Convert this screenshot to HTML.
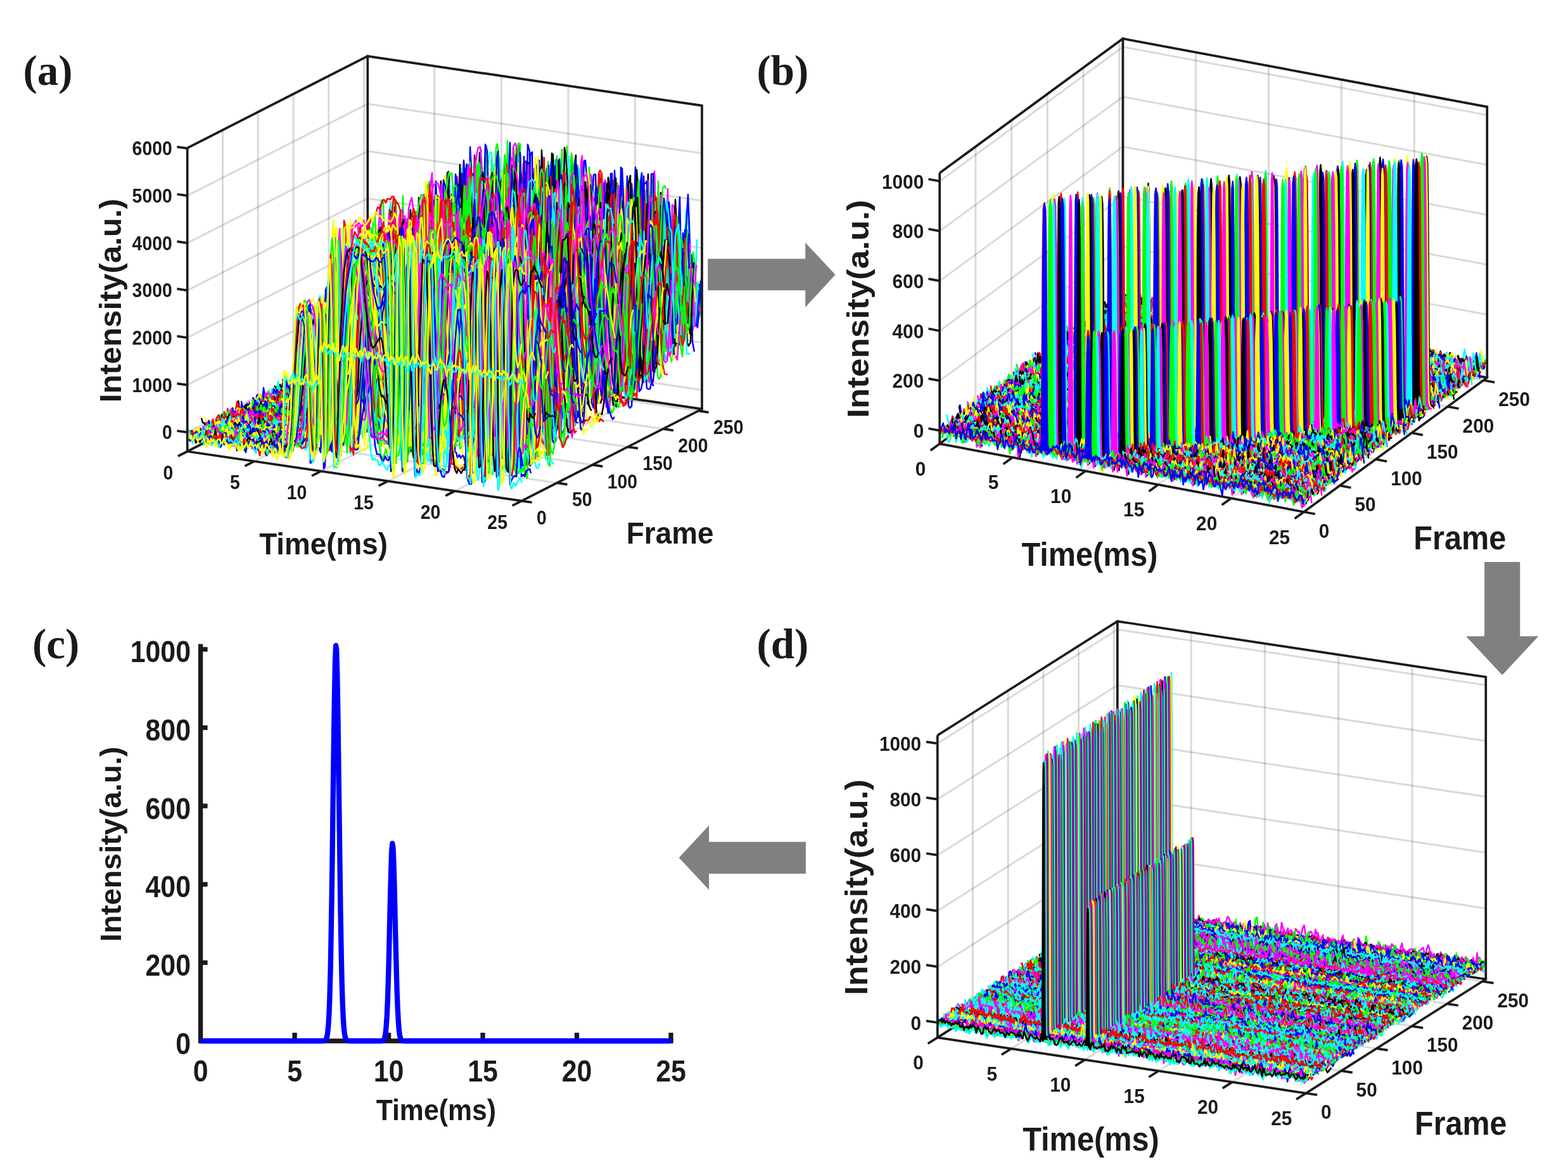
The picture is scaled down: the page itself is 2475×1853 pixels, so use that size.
<!DOCTYPE html>
<html lang="en"><head><meta charset="utf-8"><title>Figure</title>
<style>html,body{margin:0;padding:0;background:#fff}body{width:2475px;height:1853px;overflow:hidden}svg{display:block}
.y{color:#ff0;stroke:#ff0}.m{color:#f0f;stroke:#f0f}.c{color:#0ff;stroke:#0ff}.r{color:#f00;stroke:#f00}.g{color:#0f0;stroke:#0f0}.b{color:#00f;stroke:#00f}.k{color:#000;stroke:#000}
text{white-space:pre}</style></head><body>
<svg width="2475" height="1853" viewBox="0 0 2475 1853">
<rect width="2475" height="1853" fill="#fff"/>
<defs><path id="bn0" d="M0.0 -10.6l1.9 18.9 1.8-14.6 1.9 5.2 1.9 7.1 1.8 1.4 1.9 1.9 1.9-4.1 1.8-6.8 1.9.3 1.9.4 1.8 13.4 1.9 2.9 1.9-17.4 1.8-.7 1.9-5.7 1.9 4.1 1.8 14.3 1.9-9.5 1.9.8 1.8 3.6 1.9 6.7 1.9-2.8 1.8.1 1.9-5.3 1.9 3.2 1.8-6.8 1.9 11.6 1.9-3.4 1.8-1.5 1.9 7.9 1.9 4.1 1.8-11.6 1.9.1 1.9 4.9 1.8-1.9 1.9 5.6 1.9-3.3 1.8 3.8 1.9-2.9 1.9-5.2 1.8 6.6 1.9-4.4 1.9 9.2 1.8-1.1 1.9 5.3 1.9-5.2 1.8-2.5 1.9 1.7 1.9 1.1 1.8-8.6 1.9-2.4 1.9 15.1 1.8-9.4 1.9 13.3 1.9-1.1 1.8-4.2 1.9-2.1 1.9 6.5 1.8.2 1.9-4.7 1.9 3.6 1.8 1.1 1.9-7 1.9-3 1.8 5.5 1.9 1.3 1.9.5 1.8 2.8 1.9 1.3 1.9 3.4 1.8-8.4 1.9 2.1 1.9 1.7 1.8-1.5 1.9-2 1.9-5.1 1.8 8.6 1.9 3.5 1.9-2.9 1.8 5.4 1.9-10.1 1.9-.7 1.8 2.2 1.9 5.2 1.9-3.3 1.8-2.6 1.9 3 1.9 5.5 1.8 9.4 1.9-12.5 1.9 3.9 1.8 5 1.9-8.7 1.9 1 1.8 11 1.9-4.6 1.9-.6 1.8-6.5 1.9 14.9 1.9-4.1 1.8-3.2 1.9-8.8 1.9 12.3 1.8 14.3 1.9-5.8 1.9-11.1 1.8-5 1.9-5.7 1.9 6.6 1.8 9 1.9-7.5 1.9 3 1.8 2.7 1.9-.6 1.9-7 1.8 10.8 1.9 4.1 1.9-4.9 1.8-1 1.9 4.6 1.9 1.8 1.8-6.7 1.9-6.8 1.9 2.5 1.8 1.4 1.9-2.8 1.9 17.8 1.8 2.2 1.9-4.8 1.9 1.9 1.8-.1 1.9-5.9 1.9 6.5 1.8-2.5 1.9 8.2 1.9-3.4 1.8-14.2 1.9 7.7 1.9-1.9 1.8-3 1.9 6.5 1.9-4 1.8.9 1.9-1.8 1.9 7.2 1.8 6.7 1.9-.9 1.9-2.8 1.8-6.5 1.9 3 1.9 2.5 1.8-.6 1.9-7.2 1.8 8 1.9-9 1.9 12.8 1.8.6 1.9-8.7 1.9.2 1.8 8.6 1.9-1.9 1.9 2.6 1.8-7.5 1.9-.1 1.9 7.8 1.8-4.1 1.9 3 1.9-.2 1.8-.8 1.9 3.7 1.9-4.4 1.8-1.2 1.9.5 1.9-3.4 1.8 7.1 1.9 9.1 1.9-3.5 1.8-5 1.9.4 1.9-2.5 1.8-1.7 1.9 5.2 1.9 1.6 1.8 5.3 1.9-9.8 1.9 4.8 1.8 6.8 1.9 1.7 1.9-3.6 1.8-11.7 1.9 2 1.9 15.3 1.8-5 1.9-4 1.9-2.3 1.8 1.5 1.9 6.2 1.9-4.1 1.8 4.3 1.9 11.2 1.9-5.9 1.8-2 1.9-8.9 1.9-2.5 1.8 12 1.9-3.5 1.9-.9 1.8 9 1.9 6 1.9-9.8 1.8-3.7 1.9 4.1 1.9 13.3 1.8-11.8 1.9-.3 1.9 2.9 1.8-2.4 1.9 4.1 1.9-8.1 1.8 1.1 1.9 4.3 1.9-3.5 1.8.9 1.9 9.1 1.9-5.2 1.8.1 1.9 8 1.9-3.9 1.8-7.3 1.9 4.7 1.9-9.6 1.8-4.1 1.9 11.2 1.9-1.6 1.8-9 1.9 11.4 1.9 6.8 1.8-1.5 1.9 5 1.9 1.6 1.8-8.5 1.9 1.7 1.9-2.5 1.8-2 1.9 7.1 1.9-1.1 1.8 0 1.9 2.7 1.9 1.8 1.8-5.9 1.9 1.3 1.9-1.6 1.8-4.1 1.9-.7 1.9 12.3 1.8 1.9 1.9-3.4 1.9-2.6 1.8-4.8 1.9 9.9 1.9.1 1.8-4.2 1.9-6.2 1.9-1.9 1.8 13.6 1.9-.8 1.9 2.6 1.8-8.1 1.9.3 1.9 5.4 1.8 2.9 1.9-4.4 1.9-4.8 1.8 9.3 1.9.3 1.9-2.8 1.8.3 1.9-1.3 1.9 7.4 1.8 0 1.9 8.2 1.9-9.6 1.8-8.4 1.9 16.5 1.9-3.3 1.8-10.3 1.9 4.1 1.9 11.7 1.8-14.4 1.9 10.6 1.9-11.7 1.8 7.4 1.9 3.8 1.9-3.6 1.8-.5 1.9-3 1.9 0 1.8 4.1 1.9-7 1.9 1.7 1.8 3.7 1.9 1.8 1.9 1.8 1.8.6 1.9-3.9 1.9.4 1.8 3.1 1.9-4.6"/>
<path id="bn1" d="M0.0 -2.5l1.9-1.5 1.8 8.8 1.9-1.3 1.9-9.4 1.8 10.1 1.9-6.2 1.9 7.9 1.8-3.7 1.9 5.3 1.9 0 1.8-1.3 1.9.9 1.9-6.5 1.8-.6 1.9.4 1.9 3.3 1.8-5.4 1.9 1.5 1.9 4.2 1.8 7.4 1.9-6 1.9-1.4 1.8 2.9 1.9-1.9 1.9-.6 1.8 5.2 1.9-2.4 1.9.4 1.8.7 1.9 3.4 1.9 1.6 1.8-2.1 1.9-6.3 1.9-5.2 1.8 11.6 1.9 6.5 1.9-2.1 1.8 1.7 1.9-.9 1.9-3.9 1.8 5.4 1.9-5.1 1.9-2.2 1.8-3.1 1.9-1.8 1.9 3.7 1.8-4.5 1.9 11.5 1.9-.1 1.8 0 1.9-.8 1.9-2.6 1.8 5.8 1.9-7.3 1.9 0 1.8 5 1.9.9 1.9 6.7 1.8 8.8 1.9-8.8 1.9-4.2 1.8.3 1.9 6.5 1.9-1.1 1.8-10.4 1.9 2.5 1.9 2 1.8 4.7 1.9-3.3 1.9-3.3 1.8 2.1 1.9 6.2 1.9-1.5 1.8 4.8 1.9-.9 1.9-4.3 1.8 4.4 1.9.2 1.9-7.5 1.8 5.7 1.9-2 1.9 4.1 1.8 5.3 1.9-3.9 1.9.7 1.8 8.2 1.9-1.4 1.9-4.1 1.8-9.1 1.9 7.5 1.9.2 1.8-3.2 1.9 1.1 1.9 3.5 1.8-8.1 1.9-.3 1.9 17.8 1.8-10.7 1.9-1.6 1.9-1.2 1.8 3.9 1.9-2 1.9-5.4 1.8.1 1.9.2 1.9 3.6 1.8 1.8 1.9.4 1.9 9.6 1.8-12.6 1.9 5.7 1.9 2.2 1.8 1.2 1.9-1 1.9 11.6 1.8-7.3 1.9 4.4 1.9.8 1.8 3.9 1.9.7 1.9-10.1 1.8 2.6 1.9-.2 1.9.2 1.8 4.9 1.9-.6 1.9 2.4 1.8-3.3 1.9 7.8 1.9-5.7 1.8-7.5 1.9-2.5 1.9.3 1.8 3.4 1.9 7.8 1.9-6.6 1.8 0 1.9 1.9 1.9 7.3 1.8-5.2 1.9-6.1 1.9 2.3 1.8 5.4 1.9-2 1.9 1.9 1.8.2 1.9-2.9 1.9 1.9 1.8 2.1 1.9-.7 1.9 5.4 1.8 2.5 1.9-6.1 1.8 3.5 1.9-3.6 1.9 9.8 1.8-10.6 1.9 2.8 1.9-6.1 1.8 17 1.9 1.4 1.9-14.4 1.8 2.4 1.9 1.1 1.9 1 1.8.4 1.9-1.4 1.9 6.9 1.8-1.7 1.9-7.2 1.9 3.7 1.8 5.2 1.9-1.9 1.9-4.8 1.8 4.9 1.9 1.7 1.9-2.7 1.8-2 1.9-2.9 1.9 6.9 1.8 0 1.9-3.4 1.9 12.9 1.8-5.6 1.9-3.4 1.9 2.5 1.8 4.4 1.9-5.3 1.9-4.2 1.8 5.6 1.9 3.6 1.9-.4 1.8-7.9 1.9-.3 1.9 6.1 1.8 6.9 1.9 2.3 1.9-3.7 1.8-.7 1.9-2.3 1.9 6 1.8-2.6 1.9-3.8 1.9 9.6 1.8-15.1 1.9 3.6 1.9 2.5 1.8 8.7 1.9 1.2 1.9-9.2 1.8-1.4 1.9 15.5 1.9-12.1 1.8-1.8 1.9 1.3 1.9 8.3 1.8-3.9 1.9 2.7 1.9-3.9 1.8-6.8 1.9 4.3 1.9 0 1.8 6 1.9 5 1.9-3.5 1.8-5.5 1.9-2.7 1.9 6.7 1.8.7 1.9 2.9 1.9 7.1 1.8-6.3 1.9-2.9 1.9 3.5 1.8.1 1.9 7.4 1.9-6.2 1.8-7.7 1.9 5.2 1.9-.9 1.8.3 1.9 6 1.9-2.7 1.8 3.9 1.9-15.3 1.9 8.3 1.8 9.3 1.9 3.8 1.9-12.8 1.8.9 1.9 2.3 1.9 8.6 1.8-1.3 1.9 2.4 1.9-9.4 1.8 5.1 1.9-8.9 1.9 4 1.8 5.7 1.9-6.2 1.9 14 1.8-1.5 1.9-3 1.9-6.8 1.8-1.4 1.9 3.6 1.9 10.8 1.8-2.8 1.9 1.5 1.9-9.6 1.8 5.3 1.9-2.4 1.9-6.5 1.8 7.6 1.9-1 1.9 4.4 1.8-.4 1.9-.1 1.9.5 1.8.1 1.9 2.4 1.9-9.3 1.8 9.1 1.9-.8 1.9 1.8 1.8 9.8 1.9-12 1.9 0 1.8 8.5 1.9-.8 1.9 3.7 1.8-7.3 1.9-7.5 1.9.4 1.8 12.1 1.9 5.2 1.9-9.4 1.8-7.4 1.9 6.4 1.9-2.3 1.8 10.3 1.9-2.7 1.9-3.6 1.8 3.6 1.9.5 1.9-4 1.8 5.2 1.9 3.6"/>
<path id="bn2" d="M0.0 -2.2l1.9 8.4 1.8-6.9 1.9 4.5 1.9-5.8 1.8 2.6 1.9 3.2 1.9 4 1.8-5.2 1.9.3 1.9-11.8 1.8 9.8 1.9 12 1.9-19.8 1.8 21.5 1.9-16.9 1.9 10.7 1.8-10.2 1.9 6.9 1.9-1.8 1.8 2.5 1.9 2.1 1.9-3.6 1.8 6.9 1.9-5 1.9 8.7 1.8.6 1.9-1.7 1.9-2.7 1.8-8.8 1.9 11.5 1.9 3.9 1.8 2.1 1.9-3.9 1.9-7.1 1.8 7.3 1.9-.5 1.9 1.6 1.8-3.6 1.9 12.9 1.9-13.2 1.8-6 1.9 11.3 1.9-1.8 1.8 4.5 1.9-10.7 1.9-.3 1.8-13.8 1.9 16.8 1.9 9.8 1.8-1.2 1.9 4.8 1.9-7.9 1.8-2.7 1.9-3.8 1.9 2.7 1.8 6.5 1.9-9.5 1.9 2.3 1.8-.2 1.9 13 1.9 1.4 1.8-1.5 1.9-1.6 1.9 11.6 1.8-18.7 1.9 4 1.9-4.3 1.8-.9 1.9-4.2 1.9 5.1 1.8 3.1 1.9 8 1.9-3.5 1.8-11.7 1.9 20.6 1.9-.9 1.8-7.7 1.9-10 1.9 15.8 1.8.5 1.9-4.6 1.9-19.9 1.8 21.4 1.9 2.1 1.9-6.6 1.8 8.2 1.9-4.4 1.9-1.6 1.8 5.3 1.9-3 1.9-9.7 1.8 8.5 1.9 6.5 1.9 3.3 1.8-5.5 1.9-6.5 1.9 4.8 1.8.8 1.9-15.2 1.9 18.7 1.8 8 1.9-7.9 1.9 1.3 1.8-4 1.9-5.3 1.9 5 1.8 5.4 1.9-3.4 1.9-.6 1.8 4.2 1.9 4.4 1.9-6.9 1.8 3.9 1.9 7.9 1.9-9.9 1.8 5.2 1.9 2.4 1.9-7.4 1.8 7.8 1.9-1.3 1.9 4.6 1.8 5.2 1.9-10.5 1.9-10.8 1.8 14 1.9-8.9 1.9-2.3 1.8-2.4 1.9 16.4 1.9 1.8 1.8-15.2 1.9 7.6 1.9 2.8 1.8-4.4 1.9-.2 1.9 8.1 1.8 0 1.9-5.7 1.9 1.3 1.8 7.5 1.9-11.1 1.9-.2 1.8 8.7 1.9 3.7 1.9-8.8 1.8 19.6 1.9-10.6 1.9.8 1.8 2 1.9-9.7 1.9 1.6 1.8-16.6 1.9 17.1 1.8 1.9 1.9 10.8 1.9-12.4 1.8 6.8 1.9-2.3 1.9-8 1.8-.7 1.9 5.1 1.9-3.7 1.8 10.2 1.9 6.4 1.9 4.9 1.8-12.2 1.9-12.1 1.9 12.9 1.8 1.9 1.9 1.9 1.9-4.3 1.8 14.1 1.9-13.3 1.9-5.5 1.8 11.4 1.9 5.4 1.9 0 1.8-9.1 1.9-7.8 1.9 14.7 1.8 7.9 1.9-9.4 1.9-3.4 1.8-2.8 1.9 8.8 1.9-6.7 1.8-4.3 1.9 17.5 1.9-3.8 1.8-7.8 1.9-2.1 1.9 8.7 1.8 11.5 1.9-4.9 1.9 2.7 1.8-4.5 1.9-11.1 1.9 8.6 1.8-1.6 1.9 7.6 1.9-11.4 1.8 7 1.9 5.6 1.9-17.9 1.8 5.6 1.9.6 1.9 17.1 1.8-17.5 1.9-7.1 1.9 12 1.8 4.4 1.9 2.4 1.9-9.9 1.8 14.8 1.9-7.6 1.9-13.6 1.8 9.7 1.9-8.5 1.9 10 1.8 5.6 1.9-7 1.9 4.8 1.8.8 1.9 3.4 1.9 6.4 1.8-4.2 1.9-7.7 1.9-3.8 1.8 7.3 1.9-.3 1.9 7.8 1.8-2.5 1.9-1.1 1.9.2 1.8-.9 1.9-1.9 1.9-5.8 1.8 1.9 1.9 2.7 1.9 12 1.8.5 1.9-5.8 1.9-1.4 1.8-3.9 1.9 15.5 1.9-8.2 1.8-2.4 1.9 3.4 1.9 4.1 1.8-5.6 1.9 1.2 1.9-3.1 1.8 15.4 1.9-2.8 1.9-17.2 1.8 4.9 1.9 8.9 1.9-1 1.8 5.9 1.9-15.6 1.9-4.2 1.8 3.9 1.9-.8 1.9 4.6 1.8-4 1.9 3.4 1.9-3.6 1.8 8.3 1.9 3.1 1.9 3.5 1.8.5 1.9 7.4 1.9-16.7 1.8-4.8 1.9 4.6 1.9-.3 1.8 4.9 1.9-.1 1.9 11.8 1.8-5 1.9 9.5 1.9-4.1 1.8-4 1.9-.1 1.9 5.2 1.8-13.6 1.9-1.5 1.9 10.6 1.8 7.3 1.9-3.3 1.9-10 1.8 16.4 1.9-12.5 1.9 2 1.8 3.6 1.9-8.4 1.9 4.5 1.8 4.4 1.9-9.3 1.9 16 1.8-15.7 1.9 11 1.9 4.2 1.8-15.3 1.9-14.7 1.9 11 1.8 17.1 1.9 12.3"/>
<path id="bn3" d="M0.0 -0.7l1.9 3.6 1.8-1.4 1.9 2.8 1.9-7.3 1.8 3.4 1.9 2.3 1.9 11.5 1.8-10.4 1.9 6.4 1.9-9.4 1.8 1.6 1.9 12.4 1.9-6.2 1.8 2.7 1.9-8.1 1.9-1.5 1.8-2.8 1.9 9.6 1.9-4.1 1.8 8.9 1.9-6.4 1.9 1 1.8-1.4 1.9 1.1 1.9-5 1.8 6.4 1.9 1.4 1.9-8.6 1.8 6.2 1.9 5 1.9 3 1.8-4.2 1.9-.6 1.9-3.4 1.8 4 1.9-3.3 1.9 4.4 1.8-8.6 1.9 6.9 1.9-1.4 1.8.9 1.9 10.2 1.9-10.3 1.8 5.1 1.9-5 1.9 14.6 1.8 3.6 1.9 1 1.9-.6 1.8-7.6 1.9-3.6 1.9 5.1 1.8-1.8 1.9 1.3 1.9-7 1.8-1.5 1.9 2.7 1.9-1 1.8-6 1.9 4.7 1.9 13.9 1.8-3.9 1.9-1 1.9-5.7 1.8.7 1.9-1.3 1.9 13.1 1.8-12.6 1.9 4.9 1.9-3.7 1.8 1.5 1.9 8.5 1.9 1.9 1.8-7.5 1.9-4.6 1.9 10.9 1.8 4.5 1.9 5.8 1.9-4.6 1.8-2.2 1.9-2.4 1.9-5.2 1.8 5.2 1.9 5.3 1.9-2.8 1.8-2.4 1.9-1.3 1.9.2 1.8 2.1 1.9-3.3 1.9 4 1.8 5.7 1.9-3.4 1.9-12.1 1.8 12.4 1.9-14 1.9 12.1 1.8-2.3 1.9 11.5 1.9-4.8 1.8-10.2 1.9 12.6 1.9 1.5 1.8-6 1.9-1.3 1.9 10.4 1.8 1.7 1.9-8.5 1.9-1.8 1.8-2.1 1.9 4.7 1.9-2.8 1.8-3.9 1.9 12.9 1.9-8.6 1.8-1.3 1.9-2.2 1.9 8.8 1.8.7 1.9-.8 1.9 3.3 1.8-7.1 1.9 2.6 1.9 8.1 1.8-4.8 1.9 5.9 1.9 4.9 1.8-1.9 1.9-6.2 1.9-1.6 1.8 1.5 1.9-2.9 1.9-8.1 1.8 15.1 1.9-4 1.9-.9 1.8 8.6 1.9-1.4 1.9-4.5 1.8.3 1.9 5.3 1.9-7.2 1.8 1.1 1.9-1.1 1.9-5.4 1.8 14.6 1.9-8 1.9 0 1.8 8.4 1.9-2.2 1.9 1.2 1.8 4.9 1.9-9.4 1.8 6.3 1.9 9.4 1.9-13.5 1.8 3.6 1.9-2.6 1.9.1 1.8 3.4 1.9 1.4 1.9 12.2 1.8-8.3 1.9 1.4 1.9-7.6 1.8 5.2 1.9 1.4 1.9-3.9 1.8 6.1 1.9-.4 1.9-1.4 1.8-4.8 1.9 9.2 1.9-9.2 1.8 2.3 1.9 3.5 1.9-3.7 1.8-4.5 1.9-1.3 1.9 12.1 1.8-9.6 1.9 4.2 1.9-4.8 1.8 11.5 1.9-1.3 1.9-1.2 1.8 6.6 1.9-2.5 1.9-8.1 1.8-2.7 1.9 2.6 1.9 3 1.8 4.8 1.9-12.3 1.9 15.5 1.8 4.2 1.9-2.2 1.9-5.4 1.8 2.5 1.9-5.4 1.9 11.4 1.8-9.5 1.9-8 1.9 3.9 1.8 7.9 1.9 3.6 1.9-8.4 1.8 13.2 1.9-.8 1.9 4 1.8-6.8 1.9-12.5 1.9 10 1.8-4.8 1.9 10 1.9.4 1.8-.2 1.9-8.5 1.9 8.7 1.8 1.8 1.9-3.6 1.9-8.9 1.8 6.3 1.9-7 1.9 5.6 1.8 5.7 1.9-6.4 1.9 7.9 1.8 4.5 1.9-4.8 1.9 7.9 1.8.7 1.9-2.2 1.9-4.7 1.8-6.3 1.9-1.6 1.9 7.5 1.8-.1 1.9 2.7 1.9 7.1 1.8-8.1 1.9 4.1 1.9-6.2 1.8 5.4 1.9 4.6 1.9-6.3 1.8 3.3 1.9 5.7 1.9-11.3 1.8 1 1.9 1.4 1.9 1.6 1.8 4.1 1.9 13.4 1.9-8.7 1.8-3.4 1.9-4.5 1.9 8.6 1.8-7 1.9.3 1.9-6.8 1.8 10.3 1.9-.7 1.9-1.9 1.8-1.9 1.9-3.9 1.9 3.8 1.8 11.7 1.9-13.7 1.9 15.9 1.8-8.9 1.9-6.9 1.9 10.2 1.8-.4 1.9-.3 1.9 6 1.8-6.3 1.9 5.6 1.9-4.9 1.8-2.9 1.9-2.7 1.9-1.7 1.8 5 1.9 1.3 1.9 4.1 1.8.4 1.9-5 1.9-.3 1.8 2.1 1.9 3.4 1.9-4.7 1.8 10.7 1.9 0 1.9-4.5 1.8-5.6 1.9 12 1.9 2.6 1.8.9 1.9-10 1.9-2.7 1.8-3.7 1.9-4.7 1.9 18.3 1.8-.5 1.9 1 1.9 3.7 1.8-5 1.9 2"/>
<path id="bn4" d="M0.0 2.2l1.9 5.9 1.8-8.6 1.9-2.1 1.9 5.5 1.8 10.4 1.9 3.3 1.9-4.2 1.8-9.7 1.9-3.4 1.9 3 1.8 1.1 1.9 13.6 1.9-11 1.8 2 1.9-.4 1.9 3.3 1.8 6.5 1.9-12.4 1.9-1.2 1.8 8.2 1.9 4.6 1.9-3.7 1.8-8.4 1.9.1 1.9 3.3 1.8-3.4 1.9 2.2 1.9 7.6 1.8-6.1 1.9 1.9 1.9 5.1 1.8-8.6 1.9 1.4 1.9 10.8 1.8-8.5 1.9.4 1.9 3.9 1.8 1.6 1.9 3.3 1.9 3.3 1.8-7.9 1.9-2.9 1.9 4.2 1.8-1.6 1.9 2.8 1.9 1.1 1.8-4.1 1.9-.6 1.9-4.4 1.8 8.7 1.9-1.4 1.9 2 1.8-1 1.9-5.4 1.9 3.4 1.8 7.4 1.9.2 1.9.6 1.8-1.1 1.9 2 1.9 0 1.8-1.6 1.9-2.5 1.9 5.6 1.8-2.8 1.9-.6 1.9-3.7 1.8 2.3 1.9-.2 1.9 1.2 1.8-3.7 1.9 5.7 1.9 8.8 1.8-7.2 1.9 4.7 1.9 8.3 1.8-11.6 1.9-.5 1.9-.1 1.8-1.3 1.9 3.2 1.9-5.1 1.8 3.9 1.9 3.4 1.9-.8 1.8 10.2 1.9-9.7 1.9 7 1.8-6.5 1.9.7 1.9 0 1.8 4.5 1.9-10.9 1.9 15.7 1.8-4.5 1.9 1.8 1.9 4.7 1.8-13.8 1.9 2.8 1.9-9.3 1.8 5.8 1.9 3.8 1.9.3 1.8 9.5 1.9 2.8 1.9-13.3 1.8 0 1.9 8.8 1.9-1.9 1.8-1 1.9-5 1.9 3.4 1.8 6.5 1.9-5.8 1.9 5.1 1.8-3.5 1.9 4.7 1.9 14.5 1.8-20.1 1.9 7.1 1.9-6.1 1.8-.2 1.9 6.5 1.9 5 1.8-14.2 1.9 4.9 1.9-2.8 1.8 3.7 1.9-1.5 1.9 3.1 1.8 8.8 1.9-.3 1.9-6.1 1.8 6.8 1.9-2 1.9-1.9 1.8-5.9 1.9-3.7 1.9 18 1.8-7.4 1.9-9.6 1.9 14.3 1.8 2.9 1.9-11.2 1.9 2.5 1.8 5.2 1.9-2.5 1.9-3.2 1.8 2.8 1.9-.3 1.9.8 1.8-.4 1.9 1 1.8-.5 1.9 2.9 1.9-5.2 1.8 5.7 1.9 3.1 1.9 5.2 1.8-1.9 1.9-5 1.9.9 1.8-3.1 1.9 8.1 1.9-.1 1.8 6.4 1.9-6.5 1.9-7.8 1.8 1.2 1.9 5.3 1.9-2.9 1.8.3 1.9 6.4 1.9 2.4 1.8.1 1.9-6.6 1.9-2 1.8 1.1 1.9 3.9 1.9-9.5 1.8 8 1.9-.5 1.9 1 1.8-3.5 1.9 12.8 1.9-7.2 1.8 1.1 1.9.8 1.9 4.9 1.8 0 1.9-9.7 1.9-.3 1.8 12.2 1.9-5.1 1.9 1.9 1.8-6.5 1.9 1.5 1.9-.4 1.8 4 1.9.8 1.9 3.7 1.8 5.4 1.9-3.2 1.9-9.7 1.8-2.4 1.9 11.2 1.9 3 1.8-.2 1.9.4 1.9 2.4 1.8-1.6 1.9-6.8 1.9-1.7 1.8-4.5 1.9 8.4 1.9 12.5 1.8-5 1.9.9 1.9-2.6 1.8 1.4 1.9-7.6 1.9 7.2 1.8-1.6 1.9-9.6 1.9 7.1 1.8 10.8 1.9-10.3 1.9-.7 1.8.5 1.9-.4 1.9 8.3 1.8 2.6 1.9-5.3 1.9 8.1 1.8-1.6 1.9-10.6 1.9 9.9 1.8-4.7 1.9-5.1 1.9 5 1.8 3.6 1.9-7.8 1.9 11.4 1.8-11.3 1.9 9.2 1.9-1.1 1.8 4.8 1.9 1.7 1.9-9.9 1.8 2.3 1.9-.7 1.9 8.8 1.8-2.1 1.9 3.6 1.9-4.6 1.8-3.5 1.9-.5 1.9.2 1.8 6.1 1.9-4.2 1.9 3.8 1.8-7.3 1.9 5.7 1.9-4.5 1.8 6.3 1.9-2.8 1.9 1.3 1.8 9.2 1.9-8.1 1.9 5.6 1.8 6.6 1.9-8.1 1.9-6.9 1.8 1 1.9 8.7 1.9 6.6 1.8 6.2 1.9-8.5 1.9-2.8 1.8-1.6 1.9-7 1.9 5.7 1.8 6.6 1.9 1.6 1.9-.4 1.8-1.3 1.9-4.9 1.9 2.3 1.8-.1 1.9-.8 1.9-.4 1.8-2 1.9-2.8 1.9 10.5 1.8-.5 1.9-1.4 1.9.3 1.8-4.4 1.9-.4 1.9 7.2 1.8-9.4 1.9 3.2 1.9.9 1.8 6.5 1.9-4.9 1.9 4.1 1.8 4.9 1.9-4.2"/>
<path id="bn5" d="M0.0 4.6l1.9-4.9 1.8-2.1 1.9 5.1 1.9-4 1.8-1.7 1.9.2 1.9 3.1 1.8 3.2 1.9-5.3 1.9 5.2 1.8-.9 1.9-2.5 1.9-2.2 1.8 4.6 1.9 1.6 1.9-.5 1.8 1.1 1.9-2.4 1.9-.2 1.8-1.9 1.9 5.8 1.9-.9 1.8 4.6 1.9.5 1.9-6 1.8 4.5 1.9 7.2 1.9-2.8 1.8-.9 1.9 4.7 1.9-5.3 1.8-3.5 1.9 4.3 1.9-3.5 1.8 9.3 1.9-6.5 1.9.5 1.8-6.6 1.9 6 1.9 2.3 1.8.4 1.9 1.4 1.9.8 1.8-3.2 1.9.8 1.9.6 1.8.4 1.9 3.6 1.9-7.5 1.8 7.9 1.9-3.7 1.9 2.4 1.8-2.8 1.9 3.6 1.9-3 1.8 1.2 1.9-1.4 1.9-2.9 1.8 5.6 1.9 2 1.9 8.9 1.8-5.6 1.9-4.6 1.9 3.4 1.8.3 1.9.8 1.9 6.4 1.8-7.4 1.9 3.3 1.9 3.7 1.8-6.9 1.9.4 1.9.3 1.8 1.6 1.9 3.3 1.9-4.1 1.8 4.9 1.9-1.9 1.9 3.5 1.8 1.8 1.9-5.9 1.9 4 1.8-6.2 1.9 8 1.9-5.1 1.8 2.9 1.9-2.1 1.9-.3 1.8 8.8 1.9-5.7 1.9 1.4 1.8 3.2 1.9-5.7 1.9 1 1.8.7 1.9-2.9 1.9.8 1.8 3.7 1.9 4.1 1.9-6.5 1.8 5.5 1.9 5.3 1.9-10.5 1.8-3.2 1.9 12.5 1.9-3.2 1.8 4.6 1.9-4.9 1.9 2.2 1.8 4.4 1.9-6.7 1.9 4.5 1.8-2.4 1.9 2.9 1.9-6.7 1.8.5 1.9 5.9 1.9 7.3 1.8-6.6 1.9 2.6 1.9-5.6 1.8-2.7 1.9 5.2 1.9-1.3 1.8 7 1.9-4.1 1.9-4.8 1.8 9.5 1.9-4.1 1.9.2 1.8-1.3 1.9 2.6 1.9 1.4 1.8-3.7 1.9 3.2 1.9-.2 1.8 6.1 1.9-3.9 1.9-2.1 1.8 2.8 1.9.8 1.9 6.7 1.8-1.2 1.9-3 1.9-.1 1.8-7.9 1.9 2.9 1.9 8.1 1.8-9.5 1.9 9.6 1.9 2.6 1.8-.8 1.9-2.6 1.8-9.1 1.9 7.6 1.9.1 1.8 6.3 1.9-1.3 1.9-10.6 1.8 2.1 1.9 2.6 1.9-1.3 1.8 3 1.9 1.2 1.9 5.8 1.8 3.1 1.9-2.1 1.9-1.4 1.8 1.6 1.9-4.3 1.9-4.7 1.8 5.6 1.9 7.1 1.9.6 1.8-7.6 1.9-.8 1.9 2.5 1.8-.6 1.9-1.6 1.9 3.6 1.8.4 1.9 2.3 1.9 6.4 1.8-5.3 1.9-.9 1.9-1 1.8 3.2 1.9-2.1 1.9-.4 1.8 3.1 1.9 3 1.9-.2 1.8-3.4 1.9-2.3 1.9-3.3 1.8 6 1.9 0 1.9-2.6 1.8 7.3 1.9-3.3 1.9 2.6 1.8 1 1.9-3.6 1.9 2.8 1.8-.7 1.9 4.7 1.9-1.9 1.8 2.2 1.9-.9 1.9-10.9 1.8 7.3 1.9 3.6 1.9 1.1 1.8 1.8 1.9-8.1 1.9 6.7 1.8-8.1 1.9 6.6 1.9-2.4 1.8 2.9 1.9 4 1.9-.6 1.8-5.2 1.9 4.2 1.9 7.7 1.8-11.3 1.9 6 1.9 1.3 1.8-6.2 1.9 9.7 1.9-1 1.8-4.6 1.9-.7 1.9.6 1.8 5.7 1.9-4.9 1.9 3.5 1.8-.6 1.9 3.6 1.9-7.9 1.8 5.3 1.9 1.2 1.9 1.7 1.8-2.5 1.9 5.6 1.9-2.5 1.8-.3 1.9-6 1.9 5.6 1.8 1.5 1.9-.9 1.9-3.1 1.8-3.9 1.9 5 1.9 1.5 1.8-3.7 1.9 4.9 1.9.4 1.8 3.6 1.9-.3 1.9 2.1 1.8-9.5 1.9 2.7 1.9 1.9 1.8 6.4 1.9-2.1 1.9 2.2 1.8 1.1 1.9 2.7 1.9-1.6 1.8-11.8 1.9 8.9 1.9-1.4 1.8-1.7 1.9 1.8 1.9-.3 1.8 6.3 1.9-7.1 1.9-3.8 1.8 7.1 1.9 4.8 1.9 1.5 1.8 2.2 1.9-6 1.9-2.2 1.8-2.9 1.9 10.2 1.9-4.6 1.8-1 1.9 3.9 1.9 3.3 1.8-3.2 1.9-7.5 1.9 11 1.8 1.1 1.9-.5 1.9-1.1 1.8-4.3 1.9 4.8 1.9 8.1 1.8-1.6 1.9-.5 1.9-5.1 1.8-.6 1.9 5 1.9-5.1 1.8 7.7 1.9-3.1"/>
<path id="bn6" d="M0.0 15.2l1.9-17 1.8-7.4 1.9 11.4 1.9-1.6 1.8 12.2 1.9-10.9 1.9 9 1.8-1.7 1.9-8.7 1.9 4.8 1.8 7.7 1.9-6.6 1.9.1 1.8 5.1 1.9 10.8 1.9-11.5 1.8-11.8 1.9 10.2 1.9 2.8 1.8-.3 1.9-6.9 1.9 13.9 1.8-13.9 1.9-14.5 1.9 10.3 1.8 6.8 1.9-1.8 1.9-.8 1.8 6.8 1.9.3 1.9.6 1.8-5.4 1.9-11.9 1.9 11.6 1.8-11.3 1.9 19.6 1.9-6.7 1.8 8.7 1.9-3.4 1.9.4 1.8 15.1 1.9-9.2 1.9-8 1.8-.2 1.9 14.7 1.9 3.6 1.8-16.1 1.9 9.3 1.9-20.8 1.8 8.1 1.9 3.6 1.9 4.3 1.8 6.2 1.9-6.8 1.9 2.2 1.8-12.5 1.9 7.6 1.9 2.4 1.8-6.4 1.9-.6 1.9 24.5 1.8-25.5 1.9 20.2 1.9 3.3 1.8-6.4 1.9 2.9 1.9-19.5 1.8 9.3 1.9 13.2 1.9-3.3 1.8 2.2 1.9.2 1.9-8.4 1.8-3 1.9 5.6 1.9 11 1.8-2.8 1.9-13.4 1.9.4 1.8 7.8 1.9-6.5 1.9 19.1 1.8-3.7 1.9-7.8 1.9-3.3 1.8-6.2 1.9 6.6 1.9.6 1.8 1.1 1.9 10.3 1.9-4.2 1.8-14.3 1.9 2.8 1.9 10 1.8-.2 1.9-14 1.9-1.9 1.8-1.7 1.9 4.4 1.9 12.9 1.8 3.6 1.9 11.7 1.9-19.9 1.8-5 1.9-7.5 1.9 22.2 1.8-13.6 1.9 4.7 1.9 6 1.8.1 1.9 11.3 1.9-5.4 1.8 5.5 1.9-1.9 1.9-6.2 1.8 4.4 1.9-7.7 1.9 9.2 1.8 1.9 1.9.3 1.9-5.8 1.8-1.7 1.9-5.7 1.9 9.3 1.8 5.8 1.9-6.6 1.9-13.6 1.8 4.6 1.9 24.1 1.9-10 1.8.4 1.9-.3 1.9-8.2 1.8 4.5 1.9 3.1 1.9 12.6 1.8-8.6 1.9 2.5 1.9-6.3 1.8-8.2 1.9 14.2 1.9-.9 1.8-7.6 1.9 16.5 1.9-2.5 1.8 4.4 1.9-4.7 1.9-5.5 1.8 1.3 1.9-13.2 1.9 1.9 1.8 6.4 1.9-5.9 1.8-7.9 1.9 17 1.9 3.3 1.8-4.2 1.9-6.4 1.9 23.4 1.8-9.1 1.9-25.4 1.9 15.9 1.8-9.5 1.9-7.8 1.9 12.8 1.8-8.6 1.9 15.3 1.9 19.2 1.8-6.2 1.9-17.8 1.9-13.3 1.8 14.6 1.9 22.3 1.9-8.3 1.8 13.2 1.9-12.4 1.9-16.1 1.8 17.6 1.9 5.2 1.9-3 1.8-1.5 1.9-7.4 1.9.4 1.8-2.4 1.9 13.6 1.9-13.8 1.8.3 1.9 13.8 1.9.6 1.8.6 1.9 9.3 1.9-27 1.8 3.5 1.9 7.5 1.9-7.3 1.8 8.8 1.9 2.9 1.9-11.4 1.8 16.2 1.9 3.9 1.9 6.6 1.8-6 1.9-15.6 1.9 9.5 1.8-13.1 1.9 12.8 1.9-1.5 1.8 9.4 1.9-11.6 1.9-13.8 1.8 16.5 1.9 15.6 1.9-9.2 1.8-9.2 1.9 11.2 1.9-18.9 1.8 20.9 1.9-8.2 1.9-10.4 1.8 7.8 1.9-5.3 1.9 4.8 1.8 9.3 1.9 2.6 1.9-18.2 1.8 25 1.9-8.7 1.9 4.8 1.8-.4 1.9-10.8 1.9 11.7 1.8 9.5 1.9-20.7 1.9-5.8 1.8 10.3 1.9 10.5 1.9 3.1 1.8-10.2 1.9-3.2 1.9-.3 1.8-1.1 1.9 5.5 1.9-3.3 1.8 4.3 1.9-1.6 1.9 4.4 1.8-2.6 1.9 9.3 1.9-3 1.8 6.5 1.9-11.7 1.9 6.3 1.8 3.5 1.9.2 1.9 2 1.8 1.7 1.9-11.9 1.9-2.2 1.8-2.7 1.9 11.8 1.9-3.6 1.8 16.6 1.9-18.3 1.9 10.1 1.8-14.3 1.9.3 1.9-9.9 1.8 10.4 1.9 12.9 1.9-20.2 1.8 1.6 1.9 3.3 1.9-4.5 1.8 13.7 1.9 22.6 1.9-12.2 1.8-1 1.9-8.7 1.9 6.2 1.8-5.4 1.9 9.9 1.9-12.8 1.8.4 1.9 12.2 1.9-13.9 1.8-5.2 1.9 7.5 1.9 11.9 1.8-4.8 1.9.4 1.9 5.3 1.8-1.5 1.9.3 1.9 10.7 1.8-8.1 1.9 5.9 1.9-6 1.8-.3 1.9-7.8 1.9 9.1 1.8-2.1 1.9 12.1 1.9-17.7 1.8-13.1 1.9 16.8 1.9-.2 1.8-2.4 1.9 7"/>
<path id="bn7" d="M0.0 4.1l1.9-2.7 1.8-.7 1.9 4.1 1.9 7 1.8-15.4 1.9 2.4 1.9 8.2 1.8 4.7 1.9-6.1 1.9 4.6 1.8-8.9 1.9 1.1 1.9-1.4 1.8-4.9 1.9 5.3 1.9-1.1 1.8-4.4 1.9 4.1 1.9 21.3 1.8-19.3 1.9.8 1.9-.3 1.8-7.3 1.9 11.2 1.9-1.4 1.8 17.6 1.9-20.8 1.9 5.1 1.8 4.5 1.9.8 1.9-5.7 1.8 16.2 1.9-21.8 1.9 6.2 1.8 5 1.9-9.9 1.9 1.3 1.8 3.9 1.9 11.2 1.9-11.5 1.8 2.8 1.9 9.6 1.9-2.3 1.8-4.1 1.9 6.8 1.9-9.2 1.8 7.6 1.9-7.4 1.9 2 1.8.1 1.9 10.5 1.9-4.8 1.8-5.3 1.9 1.4 1.9 5.9 1.8-3.5 1.9 4 1.9-.5 1.8-9.1 1.9-5.2 1.9-1.2 1.8 8.6 1.9 10.6 1.9.3 1.8-10 1.9 4.9 1.9-8 1.8 11.2 1.9-5.1 1.9 13.8 1.8-2.8 1.9-7.3 1.9-.3 1.8 2.3 1.9 9.9 1.9-6.1 1.8 1.1 1.9 3.6 1.9-5.3 1.8 6.3 1.9.9 1.9-20 1.8 8.3 1.9-2.7 1.9 11.2 1.8 3.1 1.9 6.4 1.9 1.9 1.8 0 1.9-12.1 1.9 7.3 1.8 2.4 1.9-1.6 1.9-9.5 1.8 5.9 1.9-4.7 1.9 10.2 1.8-8.3 1.9 1.9 1.9-3 1.8 11.6 1.9-3.6 1.9-2.3 1.8 4.9 1.9-7.4 1.9 1.7 1.8-2 1.9 7.4 1.9-3.3 1.8 10.3 1.9-11.5 1.9 11 1.8-.8 1.9-6.2 1.9-4.2 1.8 2.5 1.9 16.2 1.9-1.1 1.8-4 1.9-5.4 1.9 7.9 1.8-1 1.9-9.1 1.9.2 1.8-2 1.9.6 1.9 13.5 1.8.6 1.9-8 1.9-3.5 1.8 6.4 1.9-8.7 1.9 9.3 1.8 2.1 1.9-3.7 1.9-2.4 1.8 6 1.9-1.8 1.9 5.7 1.8.2 1.9-16 1.9 15.2 1.8-13.7 1.9 10.5 1.9-8.9 1.8 9.2 1.9 7.5 1.9-5.4 1.8-1.9 1.9-1.6 1.9 8.7 1.8 5.9 1.9-7.7 1.8-.1 1.9 3 1.9-4 1.8-11.1 1.9-1.4 1.9 6.9 1.8-5.3 1.9-5.9 1.9 2.6 1.8 23.7 1.9-.9 1.9-8.9 1.8-6.2 1.9 14.8 1.9-20.2 1.8 14.5 1.9 7.7 1.9 8.8 1.8-19 1.9-5.7 1.9.8 1.8 5.3 1.9.7 1.9 1.8 1.8-11.3 1.9 5 1.9-.1 1.8 19.1 1.9 5.1 1.9-19.6 1.8-.8 1.9 2 1.9 4.8 1.8-1.3 1.9 5 1.9-6.1 1.8 14.9 1.9-8.1 1.9 2.4 1.8 3.3 1.9-3.8 1.9-.9 1.8-.3 1.9-12.5 1.9 17.8 1.8 3.6 1.9-7.1 1.9-1.2 1.8-2.4 1.9-4.2 1.9 3.5 1.8 10.1 1.9-20.3 1.9 9.8 1.8 5.3 1.9.4 1.9 6.9 1.8 1.3 1.9-5.3 1.9-2.8 1.8-2 1.9 11.1 1.9-9.3 1.8 10 1.9-11.8 1.9-14.3 1.8 25.2 1.9-5.5 1.9-6.7 1.8 10.3 1.9-10.8 1.9 18.2 1.8-.7 1.9-9.9 1.9-8.8 1.8 13.4 1.9 10.8 1.9-12.2 1.8-11.4 1.9 6.5 1.9 11.6 1.8 7.5 1.9-28.8 1.9 11.3 1.8 18.8 1.9 4.7 1.9-21.7 1.8-5.7 1.9 10.5 1.9 5.6 1.8-7.9 1.9-2.6 1.9 4.6 1.8 12.6 1.9-8.4 1.9-18.3 1.8 22.3 1.9 4.5 1.9.1 1.8.5 1.9-17 1.9 2 1.8 14.8 1.9 4.6 1.9-7.3 1.8 3.1 1.9-6.4 1.9-.6 1.8 13.6 1.9-21.9 1.9 14 1.8-11.3 1.9 5.7 1.9 6.1 1.8 14.8 1.9-7.2 1.9-15.4 1.8-.9 1.9 13.6 1.9 16.4 1.8-17.7 1.9 6.5 1.9-4.7 1.8 4.8 1.9-15.5 1.9 9.7 1.8-1.5 1.9 1.3 1.9 4.4 1.8-9.1 1.9.6 1.9 1.3 1.8 5.7 1.9-4.8 1.9 10.5 1.8-6.9 1.9 1.6 1.9 21.8 1.8-6.5 1.9-9.8 1.9-20.2 1.8 1.9 1.9 15.7 1.9-9.1 1.8 12.7 1.9-11.5 1.9 7.8 1.8 7.1 1.9 6.5 1.9-8.8 1.8-10.8 1.9 5.8 1.9-22.9 1.8 23.5 1.9-5.8"/>
<path id="bn8" d="M0.0 -1.1l1.9 2.9 1.8 4.4 1.9-9.1 1.9-2.8 1.8 7.7 1.9 5.9 1.9 5.5 1.8-7.3 1.9 10.1 1.9-3.7 1.8-21.3 1.9 16.5 1.9 2.4 1.8-10.4 1.9.9 1.9 6.5 1.8-3.5 1.9 3.2 1.9.1 1.8 6.7 1.9-8.2 1.9.2 1.8 1.9 1.9-1.7 1.9 1.9 1.8 4.4 1.9-2.1 1.9 4.2 1.8 14.4 1.9-7.3 1.9-5.6 1.8-3.5 1.9-2.6 1.9-7.3 1.8-2.6 1.9-.5 1.9 13.2 1.8-5.7 1.9 21.4 1.9-1.3 1.8-21.6 1.9 8.2 1.9 3.4 1.8-3.5 1.9-1.4 1.9 5.8 1.8 0 1.9 9.9 1.9-9.9 1.8-6.7 1.9-.8 1.9 5.5 1.8 6.9 1.9.2 1.9 3.2 1.8 5.6 1.9-12 1.9 5.1 1.8-18.1 1.9 8.8 1.9-4.1 1.8 19.2 1.9-4.3 1.9-9.4 1.8-1.1 1.9 3.5 1.9 0 1.8 9.4 1.9 3.3 1.9-2.1 1.8 6.4 1.9-15.3 1.9 11 1.8 3.5 1.9-5.5 1.9-14.4 1.8 6.9 1.9 1 1.9 2.8 1.8-9.4 1.9 4.6 1.9 16.7 1.8 2.3 1.9-9.9 1.9-2.8 1.8 5.9 1.9-4.3 1.9-8.2 1.8 11.4 1.9-9.8 1.9-3.1 1.8 31.5 1.9-8.6 1.9-13.7 1.8 4 1.9.9 1.9-6.1 1.8-.4 1.9 11.2 1.9 16.1 1.8-18.4 1.9-8.5 1.9 3.4 1.8 2.1 1.9-2.1 1.9 1.5 1.8 9 1.9-4.1 1.9-3.7 1.8 8.3 1.9-2.6 1.9-8.1 1.8-7.5 1.9 7.6 1.9-6.9 1.8 13 1.9 4.8 1.9-10.1 1.8 8.5 1.9 4.6 1.9 5.9 1.8-6.2 1.9.3 1.9 8 1.8 2.2 1.9-11.5 1.9-5.7 1.8 8.7 1.9 4.3 1.9-2.7 1.8 27.5 1.9-18.1 1.9-18.3 1.8-1.5 1.9 11.5 1.9.4 1.8 10.3 1.9-.3 1.9-9.5 1.8 6.2 1.9-16.9 1.9-.4 1.8 5.5 1.9 2.5 1.9 7 1.8-2.7 1.9 13 1.9-14.3 1.8-4.5 1.9-.5 1.9 7 1.8-10.3 1.9 7.9 1.8 2.2 1.9 5.2 1.9 1.2 1.8 8.1 1.9-5 1.9-3 1.8-.8 1.9 6.2 1.9 4.4 1.8-2.9 1.9-4.2 1.9-10.1 1.8 11.9 1.9-5.5 1.9 2.8 1.8 1.7 1.9 4.6 1.9-20.2 1.8 8.5 1.9 5.8 1.9-4.7 1.8 11.1 1.9 2.3 1.9-7.6 1.8 8.1 1.9-4.9 1.9-12.1 1.8 16 1.9-3.4 1.9-7.1 1.8 14.6 1.9-8 1.9-.9 1.8 11.6 1.9-7.3 1.9-7.3 1.8-3 1.9 8.2 1.9-8.6 1.8 5.7 1.9 3.6 1.9 6.7 1.8-.9 1.9-6.9 1.9 2 1.8-7.2 1.9 4.9 1.9 3.9 1.8-15.1 1.9 15.4 1.9-1 1.8-8.2 1.9 6.7 1.9-1.5 1.8-.3 1.9 17.5 1.9-18.1 1.8 8.7 1.9.6 1.9-11.2 1.8 9.7 1.9 2.6 1.9-4 1.8 8 1.9-7 1.9 2.3 1.8 4.3 1.9 4.2 1.9-8.2 1.8 16.2 1.9-5.3 1.9-1 1.8-8.6 1.9-14.5 1.9 9.8 1.8-1.4 1.9 16.3 1.9-12.4 1.8 12.2 1.9 1.5 1.9-3.1 1.8 7.2 1.9-11.6 1.9-5.5 1.8 1.6 1.9 16.1 1.9 7.2 1.8-9.1 1.9-17.3 1.9 22.3 1.8.6 1.9-19.1 1.9.9 1.8.7 1.9 5.5 1.9.4 1.8.9 1.9 3.6 1.9 14.5 1.8-9.6 1.9-12.9 1.9 12.5 1.8-7.8 1.9 3.7 1.9 5.3 1.8-10.4 1.9 6 1.9 10.9 1.8 2.5 1.9-17.1 1.9 1.3 1.8 10.7 1.9-8.1 1.9 2.7 1.8-10.7 1.9 13.9 1.9 8.2 1.8 1.6 1.9-2.4 1.9-2.3 1.8.5 1.9-.8 1.9 3.5 1.8-12 1.9-5.3 1.9 15.5 1.8-13.5 1.9-1.3 1.9-.5 1.8 12.9 1.9 6.8 1.9-15.1 1.8 20.8 1.9-6.6 1.9-1.7 1.8 1.1 1.9 2.2 1.9-3.5 1.8-.5 1.9-2.8 1.9 7.9 1.8-3.7 1.9-5.4 1.9 2.2 1.8 8.8 1.9-.5 1.9-8.3 1.8 3.7 1.9 1.7 1.9-.4 1.8-6.2 1.9 1.1 1.9-19.7 1.8 8.4 1.9 9.4"/>
<path id="bn9" d="M0.0 4.6l1.9-3.8 1.8-5.5 1.9-4.9 1.9 9 1.8 5.8 1.9-3.9 1.9 2.9 1.8 1.6 1.9-5.3 1.9-6.5 1.8 11.6 1.9-12.1 1.9 8.3 1.8 13.1 1.9-10.4 1.9-1.2 1.8-1.3 1.9 13.8 1.9-10.7 1.8-5.3 1.9 13.3 1.9 3.1 1.8-12.7 1.9-11.4 1.9 2 1.8 21.3 1.9-15 1.9 14 1.8-1.6 1.9-.4 1.9-9.9 1.8-1.6 1.9 8.9 1.9-.9 1.8 8.4 1.9-4.4 1.9-10.1 1.8 6.7 1.9 7.1 1.9-10.6 1.8 8.4 1.9-.7 1.9-1.5 1.8.8 1.9 5.5 1.9-1.4 1.8 1.3 1.9-.1 1.9 13.6 1.8-8.2 1.9-3 1.9-10.7 1.8-1.4 1.9 18.9 1.9 2.4 1.8-12.5 1.9.8 1.9 6.3 1.8 3.4 1.9-2.2 1.9 0 1.8 5.2 1.9-9.9 1.9-9.1 1.8 9.3 1.9.4 1.9 14.8 1.8-2.4 1.9 3 1.9-13.7 1.8-6 1.9 13.5 1.9.1 1.8 2.5 1.9-2.6 1.9 6 1.8-12.7 1.9 7.3 1.9 5.1 1.8.4 1.9-4.4 1.9-11.2 1.8 4.1 1.9 2.8 1.9 5.7 1.8 3.2 1.9-7 1.9-5.5 1.8-2.4 1.9 7.4 1.9 10.3 1.8-1.5 1.9-4.6 1.9-2.9 1.8 1.1 1.9-5.4 1.9 1.8 1.8.3 1.9-3.1 1.9 5.4 1.8-4.4 1.9 9 1.9 3.8 1.8-13.3 1.9 7.9 1.9-11.5 1.8 24.2 1.9-8 1.9-4.9 1.8-11.8 1.9 5.8 1.9 12.1 1.8-1.9 1.9 6 1.9 1.4 1.8-7.9 1.9.2 1.9-9.5 1.8 27.9 1.9-9 1.9-10 1.8-5 1.9 7 1.9 3.1 1.8-2.8 1.9-16.1 1.9 10.5 1.8 15.8 1.9 1.9 1.9-7.8 1.8 6.3 1.9-8.3 1.9 1.9 1.8 3.3 1.9-1.6 1.9 10.5 1.8-1.1 1.9-3.8 1.9-2.2 1.8-.8 1.9.2 1.9-13 1.8 21.9 1.9-12.8 1.9.5 1.8 10 1.9-3.3 1.9 3.7 1.8-.6 1.9-4.1 1.9-2 1.8 2.1 1.9-4.4 1.8 14.6 1.9-13.2 1.9 3.2 1.8 10 1.9-12.1 1.9 3.3 1.8 5.2 1.9.2 1.9 2.7 1.8 7.6 1.9-8.2 1.9-4.4 1.8 6 1.9-.7 1.9 15.5 1.8-19.8 1.9 6.4 1.9 6.1 1.8-10.9 1.9-5.8 1.9 4.7 1.8-1.8 1.9 5.1 1.9 4.9 1.8-11.8 1.9 23.1 1.9-1 1.8-8.5 1.9-8.4 1.9 1.9 1.8 4.7 1.9 1.1 1.9-5.3 1.8 5.6 1.9-1.2 1.9-1.1 1.8 9.6 1.9.6 1.9-3 1.8-4.9 1.9-6.2 1.9 11.4 1.8 10.8 1.9-17.6 1.9 12 1.8-11.6 1.9 8.3 1.9 2.9 1.8-3.6 1.9 4.8 1.9-10.2 1.8-1.2 1.9 21.7 1.9-10.5 1.8 5.6 1.9-8 1.9-4.9 1.8 8.3 1.9-3.1 1.9-.2 1.8-2.7 1.9 2.5 1.9 6.9 1.8-8.2 1.9-.4 1.9 15.4 1.8-5.8 1.9 1.8 1.9-4 1.8 14.9 1.9-8.7 1.9-19.4 1.8 18.2 1.9-3.6 1.9-14.3 1.8 6.9 1.9-1.3 1.9 7.2 1.8 10.3 1.9-.1 1.9-10.2 1.8 6.9 1.9-1.7 1.9 2.9 1.8 8.2 1.9 8.7 1.9-21.9 1.8 9.2 1.9 2.4 1.9-8 1.8-.3 1.9 2.2 1.9-4.7 1.8-1.7 1.9 5.9 1.9 5.3 1.8-10.8 1.9 3.9 1.9 5.1 1.8-.5 1.9-9.8 1.9-8.6 1.8 14.3 1.9 5.4 1.9-6 1.8-.9 1.9-2.7 1.9 6.4 1.8 7.6 1.9-11.7 1.9 10.1 1.8 2.4 1.9 1.3 1.9-6 1.8 9.7 1.9-1.1 1.9-17.9 1.8 1.6 1.9 2 1.9 0 1.8-6.5 1.9 16.5 1.9-.3 1.8-6.6 1.9 7.2 1.9-2.3 1.8 5.1 1.9-3.8 1.9-2.1 1.8-2.4 1.9.3 1.9 2.1 1.8 18.9 1.9-11.4 1.9-1.5 1.8.7 1.9 5.7 1.9-8.8 1.8 1.3 1.9 5 1.9-2 1.8-3.4 1.9 9.6 1.9-9.6 1.8 1.7 1.9-1.7 1.9 7.5 1.8 1.8 1.9 4.2 1.9-1 1.8-6.5 1.9.6 1.9-.8 1.8 11.3 1.9-5.7"/>
<path id="bn10" d="M0.0 2.1l1.9-4.7 1.8 6.4 1.9-9.1 1.9 5.1 1.8-1 1.9 1.2 1.9-15.1 1.8 16.7 1.9-11.5 1.9 20.2 1.8-5.7 1.9-7.4 1.9 8.4 1.8-8.2 1.9-6.1 1.9 11.7 1.8 2.7 1.9 3.4 1.9 9.7 1.8-5.4 1.9-8 1.9-3.9 1.8 6.1 1.9 5.2 1.9-1.3 1.8.8 1.9-9.6 1.9 2.6 1.8 21.2 1.9-11.2 1.9-9.7 1.8 22.2 1.9-15.2 1.9-.6 1.8-7.8 1.9 10.5 1.9 1.9 1.8.4 1.9-3.7 1.9-7.9 1.8 4.3 1.9-4 1.9 8.9 1.8 1 1.9-2.6 1.9-3.1 1.8.2 1.9-7.2 1.9 16.7 1.8 1.1 1.9-5.5 1.9-8.5 1.8 6.3 1.9 11 1.9-10.9 1.8 8.5 1.9 1 1.9-11.8 1.8-1.2 1.9 19.2 1.9-18.1 1.8 4.9 1.9 1.8 1.9 28.4 1.8-11.4 1.9-8.7 1.9 3.8 1.8.8 1.9-4.6 1.9-3.1 1.8-1 1.9 13.1 1.9-6.3 1.8 1.6 1.9-22.4 1.9 12.2 1.8 12 1.9-1.7 1.9 11.1 1.8-9.6 1.9-11.2 1.9-2.2 1.8-7.4 1.9 18.2 1.9 10.5 1.8-7 1.9-4 1.9 2.4 1.8-9 1.9 10 1.9-.9 1.8-7.1 1.9 4.6 1.9-6.9 1.8-5.9 1.9 10.1 1.9 14.3 1.8-15.9 1.9 13.8 1.9-.1 1.8 8.1 1.9-1.9 1.9 2 1.8-7.5 1.9 9.4 1.9-.9 1.8-5.5 1.9-14.1 1.9 10.8 1.8 11.8 1.9-1.5 1.9-26.1 1.8 22.1 1.9 8.8 1.9-12.1 1.8-3 1.9-3.1 1.9 16.5 1.8-6.3 1.9 0 1.9-13.8 1.8-.9 1.9 24.8 1.9-16.1 1.8 5.8 1.9.9 1.9 2.1 1.8 11.2 1.9-8.7 1.9 4.4 1.8-8.5 1.9 3.5 1.9-3.8 1.8 8.6 1.9 5.3 1.9-15.4 1.8 14.8 1.9-15.4 1.9-3.5 1.8 8.2 1.9-.1 1.9 7.8 1.8-5.2 1.9 14 1.9-13.1 1.8 1.7 1.9-.4 1.9 12.4 1.8-16.4 1.9-11.6 1.9 12.5 1.8 4.3 1.9-14.9 1.8 8.9 1.9 8.4 1.9 14.9 1.8-22.4 1.9 7 1.9-5.2 1.8-4.3 1.9 4.3 1.9 2.2 1.8 6.5 1.9-3.6 1.9-.5 1.8-.3 1.9 12.9 1.9 1.4 1.8-1.9 1.9-15.7 1.9 3.5 1.8 18.2 1.9-17.9 1.9-6.9 1.8 8.9 1.9-12.8 1.9 7 1.8.6 1.9-4.9 1.9 7.4 1.8 11.2 1.9 4.3 1.9 1.7 1.8-5.5 1.9-.7 1.9 4.1 1.8-18.3 1.9 4.3 1.9 2.5 1.8 5.3 1.9-1.9 1.9 2.5 1.8 5.5 1.9-3.2 1.9 12.6 1.8-6.7 1.9-4.9 1.9-.3 1.8 4.9 1.9-.7 1.9-7 1.8 8.8 1.9 3.9 1.9-17.5 1.8 11.7 1.9 2.7 1.9-.2 1.8-6.9 1.9 4.6 1.9 9.4 1.8 2.9 1.9 3.1 1.9-12.5 1.8 2.3 1.9-6.5 1.9-.5 1.8 9.3 1.9-8.1 1.9 5 1.8-9.1 1.9 2.5 1.9 2.5 1.8-6.6 1.9 10.3 1.9 8.4 1.8-5.9 1.9 3.4 1.9-22.5 1.8 18.3 1.9 6.8 1.9 2.9 1.8-18.8 1.9 20.8 1.9-1.6 1.8-2.7 1.9 1.4 1.9-1.7 1.8-7.8 1.9 15.9 1.9-2.3 1.8-9.6 1.9-2.8 1.9-3.9 1.8 12.1 1.9 15.3 1.9-13.8 1.8-13.4 1.9 8.8 1.9-1.3 1.8 7.4 1.9 3.9 1.9-7.6 1.8 15.3 1.9-12 1.9-1.9 1.8-4.4 1.9 9 1.9-8.2 1.8.3 1.9.7 1.9 13.4 1.8 4.3 1.9 3.8 1.9-10.9 1.8 4.8 1.9-9.3 1.9 5.2 1.8 8.1 1.9-3.9 1.9-7.5 1.8 4 1.9.4 1.9-2.5 1.8 3.6 1.9 3.9 1.9-5 1.8 13.5 1.9-5.6 1.9.6 1.8-4.9 1.9-4.2 1.9 2.5 1.8-1.8 1.9 3.6 1.9 1.7 1.8-7.1 1.9 11.9 1.9 0 1.8-7.5 1.9-2.9 1.9 2.2 1.8 8.2 1.9-4.5 1.9-5 1.8 11.6 1.9-18 1.9 3.9 1.8 17.2 1.9-20.5 1.9 15.2 1.8-8.8 1.9 13.7 1.9-.8 1.8 10.9 1.9-4.5 1.9.7 1.8-8.2 1.9-11.5"/>
<path id="bn11" d="M0.0 10.6l1.9-17 1.8 8.4 1.9-.7 1.9-3.8 1.8-1.5 1.9 7.9 1.9-7.8 1.8 5.6 1.9.6 1.9 13.8 1.8-15 1.9 6.1 1.9 5 1.8-11.7 1.9 3.8 1.9 5.8 1.8-1 1.9.8 1.9 1.4 1.8-8.9 1.9 6.2 1.9-.2 1.8 4.5 1.9 1.7 1.9-1.8 1.8 1.4 1.9-3.4 1.9-7.6 1.8-6.4 1.9 14.3 1.9-5 1.8 6.4 1.9-4.7 1.9 3.5 1.8 3 1.9-1.4 1.9 7.5 1.8 1.3 1.9 6.4 1.9-19.4 1.8-4.7 1.9 8.4 1.9-4.5 1.8 5.1 1.9 7.7 1.9-2.2 1.8 5.9 1.9-5.6 1.9-4.1 1.8.6 1.9 7.8 1.9-4.1 1.8 5.6 1.9.5 1.9 4.8 1.8-9.9 1.9-.9 1.9-1 1.8-5.6 1.9-1.9 1.9 10.4 1.8-4.9 1.9 5.6 1.9 2.9 1.8-2.6 1.9.2 1.9.8 1.8 1.9 1.9-2.8 1.9 11 1.8-11.1 1.9 4.7 1.9 1.5 1.8.9 1.9 3.6 1.9-9 1.8 5.2 1.9 1.2 1.9-5.6 1.8-2.3 1.9 5.9 1.9.8 1.8-2 1.9 1 1.9-.7 1.8 5.6 1.9-1.5 1.9 3.7 1.8-8.3 1.9.2 1.9 1.7 1.8 1.7 1.9 4.4 1.9 5.4 1.8-1.6 1.9-6.7 1.9 5.6 1.8-9.5 1.9 3.5 1.9 6.7 1.8-3.5 1.9-9.7 1.9 7.1 1.8-6.4 1.9 8.8 1.9 6.2 1.8-4.4 1.9 6.5 1.9 4.2 1.8 2.1 1.9-14.8 1.9 4 1.8 11.4 1.9-12.2 1.9 8.6 1.8 0 1.9-10.8 1.9 9 1.8-6.9 1.9 6.2 1.9-1.7 1.8-4.5 1.9 3.6 1.9 1.7 1.8-.7 1.9 8.3 1.9-5.2 1.8-1 1.9-7.2 1.9 7.7 1.8-2.9 1.9 1.5 1.9 10.3 1.8-1.8 1.9-4 1.9-2.5 1.8 5.1 1.9.8 1.9-4.7 1.8-1.2 1.9 5.6 1.9 1.1 1.8-4.8 1.9 6 1.9-3.5 1.8-1.4 1.9 11.8 1.9-13.6 1.8-2.9 1.9 3.5 1.9-.4 1.8 4.8 1.9-2.9 1.8 7.7 1.9 5.7 1.9-6 1.8-2.5 1.9 1.8 1.9 3.1 1.8 1.5 1.9.2 1.9-2.1 1.8 7.3 1.9-6 1.9 0 1.8-4.5 1.9 8.3 1.9-2.9 1.8.4 1.9 1.2 1.9-3.3 1.8-.9 1.9-2.3 1.9-3.3 1.8 1.1 1.9 11.5 1.9 11.9 1.8-8.7 1.9-4 1.9-4.4 1.8.4 1.9.2 1.9 6.6 1.8 4.1 1.9-5.2 1.9-11.1 1.8 10.3 1.9 8.2 1.9-7.8 1.8 1 1.9.8 1.9-4.1 1.8 4.4 1.9 11.3 1.9-3.2 1.8-4.7 1.9-5.9 1.9 6.2 1.8-3.1 1.9-3.8 1.9-2.1 1.8 10.7 1.9-.9 1.9-1.1 1.8 2.2 1.9-8 1.9 7.6 1.8-4.3 1.9 6.4 1.9-4 1.8-4.7 1.9-.4 1.9 8.9 1.8 2.3 1.9-3.6 1.9-3.7 1.8 6 1.9-3.3 1.9 10.9 1.8-5.9 1.9-3.3 1.9 8.7 1.8-2.7 1.9-6.1 1.9 11.3 1.8-1.3 1.9 3.9 1.9-15.7 1.8 13.7 1.9 5.4 1.9-11.3 1.8-2 1.9 8.5 1.9-6.8 1.8-3.6 1.9 8.7 1.9-4.7 1.8-7.5 1.9 9.8 1.9 11.5 1.8-4.8 1.9-15.7 1.9 21.1 1.8-7.1 1.9 1.6 1.9-6.7 1.8 4.3 1.9.1 1.9 3.9 1.8.4 1.9-7.3 1.9-4.5 1.8 1.5 1.9 10.6 1.9 2.6 1.8-2.4 1.9-1.6 1.9 6.5 1.8-.4 1.9-.2 1.9.2 1.8 1.7 1.9-5.8 1.9 7 1.8 2.2 1.9-10.7 1.9 5 1.8 3.9 1.9-1.3 1.9-3.7 1.8-1.7 1.9-5.3 1.9 5.7 1.8 12.6 1.9-5.3 1.9 4.8 1.8-5.4 1.9-1.3 1.9 6.7 1.8-11.5 1.9 1.1 1.9-2.5 1.8 12 1.9-7.8 1.9 1 1.8-2.2 1.9.8 1.9 5.8 1.8 4.6 1.9-5.4 1.9-.7 1.8 8.3 1.9 3.2 1.9-19.8 1.8 10.4 1.9 9.3 1.9 1 1.8-1.5 1.9-5.7 1.9 5.4 1.8-5.8 1.9 4 1.9 6.6 1.8-12.8 1.9-.9 1.9 3.6 1.8-3.7 1.9 6.7"/>
<path id="bn12" d="M0.0 10.9l1.9.4 1.8-12.5 1.9 6.1 1.9-4.1 1.8-4.8 1.9 7.4 1.9 5.8 1.8-3.4 1.9-4.6 1.9-4.8 1.8 1.9 1.9 11.3 1.9-9.9 1.8 10.9 1.9-1.3 1.9.1 1.8 2.5 1.9 7.9 1.9.3 1.8-9.6 1.9.8 1.9-8.7 1.8 5.8 1.9 4.5 1.9-3.9 1.8 7.8 1.9-11 1.9 2.1 1.8-7.2 1.9 14.2 1.9 7.4 1.8 1 1.9-12.1 1.9 2 1.8-3.8 1.9 8.3 1.9 4.5 1.8-2.6 1.9-2.6 1.9-4.4 1.8-10.5 1.9 5.3 1.9.1 1.8 9.5 1.9 4.8 1.9 2.6 1.8-3.6 1.9 2.8 1.9-11.9 1.8 2.2 1.9 12.8 1.9-2 1.8-13.8 1.9 5.2 1.9-1 1.8 2.3 1.9 4 1.9 15.4 1.8-10.2 1.9 5.6 1.9-11.4 1.8-.3 1.9 1.3 1.9-6.6 1.8 3.4 1.9 9.5 1.9-6.8 1.8 3.7 1.9-11.5 1.9 12.6 1.8-1 1.9 3 1.9-1.1 1.8-2.5 1.9-1.8 1.9 10.3 1.8-.5 1.9-7.3 1.9 1.3 1.8 1.9 1.9 7.4 1.9-9.5 1.8 10.1 1.9-11.3 1.9 12.4 1.8-13.7 1.9 6.5 1.9 5.3 1.8-8.7 1.9 7.2 1.9-3.4 1.8-.2 1.9 3.5 1.9 3.5 1.8-2.5 1.9 5.6 1.9-4.6 1.8-6 1.9 7.8 1.9-2.4 1.8.3 1.9 6.4 1.9-5.4 1.8-19.1 1.9 19.8 1.9 6.1 1.8-13.5 1.9-4.1 1.9 4.5 1.8 6.2 1.9 2.4 1.9.7 1.8-2.9 1.9 7.4 1.9-1.1 1.8 6.7 1.9-7.5 1.9 10.4 1.8-10.8 1.9 4.3 1.9-.6 1.8-15.5 1.9 14.8 1.9 4.8 1.8-6.9 1.9.6 1.9-3.9 1.8 1.4 1.9.6 1.9-4.5 1.8 9.8 1.9 1.3 1.9-5.1 1.8 2.1 1.9 6.7 1.9 10.8 1.8-14 1.9-1 1.9 6.2 1.8-4.4 1.9-6.9 1.9 10.4 1.8-4 1.9 3.8 1.9.3 1.8 2.9 1.9-.9 1.9-4.3 1.8.4 1.9-1.3 1.9.9 1.8-2.4 1.9-2.6 1.8 5.3 1.9-.7 1.9-.2 1.8.8 1.9 4.4 1.9 1.2 1.8 1.5 1.9-7.4 1.9 2.5 1.8 1.6 1.9 5.7 1.9-3.7 1.8-4 1.9 12 1.9-5.5 1.8-9.1 1.9 13.2 1.9.7 1.8-7.9 1.9-8.6 1.9 11.6 1.8-2.2 1.9 12.8 1.9 2.2 1.8-6.8 1.9-4.2 1.9 5.7 1.8-8.9 1.9 4.3 1.9 13.1 1.8-10.8 1.9-2.7 1.9.1 1.8 12.5 1.9 0 1.9-7.4 1.8 2.9 1.9-11.2 1.9 12.7 1.8 4.6 1.9-12.9 1.9-9.4 1.8 1.6 1.9 18 1.9-5.4 1.8 10.9 1.9-14.6 1.9 9.3 1.8-.3 1.9 5 1.9-13.9 1.8 15.4 1.9-7.1 1.9-2.8 1.8-.3 1.9 7 1.9 3.1 1.8-3.6 1.9-1.1 1.9-1 1.8 1.9 1.9 3.1 1.9 2.5 1.8-4 1.9-4.1 1.9 9.1 1.8-2.5 1.9-6.4 1.9 5.9 1.8-1.2 1.9 2.7 1.9.7 1.8-1.3 1.9 6.8 1.9-1.3 1.8 4.6 1.9-4.2 1.9-9.4 1.8 4.2 1.9-8.1 1.9 4.6 1.8 12.3 1.9-8.9 1.9.9 1.8-1 1.9.1 1.9 5.5 1.8 2.7 1.9-1.1 1.9.1 1.8-8 1.9 1.9 1.9 3.5 1.8 6.2 1.9-11.4 1.9.5 1.8-2.8 1.9 10 1.9-12.9 1.8 5.9 1.9 2.2 1.9-.1 1.8 4 1.9 10.2 1.9 2.9 1.8-14.6 1.9-2.9 1.9 11.4 1.8 1.2 1.9-9.6 1.9 5.2 1.8 4.4 1.9 3.4 1.9 7.7 1.8-7.2 1.9-4.2 1.9 1 1.8-3.6 1.9 9.5 1.9-12.4 1.8-1.9 1.9 14.6 1.9 8.1 1.8-7.5 1.9-1.9 1.9-10.2 1.8 8.6 1.9 1.3 1.9 7 1.8.2 1.9-11.3 1.9 14.3 1.8-4.2 1.9-.8 1.9-11.3 1.8-11.7 1.9 10.7 1.9 19.7 1.8-9.6 1.9-8.3 1.9 10.3 1.8-6.6 1.9.2 1.9 5 1.8 14.2 1.9-3.6 1.9-15.6 1.8-3.4 1.9 13.6 1.9-5.4 1.8 11 1.9-3.6 1.9-11.7 1.8 1.6 1.9 6.5"/>
<path id="bn13" d="M0.0 -14.8l1.9 11.1 1.8 3.3 1.9 1.4 1.9-2.8 1.8 1.9 1.9 1.5 1.9-2.4 1.8 4.1 1.9-.2 1.9-3.9 1.8 1.6 1.9 8.2 1.9-4.9 1.8 5.4 1.9-1 1.9 4.3 1.8-3 1.9-6.6 1.9 1.4 1.8 4.2 1.9-4.5 1.9-2.4 1.8 7.8 1.9 9.7 1.9-4.1 1.8-4.2 1.9.3 1.9 1.9 1.8-6.7 1.9 3 1.9-4.8 1.8-1.5 1.9 8.4 1.9-2 1.8-2.7 1.9 1.3 1.9 3 1.8.7 1.9 2.1 1.9-10.2 1.8 4.7 1.9-2.7 1.9 5 1.8 5.1 1.9 2.8 1.9-2.6 1.8 9.4 1.9-4.8 1.9-2.2 1.8 4.8 1.9-9.3 1.9 9.3 1.8-6 1.9 2.5 1.9-1.1 1.8-.6 1.9 2.4 1.9 7.1 1.8-5.9 1.9 5.8 1.9-6.4 1.8-.8 1.9 8.5 1.9-2.6 1.8-.8 1.9-6.5 1.9 11 1.8-2.8 1.9-2.4 1.9-7.7 1.8 0 1.9 2.2 1.9 9.3 1.8-3.9 1.9 0 1.9 0 1.8 1.5 1.9-.5 1.9 1.9 1.8-1.6 1.9-6.9 1.9 5.4 1.8-1.6 1.9 1.1 1.9 8.5 1.8-4.3 1.9-.1 1.9.5 1.8 8.9 1.9-1.8 1.9-2 1.8 2.8 1.9 2.8 1.9-6.8 1.8 3.4 1.9 4.4 1.9-3.1 1.8-3.2 1.9 4.4 1.9.9 1.8 2.1 1.9-3.9 1.9-3.7 1.8-4.8 1.9 4.5 1.9 8.5 1.8-1.9 1.9-.9 1.9-15.5 1.8 1.9 1.9 13.2 1.9 3 1.8 9.9 1.9-7.1 1.9-9.7 1.8 7.9 1.9-2.2 1.9.9 1.8-7.6 1.9-1.9 1.9 4.4 1.8 8.2 1.9 3.8 1.9-1.2 1.8-14.9 1.9 7.2 1.9.5 1.8 14.2 1.9-4 1.9-7.1 1.8-2 1.9-2.7 1.9 2.5 1.8-10.2 1.9 7.4 1.9-1.8 1.8 10.8 1.9-2.2 1.9 4.4 1.8-4.3 1.9 15.7 1.9-3 1.8-6.2 1.9 0 1.9-2.8 1.8 3.4 1.9 1.1 1.9 1 1.8-10.5 1.9 12.4 1.9-2.9 1.8-5.5 1.9 8.3 1.8 4.2 1.9-11.3 1.9 3.1 1.8 7.9 1.9-13.1 1.9 7.3 1.8 1.4 1.9-6.8 1.9 11.6 1.8-1.6 1.9.3 1.9-6.3 1.8 10.1 1.9-6.5 1.9-.9 1.8.1 1.9 8.7 1.9 6 1.8-10.3 1.9-6.9 1.9 0 1.8 5.5 1.9-2.6 1.9-4.8 1.8 7.6 1.9.1 1.9 7 1.8-15 1.9 13.2 1.9-2.6 1.8 2.3 1.9-5.6 1.9 10.1 1.8 7 1.9-11.2 1.9 6.9 1.8-8.2 1.9 1.8 1.9.3 1.8 7.4 1.9-4.4 1.9 0 1.8-3.7 1.9 2.7 1.9 1.1 1.8-3.4 1.9-4.3 1.9 14.1 1.8-.6 1.9-5.6 1.9 3.8 1.8 5.1 1.9-.2 1.9-3.1 1.8-.9 1.9 1.7 1.9-5.5 1.8-1.4 1.9 3 1.9 8.3 1.8-6.2 1.9 7.2 1.9-13.2 1.8 10.5 1.9 4.6 1.9-3.2 1.8.4 1.9 6.4 1.9-4.9 1.8-7 1.9 8.8 1.9-2.1 1.8 2.7 1.9-7.2 1.9 3.4 1.8 5.8 1.9 2.4 1.9-5.6 1.8-.5 1.9-7.9 1.9 9.9 1.8-2.8 1.9 3.5 1.9 5.3 1.8-1.8 1.9-7.8 1.9 7 1.8-3.7 1.9-3.7 1.9 2.2 1.8 2.1 1.9-4.6 1.9-1.4 1.8 14.7 1.9-3.7 1.9 1.5 1.8.4 1.9 2.8 1.9-1.5 1.8-12.5 1.9 11.3 1.9-4.5 1.8-.6 1.9 13 1.9-10 1.8-4.6 1.9-3.1 1.9 5.7 1.8-3.7 1.9 5.8 1.9-2 1.8 9.5 1.9 1.5 1.9-6.8 1.8 9.6 1.9 2.9 1.9-10.8 1.8 1.6 1.9 5.6 1.9-1 1.8 1 1.9.9 1.9 0 1.8-.2 1.9 5.6 1.9.4 1.8-7.8 1.9-.2 1.9 5.7 1.8-3.5 1.9-3.3 1.9 0 1.8 4.9 1.9-2.1 1.9-3.3 1.8 1.6 1.9 2.5 1.9 4.2 1.8-2.8 1.9.7 1.9-4.7 1.8 4.8 1.9.5 1.9 4.3 1.8-5.3 1.9-1.2 1.9 5.1 1.8-2.7 1.9 1.4 1.9 4.4 1.8 3.5 1.9-5.5 1.9 3.5 1.8-11.2 1.9.8"/>
<path id="bp00" fill="currentColor" d="M-8.3 -1.6l3.1-1.8 1.4-6.9.7-43.9.4-64.8.4-84 .5-101.2.8-71.6 1-9.9 1 10.3.8 71.9.5 101.4.4 84.1.4 64.9.7 44.2 1.4 7.4 3.1 3.1z"/>
<path id="bp01" fill="currentColor" d="M-10.8 -2.0l4-1.7 1.9-6.9.8-44.2.5-65.3.6-84.7.6-102 1-72.1 1.4-10 1.4 10.5 1 72.5.6 102.2.6 84.9.5 65.5.8 44.5 1.9 7.6 4 3.2z"/>
<path id="bp02" fill="currentColor" d="M-7.5 -1.4l2.8-1.9 1.3-7.1.6-44.6.3-65.9.4-85.4.5-102.8.7-72.8.9-10.1.9 10.5.7 73 .5 103 .4 85.5.3 66 .6 44.9 1.3 7.5 2.8 3z"/>
<path id="bp03" fill="currentColor" d="M-10.9 -2.0l4.1-1.8 1.8-7 .9-44.9.5-66.4.5-86 .7-103.6 1-73.3 1.4-10.2 1.4 10.7 1 73.7.7 103.8.5 86.3.5 66.5.9 45.3 1.8 7.7 4.1 3.2z"/>
<path id="bp04" fill="currentColor" d="M-7.8 -1.5l2.9-1.9 1.4-7.2.6-45.3.3-66.9.4-86.8.5-104.5.7-73.9 1-10.3 1 10.6.7 74.2.5 104.7.4 86.9.3 67.1.6 45.6 1.4 7.6 2.9 3.1z"/>
<path id="bp05" fill="currentColor" d="M-8.7 -1.6l3.2-1.9 1.5-7.2.7-45.7.4-67.5.4-87.4.6-105.3.8-74.5 1.1-10.4 1.1 10.8.8 74.8.6 105.5.4 87.6.4 67.6.7 46 1.5 7.7 3.2 3.1z"/>
<path id="bp10" fill="currentColor" d="M-10.2 -1.9l3.8-.5 1.8-3.3.8-21.8.5-32.4.4-41.9.7-50.5.9-35.7 1.3-4.9 1.3 5.4.9 36 .7 50.8.4 42.1.5 32.5.8 22.2 1.8 3.9 3.8 1.9z"/>
<path id="bp11" fill="currentColor" d="M-8.3 -1.5l3.1-.7 1.5-3.3.6-22.1.4-32.6.4-42.3.5-51 .8-36 1-4.9 1 5.3.8 36.3.5 51.1.4 42.5.4 32.7.6 22.4 1.5 3.8 3.1 1.8z"/>
<path id="bp12" fill="currentColor" d="M-6.8 -1.3l2.5-.7 1.2-3.5.5-22.2.4-32.9.3-42.7.4-51.4.6-36.3.9-5 .9 5.3.6 36.6.4 51.5.3 42.8.4 33 .5 22.5 1.2 3.9 2.5 1.7z"/>
<path id="bp13" fill="currentColor" d="M-10.8 -2.0l4.1-.5 1.8-3.3.9-22.4.5-33.2.5-42.9.6-51.8 1.1-36.5 1.3-5 1.3 5.5 1.1 36.9.6 52 .5 43.2.5 33.3.9 22.7 1.8 4 4.1 2z"/>
<path id="bp14" fill="currentColor" d="M-10.6 -2.0l4-.5 1.8-3.4.8-22.5.5-33.4.5-43.4.7-52.1 1-36.9 1.3-5 1.3 5.5 1 37.2.7 52.5.5 43.5.5 33.5.8 22.9 1.8 4.1 4 2z"/>
<path id="bp15" fill="currentColor" d="M-7.9 -1.5l2.9-.7 1.4-3.5.6-22.8.4-33.6.4-43.7.5-52.7.7-37.1 1-5.1 1 5.4.7 37.5.5 52.8.4 43.8.4 33.8.6 23.1 1.4 4 2.9 1.8z"/>
<path id="dn0" d="M0.0 -1.0l2-.8 2 5 1.9-4 2 .6 2-1 2 1.5 1.9-2.1 2 6.2 2-6.6 2 0 2 6.4 1.9-2.2 2 0 2 7.4 2-5.4 1.9 2.2 2 .1 2 1.2 2 0 2-1.4 1.9-.2 2 5.5 2-2.4 2 2.6 1.9 1 2-2.7 2-4.3 2 .1 2 4.4 1.9 1.6 2 .7 2-2.6 2-3 1.9 2.6 2-1.1 2 .9 2-3.1 2 10.4 1.9 3.5 2-5.7 2-3.9 2 3 1.9-1.6 2 4.7 2 1.9 2-1.4 2-5 1.9-.5 2 4.9 2-1.5 2 2.3 2-1.2 1.9 3.4 2-2.2 2 1.6 2-1.3 1.9 1.6 2 1.4 2-2.6 2 1 2-.5 1.9 1.4 2-2.6 2 4 2-3.6 1.9-2.7 2 4.9 2-4.8 2-2.2 2 5.1 1.9 7.3 2 2.5 2-4 2-7.1 1.9 2.6 2 .7 2 3.3 2 2.7 2-2.9 1.9 4.1 2-1.4 2-2.6 2 1.2 1.9-.9 2 3 2-2.2 2 .1 2 6.9 1.9 0 2-1.2 2-4.3 2 .3 1.9.7 2 .6 2-1 2-1.1 2 4.8 1.9 4.8 2-6.1 2 1.3 2 .2 1.9.8 2 3.5 2 2.3 2-7.3 2-2 1.9.7 2 2.7 2 .7 2 2.4 1.9-.7 2 1.4 2 1.1 2-1.9 2-5.1 1.9 10.5 2-4.7 2-1.9 2 6.2 1.9-3.1 2-.2 2 2.3 2 .8 2 3.2 1.9-8.8 2-4.2 2 2.2 2 6.8 1.9 0 2-.5 2 4 2-.5 2-2.6 1.9 2.7 2 5.3 2-.2 2-4.9 1.9.9 2 .7 2-5 2 3 2 3.9 1.9-1.2 2-7.2 2 8.9 2-6.3 2-.9 1.9 5.6 2 2.1 2-5.1 2 2.7 1.9 3.6 2-6.5 2 3.6 2 1.2 2 1.1 1.9 1.6 2-.8 2 1.5 2-2.1 1.9-2.1 2-.2 2-.1 2-.7 2 2.3 1.9 5.2 2-3.5 2 7.3 2-.6 1.9-3.6 2 5.7 2-8.1 2 5.7 2 3.8 1.9-1.7 2-.3 2-2 2 .1 1.9-3.3 2 3.1 2 .2 2 3.7 2-3.5 1.9 3.2 2 5 2-9.1 2 5.2 1.9 2.3 2-.4 2-4.7 2 6 2-1.5 1.9-3.7 2-4.7 2 6.2 2 1 1.9 2.9 2-8 2 4.8 2 1.7 2-.4 1.9 3.5 2-1.8 2 3.6 2-7.4 1.9 3.3 2 1.6 2-3.9 2 6.8 2-6.1 1.9-2.1 2 7.4 2-2.5 2 1.6 1.9-2.1 2 2.1 2 4 2-3.8 2 1.8 1.9-.3 2-2.6 2-1 2 1.9 1.9 7.3 2-4.8 2 1.8 2-3.3 2 3.2 1.9-3.8 2 1.9 2 2.7 2-.3 1.9 6.6 2-5.5 2-.1 2 4.5 2-3.5 1.9-.6 2 .3 2 1.7 2-2.1 1.9-.5 2 2.5 2 1.4 2 1.6 2 1.1 1.9-3.4 2 3 2 3.9 2-4.2 2-3.8 1.9 4 2-2.2 2 .6 2 5.3 1.9-2.7 2 .6 2-1.8 2 10.6 2-8.4 1.9-2.3 2 5.7 2-4.7 2 2.6 1.9.2 2-2.2 2-1.7 2 3.6 2-.4 1.9.7 2 4.2 2-6.3 2 1.1 1.9 3 2-2.1 2 1.2 2 4.2 2-3.8 1.9 2.1 2-.8 2-1.2 2 .1 1.9-2.7 2 4.9 2 2.8 2 2.3 2 .5 1.9-3.9 2 0 2 4.6 2 .5 1.9-.4 2-6.2 2 6.6"/>
<path id="dn1" d="M0.0 8.3l2-5.5 2-7.9 1.9 9.6 2-7 2 10.5 2-4.7 1.9 3.1 2-3 2 .1 2-3.9 2 1.5 1.9 1.3 2 3.4 2-3.1 2 4.4 1.9 1 2 .1 2-4.7 2-8 2 8.2 1.9-5.6 2 10.5 2 1.6 2-4.8 1.9-1.2 2-.4 2-3.3 2 6.9 2-3.3 1.9 2.5 2 14 2-4.2 2-3.5 1.9-2.9 2-2.1 2 3.2 2-5.5 2 8.2 1.9-1.3 2-4.6 2 7.8 2-7.5 1.9-.9 2 5.3 2 .8 2 .5 2-.1 1.9-4.9 2 2.1 2 8.9 2 3 2-8.5 1.9 11.5 2-.7 2-4.8 2-3.1 1.9-6.1 2 3.8 2-12.4 2 10.6 2 1.1 1.9-1.1 2 4.8 2-2.9 2 .7 1.9 2.2 2 4.3 2 .3 2-5 2 2.5 1.9-.7 2-.1 2 .8 2 1.5 1.9-1.8 2-1.3 2-2.2 2 3.3 2 5.7 1.9 1.9 2-5.1 2 7.9 2-1.6 1.9-7.2 2 4.3 2 3.1 2-7.2 2 14.5 1.9-6.4 2-.8 2 .8 2-5.4 1.9-3.7 2 1.3 2 2.8 2 2 2 3 1.9-.1 2 6.8 2-2.6 2-5.5 1.9 2.1 2-2.9 2 9.2 2-1.3 2 1.1 1.9-7.8 2 3.6 2 1.8 2 4.2 1.9-1.7 2 1.6 2-1 2-11.5 2 11.3 1.9 0 2 2 2-8.2 2 7.5 1.9 2.2 2-4.9 2-6.3 2 4.8 2 5.2 1.9 9.4 2 6.8 2-13.4 2-3.8 1.9-4.6 2 2.1 2 4.1 2-5.4 2-3.2 1.9 9.8 2-3.8 2-2.5 2 8.2 1.9-3.2 2 1.4 2-4.1 2-.7 2 13.8 1.9-4.2 2-8.3 2 2.2 2 7.6 2-.4 1.9 2.2 2-4.9 2 5.6 2-8.5 1.9-.7 2-2.8 2 1.9 2 1.2 2 .7 1.9 1.9 2 11.1 2-7.5 2 3.3 1.9 8.4 2-14.6 2 2.7 2 8.7 2-6 1.9-2.3 2 1.2 2-4.8 2 9.7 1.9-5.3 2 6 2-3.8 2-1.9 2 4.8 1.9-11.1 2 15.3 2 3.4 2-4.3 1.9 1.1 2-7.8 2 5.4 2-5.9 2 5.7 1.9-3.1 2-.9 2 3.1 2-1.5 1.9 1.2 2-6.6 2-2.7 2 11.4 2-.4 1.9-3.3 2 2 2-4.9 2-4 1.9 18.9 2-.8 2-9.1 2 1.7 2 6.3 1.9-.4 2-1.7 2-6.5 2 9.6 1.9-1.8 2-6.2 2 .7 2 5.7 2 2.2 1.9 6.7 2 1.6 2-3.2 2-7.8 1.9-1.4 2-1.7 2 1.4 2 1.4 2 2.9 1.9 4.9 2-7.1 2 4.9 2 8 1.9-7.7 2-.5 2-9.2 2 9.2 2 .5 1.9 6 2-5.8 2 .1 2 5.3 1.9-3 2 5.5 2-5.8 2 2.7 2-2 1.9 4.7 2 1.1 2-2.4 2-4.5 1.9 2.2 2 11.5 2-9.8 2 .4 2-2 1.9-2.7 2 1.1 2 7.2 2 .4 2-3.7 1.9-2.7 2 7.2 2 1.6 2 1.6 1.9-5.1 2 3.5 2-11.3 2 3.4 2 .4 1.9 2.3 2 6 2 9.7 2-14.4 1.9.9 2 10.7 2-17.2 2 4.1 2-1.1 1.9 7.1 2 8.7 2-2.3 2-7.3 1.9 10.8 2-3.3 2-8.4 2-1.1 2 4.5 1.9 12.5 2-6.6 2-8.7 2 .5 1.9 6 2-1.6 2-1.4 2 4.2 2 2.8 1.9.5 2 .8 2-2.7 2-.7 1.9-2.4 2-.3 2 3.3"/>
<path id="dn2" d="M0.0 -1.2l2 2.8 2-3.6 1.9 2.6 2-3.2 2 2 2-.8 1.9 2.4 2 .4 2 1.8 2 .7 2 .4 1.9-1.8 2 3 2-2.6 2 1.6 1.9-.7 2 2.7 2-.8 2 2.9 2-.8 1.9-.9 2 1.5 2-.7 2-.6 1.9.1 2 4 2-1.7 2-.6 2 1.3 1.9.8 2-4.6 2 .9 2 .5 1.9-.1 2 3.9 2 0 2 2.6 2-2.4 1.9 3.1 2-.9 2-2.7 2 0 1.9 3 2 .8 2-3.5 2 .8 2 2.3 1.9-.4 2 .1 2 2.3 2 0 2 2.7 1.9-3.1 2-.4 2-1.3 2-.1 1.9 2.9 2-2.6 2 3.4 2-1.6 2 2.1 1.9 1.1 2 1.4 2-1.4 2-4.2 1.9 2.9 2 .7 2 1.5 2-.8 2-.3 1.9.5 2-1.1 2 2.3 2 .1 1.9-1.8 2 1.4 2 3 2-2.6 2 .6 1.9 3 2 .9 2-.4 2-2 1.9.7 2-.6 2-2.6 2 .9 2 3.4 1.9 2.4 2-2.9 2 3 2 1.3 1.9-.8 2-.7 2 1.1 2-.4 2 5.2 1.9-2.4 2-1.4 2-1.1 2 .7 1.9 1.4 2-4.1 2 1.7 2 1.6 2 .9 1.9.2 2 2.5 2 1.2 2-1.8 1.9 2.9 2-2.7 2 1.1 2-1.2 2 .8 1.9 2.2 2 .5 2-.2 2-2.8 1.9-.6 2 3 2 .4 2 1.8 2-3.1 1.9 1.3 2 2.3 2 1.9 2-2.6 1.9-2.8 2 2.8 2 2.7 2 .7 2-.2 1.9 3.1 2-4.4 2 1.4 2 3.1 1.9 2.8 2-4.9 2-.9 2-1.7 2 .5 1.9 2.9 2 3.2 2-2.5 2 .9 2-.5 1.9 2.8 2-1.2 2-.3 2 2.1 1.9 1.5 2 1.3 2-3.4 2-2.7 2 2 1.9 5.2 2-3 2 2 2-2.2 1.9-3.1 2 2 2 5.9 2-4.6 2-.1 1.9-2 2 2 2 .5 2 4.5 1.9-4.1 2 3.5 2 2.7 2-3.7 2-1.1 1.9-1.1 2 .5 2 1.8 2 .7 1.9-.6 2 .9 2 .4 2 4.5 2-1.9 1.9-.1 2-1.1 2 2.2 2-2.2 1.9-.1 2 3.6 2-.9 2-1 2 2.8 1.9 3.3 2-2.8 2-1.5 2 .5 1.9-1.5 2 1.2 2-1.6 2 3.5 2-2.6 1.9 2.7 2-.2 2 4 2-.6 1.9-3.5 2 1.4 2 .8 2 2.5 2-2.7 1.9 2.6 2-3.2 2 .7 2 2.7 1.9 1.2 2-.1 2-1.3 2 .1 2 3.6 1.9-2.3 2 1.9 2-4.1 2 5.4 1.9-2.9 2 2.7 2-1.5 2-1.7 2 1.1 1.9 3.5 2 1.6 2-4.7 2 2.9 1.9-1.4 2-1.1 2 5 2-4.7 2 2.3 1.9 1.4 2 1.6 2-1.4 2-.7 1.9-.8 2 .1 2 .3 2 2.3 2 .8 1.9-.1 2 .1 2-1.6 2 .4 2 2.3 1.9 2.1 2 2.3 2-2.2 2-.8 1.9 3.5 2-1.5 2-1.4 2 .1 2 3.1 1.9-.3 2 1.3 2-3.3 2 .3 1.9-3.5 2 4.8 2-1.9 2 1.9 2 .9 1.9-1.4 2 5 2 .3 2-4.7 1.9 0 2-.9 2 2.1 2 2.7 2-1.6 1.9 2 2 .2 2 .3 2 1.6 1.9-4.6 2 1.4 2 2 2 .1 2 1.8 1.9.4 2-.6 2-.3 2 4.5 1.9-4.6 2 4.6 2-.2"/>
<path id="dn3" d="M0.0 -0.3l2 4.5 2-4.8 1.9-.6 2-.1 2 .5 2 2.9 1.9-.4 2 2.7 2-.2 2-1.9 2 3.6 1.9-.9 2 .2 2-2.7 2 .3 1.9 2.7 2-1.9 2-3 2 1.6 2 3 1.9.7 2 2.8 2-.1 2-1.7 1.9-.4 2 4.3 2 .9 2 .1 2 .1 1.9-.8 2-1.1 2 2.3 2-.2 1.9 2.9 2-2.9 2-1.7 2 1.8 2 3 1.9-7.9 2 5.3 2-.7 2 5.4 1.9-1.4 2-2.5 2 .3 2-.1 2 .4 1.9 2.1 2 1.1 2-1.2 2 1 2 .4 1.9-2 2 .2 2 1.9 2-2.7 1.9 2 2 1.3 2-2 2 1 2 4.7 1.9-3.2 2 3.7 2-1.4 2-1.8 1.9-.8 2 3.6 2-.1 2-2.5 2-3.1 1.9-.3 2 2.8 2-.9 2 4.8 1.9.8 2-2.2 2-.3 2 5.5 2-4.4 1.9 3.3 2-.2 2 2.2 2-.9 1.9-3.3 2 4.7 2 .2 2-1.5 2-1.4 1.9-2.5 2 3.2 2-.9 2 5.6 1.9-.5 2 3.8 2-6.5 2 2.1 2-1.3 1.9 3.3 2 1.3 2 .2 2-.4 1.9-.8 2 3.2 2-2.9 2-1.8 2 5.3 1.9 1.1 2-.8 2-.4 2-5.7 1.9 1 2 5.3 2-7.4 2 2.3 2 6 1.9 2.4 2-4.1 2 3.7 2-2.6 1.9-2.3 2 3.7 2 1.1 2 .4 2-4.4 1.9.6 2 1 2-.4 2 2 1.9 2.2 2-1.5 2-1.6 2 2.3 2 1.1 1.9 1.9 2-4.5 2 .4 2 1.9 1.9.6 2-.1 2 .8 2-1.5 2 1.5 1.9-.5 2 1.5 2 2.1 2-3.2 2-.7 1.9-.5 2 4.4 2 1.9 2 3.1 1.9-3.2 2 1.2 2-3.8 2 4.5 2-3.1 1.9 4 2-1 2-3.4 2 3.4 1.9-.7 2-.8 2 4.6 2-6.5 2 6.3 1.9-.1 2-1.3 2-.5 2-1.1 1.9-.5 2 5.8 2-.9 2 3.9 2-3.8 1.9 1.1 2-1.5 2 4.3 2 .2 1.9-3.7 2-1.1 2 2.5 2 1.2 2 .6 1.9.4 2 .4 2-6.8 2 2.7 1.9 6.5 2-1 2 .9 2-2 2-4.7 1.9 1.1 2 3.3 2 .3 2 1.4 1.9 2.5 2-.1 2-3.7 2 5.3 2-4.6 1.9-3.6 2 4.7 2-.8 2 1.8 1.9 1.9 2 4.5 2-1.7 2-5.5 2 2.3 1.9 2 2-3.7 2 2.9 2 5.5 1.9-1.8 2-5.1 2-.1 2 3.8 2-1.4 1.9 1.7 2-4.9 2 2.7 2 .2 1.9 1.6 2-.7 2 .9 2 1.8 2 1.8 1.9.4 2-.3 2-1.8 2 0 1.9-1.3 2 3.4 2 .4 2 5.2 2-1.5 1.9-.6 2-1.2 2-.3 2 1.6 1.9-1.3 2 1.7 2-.2 2 1.4 2-1.2 1.9 1.6 2 0 2 1.4 2 1.8 2-5.3 1.9 3.4 2-2.6 2 2.4 2 .5 1.9-.2 2 2.4 2 2.7 2-4.8 2 .2 1.9 4.8 2-.7 2-.4 2-3.6 1.9.6 2 1.8 2-1.9 2 1.2 2 3.2 1.9 2.4 2-4.6 2 5 2-4.7 1.9 5.4 2-.6 2-4.5 2 0 2-.2 1.9 6.1 2-.8 2-.9 2 .9 1.9.9 2-1.6 2 .5 2 2.6 2 0 1.9-.6 2-.4 2 .7 2 3.2 1.9-2.6 2-1.5 2-2.3"/>
<path id="dn4" d="M0.0 -3.4l2 4.7 2-4.1 1.9 3.1 2 .7 2 1 2-.5 1.9-.1 2 5 2-4.7 2 3.8 2-.9 1.9-3.8 2 3 2 2.5 2-6.5 1.9-.6 2 .5 2 1.4 2 2.2 2 1.6 1.9 5.5 2 0 2-.4 2-5.6 1.9-5.2 2 4.2 2 4.6 2-3.8 2 3.5 1.9 1.9 2-.1 2-3.4 2-1 1.9 3.1 2 5.1 2-4.4 2 3.8 2 2 1.9-.7 2 1.6 2-.4 2-7.4 1.9 6.7 2-.4 2 4 2-.7 2-1.6 1.9-1.5 2 0 2 .8 2 2.4 2-5.9 1.9 1 2 4.7 2 .3 2 .7 1.9-.8 2 1.8 2-3.4 2-1.4 2 3.4 1.9-.4 2 2.8 2-4.6 2 4 1.9-1.2 2 0 2 4.4 2 3.9 2-2.2 1.9.4 2-.7 2-1.7 2-.1 1.9 1.7 2-6.3 2 7.5 2-4 2-.7 1.9 5.2 2-7.1 2 .2 2 3.8 1.9.6 2 1.4 2-1.1 2 3.3 2-3.9 1.9-.5 2 4.6 2 4.8 2-6.9 1.9 1.2 2 4.3 2-6 2 2.3 2 6.5 1.9-5.9 2 4.9 2 4.1 2-2.6 1.9-2.2 2 5 2-11.3 2 3.3 2 2.2 1.9 1.5 2-.9 2 3.4 2-.5 1.9-4.5 2 3.6 2-.2 2 1.3 2-5.9 1.9.8 2 3.2 2-.2 2 1.3 1.9.8 2-7.1 2 13.6 2-2.2 2-1.9 1.9-2.7 2 7.2 2-.4 2-3.6 1.9 6.6 2-5.5 2-6.6 2 8.6 2 6.1 1.9-7.2 2 1.2 2-6.3 2 6.1 1.9 3 2-5.1 2-1.5 2 .8 2-3.2 1.9 4.6 2 3.3 2 2.5 2-.5 2 1 1.9.8 2 2 2 4.7 2-7.3 1.9-1.8 2 6.8 2-6 2 9.6 2-3.9 1.9-3.5 2 1.4 2-2.7 2-2 1.9-.1 2 3.7 2-3.5 2 5.3 2 2.4 1.9.7 2 .6 2-.6 2 2.9 1.9 2 2-9.3 2 .8 2-.2 2 1.9 1.9 5.2 2-5.9 2 .2 2 6.7 1.9-4.2 2 7.6 2-7.1 2 3.6 2-4 1.9 4.6 2-4.2 2 1 2 .1 1.9 1.1 2-.2 2-.3 2-.2 2 9.7 1.9-3.2 2-.7 2-.3 2-.3 1.9-6.5 2 3.1 2 7.5 2-1.1 2-4.9 1.9 5.6 2-2.2 2 1.8 2-2 1.9 1.3 2 .3 2 .8 2 2.3 2-5.7 1.9 1.3 2 1.8 2-3.9 2 3.1 1.9 2.3 2-.3 2 2 2 2 2-7.5 1.9 6.4 2-4 2 1.1 2 6 1.9-1.3 2 1.2 2-1.4 2-3.1 2 5 1.9 1.6 2 1.2 2-7.6 2 2.3 1.9.7 2 .7 2 4.5 2-7.4 2 6.7 1.9 5.8 2-7.9 2 3.1 2-4.3 1.9-.3 2 2.4 2-1.1 2-.3 2 4.1 1.9 2.1 2 2.2 2-2 2 .6 2 1.6 1.9-.5 2-10.1 2 3.6 2 8 1.9-7.5 2 8.7 2-2.2 2 1.9 2 1 1.9-1.4 2-3.2 2-2.5 2 9 1.9-1.7 2 .5 2-3.7 2-1.6 2 6.5 1.9.6 2-.2 2-4.5 2 2.9 1.9 2.3 2 .2 2 .4 2-2.3 2-5.5 1.9 9.9 2-.2 2-3.9 2 7.6 1.9-5.9 2-1.7 2 1.4 2 4.9 2-8.4 1.9 2.8 2 3 2-3.7 2 7.5 1.9 0 2 3.2 2-4.1"/>
<path id="dn5" d="M0.0 1.7l2 0 2-3.3 1.9 4.6 2 .2 2 3.7 2-5.9 1.9 1.9 2-6.3 2 6.9 2-1.8 2-.2 1.9 6.7 2-5.8 2-.6 2-1.4 1.9.1 2 4.9 2-5.6 2 2.9 2 0 1.9 10.6 2 2.7 2-.5 2-6.2 1.9-1.6 2-2.1 2 1.7 2 7.4 2-2.6 1.9-8.1 2-.2 2 10.7 2-1.9 1.9 3.4 2-5.6 2-3.8 2 .4 2 7.7 1.9 0 2-1.6 2-7.2 2 3.9 1.9 2.4 2 .4 2-.1 2 4.2 2 2.4 1.9-1.6 2-1.2 2 1.4 2-4.5 2 1.6 1.9-1.8 2 5.2 2 8.3 2-5.4 1.9-6.9 2 1.6 2 11.3 2-4.6 2-.9 1.9-1.2 2 1.4 2-1.6 2 1.7 1.9.4 2-5.2 2 1.5 2 2.5 2 5.4 1.9-.6 2-1.2 2-3.8 2 7.1 1.9-4.8 2-5.8 2 3.6 2 7.4 2-7.2 1.9 1.7 2-1.1 2-1.4 2 1.1 1.9 3.5 2 3.9 2-10.7 2 8.8 2-3.3 1.9 5.4 2-6.2 2-4.2 2 3.6 1.9 7.3 2 .3 2-6.9 2-1.5 2 3.5 1.9 2.6 2-4.3 2 2.9 2 2 1.9-1.6 2 1.7 2-2.2 2-1.7 2 3.8 1.9 11.9 2-5.9 2-.1 2 3.3 1.9-1.5 2-7.1 2 8.9 2-1.1 2 .7 1.9 3.6 2 1 2-7.3 2 5.3 1.9-9.8 2 5 2 .2 2-1 2 8 1.9-7.5 2 1.2 2 2 2-1.8 1.9 1.1 2 1.2 2 5.2 2-2.7 2-3.6 1.9 5 2-4.3 2 3 2-1.9 1.9 1.3 2 4.8 2-1.8 2 .9 2 1.6 1.9.6 2 5.2 2-5.3 2-2 2 3.6 1.9 3.1 2-7.5 2-.7 2-2.3 1.9-.2 2 7.9 2-1.5 2 0 2-3.4 1.9 6.2 2 1.9 2-7.9 2 7.1 1.9-2 2-1.1 2 6.4 2-1 2 .1 1.9-.8 2 2 2-6.6 2 3.1 1.9-3.2 2-.6 2 10 2-6.9 2 3.1 1.9-3.1 2-1.9 2-1.1 2 1.1 1.9 4.7 2 3.1 2-1.9 2-.8 2 .9 1.9 1.4 2-2.4 2 3.2 2-1.3 1.9.1 2-3.2 2 5.8 2 1.9 2 1.3 1.9-5.5 2 .2 2 3.1 2-6.5 1.9 8.2 2-3.7 2 .3 2 3.6 2 3.6 1.9-.2 2-6 2 7.3 2-1.9 1.9 1.4 2-2.4 2 2.4 2 0 2 3.3 1.9-4.5 2 2.7 2-2.1 2 6.2 1.9.1 2-3.4 2 .9 2-1.3 2 1.3 1.9-4.3 2-.2 2-1.7 2 1.4 1.9-1.2 2-.1 2 3.3 2 3.9 2-.4 1.9-.9 2 3.5 2-.2 2-5.3 1.9 0 2 6.2 2 2.4 2-1.1 2 4 1.9-8.5 2 0 2 6.8 2-1.6 1.9 1 2-6.6 2 7.9 2 .5 2-8.7 1.9-2.1 2 .5 2 5 2 4.4 2 2.5 1.9-5.3 2 4.6 2-.8 2-.2 1.9-3.9 2 5.5 2-4.4 2 4.5 2 1.5 1.9 2.5 2-4.1 2 .5 2-.3 1.9 1.6 2-.8 2-5.9 2 3.2 2-.6 1.9 3.7 2 1.2 2-4.2 2-6.5 1.9 11.1 2-.6 2 2.9 2-2.6 2 .6 1.9 3.4 2 4.7 2 1.5 2-10.6 1.9 2.3 2 1.6 2-1.8 2 2.2 2-7.2 1.9 5.6 2-1.1 2 2.5 2 7.2 1.9-5.6 2-.6 2 3.3"/>
<path id="dn6" d="M0.0 -5.1l2-.6 2 12.1 1.9-1.2 2 6.4 2-11.4 2-5.8 1.9 9.4 2-14.5 2 16.2 2-2.6 2 12.4 1.9 3.1 2-13.9 2-1.8 2-10.6 1.9 8.1 2-3.6 2 11.1 2-4.8 2-6.4 1.9 6.9 2-5.5 2 .1 2 5.6 1.9 9.3 2-.3 2 5.9 2-13.8 2-6.8 1.9 6.7 2 1.4 2 14.4 2-14.5 1.9 10.4 2-.8 2-16 2 5.4 2 9.9 1.9 2.7 2-6.2 2-6.5 2 4.4 1.9 2.3 2-1.8 2-1.5 2 13.3 2 5.4 1.9-17.8 2 7.7 2 11.7 2-7.3 2-4 1.9.8 2-8.6 2 11.8 2-2.6 1.9 7 2-18.5 2 14.4 2 7.9 2-12.9 1.9-.3 2 9.8 2-8.4 2-3.6 1.9 7.2 2-3.8 2-3.4 2 1.2 2 7.5 1.9-.4 2 2 2 .7 2-1.9 1.9 2.2 2-.9 2-.3 2 .8 2-4.1 1.9 9.3 2 1 2-1.7 2 1.4 1.9-7.3 2-.2 2 2.5 2 1.9 2-4.1 1.9-2.7 2-.5 2 6.8 2 .3 1.9 10.2 2-5.7 2-15.9 2 13.7 2-5.3 1.9-.2 2 10.1 2 7.7 2-4.4 1.9-13.6 2-1.3 2 3 2 7.1 2-4.6 1.9 9.4 2-8.9 2 0 2-.7 1.9-14 2-1.7 2 22.2 2-.7 2 .2 1.9-1.4 2-12.3 2 18 2-.7 1.9-9.8 2 9.6 2-10 2 6.1 2 3.7 1.9-3.7 2 4.4 2-5.8 2-6 1.9 24.1 2-14.2 2 12.8 2 4.2 2-15.6 1.9-1 2 .9 2 7.8 2 .3 1.9-1.7 2 7.9 2-10.4 2 1.5 2-3.4 1.9 17 2 5.5 2-11.2 2-4.7 2-4.7 1.9 5.3 2 3.6 2 1.7 2-10.7 1.9 2.3 2-8.1 2 8.6 2 .2 2 2.5 1.9 2.3 2-3.3 2 8.4 2-1.5 1.9-6 2 5.8 2 10.3 2-7.1 2 1.5 1.9-8.1 2 8 2 .7 2-6.1 1.9 2 2-4.9 2 1.3 2 3 2-4.1 1.9.9 2 6 2-7.5 2 3.9 1.9-1.1 2 2.6 2-1.7 2 5.5 2-4.3 1.9.2 2 2.7 2-.4 2 2.1 1.9-4.2 2-7 2 12.6 2 .5 2 6.7 1.9-4.6 2-3.2 2-2.5 2 9.4 1.9-.5 2-4.8 2-17.9 2 12.3 2 4.6 1.9 5.3 2-.4 2 11.9 2-6.8 1.9-1.8 2-2.1 2 .2 2-14.5 2 3.1 1.9 8.3 2 12.6 2-18.6 2 8.6 1.9 5.5 2-3.6 2-.7 2-8.9 2 5.7 1.9 0 2-1.1 2-5.2 2 3.8 1.9 6.4 2 3.1 2 6.6 2-.7 2 11.8 1.9-20.8 2 4.9 2 1.9 2-7.6 1.9 4.7 2-1.7 2 4.8 2-.4 2-2.2 1.9-9.6 2 17.1 2 .6 2-8 1.9-3 2 5.5 2-.1 2 .2 2-4.3 1.9 12 2-4.4 2-10.5 2 .1 2 10.5 1.9-3.5 2 7.6 2-6.8 2-1.5 1.9 2.7 2-1.1 2 3.2 2-6.7 2-.4 1.9 1.9 2-2.1 2-.6 2 6.3 1.9-1.1 2 3.6 2 11.1 2-14.5 2 4 1.9 1.9 2-12.2 2 10 2 4.6 1.9 9.2 2-10.1 2-1.7 2 5.2 2-8.8 1.9 6.8 2 7.6 2-2.2 2-3 1.9-.5 2-1 2 6.7 2 .9 2 5.5 1.9-8.4 2-12 2 .7 2 15.6 1.9-1.1 2-11.8 2 7.4"/>
<path id="dn7" d="M0.0 5.4l2-9.4 2 .1 1.9 7.4 2-4.3 2 4.6 2-1.5 1.9-3.9 2 5.9 2 1.9 2 .8 2-2.6 1.9-3.2 2-.4 2-2.2 2-.9 1.9 3.8 2 7.9 2 .3 2-4.7 2 0 1.9 1.8 2 1.8 2-2.4 2 5.3 1.9-2 2-2.6 2-3 2-.4 2 6.4 1.9 3.6 2-3.1 2-1.7 2 5.7 1.9 1.9 2-2.3 2-2 2-1.5 2 1.4 1.9.3 2-2.8 2 3.3 2 1.4 1.9 4 2-4.5 2-3.3 2 .9 2 5.2 1.9-4.6 2 3.1 2-5 2 3.3 2-1.4 1.9 2.6 2 1.3 2 3.1 2 .9 1.9-5.4 2 5.3 2-6 2 8.7 2-2.4 1.9.4 2-6.2 2 5.3 2 1.9 1.9 1.5 2-4.1 2 1.9 2 .5 2 4.8 1.9-2.3 2-.7 2 1.4 2-6.8 1.9-3.7 2 7.5 2 3.5 2-3.1 2-.9 1.9 5.5 2-3.1 2 2.7 2 .7 1.9-.5 2-3.2 2 1.8 2 .1 2 .8 1.9 6.5 2-7.9 2 2.3 2 2.8 1.9 2 2 1.9 2-4.4 2-3.5 2 3.2 1.9 2 2-1.7 2 10.7 2-7.2 1.9-.6 2-2.6 2-1.9 2 4.2 2 4.2 1.9-4.8 2 .9 2-1 2-.7 1.9 2.6 2 3 2-2.2 2 .1 2-3.5 1.9 3.1 2-2 2 .4 2 2.7 1.9 8.6 2-1.4 2-6.3 2-1.7 2 5.2 1.9 4.4 2-11.4 2 5 2 7.7 1.9-5.8 2-4.7 2 10.9 2-3.8 2 .3 1.9-.7 2-2.1 2 4.8 2 2 1.9.8 2-6.5 2-1.9 2 7.2 2-5.1 1.9 4.2 2-.5 2 1.3 2 .2 2-5.2 1.9 2.8 2 4.4 2-6.5 2-2.5 1.9 5.7 2-3.1 2-1.5 2 7.8 2 5.4 1.9-.1 2 .5 2-2.5 2-7.7 1.9 5.6 2 2.5 2-6.1 2 4.1 2-.5 1.9-5.3 2 10.1 2 2.1 2-2.6 1.9-1.9 2 .2 2-.9 2 5.3 2-.8 1.9 2.3 2-2.5 2-2.6 2-.4 1.9 1.3 2-2.1 2 7.5 2-2 2-2.1 1.9 5.9 2-11.7 2 7.6 2-2.1 1.9 3.1 2 .3 2 .2 2-5.1 2 4.4 1.9-.7 2-.4 2 1 2-.3 1.9 4.9 2 4.6 2-3.4 2 .7 2 4.9 1.9-9.3 2 7.2 2-8.4 2 7.4 1.9.8 2-5 2-.5 2-1.4 2 3.2 1.9 2.3 2 7.9 2-7.2 2-.2 1.9.4 2-1.6 2-3.1 2 6.6 2 .2 1.9.2 2 5 2-7.3 2 2.3 1.9 6 2-5 2-.5 2-.1 2 5.1 1.9 1.1 2-3.8 2-3 2 5.2 1.9-1.5 2 .6 2-1.3 2-1.9 2 .4 1.9-1.4 2-2.1 2 7.4 2-3.5 1.9 3.8 2 1 2 1.3 2-2.8 2 6.1 1.9 1 2-1.5 2 1.2 2 2.7 2-5.2 1.9.2 2 2.5 2-3.7 2-4 1.9 7.6 2-4.3 2 4.5 2-4.3 2-.5 1.9 6.4 2-7.6 2 7 2 4.5 1.9-1.8 2-3.5 2 2.5 2 2.3 2-5.7 1.9-.1 2 3.8 2-6.4 2 9.5 1.9.2 2 .8 2-1.5 2-1.5 2-2.3 1.9 3.8 2-1.9 2 2.3 2-5.8 1.9 8.3 2-.6 2-3.4 2-1.8 2 1.9 1.9 1.2 2-4.1 2 4.4 2 1.3 1.9 2.9 2-4.4 2 1.9"/>
<path id="dn8" d="M0.0 4.1l2 1.7 2-4.5 1.9-1.1 2-1.4 2 3.5 2 5.2 1.9-4.4 2-.2 2 .7 2-1.5 2 3.5 1.9-1.1 2 0 2-.9 2-2.3 1.9 5 2-1.4 2 .2 2 .3 2-2.4 1.9-.6 2 4.7 2-1 2 .8 1.9 2.3 2-2.4 2 .2 2-1 2 1.6 1.9 2.1 2 .6 2-.4 2-1.6 1.9 2.3 2-.4 2-.7 2-3.2 2 3 1.9 0 2 2.4 2 1.5 2-2.2 1.9 3 2 1 2-3.3 2 2.1 2-.1 1.9 2.5 2-.4 2 .5 2 .8 2-2.2 1.9 1.8 2 1.5 2-.1 2-.4 1.9-3.6 2 4.1 2 .3 2-2 2 4.4 1.9-1.4 2-1.1 2-.7 2 1.6 1.9 1 2-.2 2 1.7 2 1.1 2-4.2 1.9 2.5 2 2.7 2-3 2 3.4 1.9.9 2-.4 2-4.3 2 1.9 2-1.4 1.9 2.1 2 1.2 2 1.5 2-.7 1.9-1.9 2 .5 2 2.7 2 .8 2-2 1.9 1.9 2 .5 2 2.6 2-.4 1.9-2.8 2-.4 2 1 2-.7 2 4.3 1.9-.8 2 .4 2-.4 2-4.8 1.9 2.4 2 5.9 2-2.1 2-2.9 2-1.8 1.9 2.4 2 1.2 2 3 2 1.4 1.9-1.4 2-.6 2-2.7 2-.9 2 1.8 1.9 3.9 2 1 2 .6 2-1.5 1.9 1.8 2 2.5 2-.5 2-1.2 2-2.5 1.9-.3 2 2.5 2 3 2 1.1 1.9-5 2 1.8 2-.4 2 1.3 2 1.1 1.9-1.6 2 1.5 2-.7 2 4.9 1.9-3.2 2-5.7 2 4.8 2 1.9 2 2.4 1.9-2.3 2 2.6 2 .4 2-.2 2 1.9 1.9-2.9 2 3.8 2-3.7 2 3.4 1.9.1 2-2 2 1.8 2-4.8 2 2.6 1.9 0 2 1 2-1.1 2 3 1.9-.9 2-.4 2-1.7 2 1.2 2 5 1.9.9 2-4.5 2-1.4 2 .6 1.9-.6 2 1.5 2 .2 2 .9 2 2.7 1.9 2.8 2-2.1 2 .3 2 1.7 1.9.3 2-.2 2-.5 2 .3 2-1 1.9 1.9 2-4.5 2 .8 2 3.9 1.9-.1 2 1.8 2-1.3 2-5 2 4.8 1.9 3 2-1.1 2-1 2-1.2 1.9 4.2 2 1.2 2-1.9 2 1.9 2-7.3 1.9 10 2-1 2-.6 2 1.2 1.9-2.5 2 1.2 2 .5 2-2.5 2 1.3 1.9 1.5 2 2.1 2-3.2 2 3.8 1.9-3.2 2 2.9 2-4.8 2 3 2 1.6 1.9.9 2 .2 2-1.6 2 2.8 1.9 1.1 2 1.5 2-2.9 2 2.6 2 1 1.9-4.6 2 6.3 2 2.1 2-3.3 1.9-1.4 2-1.9 2 1.2 2 1.4 2-1.3 1.9 4.7 2 1 2-2.4 2-5.1 1.9 4.8 2 1.1 2 .9 2 1.6 2 2.1 1.9-4.1 2-.3 2 2.1 2-.4 2-1 1.9 2.4 2 1.2 2 2 2-1.3 1.9-3.8 2 3.6 2 .3 2-1.9 2 .4 1.9 0 2 0 2-.1 2 1.7 1.9.4 2-3 2 3.1 2-.2 2 2.8 1.9-2.3 2-1 2 2 2 .5 1.9 2.1 2 .7 2-1.3 2-2.8 2 3.9 1.9-3.4 2 1.1 2 2.3 2 2.5 1.9-4.3 2 1.5 2 .7 2-1.5 2 2.9 1.9 3.6 2-4.1 2 4.7 2 .7 1.9-1.5 2-2.4 2 2.1"/>
<path id="dn9" d="M0.0 8.3l2-15 2-1 1.9 9.7 2 5.6 2-1 2 2 1.9-14.9 2 8.7 2 6.3 2-7.7 2 6.6 1.9 9.1 2-10.7 2 1.8 2-9.9 1.9-6.1 2 8.3 2 6.3 2-6.4 2 3.2 1.9 13.8 2-5.8 2 2.3 2-4.2 1.9 9.5 2-21.1 2 8.7 2 1.7 2 4.1 1.9-9 2 6.1 2 6.5 2 7.2 1.9-18.3 2 11.3 2-12 2-7.1 2 14 1.9 7.2 2-14.9 2 11 2-3.1 1.9 19.6 2-4.6 2-13.5 2-7.8 2 11.1 1.9-8.6 2-3 2 6.9 2-4 2 13.2 1.9-4.9 2-11.8 2 19.8 2-8.5 1.9-1.4 2 8 2 7 2 1 2-1.7 1.9-3 2-3.1 2-3.6 2-6.4 1.9 5.4 2 4.7 2 10.5 2-7.4 2 6.7 1.9-7.7 2-.9 2-5 2 8.8 1.9 1.5 2 .3 2-2.7 2 3.1 2-12.4 1.9 10 2-10.5 2 14.7 2-5.2 1.9 9.4 2-12.1 2-.3 2-2.7 2-6.6 1.9 1.6 2 6.6 2 .7 2 5 1.9-5.1 2 14.9 2-11 2 12 2-3.1 1.9-11.9 2 7 2 1.8 2 1.5 1.9-4.8 2 10.5 2-6.9 2-10.9 2 10.1 1.9-.4 2-1.3 2 .4 2 3.3 1.9 8.9 2-4.1 2 3.5 2-11.1 2 2 1.9 8.7 2-15.3 2 16.2 2-.3 1.9-18.6 2 18.6 2 7.7 2-8.3 2-.9 1.9 8.5 2-20.6 2-3.5 2 9.7 1.9 14.1 2-1.4 2-24.2 2 7.5 2 4.9 1.9 10.9 2-9.1 2-5.4 2 9.4 1.9 6.4 2-7.6 2 11.4 2-2 2-16.6 1.9 1.2 2 4.1 2-.9 2 12.6 2-10.7 1.9-8.8 2-3.2 2 13.5 2 2.6 1.9 5.4 2-8.4 2-3.6 2 1.6 2 8.9 1.9 3.8 2-17.1 2 6.4 2-1.3 1.9 9 2 9.6 2-10.3 2-4.7 2 14.9 1.9 2.1 2-6.7 2-6.9 2 4.7 1.9 2.6 2 8.1 2 .1 2-7.7 2-1.3 1.9 2.6 2 1.4 2-2.2 2 8.6 1.9-15.4 2-4.4 2 13.2 2 5.1 2-1.1 1.9-5.4 2 8.1 2-5.9 2-1.8 1.9-1.6 2-3.8 2 6.4 2 7.2 2-16.9 1.9 2.6 2 8.5 2-.6 2 13 1.9-1.6 2-5.2 2-2.7 2-.7 2-1.9 1.9 5.4 2 16.1 2-12.5 2-6.9 1.9 7.9 2-2.8 2-9.4 2 5.3 2 .4 1.9 16.2 2-14.2 2 7.5 2-12.9 1.9 15.3 2 .9 2-.3 2-9.1 2-8.3 1.9 2.6 2 3.4 2 1.3 2 4.2 1.9 3.8 2-.2 2-9.1 2-7.1 2 10.3 1.9-.8 2 7.2 2-.1 2-2 1.9-2.3 2-3.3 2 .4 2 .2 2 11.5 1.9 4.3 2-1.6 2-9.3 2-3.1 1.9-.5 2-2.4 2-1.6 2 8.1 2 4.3 1.9-10.6 2-6 2 6.2 2 16 2-.3 1.9 2.2 2-4.2 2 8.5 2-14.2 1.9-.4 2 6.4 2-8.8 2 5 2 1.3 1.9-.3 2 4.5 2 7.1 2-8.8 1.9 1 2 12.7 2-5.2 2-3 2-6.5 1.9 1.6 2-3.4 2 1.3 2 5.4 1.9 9.5 2-13.6 2 7.9 2-5.4 2-3.4 1.9 9.7 2 4.1 2-6.4 2 1.3 1.9-3.5 2-4.3 2 12.7 2 1 2-20.8 1.9 13.1 2-6.2 2 5.2 2 12.1 1.9-2.1 2-8.4 2 7.8"/>
<path id="dn10" d="M0.0 -2.9l2 6 2 .1 1.9 1.3 2-3.5 2-10.5 2 5.7 1.9 3 2-.5 2 7.5 2 3.5 2-13 1.9 7.5 2 .2 2-5.4 2 8.2 1.9-3.4 2-.2 2 4.5 2-2.7 2 10 1.9-2.9 2-13.9 2 11.4 2-1.7 1.9-1.7 2-5.7 2 7.1 2-1.7 2-1.8 1.9 3.4 2 3.4 2-13.1 2 7.6 1.9 2.4 2-3.8 2 12.9 2-5 2-7.9 1.9 1.2 2 13.5 2-8.6 2-4.9 1.9 12.7 2-2.5 2 3.2 2-3.6 2-8.2 1.9 5.7 2 2.6 2-.9 2 3.7 2-2.1 1.9 5.9 2 1.7 2-11.5 2-4.4 1.9-5.9 2 14.4 2-.1 2 3.1 2-7.2 1.9 7.4 2 10.4 2-8.6 2 5.2 1.9-8.6 2-2.8 2 6.2 2-2.3 2-1.3 1.9 6.8 2-2.7 2-7.3 2 3.1 1.9 12.9 2 1.4 2-4.3 2-.2 2-12.3 1.9 10 2-.2 2 1.6 2 4.2 1.9 1.1 2-2.5 2 3.9 2 .7 2 1.6 1.9-4.1 2-5.4 2-1.8 2 2.6 1.9.5 2-.5 2-2.5 2-5.9 2 15 1.9-2.2 2 1.6 2 2.9 2-11.1 1.9 3.8 2-.3 2-3.5 2 2 2 11.2 1.9-6.8 2-3.1 2-3.2 2 5.6 1.9 3.3 2-3.4 2-4.7 2 4.1 2 6.7 1.9 3.5 2-10.8 2 3.4 2 3.4 1.9 2.2 2 1.7 2-10.1 2-4.3 2 7.1 1.9 7.8 2-.2 2 .1 2 2 1.9-1.7 2 8.4 2-9.2 2 7.9 2-3.5 1.9-8.9 2-1.1 2 1.9 2 4.6 1.9-5.2 2 1.4 2 3 2 10.3 2-8.9 1.9 13.3 2-11.4 2-7.7 2 13.5 2-7.1 1.9.4 2 1.6 2-2 2 9.4 1.9-1.5 2-4.4 2-.6 2 9.1 2-8.3 1.9-4.9 2 2.6 2 6.5 2 .3 1.9.3 2 2.7 2 3.8 2-8.6 2-.8 1.9 3.8 2-6.3 2 9 2 .6 1.9-2.9 2-10.4 2 11.9 2-4.1 2-2.9 1.9 5.5 2 4.7 2-.5 2-4.3 1.9 14.2 2-16.4 2 2.4 2-2.2 2 7.8 1.9-7.3 2 8.5 2 4 2-5.2 1.9-10.1 2 1.9 2 4.8 2 8.9 2-8.1 1.9 2 2 9.6 2 2.2 2-8.6 1.9-.8 2-.2 2 1.4 2-.5 2 6.9 1.9-4.7 2-3.2 2-3.4 2 2.4 1.9 2.3 2 2.1 2-1.7 2 5.3 2-1.6 1.9.8 2 .9 2-4.6 2 5.7 1.9-5.9 2 5.1 2 5.1 2-5.8 2-6.4 1.9-1.3 2 11.5 2 .7 2 1 1.9-3.7 2-10.1 2 14.1 2 1.2 2-11.9 1.9 16.1 2-16 2 10.7 2 3.2 1.9-8.5 2 .5 2 5.9 2 12.3 2-9.2 1.9-1.3 2 2.3 2-1.1 2 6.1 1.9-2 2-1 2 .2 2-3.3 2-1.2 1.9 5.9 2-4.7 2 2.4 2 5.7 2-6.2 1.9-6.4 2 6.7 2-1.7 2 4.6 1.9 3.5 2-4.2 2 9.8 2-8.7 2-1.9 1.9-1.4 2-2.8 2 3.3 2-10.7 1.9 15.4 2-6.5 2 7.4 2 .1 2-5.8 1.9-2.9 2 5.9 2-3 2 12.3 1.9-8.1 2 7.5 2-2.3 2-2.5 2 1 1.9-5.1 2-1.6 2-2.4 2 1.3 1.9 4.5 2 10.8 2-7.4 2 .8 2 6.9 1.9-16.7 2 5.9 2 10.5 2 3.5 1.9-2.4 2-2.6 2-2.8"/>
<path id="dn11" d="M0.0 0.3l2 .1 2-4.2 1.9 4.1 2 3 2-2.1 2-.3 1.9 1.6 2-.2 2-.1 2 0 2-5.9 1.9 7.1 2 .6 2 3.8 2-3 1.9-4 2-1.6 2 3.7 2 3.4 2-.1 1.9-1.4 2-1.4 2 2.8 2 2.1 1.9-.1 2 5.4 2-.5 2-5.7 2-2.4 1.9.1 2 1.5 2 4.3 2 1.4 1.9-.3 2 .2 2 .1 2-.7 2 1.5 1.9-1.7 2 2.2 2-2.1 2 4.5 1.9-6.6 2 2.8 2-1.2 2 1.2 2-.5 1.9 1.4 2 1.5 2-1.2 2-2.3 2 3.1 1.9.8 2 3.8 2-3.1 2-2.4 1.9 2.3 2-1.6 2 .2 2 2.5 2 1.9 1.9 1 2 1 2-.8 2-1.6 1.9 1.9 2-4.6 2 3.5 2 .4 2 1.6 1.9 2.6 2-2.7 2 .2 2-.1 1.9-2.1 2 5.2 2-1.8 2-3.7 2 .9 1.9 1.7 2-.4 2 4 2 2.4 1.9-4.5 2 1.9 2 .3 2 2.2 2-1.6 1.9 5.3 2 .3 2-1.9 2 3.4 1.9-3.5 2 1.2 2 .2 2-1.4 2-1.4 1.9 2.7 2 .2 2-3.4 2 5.8 1.9.2 2-6 2 4.7 2 .3 2 2.2 1.9-2 2 .7 2-2 2 4.3 1.9-5.6 2 2.6 2 .9 2-3 2 2.4 1.9-4.5 2 7.4 2 .5 2-1.3 1.9-2.4 2 4.7 2-1.5 2-1.4 2-.8 1.9 2.2 2 1.4 2-.5 2 2.1 1.9-4.9 2 6 2-1.1 2-.6 2 3.1 1.9 5.1 2-4.1 2-2.2 2 2.2 1.9-2.4 2 1.9 2 2.5 2-1.9 2-3.3 1.9 1.7 2 4.1 2-2.7 2 .7 2-.4 1.9 2.3 2 .6 2 .1 2-.8 1.9.8 2 .4 2 2.2 2-3.5 2 .2 1.9-1.1 2 3.9 2-3.1 2 4.4 1.9-1.6 2 4.5 2-1.5 2 .6 2 1 1.9-1.2 2-1.1 2 2 2-1 1.9-.2 2 2.4 2 .7 2-3.1 2 0 1.9 1.8 2 .1 2 .9 2 2.3 1.9 3.2 2-4.1 2-3.7 2 .9 2-1.3 1.9 3.5 2 1.8 2 4.2 2-.6 1.9-5.3 2 .7 2 1.4 2 2.5 2-.3 1.9-.9 2 3.4 2-3.1 2-2.7 1.9 1.8 2 2.7 2-4.3 2-.7 2 13.4 1.9-3 2-3.4 2-4.6 2 1.9 1.9.5 2 2 2 4.7 2-5.7 2 .1 1.9 2.6 2-1.7 2 .8 2 5.6 1.9-2.5 2-.9 2 3.2 2-.4 2 0 1.9-1.4 2 .3 2 .1 2 .8 1.9 1.1 2 2.5 2-4.4 2 4 2-3.2 1.9.4 2 8.1 2-5 2-1.2 1.9-1.3 2 2.9 2-.7 2 1 2-2.5 1.9-1.1 2 1 2 1.5 2 1.2 1.9 3.1 2-3.8 2 .5 2 1.8 2-.8 1.9 2.9 2-3.9 2 1.2 2-1.1 2 6.8 1.9-1.3 2 .1 2-2.9 2 3 1.9-1.5 2-3.1 2 5.5 2-.1 2-5 1.9 4.8 2 .8 2 2.7 2 .5 1.9-6.6 2 1.8 2 4.7 2 .3 2 .7 1.9 0 2 2.2 2 .5 2-4.9 1.9-1.2 2 5.4 2-4.2 2-1.1 2 3.9 1.9.3 2 2.7 2-2.2 2 .5 1.9.4 2-3 2 1.9 2 2.9 2-.4 1.9-2.6 2 5.4 2-.4 2 .8 1.9-2.1 2-3 2 2.8"/>
<path id="dn12" d="M0.0 -0.7l2-2.9 2 2.6 1.9 2.3 2 1 2 3.7 2-8.4 1.9 4.8 2 1.6 2-3.4 2-1.2 2 1 1.9 1.3 2 3.9 2-6.9 2 2.9 1.9 3.5 2-.8 2-.8 2-3.7 2-1.5 1.9 7.6 2 10.1 2-7.1 2 2.3 1.9-2.5 2-6.5 2 .8 2 11 2 .8 1.9-3.2 2 1.1 2 1.2 2 .4 1.9 4.8 2-13.2 2 5.2 2 .4 2 .9 1.9-5 2-4.3 2 6.2 2 3.1 1.9-.4 2 9.8 2-.5 2 .6 2-13.7 1.9 1.7 2-.9 2 .4 2 1.2 2 10.2 1.9-4.4 2-2.7 2 1.9 2-2.8 1.9-2.4 2 5.4 2 4 2-5.8 2 6.6 1.9 1.6 2-7.1 2 3.6 2 1.1 1.9-2.6 2-.2 2-11.8 2 11.8 2 1 1.9 9.9 2-5.8 2 .3 2-4.7 1.9 10.7 2-12.3 2 9.6 2-6.2 2 4.9 1.9 1.3 2-4.2 2 6.5 2-1.2 1.9 3.2 2 1.5 2-5.3 2-4.2 2 6 1.9 2.4 2-2.3 2 8.8 2-3.9 1.9-9.6 2 2.6 2 6.4 2-5 2-2.7 1.9 5.3 2-1.3 2-8.3 2 5.9 1.9 6.5 2 3.4 2-6.8 2-6.3 2 5.1 1.9-3.8 2 12.2 2-4.6 2-1.1 1.9-1.6 2-2.1 2 8.1 2 3.3 2-4.2 1.9.1 2 7.8 2-1.1 2-9.3 1.9 1.2 2 4.4 2-.3 2-3.2 2-.9 1.9 7.7 2-1.5 2-11.7 2 8.2 1.9 3 2 9.6 2-5.9 2 6.7 2-7.4 1.9.7 2-.8 2 1.9 2-3.7 1.9-1.3 2-4 2 11.8 2-3.1 2-5.6 1.9.9 2-2 2 15.2 2-7.9 2 2.5 1.9-.5 2-.3 2-7.8 2 3.7 1.9 6.7 2-3.5 2 1.9 2-6.3 2 6 1.9-3 2 .7 2 2.6 2 3.7 1.9 6.1 2-8.2 2 .8 2-3.3 2-.9 1.9 3.6 2-.5 2 .3 2 4.4 1.9 4.1 2-4.8 2 .2 2 .2 2 7.2 1.9-7.3 2-.1 2 2 2-3.5 1.9 5.1 2-3.4 2-8.3 2 4.9 2-1.8 1.9 10 2-1.5 2-8.3 2 10.6 1.9 2.1 2-10.6 2-.8 2 14 2-6.6 1.9 9.7 2-8.1 2-5.5 2 2.8 1.9-1.1 2 5.3 2-6.8 2 3.8 2 2.8 1.9 4.1 2-.4 2 .1 2-3 1.9 4.7 2-5.1 2-2.9 2 14 2-6.6 1.9-2.6 2 4.4 2-.6 2-2.2 1.9-3.1 2 3.7 2-2.8 2 1.7 2 4.6 1.9 2.3 2 3.3 2-6.9 2-2.6 1.9 2 2 6.7 2-7.7 2 2.6 2-.1 1.9 1.5 2-1.7 2-2.7 2 8 1.9-.3 2-3.3 2 3.7 2-1.9 2-.4 1.9 1.2 2-.2 2 3 2-5.7 1.9-4.2 2 6.7 2 3.1 2 3.9 2-6.5 1.9 10.9 2-2.6 2-7 2 4.3 2-6.8 1.9 4.4 2 7.4 2-1.4 2-7.4 1.9-5.7 2 5.2 2 5.8 2-2.4 2 10.8 1.9-9.4 2 3.7 2 2.3 2-2.1 1.9-2.4 2-.2 2 4.7 2-8.2 2 6 1.9 1.1 2 .7 2 5 2-1.5 1.9-2.6 2-7.4 2 6.1 2 14.2 2-14.7 1.9-6.2 2 6.6 2 6.8 2-7.7 1.9 6.6 2-2.7 2 .4 2-2.6 2-1.7 1.9-3.8 2 3.7 2 7.8 2-.5 1.9 2.3 2-4.9 2-.2"/>
<path id="dn13" d="M0.0 6.6l2-10.3 2-.2 1.9 1.6 2 2.5 2-4.3 2 5.2 1.9-2.7 2 .6 2 3.9 2-2.8 2 5.3 1.9-3.8 2 1.4 2-2.5 2-.3 1.9 2.2 2-2.5 2 6.8 2 .7 2-5.7 1.9 10.3 2-5 2 .7 2-1.4 1.9 4 2-6.4 2 4.5 2-5.9 2 3.9 1.9 1.3 2 8.7 2-9.7 2 3.2 1.9 3.2 2 5.2 2 .3 2-9.8 2-1.9 1.9 4 2-3.3 2 7.2 2 .2 1.9 3.3 2-4.3 2-3.3 2 .2 2 3.7 1.9-2.6 2-.1 2 5.2 2-.6 2-1 1.9 2.7 2 5.2 2-5.9 2-.9 1.9 3.2 2-2.9 2-1.9 2 1.9 2 .3 1.9 2.1 2 4 2-6.2 2 5.8 1.9-4.7 2 3.9 2 3.5 2-10.6 2 4.9 1.9 5.3 2 4 2-4.1 2-6 1.9.1 2 4 2 1.6 2 1.1 2-2.7 1.9 2.2 2 2 2 2.9 2-10.9 1.9 10 2-3.9 2-2.8 2 .8 2-.9 1.9.6 2 4.2 2-2.7 2 1.8 1.9 2 2 6.9 2 .5 2-2 2-6 1.9-3.7 2 .8 2 3.9 2 2.6 1.9-.5 2 .1 2 1 2 3.1 2-.7 1.9-2.7 2-1.7 2-1.7 2 4.5 1.9 3 2 .5 2-3.9 2 3.1 2 2.1 1.9-3.6 2-4.1 2-.9 2 5.4 1.9.3 2 4.4 2 3.6 2-11.1 2 2.4 1.9 6.1 2-1.3 2 2.8 2-1.2 1.9-2.2 2 2.2 2-2.1 2-.2 2-4.1 1.9 11 2-1 2 1.9 2-2.6 1.9-3.7 2-4 2 5.3 2-2.6 2 3.6 1.9 5.5 2-5.8 2 .7 2 6.1 2-6.9 1.9-5.1 2 5.3 2-3.8 2 10.4 1.9-.3 2-1.3 2 .6 2-2.6 2 1.7 1.9-1 2 2.5 2 0 2-1.1 1.9 7.1 2-7.8 2 6.8 2-3.7 2-3 1.9 2.4 2 7.1 2-6 2-6.6 1.9 6.9 2-1.3 2 .3 2 4.9 2 3.5 1.9-6.2 2 .9 2 4.3 2-7.3 1.9 5.6 2-.7 2 3 2-4.9 2 3 1.9 1.8 2-1.4 2 2.2 2-5.6 1.9 1.1 2-2 2-1.7 2 12.4 2-1.1 1.9 2.7 2-5 2-4.5 2 .7 1.9.2 2 .4 2 7.3 2-5 2 6.6 1.9.9 2-10.5 2 5.6 2 4.6 1.9 1 2-1.4 2 1.9 2 3.4 2-3.4 1.9-1.4 2 .7 2-5.6 2 8.4 1.9-6.7 2 4.5 2 2 2 .2 2-3.4 1.9-4.8 2 3.8 2 2 2-1.7 1.9.4 2 3.8 2-1.7 2 2.6 2-.2 1.9 3.1 2-3.6 2 .1 2 3.4 1.9-1.4 2 3 2-.3 2-6.9 2 5.1 1.9-4.5 2 5.4 2 .3 2 5.4 1.9-6.2 2-6.2 2 8.2 2-2.9 2 .2 1.9 4.7 2-5.4 2 5.4 2 1.9 2-1.8 1.9-3.5 2-4.2 2 5.8 2 5.2 1.9.4 2-7.1 2 2.5 2 10.2 2-12.6 1.9 4.6 2 6 2-1.7 2 .6 1.9-1.7 2 1.1 2 3.5 2-3.4 2-6 1.9 8.1 2-3.5 2 .7 2-3.1 1.9 5.3 2-.1 2-2 2 1.2 2-3.2 1.9 1.4 2-1.1 2 7.7 2-4 1.9-.8 2-1.3 2 5.6 2 2.8 2-1.5 1.9-7 2 5.3 2 2.5 2-2.7 1.9 3.3 2-1.5 2-7.2"/>
<path id="dp00" fill="currentColor" d="M-4.8 -0.7l1.8-2.5.8-7.9.4-49.2.2-72.5.3-94.1.3-113.3.4-80.2.6-11.3.6 11.5.4 80.3.3 113.4.3 94.1.2 72.6.4 49.4.8 8.1 1.8 3z"/>
<path id="dp01" fill="currentColor" d="M-5.1 -0.8l1.9-2.4.9-8 .4-49.6.2-73.1.3-94.9.3-114.2.5-80.8.6-11.4.6 11.5.5 81 .3 114.4.3 94.9.2 73.2.4 49.7.9 8.2 1.9 3.1z"/>
<path id="dp02" fill="currentColor" d="M-5.1 -0.8l1.9-2.4.9-8.1.4-50 .2-73.7.3-95.6.3-115.2.5-81.5.6-11.4.6 11.6.5 81.7.3 115.2.3 95.7.2 73.8.4 50.1.9 8.3 1.9 3.1z"/>
<path id="dp03" fill="currentColor" d="M-4.5 -0.7l1.7-2.5.8-8.1.3-50.5.2-74.3.2-96.4.3-116 .4-82.2.6-11.6.6 11.8.4 82.3.3 116.1.2 96.5.2 74.4.3 50.5.8 8.3 1.7 3.1z"/>
<path id="dp04" fill="currentColor" d="M-4.3 -0.6l1.6-2.6.8-8.2.3-50.8.2-74.9.2-97.2.3-117 .4-82.8.5-11.7.5 11.8.4 83 .3 117.1.2 97.2.2 75 .3 50.9.8 8.4 1.6 3z"/>
<path id="dp05" fill="currentColor" d="M-3.6 -0.5l1.4-2.7.6-8.2.3-51.3.1-75.5.2-97.9.2-118 .4-83.4.4-11.8.4 11.9.4 83.6.2 118 .2 98 .1 75.5.3 51.4.6 8.4 1.4 3z"/>
<path id="dp10" fill="currentColor" d="M-4.7 -0.7l1.8-1.1.8-3.9.4-24.6.2-36.2.2-47.1.3-56.6.4-40 .6-5.6.6 5.7.4 40.2.3 56.7.2 47.1.2 36.4.4 24.7.8 4.1 1.8 1.6z"/>
<path id="dp11" fill="currentColor" d="M-3.6 -0.5l1.4-1.2.6-4 .3-24.8.1-36.5.2-47.4.2-57.1.4-40.4.4-5.7.4 5.8.4 40.5.2 57.2.2 47.4.1 36.6.3 24.9.6 4.2 1.4 1.5z"/>
<path id="dp12" fill="currentColor" d="M-3.2 -0.5l1.2-1.2.5-4 .3-25 .1-36.8.2-47.8.2-57.6.3-40.8.4-5.7.4 5.9.3 40.8.2 57.6.2 47.9.1 36.9.3 25.1.5 4.1 1.2 1.6z"/>
<path id="dp13" fill="currentColor" d="M-3.5 -0.5l1.3-1.2.6-4 .3-25.2.1-37.2.2-48.2.2-58 .4-41.1.4-5.7.4 5.9.4 41.1.2 58.1.2 48.3.1 37.2.3 25.2.6 4.2 1.3 1.6z"/>
<path id="dp14" fill="currentColor" d="M-4.0 -0.6l1.5-1.2.7-4 .3-25.4.2-37.5.2-48.5.2-58.5.4-41.4.5-5.8.5 6 .4 41.5.2 58.5.2 48.6.2 37.5.3 25.5.7 4.3 1.5 1.6z"/>
<path id="dp15" fill="currentColor" d="M-4.9 -0.7l1.9-1.2.8-4 .4-25.6.2-37.7.2-49 .3-58.9.5-41.7.6-5.9.6 6.1.5 41.8.3 59 .2 49 .2 37.8.4 25.7.8 4.3 1.9 1.7z"/></defs>
<g id="panel-a">
<g stroke="#000" stroke-opacity=".15" stroke-width="3" fill="none">
<line x1="351.5" y1="684.1" x2="351.5" y2="205.2"/>
<line x1="351.5" y1="684.1" x2="879.2" y2="762.2"/>
<line x1="407.3" y1="655.6" x2="407.3" y2="176.7"/>
<line x1="407.3" y1="655.6" x2="935" y2="733.7"/>
<line x1="463.1" y1="627.2" x2="463.1" y2="148.3"/>
<line x1="463.1" y1="627.2" x2="990.8" y2="705.3"/>
<line x1="518.9" y1="598.8" x2="518.9" y2="119.9"/>
<line x1="518.9" y1="598.8" x2="1046.6" y2="676.9"/>
<line x1="574.7" y1="570.3" x2="574.7" y2="91.4"/>
<line x1="574.7" y1="570.3" x2="1102.4" y2="648.4"/>
<line x1="685.8" y1="583.1" x2="685.8" y2="104.2"/>
<line x1="401.2" y1="728.1" x2="685.8" y2="583.1"/>
<line x1="791.4" y1="598.7" x2="791.4" y2="119.8"/>
<line x1="506.8" y1="743.7" x2="791.4" y2="598.7"/>
<line x1="896.9" y1="614.4" x2="896.9" y2="135.5"/>
<line x1="612.3" y1="759.4" x2="896.9" y2="614.4"/>
<line x1="1002.5" y1="630" x2="1002.5" y2="151.1"/>
<line x1="717.9" y1="775" x2="1002.5" y2="630"/>
<line x1="295.7" y1="682.4" x2="580.3" y2="537.4"/>
<line x1="580.3" y1="537.4" x2="1108" y2="615.5"/>
<line x1="295.7" y1="607.7" x2="580.3" y2="462.7"/>
<line x1="580.3" y1="462.7" x2="1108" y2="540.8"/>
<line x1="295.7" y1="533" x2="580.3" y2="388"/>
<line x1="580.3" y1="388" x2="1108" y2="466.1"/>
<line x1="295.7" y1="458.3" x2="580.3" y2="313.3"/>
<line x1="580.3" y1="313.3" x2="1108" y2="391.4"/>
<line x1="295.7" y1="383.6" x2="580.3" y2="238.6"/>
<line x1="580.3" y1="238.6" x2="1108" y2="316.7"/>
<line x1="295.7" y1="308.9" x2="580.3" y2="163.9"/>
<line x1="580.3" y1="163.9" x2="1108" y2="242"/>
<line x1="295.7" y1="234.2" x2="580.3" y2="89.2"/>
<line x1="580.3" y1="89.2" x2="1108" y2="167.3"/>
</g>
<g stroke="#1a1a1a" stroke-width="3.7" fill="none" stroke-linejoin="miter" stroke-linecap="square">
<polyline points="580.3,88.6 580.3,567.5"/>
<polyline points="295.7,712.5 580.3,567.5 1108,645.6"/>
</g>
<g fill="none" stroke-width="2.5" stroke-linejoin="round">
<path class="g" d="M580 540l3 6 2 6 2-9 3 8 2 1 2 1 3-10 2 4 2 13 3-14 2-10 2 0 2 14 3-1 2-3 2-2 3 5 2 7 2-8 3-1 2 11 2-3 3-4 2 1 2-2 3-2 2 2 2 4 3 8 2-10 2-5 3-4 2 11 2 2 3-8 2-1 2 7 3-1 2 8 2-6 2 7 3-2 2 0 2 2 3 10 2-5 2-8 3 2 2 2 2-4 3-1 2-1 2 9 3-3 2 2 2 4 3 4 2-7 2 3 3-15 2 10 2 3 3 1 2-12 3-243 3 109 2 33 3-84 2 18 3 81 2-19 3-50 3 29 2 31 3-62 2-61 3 85 2 18 3-135 2 32 3 116 2-90 3-32 2 125 3-54 2-59 3 117 3-65 2-98 3 133 2-28 3-181 2 92 3 131 2-71 3-140 2 35 3 131 2 70 3-19 2-59 3-29 3 13 2 57 3 43 2-22 3-91 2-47 3 64 2 91 3-12 2-77 3 0 2 77 3 41 2-35 3-58 3 1 2 62 3 15 2-108 3-83 2 73 3 90 2-81 3-86 2 125 3 56 2-125 3 70 2 71 3-117 3 62 2 38 3-144 2 97 3 24 2-165 3 96 2 95 3-134 2-24 3 130 2 36 3-73 2-38 3 53 3 53 2-20 3-98 2-31 3 87 2 51 3-73 2-82 3 50 2 101 3 18 2-45 3-22 2 24 3 40 3 15 2-13 3-63 2-61 3 1 2 72 3 50 2-36 3-102 2 9 3 120 2 18 3-93 2 30 3 85 3-88 2-30 3 106 2-101 3-50 2 149 3-92 2-66 3 145 2-4 3-85 2 66 3 67 2-51 3-22 2 46 3 16 3-107 2-15 3 110 2-58 3-114 2 79 3 95 2-88 3-60 2 81 3 76 2-22 3-64 2-29 3 21 3 54 2 31 3-7 2-60"/>
<path class="b" d="M579 542l3 12 2-7 2-2 2-11 3 21 2-15 2 6 3-4 2 6 2-1 3-5 2 5 2-4 3 6 2 3 2 0 3 1 2-1 2-8 3 13 2 5 2-8 3-11 2 2 2 0 3 0 2 12 2-3 3 15 2-8 2-9 2 12 3 5 2-4 2-8 3-7 2-8 2 5 3 18 2 8 2-13 3-7 2 14 2-3 3-1 2-3 2 2 3-4 2-3 2 5 3-2 2-8 2 16 3 4 2-9 2-8 3 8 2-3 2 7 2-5 3 8 2-6 2 1 3 1 3-179 3-26 2 103 3 11 2-127 3 14 2 113 3-39 2-87 3 53 2 69 3-83 3-57 2 96 3 44 2-147 3-13 2 154 3-51 2-101 3 127 2 30 3-139 2 80 3 67 2-130 3 9 3 132 2-43 3-106 2 22 3 120 2-3 3-56 2-59 3 8 2 46 3 64 2 9 3-7 2-58 3-26 3-10 2 66 3 32 2-24 3-112 2-5 3 92 2 40 3-45 2-99 3 2 2 130 3 11 2-86 3-78 3 36 2 129 3-11 2-167 3 11 2 166 3-32 2-106 3 98 2 47 3-117 2 81 3 45 2-90 3 58 3 45 2-114 3 40 2 69 3-65 2-48 3 66 2 41 3-27 2-72 3 1 2 76 3 27 2-29 3-95 3-13 2 81 3 44 2-25 3-124 2-2 3 97 2 65 3-13 2-102 3-13 2 14 3 89 2 24 3 6 3-82 2-51 3-5 2 88 3 49 2-30 3-100 2 23 3 113 2-30 3-67 2 64 3 32 2-89 3 43 3 46 2-92 3 21 2 76 3-80 2-26 3 105 2-1 3-107 2 19 3 90 2-14 3-96 2 22 3 89 3-34 2-102 3 38 2 92 3-49 2-90 3 31 2 111 3-1 2-92 3-15 2 21 3 71 2 14 3 9 3-32 2-42"/>
<path class="m" d="M578 547l2 0 3 4 2 1 2-7 3-3 2 2 2 7 3-4 2 15 2-16 3 2 2 0 2-5 3 8 2-6 2 7 3-4 2 5 2-3 3-6 2 11 2 2 2-2 3-3 2-14 2 17 3 11 2-6 2 4 3-4 2-4 2 5 3 0 2 7 2-10 3 3 2-8 2-2 3 11 2 0 2-3 3-4 2 13 2-6 3-12 2 10 2 0 3 1 2 7 2-10 2 2 3 2 2-3 2-1 3 16 2-11 2 4 3-2 2 4 2 2 3-9 2 3 2 3 3 1 3-154 3-45 2 66 3 43 2-87 3-33 2 102 3 11 2-112 3 9 2 116 3-24 2-110 3 44 3 105 2-65 3-82 2 99 3 40 2-137 3 42 2 102 3-126 2-23 3 148 2-73 3-97 2 102 3 67 3-78 2-55 3 32 2 86 3 23 2-30 3-57 2-23 3 7 2 48 3 47 2 9 3-38 2-50 3-11 2 43 3 47 3-11 2-63 3-26 2 41 3 54 2-23 3-91 2-29 3 78 2 65 3-36 2-105 3 4 2 117 3 28 3-112 2-14 3 125 2-34 3-96 2 105 3 7 2-115 3 105 2 9 3-111 2 89 3 41 2-116 3 18 3 104 2-27 3-97 2-1 3 92 2 46 3-60 2-86 3 2 2 87 3 57 2-32 3-75 2-4 3 67 3 49 2-19 3-52 2-8 3 23 2 45 3 8 2-25 3-48 2-19 3 7 2 50 3 43 2-11 3-67 3-50 2 46 3 81 2-35 3-109 2 61 3 83 2-116 3-16 2 136 3-93 2-53 3 131 2-41 3-75 3 76 2 40 3-89 2-15 3 87 2 5 3-90 2-5 3 92 2 0 3-94 2 9 3 95 2-10 3-83 3 14 2 81 3 6 2-63 3-24 2 34 3 52 2 11 3-17 2-31 3-17 2 12 3 18"/>
<path class="b" d="M577 554l2-12 3 13 2-4 2-2 3 1 2 5 2-19 3 13 2-2 2 2 2 9 3-3 2-5 2-5 3 7 2-2 2 3 3-4 2 16 2-13 3 4 2 1 2 13 3-7 2-11 2-10 3 15 2 3 2-6 3 0 2 5 2-1 3 2 2-5 2-2 3-5 2 4 2 2 3 4 2-4 2 10 2-15 3 8 2-4 2 11 3-7 2 2 2 4 3 4 2 2 2-15 3 1 2 7 2 1 3 6 2 7 2 1 3-6 2-3 2 5 3-9 2 0 2 2 3 11 3-204 2-27 3 81 3 23 2-75 3-8 2 80 3 0 2-94 3 12 2 88 3-30 2-91 3 40 2 82 3-57 2-57 3 86 3 31 2-94 3 37 2 63 3-79 2-3 3 81 2-65 3-46 2 95 3 2 2-93 3 5 2 83 3 28 3-45 2-51 3-5 2 39 3 48 2 9 3-16 2-62 3-49 2 15 3 70 2 46 3-34 2-79 3-1 3 66 2 41 3-22 2-76 3-5 2 72 3 28 2-36 3-87 2 1 3 94 2 37 3-84 2-52 3 90 3 46 2-88 3 3 2 82 3-60 2-30 3 89 2-69 3-28 2 100 3-68 2-43 3 105 2-5 3-78 3 24 2 75 3-1 2-60 3-15 2 35 3 43 2-7 3-69 2-24 3 45 2 50 3-4 2-68 3-15 2 54 3 54 3-9 2-56 3-32 2 3 3 49 2 41 3-3 2-55 3-63 2-13 3 53 2 73 3 3 2-76 3-15 3 61 2 38 3-90 2-7 3 91 2-63 3-53 2 108 3-40 2-69 3 91 2 15 3-89 2 39 3 69 3-40 2-41 3 45 2 37 3-51 2-38 3 60 2 27 3-66 2-17 3 75 2 12 3-59 2-3 3 56 3 17 2-30 3-29 2-8 3 33 2 32 3 5 2-26 3-40"/>
<path class="g" d="M576 546l2-1 2-4 3 11 2-8 2 10 3-2 2 2 2-13 3-2 2 5 2 3 3 6 2-11 2 0 3 3 2 7 2 2 3-1 2-7 2 11 3-3 2-9 2 3 3-4 2 7 2 1 3-4 2 3 2 3 2 5 3 6 2-15 2 8 3 4 2-8 2 9 3 4 2-3 2-4 3-2 2-1 2-2 3 6 2-2 2 3 3 4 2-5 2-1 3-8 2 6 2 9 3-6 2 4 2-9 3 17 2-2 2-1 3-4 2 1 2 8 2 4 3-11 2-8 2-1 4-116 2-49 3 27 2 49 3-26 2-52 3 39 3 45 2-46 3-44 2 48 3 30 2-65 3-51 2 78 3 31 2-106 3-7 2 114 3-46 2-70 3 98 3 11 2-77 3 57 2 42 3-80 2 5 3 74 2-24 3-73 2 7 3 65 2 22 3-28 2-53 3-15 3 12 2 47 3 39 2-1 3-48 2-64 3-12 2 51 3 70 2-8 3-80 2-29 3 50 2 77 3-3 3-58 2-16 3 35 2 52 3-3 2-56 3-29 2 34 3 50 2-34 3-78 2 44 3 59 2-66 3-28 3 103 2-57 3-51 2 108 3-60 2-59 3 111 2-34 3-87 2 75 3 59 2-68 3-41 2 56 3 57 3-10 2-45 3-12 2 32 3 36 2-8 3-55 2-33 3 35 2 55 3-11 2-70 3-28 2 31 3 65 3 17 2-30 3-54 2-19 3 12 2 50 3 37 2 0 3-43 2-50 3 11 2 70 3 22 2-45 3-23 3 62 2 12 3-56 2 23 3 41 2-72 3-2 2 64 3-62 2-49 3 96 2-1 3-97 2 29 3 90 2-32 3-69 3 38 2 57 3-27 2-61 3 47 2 55 3-51 2-36 3 44 2 43 3-32 2-37 3 16 2 40 3 19 3-15 2-31 3-22 2-6 3 10"/>
<path class="c" d="M575 560l2-6 2-10 3 3 2 1 2 1 3 0 2 6 2-11 3 11 2-3 2-10 3 2 2 6 2 2 3 3 2 1 2-1 3-9 2 9 2-4 2 0 3 1 2 4 2-5 3 3 2 1 2 4 3 10 2-14 2-3 3 8 2-1 2-2 3 7 2-8 2-1 3-1 2 0 2 16 3-10 2 3 2-7 3-1 2 1 2 6 3-15 2 14 2 8 2-10 3 12 2-16 2 2 3 0 2 1 2 4 3 11 2-2 2-7 3 4 2-3 2 6 3 2 2-6 2-3 4-194 2-105 3 62 2 93 3-70 2-83 3 95 2 60 3-98 2-44 3 119 3 34 2-132 3-11 2 146 3-31 2-81 3 79 2 47 3-113 2 67 3 44 2-103 3 67 2 40 3-129 3 65 2 55 3-137 2-13 3 152 2 2 3-127 2-17 3 66 2 75 3 8 2-72 3-61 2-6 3 92 3 33 2-11 3-122 2-14 3 90 2 60 3-29 2-118 3 14 2 112 3 37 2-63 3-90 2-6 3 119 3 32 2-74 3-95 2 43 3 127 2-26 3-106 2 74 3 69 2-96 3 27 2 75 3-94 2 35 3 55 3-119 2 63 3 52 2-140 3 41 2 101 3-109 2-48 3 106 2 43 3-109 2-61 3 85 2 87 3-65 3-116 2 36 3 136 2-4 3-134 2 13 3 115 2 43 3-47 2-52 3 15 2 65 3 27 2-3 3-41 3-36 2-16 3 37 2 51 3 2 2-69 3-55 2 44 3 73 2-44 3-82 2 81 3 43 2-139 3 42 3 82 2-150 3 28 2 115 3-111 2-31 3 154 2-37 3-89 2 79 3 61 2-111 3-12 2 121 3-31 3-100 2 84 3 41 2-122 3 17 2 115 3-33 2-66 3 52 2 68 3-15 2-64 3 5 2 38 3 50 3-1 2-20 3-47"/>
<path class="c" d="M574 543l2 2 2 0 3 2 2-7 2 1 3 2 2 9 2 0 3 6 2-2 2-5 2 7 3-2 2-15 2 10 3 10 2 0 2-6 3-6 2 5 2-4 3 2 2 9 2-10 3 6 2-11 2 12 3 0 2 2 2 0 3-4 2 3 2-7 3 3 2-5 2 8 3-5 2-1 2 8 2-13 3 3 2 7 2 5 3 1 2 1 2-2 3 7 2-5 2 3 3-11 2 3 2-4 3-5 2 11 2-7 3 8 2 1 2 9 3-4 2-8 2 4 3 6 2-1 2 4 4-148 2-104 3-7 2 110 3 35 2-79 3-78 2 41 3 123 2-11 3-138 2-25 3 114 3 54 2-104 3-80 2 119 3 67 2-169 3-6 2 166 3-102 2-92 3 186 2-43 3-153 2 121 3 87 3-143 2-61 3 120 2 91 3-38 2-127 3-22 2 35 3 109 2 43 3 1 2-92 3-75 2-1 3 76 2 95 3-5 3-76 2-83 3 2 2 87 3 70 2-1 3-101 2-84 3-5 2 85 3 104 2-5 3-76 2-127 3 0 3 138 2 62 3-90 2-112 3 121 2 86 3-161 2-3 3 174 2-113 3-77 2 182 3-49 2-112 3 104 3 70 2-117 3-42 2 105 3 53 2-62 3-83 2 20 3 120 2 13 3-95 2-65 3 49 2 116 3-6 3-123 2-38 3 48 2 110 3 5 2-68 3-98 2-23 3 17 2 79 3 78 2 7 3 8 2-76 3-93 3-17 2 24 3 128 2 37 3-70 2-118 3 56 2 142 3-58 2-122 3 94 2 93 3-127 2-45 3 150 3 8 2-137 3 15 2 134 3-23 2-117 3 17 2 126 3-31 2-117 3 40 2 112 3-72 2-96 3 99 3 68 2-115 3-61 2 107 3 62 2-52 3-112 2-5 3 64 2 85 3 12 2 6 3-56 2-62"/>
<path class="m" d="M572 540l3-6 2 7 2 6 3 6 2 2 2-11 3 1 2-2 2 1 3-1 2 11 2 3 3 2 2-5 2 1 3-2 2 8 2-6 3-5 2 4 2 17 3-12 2-1 2-6 3 5 2-3 2 5 3-2 2-4 2 6 2-1 3 0 2-2 2 4 3-2 2 12 2-6 3-7 2 0 2 10 3 1 2-7 2 0 3 0 2 2 2 0 3-4 2 10 2 5 3-13 2 8 2-6 3 7 2 4 2-14 3 6 2 10 2-5 2-1 3 0 2-1 2 7 3-3 2-5 3-101 3-46 3-22 2 49 3 17 2-71 3-47 2 67 3 39 2-105 3-59 2 94 3 46 2-108 3-36 2 140 3 13 3-140 2 71 3 77 2-127 3 41 2 98 3-137 2 33 3 106 2-98 3-23 2 130 3 4 2-113 3-1 3 80 2 33 3-12 2-94 3-28 2 0 3 92 2 28 3-24 2-126 3-28 2 51 3 121 2 0 3-98 3-49 2 38 3 120 2-4 3-76 2-67 3 4 2 115 3 28 2-32 3-100 2 13 3 104 2 31 3-76 3-24 2 92 3 5 2-98 3 60 2 41 3-113 2 68 3 41 2-108 3 64 2 54 3-103 2 12 3 97 3-36 2-74 3 22 2 81 3-20 2-123 3-15 2 112 3 24 2-106 3-69 2 52 3 115 2-21 3-149 2 7 3 100 3 55 2-2 3-112 2-26 3 3 2 97 3 67 2 4 3-25 2-60 3 11 2 32 3 71 2 6 3-26 3-13 2 28 3 23 2-48 3-21 2 54 3-25 2-61 3 69 2 10 3-103 2 36 3 70 2-93 3-48 3 118 2 9 3-162 2 9 3 142 2-60 3-122 2 116 3 66 2-157 3 4 2 158 3-26 2-110 3 46 3 95 2-4 3-98 2-8 3 36 2 76 3 8 2-6 3-51 2-25"/>
<path class="y" d="M571 552l3-9 2-4 2 7 3 5 2 6 2-9 3 0 2 9 2-2 3 3 2-8 2 3 3-7 2-2 2 6 3-3 2 0 2-2 2 11 3-4 2-7 2 5 3 8 2-3 2-11 3 13 2 4 2-8 3 6 2 8 2 2 3-8 2 2 2-11 3 10 2 7 2-3 3 3 2-13 2 9 3-10 2 3 2-7 3 11 2-3 2 16 2-6 3 0 2-10 2 6 3-3 2 7 2 5 3-6 2-8 2 6 3-7 2 9 2 3 3 0 2 0 2 2 3-1 2 3 3-101 3-85 2-19 3 85 2 31 3-85 3-39 2 81 3 50 2-63 3-32 2 48 3 49 2-43 3-42 2 55 3 25 2-66 3-1 2 74 3-65 3-36 2 97 3-61 2-56 3 107 2-28 3-81 2 57 3 64 2-60 3-69 2 30 3 78 2 22 3-42 3-64 2-19 3 41 2 65 3 25 2-29 3-60 2-20 3 45 2 61 3-4 2-73 3-50 2 28 3 79 3 18 2-63 3-82 2-3 3 80 2 73 3-21 2-90 3-29 2 80 3 63 2-63 3-58 2 90 3 27 3-99 2 57 3 53 2-91 3 46 2 47 3-79 2 23 3 62 2-62 3-39 2 69 3 24 2-78 3-35 3 58 2 56 3-46 2-76 3 18 2 84 3 16 2-70 3-31 2 47 3 59 2-18 3-64 2-25 3 40 3 55 2 8 3-21 2-51 3-32 2 2 3 40 2 52 3 11 2-23 3-75 2-26 3 61 2 75 3-60 3-82 2 70 3 69 2-96 3-8 2 107 3-39 2-59 3 82 2 21 3-71 2 14 3 60 2-23 3-53 3 38 2 47 3-53 2-31 3 59 2 14 3-74 2 11 3 69 2-42 3-60 2 48 3 54 2-54 3-64 2 22 3 67 3 29 2-26 3-44 2-23 3 14 2 21"/>
<path class="m" d="M570 546l3 4 2-2 2-2 3 5 2-9 2 14 3-1 2 2 2-10 2-1 3 10 2-2 2 2 3 6 2-2 2-6 3-2 2 7 2-2 3-5 2-4 2 6 3 7 2 6 2-8 3 1 2 2 2 1 3 0 2-4 2-3 3 8 2-13 2 0 3 10 2-1 2-7 2 13 3 1 2 0 2 3 3-9 2 4 2-1 3 0 2 2 2-9 3 8 2 6 2 4 3-3 2-5 2-1 3 0 2 4 2-3 3-1 2 9 2-6 3-2 2 4 2-6 3 5 2 5 3-95 3-11 2-41 3 2 2 41 3-9 2-64 3-7 2 63 3-2 3-76 2-5 3 77 2 7 3-74 2 4 3 78 2-27 3-68 2 61 3 18 2-98 3 53 2 54 3-113 3 44 2 75 3-85 2-9 3 92 2 1 3-66 2-4 3 52 2 39 3-15 2-54 3-27 2 4 3 53 3 36 2 0 3-46 2-30 3 23 2 51 3 15 2-22 3-43 2-2 3 40 2 19 3-20 2-58 3-14 3 35 2 52 3-1 2-53 3-25 2 33 3 55 2-27 3-59 2 28 3 56 2-86 3-14 2 87 3-79 3-17 2 96 3-73 2-18 3 99 2-43 3-43 2 54 3 31 2-59 3-38 2 52 3 44 2-30 3-67 3 14 2 75 3 23 2-51 3-22 2 36 3 49 2-9 3-44 2-11 3 23 2 36 3-1 2-28 3-38 3-7 2 15 3 37 2 21 3 6 2-22 3-22 2-12 3 35 2 24 3-34 2-56 3 40 2 40 3-69 3-19 2 90 3-39 2-58 3 80 2 13 3-76 2 24 3 57 2-48 3-52 2 61 3 33 2-81 3-22 3 94 2-3 3-74 2 36 3 57 2-34 3-28 2 53 3 25 2-49 3-20 2 31 3 37 2-8 3-36 3-21 2 9 3 27 2 27"/>
<path class="b" d="M569 552l2 1 3-4 2-4 2 10 3-5 2-7 2 4 3 9 2 5 2-7 3-8 2 2 2-3 3 10 2 0 2 4 3-6 2 3 2 5 3-2 2-5 2-2 3 0 2-8 2 8 3 11 2-9 2 9 2 3 3-9 2 6 2-2 3 2 2 0 2 8 3-13 2-4 2 8 3-6 2 1 2-1 3-2 2 15 2-8 3 4 2-4 2 5 3-11 2 0 2 10 3-1 2 1 2 1 3-4 2 10 2 5 2-13 3 2 2 6 2 2 3 5 2-6 2 8 3-9 3-114 3 45 2-139 3-90 2 138 3 92 2-145 3-97 2 142 3 99 2-115 3-87 3 111 2 97 3-112 2-92 3 147 2 49 3-189 2 49 3 165 2-179 3-26 2 195 3-130 2-94 3 200 3-23 2-189 3 52 2 174 3-27 2-178 3-76 2 82 3 149 2 57 3-54 2-120 3-65 2 28 3 114 3 94 2-15 3-109 2-76 3 41 2 128 3 35 2-111 3-124 2 19 3 143 2 78 3-69 2-145 3-39 2 114 3 129 3-43 2-186 3-18 2 208 3 12 2-231 3 92 2 171 3-188 2 15 3 177 2-146 3 0 2 160 3-116 3-58 2 150 3-9 2-161 3 16 2 154 3 6 2-154 3-71 2 114 3 120 2-37 3-149 2-37 3 131 3 100 2-75 3-158 2-10 3 146 2 98 3-44 2-134 3-65 2 38 3 108 2 89 3 18 2-57 3-95 3-65 2 19 3 113 2 77 3-79 2-165 3 43 2 190 3-70 2-160 3 140 2 92 3-185 2 42 3 158 3-128 2-73 3 168 2 2 3-164 2 47 3 143 2-58 3-124 2 86 3 110 2-90 3-81 2 105 3 58 3-136 2-42 3 146 2 13 3-171 2-40 3 152 2 84 3-62 2-127 3-51 2 51 3 100 2 82 3 15"/>
<path class="k" d="M568 555l2 1 3-2 2-11 2 2 3 5 2 2 2-1 3 7 2-6 2 4 3-3 2 1 2-1 3 4 2-6 2 2 2 7 3-5 2 3 2-3 3-2 2 7 2-1 3-1 2 1 2-11 3 8 2 10 2-5 3 2 2-15 2 14 3 6 2-9 2 5 3 1 2 0 2 2 3 0 2 9 2-9 3-6 2-7 2 9 3-2 2 8 2-10 2-6 3 10 2 6 2-1 3-8 2 14 2-11 3 10 2 2 2-6 3-3 2-1 2-3 3 14 2-4 2-4 3 2 3-89 3 14 2-116 3-43 2 110 3 55 2-101 3-67 2 90 3 69 2-68 3-100 2 62 3 108 2-67 3-104 3 88 2 84 3-144 2-23 3 155 2-52 3-87 2 122 3 21 2-166 3 33 2 140 3-41 2-138 3-3 3 141 2 49 3-11 2-125 3-51 2 3 3 56 2 114 3 18 2-2 3-122 2-73 3 3 2 115 3 77 3-5 2-150 3-17 2 40 3 129 2 4 3-71 2-86 3-1 2 103 3 61 2-12 3-156 2-10 3 123 3 65 2-123 3-64 2 161 3 15 2-163 3 87 2 83 3-176 2 54 3 113 2-161 3-25 2 183 3-20 3-169 2 12 3 185 2 4 3-131 2-61 3 39 2 161 3 0 2-90 3-104 2 6 3 153 2 28 3-48 3-127 2 9 3 87 2 76 3 4 2-59 3-84 2 3 3 7 2 75 3 58 2 1 3-24 2-98 3-26 2 12 3 128 3 6 2-100 3-37 2 103 3 48 2-159 3 5 2 140 3-82 2-79 3 144 2 17 3-182 2 30 3 153 3-46 2-131 3 56 2 139 3-50 2-124 3 39 2 137 3-43 2-125 3 45 2 129 3-46 2-120 3 28 3 133 2 4 3-91 2-36 3-2 2 75 3 52 2 4 3-6 2-62 3-64"/>
<path class="k" d="M567 554l2-4 3-5 2 6 2-4 3 5 2 10 2-1 2 3 3-7 2 9 2-2 3-3 2-10 2 1 3 6 2-2 2 2 3-16 2 22 2 6 3 1 2-3 2-6 3-8 2 6 2 2 3-1 2-1 2 6 3-7 2 2 2 0 3-2 2 0 2-1 2 9 3-5 2 10 2 5 3-8 2-6 2 0 3 1 2-3 2 14 3-3 2-3 2 3 3-5 2-2 2 2 3 1 2-11 2 10 3 3 2-6 2-4 3 14 2 4 2-13 3 0 2 2 2 6 3-3 3-167 2 40 3-107 2-76 3 99 3 77 2-110 3-60 2 113 3 58 2-99 3-64 2 83 3 75 2-97 3-94 2 96 3 92 2-125 3-67 3 183 2 29 3-162 2 42 3 123 2-50 3-89 2 55 3 80 2-35 3-141 2-9 3 66 2 107 3 6 3 5 2-68 3-49 2 2 3-4 2 56 3 73 2 2 3-10 2-134 3-54 2 1 3 160 2 22 3-69 3-115 2 12 3 132 2 53 3-24 2-130 3-4 2 71 3 75 2-19 3-184 2 2 3 198 2 5 3-194 3 46 2 170 3-101 2-49 3 157 2-45 3-124 2 126 3 34 2-201 3-21 2 198 3 7 2-151 3-45 3 44 2 159 3 3 2-28 3-112 2-5 3 27 2 119 3 12 2-35 3-144 2-12 3 55 2 136 3 3 3-29 2-84 3 14 2 15 3 62 2 45 3 2 2-32 3-87 2-45 3-8 2 89 3 40 2-25 3-130 3 13 2 158 3-20 2-127 3 77 2 73 3-152 2-16 3 152 2-78 3-108 2 130 3 60 2-145 3-44 3 126 2 60 3-75 2-83 3 51 2 124 3-1 2-156 3 0 2 126 3 27 2-86 3-74 2 40 3 143 2 5 3-33 3-57 2 20 3 5 2 50 3 38 2 2 3 1"/>
<path class="g" d="M566 552l2-5 2-2 3 0 2 6 2 6 3-1 2-2 2 8 3-1 2 4 2-10 3-1 2 7 2-9 3 3 2 3 2-4 3 1 2 8 2 0 3 4 2-10 2 2 3-4 2 8 2 4 2-11 3 0 2 12 2-11 3 8 2-10 2 4 3 7 2-1 2 0 3 15 2-16 2 2 3-5 2 19 2-15 3 0 2 8 2-16 3 4 2 11 2 1 3-7 2-7 2 5 3 7 2-11 2 11 2-7 3 2 2 5 2 4 3 0 2-2 2-8 3 7 2 6 2-11 4-105 2 8 3-72 2 18 3 69 2-26 3-61 2 28 3 54 3-82 2-81 3 101 2 48 3-129 2-10 3 144 2-33 3-74 2 90 3 27 2-86 3 49 2 44 3-112 3 21 2 90 3-102 2-50 3 104 2 47 3-70 2-34 3 36 2 62 3 21 2-11 3-44 2-44 3-13 3 42 2 58 3-8 2-96 3-66 2 35 3 113 2 23 3-72 2-39 3 47 2 70 3-9 2-84 3-52 3 57 2 78 3-38 2-126 3 0 2 136 3 24 2-106 3 27 2 94 3-42 2-36 3 80 2-50 3-63 3 102 2-79 3-64 2 144 3-66 2-81 3 109 2 47 3-70 2-13 3 57 2 39 3-29 2-66 3-14 3 62 2 34 3-53 2-96 3 18 2 106 3 32 2-53 3-42 2 29 3 60 2 20 3-25 2-61 3-29 3 1 2 61 3 35 2-14 3-85 2-44 3 43 2 99 3 15 2-68 3-7 2 76 3-10 2-80 3 49 3 37 2-139 3 60 2 66 3-129 2 36 3 105 2-68 3-34 2 93 3 14 2-73 3-1 2 71 3-23 3-105 2 29 3 100 2-69 3-75 2 81 3 68 2-57 3-18 2 48 3 37 2-9 3-37 2-15 3 6 3 33 2 15 3-7 2-46 3-46"/>
<path class="m" d="M565 552l2-6 2 4 3 1 2 5 2-4 3-3 2 13 2-9 3-6 2 2 2 3 3 4 2 6 2 0 3-2 2 3 2-5 2 2 3 0 2-8 2 5 3-2 2 13 2-10 3 6 2-11 2 14 3 0 2-9 2-8 3 18 2-3 2 2 3-12 2-4 2 9 3-1 2 8 2 4 3-8 2 4 2-5 3 5 2-7 2 6 2 1 3-5 2 4 2-5 3 9 2 4 2-9 3 1 2 6 2 5 3-2 2-3 2 1 3 5 2 0 2-8 3-3 2-3 2 12 4-89 2-69 3-139 2 59 3 153 2-56 3-179 2 40 3 197 2-22 3-196 3 11 2 193 3 18 2-162 3-14 2 161 3 17 2-197 3 34 2 169 3-99 2-108 3 150 2 55 3-175 3-27 2 173 3 33 2-109 3-111 2-12 3 116 2 116 3-3 2-25 3-127 2-120 3-6 2 5 3 138 3 137 2 3 3-63 2-152 3-19 2 68 3 159 2 3 3-113 2-126 3 10 2 151 3 83 2-23 3-140 2-24 3 58 3 130 2 0 3-158 2-39 3 151 2 44 3-210 2 10 3 195 2-128 3-106 2 232 3-50 2-166 3 133 3 87 2-154 3-66 2 135 3 90 2-69 3-186 2-10 3 116 2 151 3 1 2-109 3-130 2 6 3 115 3 120 2 12 3-121 2-100 3 3 2 115 3 101 2 3 3-72 2-107 3-20 2 9 3 80 2 92 3 18 3 6 2-90 3-84 2-7 3 119 2 60 3-95 2-135 3 104 2 125 3-174 2-75 3 242 2-45 3-182 3 118 2 111 3-168 2-74 3 183 2 57 3-170 2-85 3 137 2 125 3-79 2-145 3 52 2 172 3-4 3-148 2-7 3 122 2 42 3-71 2-101 3-3 2 108 3 70 2-12 3-48 2-77 3-26 2 0 3 13 3 59"/>
<path class="g" d="M564 554l2-2 2-6 3 12 2 1 2-12 2 3 3-1 2 4 2 8 3-11 2 7 2-3 3 0 2 0 2 10 3-7 2 8 2-7 3 3 2-9 2 10 3 0 2 0 2 10 3-7 2-3 2 4 3-2 2-3 2 0 3-1 2-2 2-1 3 8 2-2 2 2 2 3 3 1 2 4 2-6 3-5 2 7 2 2 3 3 2 3 2-1 3-7 2 9 2-15 3 1 2 5 2 5 3-7 2 6 2-11 3 9 2-1 2 7 3-9 2 2 2 1 3-6 2 13 2 8 4-114 2-79 3-28 2 68 3 39 2-63 3-48 2 47 3 68 2-44 3-78 2 25 3 94 2-19 3-105 3 17 2 110 3-44 2-97 3 72 2 60 3-121 2-5 3 125 2-52 3-95 2 76 3 75 2-69 3-105 3 19 2 106 3 51 2-15 3-85 2-77 3-1 2 20 3 82 2 75 3 4 2-38 3-88 2-30 3 27 3 99 2 33 3-37 2-97 3-7 2 53 3 89 2 0 3-61 2-68 3 1 2 78 3 47 2-12 3-100 3-20 2 106 3 32 2-112 3-21 2 137 3-49 2-91 3 112 2 12 3-119 2 72 3 65 2-109 3-29 3 113 2 13 3-100 2-44 3 53 2 96 3 0 2-93 3-58 2 7 3 100 2 40 3-28 2-104 3-23 3 62 2 95 3 11 2-75 3-81 2-1 3 46 2 76 3 33 2 6 3-37 2-55 3-29 2-1 3 55 2 68 3 3 3-56 2-55 3 25 2 89 3-27 2-81 3 49 2 62 3-86 2-26 3 115 2-27 3-95 2 51 3 76 3-70 2-66 3 59 2 68 3-48 2-85 3 38 2 92 3-21 2-113 3 26 2 116 3-16 2-121 3-6 3 108 2 44 3-67 2-86 3 1 2 49 3 72 2 13 3 8 2-25 3-46 2-38"/>
<path class="c" d="M562 555l3 6 2 0 2-7 3-13 2 11 2 12 3-8 2 4 2 5 3-22 2-2 2 14 3 3 2 2 2-6 3-1 2-1 2 13 3-2 2-7 2 3 3 10 2-6 2-7 2 17 3-17 2 6 2-7 3 1 2 5 2 3 3 1 2 4 2-4 3-2 2 11 2-3 3 9 2-2 2-5 3-7 2 1 2 1 3 3 2 5 2-10 3-1 2 11 2-3 3-4 2 8 2 0 3-7 2 1 2-4 2 6 3-3 2 0 2-8 3 14 2-1 2 5 3-8 2-1 3-73 3-78 2-25 3 65 3 37 2-53 3-72 2 48 3 85 2-28 3-117 2 8 3 139 2-8 3-151 2 26 3 142 2-62 3-66 3 110 2 17 3-97 2 58 3 40 2-97 3 16 2 91 3-51 2-77 3 29 2 85 3-2 2-98 3-31 3 7 2 86 3 50 2-8 3-44 2-68 3-4 2 28 3 85 2 7 3-41 2-97 3 4 2 74 3 51 3-4 2-73 3-26 2-2 3 90 2 25 3-20 2-127 3-31 2 60 3 114 2-18 3-187 2 21 3 186 3-49 2-110 3 129 2 37 3-125 2 81 3 45 2-107 3 44 2 63 3-63 2-24 3 74 2 18 3-54 3-15 2 27 3 36 2 2 3-68 2-20 3 42 2 50 3-18 2-120 3-16 2 90 3 65 2-18 3-127 3-17 2 37 3 104 2 22 3 2 2-48 3-68 2-8 3-2 2 60 3 64 2 1 3-52 2-70 3 3 3 115 2 1 3-101 2 1 3 115 2-44 3-83 2 80 3 29 2-126 3 11 2 132 3-44 2-83 3 53 3 74 2-48 3-41 2 49 3 46 2-53 3-28 2 54 3 21 2-86 3-17 2 101 3 0 2-108 3-2 3 82 2 32 3-15 2-85 3-1 2-6 3 56 2 61 3 1 2-2"/>
<path class="b" d="M561 555l3-3 2 6 2-10 3 11 2 4 2-12 3 7 2 3 2 2 3-7 2 5 2 0 3 8 2-1 2-5 2 5 3-4 2-9 2 4 3-4 2 11 2-7 3 5 2-6 2 10 3-5 2-5 2 4 3 0 2 4 2 12 3-6 2-2 2-9 3 3 2 8 2-10 3 2 2 12 2-14 3 2 2-12 2 8 2 17 3-13 2 3 2 5 3-3 2-2 2 5 3 5 2-8 2 0 3 10 2-12 2 6 3-10 2 1 2 10 3-4 2 10 2-5 3 11 2-2 3-133 3-63 2-57 3 49 2 66 3-57 3-83 2 53 3 80 2-59 3-97 2 35 3 103 2-54 3-122 2 73 3 105 2-118 3-69 2 177 3-26 2-137 3 119 3 67 2-156 3 23 2 134 3-35 2-116 3 16 2 119 3 23 2-47 3-90 2-14 3 15 2 76 3 63 3-4 2-44 3-87 2-30 3 16 2 100 3 35 2-37 3-115 2-9 3 79 2 84 3-1 2-109 3-49 3 44 2 111 3 13 2-71 3-89 2 7 3 134 2 21 3-155 2-35 3 173 2-25 3-153 2 121 3 69 3-182 2 92 3 102 2-180 3 35 2 148 3-90 2-93 3 96 2 97 3-56 2-111 3 11 2 113 3 39 3-25 2-99 3-16 2 73 3 71 2-11 3-106 2-39 3 44 2 98 3 5 2-63 3-86 2-3 3 31 3 84 2 41 3-3 2-59 3-84 2-25 3 32 2 104 3 37 2-57 3-93 2 32 3 120 2-42 3-102 3 87 2 65 3-140 2 18 3 111 2-84 3-70 2 124 3 29 2-151 3-1 2 149 3-4 2-143 3 2 3 146 2 6 3-140 2 1 3 140 2 0 3-130 2 2 3 124 2 20 3-92 2-37 3 35 2 84 3 25 3-25 2-60 3-49 2-1 3 9 2 53"/>
<path class="g" d="M560 552l3-1 2 8 2-4 2-4 3 13 2-5 2-2 3 10 2-21 2 3 3-3 2 19 2-4 3-8 2 8 2-13 3 16 2-2 2 1 3 8 2-6 2-3 3 6 2-2 2-8 3-1 2 3 2-1 3-3 2 8 2 5 3-4 2 0 2 5 2-4 3-1 2-4 2 11 3-10 2 6 2 9 3-13 2 1 2 3 3 8 2-10 2 9 3 3 2-5 2-7 3 5 2 0 2 7 3-9 2 5 2-4 3-13 2 13 2 10 3 4 2-2 2 0 2-7 3-7 3-60 3-111 2-35 3 139 2 4 3-151 2 28 3 125 2-85 3-98 3 121 2 71 3-188 2-27 3 210 2-58 3-177 2 170 3 75 2-272 3 142 2 124 3-285 2 129 3 146 3-257 2 18 3 255 2-66 3-191 2 26 3 216 2 7 3-109 2-143 3-8 2 100 3 160 2-1 3-74 3-178 2 6 3 124 2 128 3-8 2-196 3-16 2 144 3 79 2-78 3-136 2 19 3 190 2 2 3-138 3-43 2 76 3 113 2-54 3-141 2 57 3 130 2-123 3-100 2 243 3-109 2-183 3 294 2-165 3-139 2 297 3-192 3-110 2 307 3-114 2-179 3 186 2 103 3-169 2-104 3 109 2 180 3-37 2-216 3-2 2 156 3 77 3-53 2-137 3 10 2 173 3 13 2-110 3-93 2 19 3 170 2 25 3-69 2-165 3-2 2 50 3 160 3 29 2-63 3-163 2 5 3 141 2 72 3-130 2-85 3 172 2 41 3-221 2 117 3 108 2-225 3 111 3 116 2-213 3 65 2 148 3-174 2-60 3 243 2-41 3-229 2 81 3 180 2-124 3-134 2 174 3 80 3-194 2-25 3 226 2-14 3-183 2 11 3 185 2 5 3-166 2-42 3 55 2 147 3 18 2-35 3-120 3-42 2 2"/>
<path class="g" d="M559 553l2 4 3-10 2 4 2 3 3-2 2 5 2-1 3-1 2 12 2-12 3-3 2 2 2-2 3 13 2-5 2 1 3 1 2 6 2 0 3-5 2 5 2-3 2 5 3-8 2-10 2 8 3 4 2 8 2-2 3-8 2 2 2 3 3 10 2-2 2-9 3 7 2-9 2 3 3 7 2-14 2 21 3-7 2 5 2-5 3-6 2-5 2 5 3 4 2-1 2 8 3-4 2-6 2 2 2-1 3 6 2-5 2 4 3 5 2 5 2 5 3-7 2-3 2-4 3 5 3-66 3-36 2-90 3 41 2 88 3-59 2-105 3 70 2 91 3-72 2-84 3 71 2 80 3-56 3-61 2 63 3 53 2-80 3-26 2 118 3-16 2-97 3 69 2 58 3-109 2 1 3 113 2-18 3-100 3-10 2 108 3 8 2-42 3-118 2-17 3-9 2 105 3 72 2 0 3-27 2-102 3-33 2 12 3 96 3 49 2-3 3-94 2-29 3 38 2 108 3-1 2-96 3-49 2 22 3 122 2 5 3-65 2-71 3 6 3 118 2 1 3-137 2-24 3 154 2-6 3-161 2 96 3 79 2-164 3 75 2 104 3-126 2 19 3 120 3-55 2-59 3 52 2 53 3-33 2-96 3-3 2 95 3 37 2-20 3-113 2-6 3 34 2 96 3-11 3-72 2-68 3-4 2 120 3 35 2-23 3-122 2-19 3 16 2 108 3 55 2 7 3-37 2-65 3-5 2 5 3 73 3 20 2-21 3-97 2-6 3 120 2-11 3-136 2 56 3 86 2-121 3-16 2 144 3-67 2-85 3 129 3 28 2-155 3-6 2 160 3 3 2-142 3 4 2 141 3 5 2-97 3 2 2 77 3 17 2-68 3-25 3 53 2 14 3-31 2-73 3 0 2 80 3 26 2-2 3-44 2-64 3 1 2 9 3 40"/>
<path class="r" d="M558 559l2-6 3 6 2 1 2-3 3 0 2 8 2-8 3 2 2-10 2 9 3 0 2 7 2-7 2 5 3-3 2-4 2 12 3 6 2-8 2-4 3-2 2-4 2 9 3 1 2 4 2-7 3-4 2 6 2-4 3 7 2 1 2-9 3-1 2 7 2 7 3-5 2 7 2-8 3 4 2 4 2-4 2-14 3 8 2 2 2 10 3-8 2 11 2-3 3-5 2-11 2 14 3-4 2 4 2 10 3-12 2-12 2 8 3 10 2-2 2-3 3 8 2-5 2 4 3-3 3-76 2-30 3-54 3 5 2 62 3 13 2-80 3-52 2 36 3 86 2-31 3-124 2-26 3 120 2 50 3-93 2-67 3 103 3 75 2-110 3-33 2 126 3-8 2-103 3 56 2 74 3-49 2-52 3 45 2 64 3-8 2-54 3-40 3 2 2 34 3 42 2 14 3-3 2-46 3-65 2-49 3 2 2 52 3 76 2 34 3-32 2-78 3-35 3 19 2 77 3 54 2-13 3-67 2-62 3-3 2 60 3 72 2 12 3-51 2-79 3-1 2 91 3 46 3-85 2-65 3 98 2 48 3-135 2 17 3 121 2-82 3-65 2 124 3 20 2-98 3 8 2 90 3 19 3-61 2-37 3 17 2 60 3 21 2-34 3-72 2-15 3 24 2 73 3 17 2-60 3-83 2-19 3 62 3 78 2 14 3-37 2-75 3-51 2 5 3 21 2 60 3 57 2 29 3-1 2-26 3-42 2-13 3 19 3 56 2 25 3-36 2-43 3 22 2 55 3-47 2-60 3 59 2 40 3-89 2-31 3 94 2 20 3-105 3-34 2 96 3 43 2-82 3-76 2 63 3 97 2-36 3-103 2 27 3 110 2 4 3-85 2-15 3 74 3 43 2-24 3-62 2-21 3 16 2 45 3 39 2 14 3-9 2-26 3-34"/>
<path class="g" d="M557 570l2-11 3-4 2 1 2 9 2-4 3-11 2 6 2 6 3-3 2 5 2-1 3-1 2-1 2 2 3-4 2 10 2 1 3-12 2 6 2 0 3 2 2 1 2 4 3-6 2 0 2 5 3-4 2-6 2 16 3-13 2 6 2 1 2-4 3-3 2 4 2-2 3 11 2 2 2-1 3-4 2 3 2 2 3-10 2 4 2 7 3-13 2-2 2 1 3 20 2-2 2-2 3-7 2-3 2 1 3 6 2-8 2-7 3 11 2-4 2 5 2 16 3-7 2-3 2-6 4-103 2-67 3 8 2 76 3 12 3-55 2-35 3 29 2 74 3-18 2-86 3-10 2 74 3 35 2-66 3-56 2 69 3 59 2-94 3-37 2 116 3-8 3-123 2 55 3 88 2-88 3-72 2 87 3 70 2-41 3-111 2-12 3 50 2 88 3 27 2 0 3-55 3-68 2-25 3 2 2 53 3 75 2 23 3-14 2-76 3-45 2 9 3 75 2 49 3 2 2-67 3-50 3-1 2 48 3 67 2 15 3-45 2-76 3-10 2 56 3 73 2-24 3-99 2 11 3 114 2-40 3-94 3 88 2 53 3-137 2 31 3 106 2-79 3-73 2 94 3 48 2-73 3-74 2 28 3 110 2 7 3-64 3-97 2-2 3 94 2 76 3-6 2-98 3-57 2 27 3 99 2 41 3-25 2-78 3-34 2 9 3 48 3 56 2 13 3 7 2-18 3-41 2-38 3-7 2 10 3 54 2 41 3 2 2-73 3-29 2 46 3 65 3-56 2-61 3 66 2 40 3-84 2-30 3 111 2 6 3-113 2 2 3 109 2 7 3-107 2-18 3 87 3 45 2-80 3-59 2 59 3 77 2-54 3-91 2 42 3 97 2-10 3-109 2-10 3 62 2 76 3-1 3-37 2-58 3-29 2 6 3 17 2 39 3 42"/>
<path class="g" d="M556 578l2-15 2 9 3-23 2 11 2 7 3-11 2-2 2 12 3-1 2-3 2-10 3 12 2-2 2-6 3 4 2 4 2-2 3-7 2 7 2-4 3 10 2-1 2 1 2-8 3 10 2 6 2-11 3-5 2-6 2 20 3 2 2-14 2 1 3 7 2-2 2-5 3 2 2 14 2-7 3-3 2-5 2-1 3 6 2 0 2 5 3 4 2-6 2 9 3 5 2-2 2-12 2 1 3 2 2-8 2 5 3 5 2-7 2 5 3 11 2-4 2-1 3-4 2 2 2-3 4-135 2-68 3 35 2 73 3-13 2-90 3 2 2 92 3 0 3-114 2-52 3 112 2 41 3-132 2-68 3 148 2 49 3-180 2 32 3 148 2-91 3-67 2 152 3-15 3-123 2 63 3 99 2-72 3-87 2 41 3 109 2 17 3-34 2-58 3-3 2 19 3 52 2 43 3 4 3-25 2-59 3-36 2 5 3 63 2 33 3-22 2-84 3-23 2 36 3 79 2 12 3-57 2-88 3-7 3 55 2 86 3-4 2-136 3-84 2 74 3 140 2-54 3-154 2 90 3 127 2-140 3-26 2 178 3-95 2-72 3 158 3-35 2-116 3 89 2 79 3-81 2-50 3 72 2 71 3-4 2-68 3-5 2 37 3 54 2 3 3-77 3-50 2 18 3 87 2 14 3-76 2-71 3-7 2 81 3 62 2 3 3-56 2-70 3-21 2-13 3 50 3 69 2 27 3-10 2-91 3-71 2 19 3 123 2 30 3-78 2-40 3 94 2 45 3-121 2 6 3 114 3-71 2-81 3 102 2 34 3-117 2-7 3 122 2 4 3-102 2 0 3 103 2 5 3-98 2-21 3 111 3 14 2-133 3-15 2 133 3 17 2-120 3-24 2 83 3 62 2-2 3-67 2-43 3 6 2 25 3 47 3 34 2-2 3-5"/>
<path class="r" d="M555 565l2 1 2 1 3 1 2 4 2-4 3-4 2-13 2 12 3-2 2 1 2 0 2 6 3-8 2 5 2-8 3 3 2 10 2-10 3 10 2 5 2-20 3 4 2-1 2 8 3 2 2 4 2-2 3 1 2 6 2-15 3 10 2-8 2 10 3-5 2 6 2-2 3-2 2 3 2-2 3 1 2 4 2-4 2-1 3-4 2 5 2 7 3-2 2-3 2 1 3-5 2-6 2 6 3 1 2 0 2 5 3-1 2-4 2 0 3 14 2-6 2-1 3-2 2-7 2-1 4-120 2-134 3-9 2 108 3 40 2-78 3-63 2 44 3 98 2-23 3-124 2-6 3 147 3 10 2-147 3 3 2 132 3-1 2-125 3 59 2 70 3-94 2-18 3 125 2-32 3-97 2 52 3 85 3-54 2-109 3-10 2 104 3 46 2-4 3-75 2-92 3-10 2-8 3 93 2 78 3-6 2-34 3-131 3-24 2 30 3 146 2 21 3-38 2-141 3 4 2 52 3 130 2 7 3-48 2-128 3 6 2 55 3 128 3-1 2-125 3-55 2 89 3 88 2-93 3-66 2 150 3 17 2-159 3 97 2 73 3-145 2 26 3 124 3-67 2-63 3 71 2 71 3-54 2-90 3-3 2 117 3 24 2-45 3-108 2-8 3 74 2 57 3 0 3-129 2-39 3 34 2 131 3-8 2-46 3-124 2-5 3 5 2 103 3 69 2 4 3 8 2-86 3-88 3 1 2 15 3 121 2 40 3-14 2-131 3 2 2 141 3 14 2-143 3 7 2 143 3-50 2-93 3 94 2 55 3-128 3-10 2 129 3 8 2-129 3-3 2 128 3 16 2-109 3-26 2 108 3 38 2-108 3-48 2 115 3 29 3-89 2-52 3 63 2 79 3-14 2-104 3-40 2-1 3 71 2 71 3 1 2 1 3-27 2-80"/>
<path class="b" d="M554 559l2-12 2 5 2-2 3 7 2 7 2-1 3-8 2 3 2 6 3 13 2-17 2-4 3 5 2 1 2 1 3 7 2-7 2 7 3-4 2-2 2 1 3 6 2 1 2-7 3 8 2 1 2-9 3 5 2-4 2 2 2 0 3 3 2 5 2 3 3-11 2-1 2 7 3-12 2 6 2 3 3-2 2 7 2 1 3 0 2-2 2-6 3 0 2 9 2-8 3-12 2 19 2-9 3 14 2-2 2-4 3 14 2-9 2-5 3-5 2 4 2 1 2 15 3-9 2-1 3-83 3-54 3-9 2 51 3 4 2-59 3-7 2 59 3 0 2-83 3 3 2 77 3-8 2-88 3 12 2 82 3-32 3-52 2 56 3 25 2-94 3 24 2 67 3-91 2-25 3 111 2-19 3-90 2 21 3 93 2-1 3-70 3-26 2 6 3 64 2 38 3 4 2-31 3-53 2-6 3 8 2 59 3 27 2-2 3-53 2-10 3 23 3 47 2 2 3-53 2-31 3 14 2 63 3-4 2-62 3-47 2 5 3 99 2-7 3-88 2-18 3 85 3 30 2-115 3 9 2 117 3-84 2-32 3 106 2-56 3-32 2 100 3-28 2-56 3 69 2 29 3-58 3-10 2 39 3 33 2-17 3-70 2-3 3 40 2 35 3-5 2-76 3-14 2 32 3 60 2 0 3-69 3-27 2 17 3 70 2 11 3-18 2-66 3-14 2-3 3 48 2 52 3-2 2-18 3-62 2 0 3 37 3 52 2-8 3-66 2 8 3 72 2-43 3-42 2 77 3-2 2-85 3 67 2 34 3-70 2 10 3 64 3-18 2-36 3 20 2 34 3-27 2-43 3 27 2 37 3-35 2-44 3 35 2 38 3-43 2-51 3 47 3 53 2-27 3-77 2-7 3 56 2 46 3 3 2-31 3-57 2-6 3 6 2 30"/>
<path class="g" d="M552 569l3-7 2 2 2-2 3-1 2-4 2 15 3-11 2-7 2-3 3 11 2-7 2 10 3-2 2-2 2 8 3-3 2 5 2-10 3 3 2-13 2 14 2 1 3-10 2 7 2 0 3 11 2-9 2 9 3-6 2 7 2-10 3 1 2 13 2-1 3-7 2 5 2-3 3 1 2 5 2-5 3-5 2-1 2 8 3-5 2 7 2-4 3 8 2-9 2 3 2 6 3-13 2-4 2 14 3-4 2-3 2 2 3 3 2 3 2 0 3 1 2-11 2 15 3-3 2-3 3-64 3-56 2-107 3 29 3 127 2 1 3-131 2-44 3 122 2 50 3-92 2-91 3 77 2 104 3-48 2-86 3 78 2 69 3-82 3-30 2 113 3-45 2-115 3 111 2 43 3-183 2 7 3 174 2-15 3-146 2-11 3 77 2 97 3-1 2-48 3-89 3-42 2-9 3 79 2 97 3 7 2-51 3-129 2-24 3 48 2 135 3 26 2-46 3-107 2-10 3 56 3 105 2 11 3-84 2-136 3-7 2 82 3 131 2 6 3-131 2-35 3 101 2 72 3-76 2-44 3 111 3-5 2-125 3 85 2 58 3-180 2 62 3 122 2-114 3-60 2 132 3 50 2-97 3-58 2 42 3 104 3 0 2-132 3-87 2 38 3 157 2 20 3-115 2-106 3 41 2 147 3 50 2-44 3-90 2-13 3 24 3 76 2 44 3-2 2-38 3-86 2-59 3-7 2 48 3 102 2 46 3-18 2-101 3-22 2 79 3 61 3-95 2-88 3 131 2 48 3-199 2 33 3 167 2-81 3-95 2 116 3 74 2-96 3-50 2 97 3 46 3-89 2-72 3 88 2 73 3-118 2-81 3 126 2 80 3-125 2-49 3 105 2 70 3-54 2-89 3-1 3 67 2 71 3-5 2-28 3-77 2-61 3 6 2 12"/>
<path class="b" d="M551 563l3-11 2 3 2 12 3-8 2 5 2 13 3-25 2 3 2 9 3 0 2-10 2 4 2-10 3 12 2 10 2-4 3-8 2 2 2 7 3 4 2-6 2-5 3-5 2 19 2-1 3-6 2 1 2 3 3-4 2 7 2 10 3-19 2 7 2 3 3-7 2 0 2 9 3-10 2 6 2-2 2 1 3-4 2-1 2 6 3 2 2-10 2 13 3 5 2-6 2 4 3-2 2-6 2-13 3 9 2 11 2 2 3 3 2-7 2-9 3 8 2 10 2-16 3 5 2 5 3-140 3 2 2-98 3-38 2 68 3 77 2-28 3-72 3 14 2 82 3 27 2-55 3-52 2 27 3 72 2-50 3-113 2 49 3 105 2-78 3-61 2 103 3 48 3-90 2-4 3 89 2 13 3-80 2-54 3 22 2 65 3 20 2-23 3-67 2-57 3-19 2 23 3 54 3 61 2 42 3 2 2-32 3-62 2-45 3-5 2 59 3 58 2-14 3-83 2-74 3 6 2 80 3 82 3 21 2-34 3-62 2-23 3 32 2 74 3 10 2-106 3-77 2 92 3 92 2-115 3-49 2 152 3 4 3-94 2 74 3 68 2-78 3-39 2 82 3 26 2-95 3-68 2 41 3 92 2 17 3-56 2-65 3 7 2 54 3 68 3 8 2-33 3-70 2-29 3 26 2 65 3 15 2-39 3-82 2-49 3 13 2 56 3 65 2 46 3 5 3-1 2-36 3-51 2-45 3-8 2 49 3 70 2-4 3-104 2-56 3 100 2 85 3-72 2-45 3 96 3 38 2-85 3-14 2 86 3-7 2-109 3-13 2 101 3 27 2-90 3-39 2 76 3 75 2-21 3-62 3 13 2 68 3 6 2-77 3-51 2 46 3 63 2-20 3-90 2-38 3 24 2 70 3 57 2 17 3 4 3-21 2-31 3-36 2-33"/>
<path class="g" d="M550 564l2-5 3 1 2-2 2 3 3 9 2 1 2-12 3-1 2 5 2-3 3-5 2 13 2-10 3-5 2 3 2 10 3-4 2 4 2 6 3 0 2-2 2 0 3-2 2 7 2 5 3-5 2-11 2 4 3-1 2 6 2 2 2-3 3-2 2-1 2-8 3 2 2 5 2 13 3-4 2-2 2 5 3-6 2 2 2 0 3-2 2 6 2-6 3 5 2-2 2-2 3-11 2 18 2-11 3 5 2 7 2-1 3 2 2-9 2 0 2 1 3-1 2 11 2 6 3-12 3-100 3-36 2-82 3 11 2 90 3 28 2-64 3-43 2 39 3 69 2-2 3-77 3-30 2 72 3 45 2-91 3-64 2 97 3 44 2-124 3 0 2 126 3-44 2-92 3 68 2 76 3-59 3-88 2 21 3 85 2 31 3-28 2-78 3-58 2-1 3 33 2 64 3 57 2 22 3-18 2-52 3-53 3-14 2 35 3 65 2 28 3-27 2-76 3-36 2 15 3 73 2 58 3 0 2-51 3-55 2-11 3 45 3 70 2 11 3-86 2-80 3 54 2 102 3-68 2-119 3 115 2 74 3-146 2 17 3 132 2-74 3-75 3 92 2 57 3-100 2-64 3 63 2 97 3-8 2-86 3-51 2 37 3 83 2 44 3-19 2-59 3-31 3 27 2 58 3 21 2-28 3-66 2-31 3 8 2 53 3 48 2 13 3-7 2-34 3-40 2-31 3-10 3 16 2 48 3 55 2 11 3-71 2-100 3 6 2 124 3 40 2-123 3-33 2 135 3 16 2-124 3 21 2 117 3-41 3-113 2 40 3 103 2-22 3-108 2 4 3 107 2 35 3-77 2-38 3 65 2 60 3-43 2-68 3 27 3 73 2-10 3-82 2-36 3 48 2 65 3 18 2-29 3-44 2-31 3-6 2 2 3 20 2 30 3 31"/>
<path class="c" d="M549 569l2-13 3 11 2 1 2-10 3 10 2-14 2-1 3 20 2-7 2-7 3 1 2-1 2 13 3-14 2 9 2 1 3 0 2-7 2 7 2 0 3 7 2 2 2-10 3 7 2 2 2-10 3 4 2-1 2-3 3 2 2-4 2 2 3 8 2-1 2 0 3 4 2-4 2 4 3-4 2 0 2 5 3-12 2-1 2-1 3 1 2 0 2 7 3-8 2 11 2 3 2-1 3 5 2-3 2-11 3 19 2 3 2-9 3-10 2 8 2-4 3 7 2 0 2-2 3 13 3-114 3-146 2 3 3 132 2 23 3-89 2-33 3 66 2 70 3-48 2-99 3 18 2 120 3-24 2-130 3 35 3 120 2-78 3-62 2 119 3 18 2-129 3 32 2 97 3-73 2-88 3 55 2 98 3-8 2-150 3-29 3 7 2 120 3 64 2 3 3-16 2-96 3-61 2 4 3 28 2 112 3 16 2-9 3-129 2-37 3 17 3 139 2 29 3-31 2-116 3-6 2 38 3 116 2 5 3-47 2-132 3-7 2 102 3 78 2-53 3-147 3 61 2 145 3-94 2-83 3 172 2-10 3-145 2 105 3 49 2-155 3 13 2 143 3-31 2-127 3 16 3 150 2 1 3-73 2-54 3 1 2 106 3 30 2-8 3-123 2-22 3 31 2 115 3 9 2-83 3-92 3-2 2 76 3 99 2-3 3-17 2-82 3-41 2-10 3-3 2 80 3 77 2-5 3-31 2-139 3-16 3 69 2 119 3-15 2-140 3 24 2 145 3-73 2-106 3 135 2 38 3-170 2 5 3 162 2-32 3-123 3 39 2 120 3-11 2-106 3 13 2 117 3-1 2-105 3-9 2 105 3 19 2-120 3-36 2 96 3 54 3-49 2-101 3 1 2 76 3 70 2 0 3-21 2-78 3-59 2-10 3-8 2 29 3 83"/>
<path class="c" d="M548 556l2 8 3 7 2-8 2 1 3-5 2 3 2-7 3 10 2-11 2 6 2-2 3 14 2-10 2 2 3-5 2 10 2-2 3 9 2-11 2-4 3 1 2 6 2-4 3 2 2 8 2-4 3 0 2-4 2 0 3 0 2-3 2 16 3-15 2-4 2 6 3 0 2-1 2 8 2 1 3-4 2-3 2 9 3 2 2 0 2-10 3 8 2 3 2-2 3 4 2 2 2-8 3-1 2 8 2-3 3-4 2 13 2 4 3-12 2 8 2-7 3-3 2 4 2 4 3-8 3-164 2-64 3 32 3 90 2 0 3-95 2 7 3 80 2 27 3-37 2-26 3 16 2 50 3-5 2-55 3 0 2 56 3-3 3-53 2 17 3 46 2-29 3-22 2 32 3 19 2-42 3-34 2 14 3 57 2-1 3-47 2-74 3-8 2-8 3 44 3 61 2 27 3-1 2-3 3-57 2-52 3 3 2 19 3 77 2 20 3-6 2-89 3-37 2 10 3 89 3 28 2 4 3-62 2-36 3 8 2 60 3 31 2 1 3-80 2-21 3 53 2 43 3-47 2-49 3 72 3 37 2-92 3 14 2 82 3-45 2-46 3 72 2 17 3-76 2-28 3 56 2 45 3-10 2-86 3-14 3 18 2 78 3 22 2-3 3-63 2-23 3 9 2 51 3 36 2-3 3-56 2-41 3 11 2 25 3 55 3 13 2 5 3-25 2-34 3-15 2-2 3-7 2 34 3 27 2 2 3-29 2-87 3-6 2 78 3 34 3-70 2-49 3 92 2 34 3-103 2-3 3 116 2-17 3-97 2 24 3 90 2-9 3-86 2 10 3 88 3 23 2-51 3-23 2 35 3 46 2-6 3-50 2-4 3 46 2 17 3-39 2-40 3-4 2 47 3 17 3 2 2-19 3-38 2-12 3-9 2 0 3 21 2 28 3 28"/>
<path class="m" d="M547 560l2-1 2 10 3-4 2-4 2-1 3 7 2-6 2 2 3-7 2 7 2-1 3-5 2 6 2 3 3 2 2-4 2 13 3-3 2-6 2-4 3-7 2 2 2 6 3 7 2 8 2-15 3 18 2-20 2 11 2-7 3 0 2-1 2 3 3 4 2 0 2 10 3-1 2-2 2-7 3-2 2 12 2-12 3 1 2 5 2 0 3-8 2 4 2 3 3 5 2-3 2-9 3 15 2-1 2-6 3-2 2-2 2 9 2-2 3 1 2 8 2-16 3 1 2 8 2-1 4-143 2-13 3 75 2 23 3-56 2-29 3 38 3 40 2-23 3-73 2 3 3 86 2 11 3-109 2-34 3 111 2 41 3-128 2-23 3 133 2 8 3-116 3 6 2 108 3 11 2-83 3-47 2 26 3 71 2 30 3-2 2-33 3-50 2-40 3-9 2-2 3 35 3 52 2 51 3 2 2-27 3-87 2-55 3 3 2 97 3 70 2-8 3-92 2-52 3 29 2 86 3 33 3-10 2-66 3-30 2 31 3 70 2 7 3-71 2-51 3 69 2 59 3-80 2-55 3 115 2 9 3-136 3 57 2 103 3-103 2-75 3 112 2 62 3-81 2-96 3 26 2 101 3 51 2-9 3-62 2-47 3-1 2 36 3 58 3 25 2-9 3-61 2-57 3-4 2 55 3 67 2 17 3-33 2-68 3-48 2 2 3 21 2 58 3 53 3 10 2-11 3-63 2-66 3-4 2 58 3 85 2-6 3-89 2-15 3 94 2 20 3-87 2 10 3 86 3-40 2-74 3 60 2 60 3-81 2-71 3 71 2 79 3-35 2-111 3-5 2 103 3 58 2-57 3-96 3 8 2 98 3 36 2-56 3-81 2 13 3 80 2 45 3-9 2-51 3-40 2-5 3 13 2 30 3 31 3 27 2 2 3 7 2-27 3-49"/>
<path class="g" d="M546 557l2 7 2-2 3 1 2 4 2 7 3-7 2 1 2-15 3 8 2 4 2-3 3 2 2-1 2-2 3 0 2-4 2 14 2-2 3 15 2-10 2 0 3-9 2 17 2-9 3 0 2 4 2-4 3-3 2-12 2 14 3 3 2-2 2 4 3-10 2 8 2 1 3-8 2 14 2-12 3 7 2-3 2-1 3 3 2-3 2 10 3 5 2-6 2 4 2 1 3-1 2-9 2-6 3 13 2-4 2-2 3-2 2 8 2 0 3-1 2-4 2 5 3 4 2-10 2 3 4-176 2 35 3 67 2-34 3-64 2 34 3 65 2-25 3-92 2 24 3 102 3-15 2-117 3 23 2 113 3-21 2-78 3 38 2 61 3-52 2-37 3 63 2 16 3-76 2-38 3 60 3 56 2-16 3-80 2-34 3 3 2 44 3 56 2 31 3-3 2-17 3-59 2-64 3-4 2 14 3 86 3 34 2-13 3-96 2-22 3 42 2 88 3 4 2-52 3-37 2 0 3 66 2 30 3-38 2-77 3-2 3 79 2 30 3-59 2-46 3 74 2 50 3-83 2-8 3 89 2-38 3-63 2 93 3 3 2-120 3 36 3 97 2-45 3-89 2 10 3 97 2 26 3-28 2-75 3-18 2 15 3 75 2 32 3-5 2-98 3-57 3-7 2 107 3 58 2 6 3-86 2-54 3 13 2 63 3 61 2-2 3-6 2-44 3-45 2-6 3 19 3 58 2 33 3-21 2-62 3-7 2 60 3 37 2-60 3-31 2 75 3-3 2-96 3 44 2 58 3-103 3-34 2 121 3 2 2-117 3 13 2 107 3 14 2-83 3-21 2 48 3 52 2-24 3-92 2 1 3 99 2 21 3-68 3-44 2 26 3 93 2 10 3-35 2-56 3-4 2 7 3 43 2 41 3 21 2-16 3-17 2-48 3-44 3-7"/>
<path class="b" d="M545 563l2-3 2 11 3-14 2 11 2-3 3-10 2 11 2-5 2 8 3-5 2 1 2-4 3 0 2 4 2 2 3-3 2-1 2 16 3-13 2 11 2-10 3 3 2 2 2-4 3 5 2 0 2-2 3 8 2-7 2-6 3 6 2 0 2-2 3 0 2 5 2-2 2-9 3 12 2 2 2 3 3-5 2-6 2-6 3 15 2 3 2 0 3-3 2-5 2 9 3-4 2 0 2 5 3-3 2-4 2 0 3 4 2 0 2 10 3 1 2-10 2 1 3-3 2-1 2 9 4-290 2 11 3 148 2 6 3-144 2-41 3 104 2 86 3-60 2-133 3 17 2 159 3 26 2-120 3-32 3 122 2 34 3-147 2-31 3 159 2-18 3-170 2 39 3 158 2-1 3-110 2-18 3 54 2 80 3 24 3-14 2-61 3-78 2-64 3-18 2 11 3 71 2 88 3 48 2-2 3-69 2-83 3-13 2 37 3 95 3 39 2-31 3-134 2-95 3 22 2 135 3 88 2-9 3-133 2-102 3 11 2 165 3 70 2-66 3-136 3 53 2 163 3-79 2-162 3 116 2 106 3-198 2-10 3 221 2-51 3-125 2 74 3 119 2-13 3-102 3-29 2 37 3 89 2 17 3-65 2-128 3-58 2 24 3 125 2 102 3-4 2-81 3-78 2 0 3 61 3 82 2 21 3-10 2-84 3-92 2-37 3-1 2 65 3 86 2 69 3 11 2-16 3-69 2-64 3-2 3 85 2 68 3-74 2-165 3 55 2 166 3-82 2-144 3 126 2 107 3-161 2-58 3 173 2 50 3-122 3-60 2 88 3 93 2-48 3-164 2-15 3 159 2 63 3-73 2-98 3 49 2 133 3 17 2-72 3-52 3 14 2 77 3 21 2-4 3-81 2-80 3-26 2-1 3 43 2 61 3 58 2 43 3 2 2-2"/>
<path class="y" d="M543 563l3-5 2 2 2-5 3 8 2 2 2 0 3-4 2 8 2-5 3-3 2 3 2 9 3-10 2-8 2 2 3 12 2 3 2-3 3 1 2-4 2-6 3 3 2 1 2 2 3 10 2 1 2-7 2-2 3 3 2-1 2 4 3 3 2-6 2 3 3 3 2 0 2-1 3-4 2 5 2 3 3 0 2-7 2 2 3-5 2 16 2-10 3 1 2-3 2 14 3-11 2 7 2-7 3-9 2 10 2 10 2-8 3 7 2-4 2 0 3 1 2 1 2-13 3 7 2 11 3-181 3 78 3-2 2-78 3-15 2 63 3 50 2-35 3-64 2 0 3 65 2 31 3-75 2-77 3 46 2 100 3-43 3-104 2 45 3 111 2-16 3-70 2 15 3 69 2 24 3-35 2-50 3-21 2 14 3 34 2 31 3 17 3-9 2-1 3-18 2-20 3-19 2-12 3-6 2 14 3 33 2 25 3 2 2-61 3-85 2-28 3 50 2 90 3 32 3-33 2-69 3-28 2 34 3 68 2 27 3-13 2-79 3-43 2 61 3 76 2-45 3-99 2 54 3 101 3-56 2-53 3 79 2 41 3-73 2-26 3 69 2 20 3-56 2-70 3 3 2 66 3 55 2 2 3-36 3-41 2-18 3 14 2 32 3 37 2 24 3-7 2-41 3-58 2-28 3 3 2 53 3 54 2 18 3-14 3-37 2-33 3-16 2 4 3 21 2 33 3 36 2 17 3-13 2-60 3-61 2 11 3 84 2 38 3-65 3-37 2 73 3 40 2-57 3-22 2 63 3 11 2-86 3-32 2 77 3 40 2-80 3-79 2 24 3 96 3 36 2-44 3-68 2 0 3 65 2 53 3-21 2-74 3-39 2 34 3 69 2 24 3-22 2-44 3-17 3 13 2 19 3 29 2 24 3 16 2 10 3 4 2-4 3-17 2-33"/>
<path class="m" d="M542 568l3 1 2-11 2 0 3 7 2 1 2-5 3 5 2 3 2-6 3 6 2 4 2-1 3 4 2-6 2 0 3-3 2 2 2-1 2 2 3 2 2 0 2-1 3 3 2-13 2 7 3 5 2-3 2-4 3 11 2-1 2 3 3-5 2 3 2-6 3 10 2-10 2-2 3 7 2 3 2-3 3-12 2 16 2 10 3-5 2-10 2 4 2 3 3 5 2-4 2-3 3 10 2-12 2-5 3 9 2 11 2-22 3 8 2 2 2 1 3 7 2 8 2-6 3-11 2 2 3-170 3 100 2-3 3-108 2-12 3 105 3 27 2-100 3-36 2 76 3 56 2-69 3-74 2 70 3 74 2-89 3-60 2 113 3 29 2-144 3 25 3 125 2-51 3-93 2 34 3 109 2-4 3-103 2-45 3 10 2 78 3 68 2 7 3-11 2-58 3-61 3-27 2 11 3 58 2 74 3 18 2-29 3-86 2-28 3 32 2 92 3 26 2-63 3-97 2-11 3 77 3 90 2-4 3-107 2-76 3 27 2 133 3 17 2-128 3-56 2 130 3 54 2-157 3 5 2 146 3-78 3-76 2 149 3-10 2-130 3 68 2 88 3-54 2-78 3 31 2 97 3 12 2-62 3-73 2-4 3 63 3 77 2 2 3-61 2-89 3-3 2 59 3 90 2 10 3-76 2-91 3-2 2 45 3 86 2 35 3-1 2-60 3-69 3-28 2 0 3 62 2 79 3 27 2-41 3-101 2-22 3 103 2 57 3-91 2-64 3 118 2 34 3-143 3 35 2 112 3-77 2-66 3 98 2 44 3-100 2-38 3 92 2 44 3-59 2-72 3 40 2 101 3-17 3-110 2-18 3 107 2 47 3-92 2-76 3 40 2 108 3 11 2-74 3-87 2-7 3 31 2 70 3 56 3 16 2-6 3-33 2-50 3-44 2 1"/>
<path class="k" d="M541 565l3-2 2-3 2-2 3 9 2-4 2 4 2-6 3 8 2 4 2-13 3 21 2-19 2 7 3 2 2-7 2 12 3-9 2-3 2 15 3 3 2-8 2-2 3 2 2 2 2-4 3-2 2 0 2 1 3-2 2 7 2-8 3 9 2 5 2-7 3 0 2 4 2-2 2 9 3-2 2-7 2-4 3 0 2 6 2 0 3-8 2 18 2 0 3-6 2 5 2-8 3 0 2 7 2-12 3 6 2 2 2-7 3 10 2 4 2-20 3 22 2-7 2 1 3 5 2 1 3-158 3 54 2-15 3-88 2-17 3 78 2 27 3-47 2-36 3 40 3 58 2-11 3-47 2 12 3 51 2-41 3-64 2 65 3 36 2-123 3 1 2 115 3-10 2-77 3 21 3 88 2 15 3-24 2-48 3-4 2-7 3 36 2 35 3 1 2-4 3-55 2-56 3-3 2 19 3 68 3 35 2 8 3-36 2-44 3-12 2 39 3 36 2-4 3-65 2-71 3-4 2 58 3 73 2-2 3-45 3-41 2 22 3 73 2-1 3-83 2-22 3 89 2-29 3-115 2 81 3 50 2-123 3 29 2 111 3-45 3-44 2 60 3 58 2-31 3-61 2-7 3 52 2 30 3-5 2-72 3-23 2 10 3 76 2 35 3-6 3-36 2 0 3 13 2 35 3 0 2-1 3-51 2-51 3-9 2 10 3 48 2 38 3-2 2 15 3-35 3-36 2 5 3 12 2 54 3 6 2-45 3-75 2 24 3 80 2-57 3-81 2 85 3 59 2-106 3 1 3 109 2 2 3-83 2 8 3 83 2-4 3-106 2-18 3 84 2 35 3-76 2-44 3 58 2 75 3-22 2-47 3 24 3 58 2 2 3-42 2-33 3 0 2 38 3 12 2 7 3-30 2-35 3-18 2 11 3 11 2 28 3 28 3 20 2-5"/>
<path class="m" d="M540 566l2-4 3-3 2 11 2-7 3 4 2-5 2-3 3 20 2-14 2 0 3 2 2 3 2-6 3 13 2-12 2-2 3 7 2-4 2 2 3 4 2 7 2-2 3-12 2-2 2 5 2 2 3-2 2-1 2 13 3 4 2-12 2-2 3 10 2-2 2-7 3-8 2 3 2 13 3-5 2 4 2-6 3-1 2 6 2 0 3 7 2-6 2 11 3-3 2-14 2 5 3 11 2 4 2-20 3 6 2 5 2-7 2 11 3 5 2-6 2 7 3-4 2-8 2 8 3-5 3-108 3 35 2-34 3-48 2 37 3 52 2-45 3-65 2 30 3 72 2-26 3-93 2 23 3 94 3-32 2-101 3 51 2 82 3-82 2-60 3 103 2 49 3-114 2-31 3 83 2 52 3-15 2-75 3-27 3 9 2 51 3 51 2 23 3-4 2-29 3-52 2-45 3 3 2 23 3 70 2 41 3-21 2-74 3-31 3 33 2 77 3 14 2-55 3-56 2 6 3 69 2 31 3-26 2-71 3-6 2 62 3 46 2-53 3-64 3 42 2 71 3-83 2-57 3 122 2-22 3-119 2 91 3 61 2-149 3 3 2 144 3-21 2-123 3-5 3 101 2 55 3-19 2-77 3-34 2 12 3 69 2 55 3 4 2-53 3-56 2-6 3 50 2 64 3 0 3-34 2-62 3-10 2 22 3 60 2 33 3 1 2-43 3-57 2-19 3 4 2 58 3 58 2 3 3-62 3-45 2 35 3 69 2-27 3-72 2 47 3 53 2-85 3-19 2 108 3-44 2-80 3 65 2 54 3-81 3-56 2 72 3 67 2-54 3-94 2 13 3 108 2 19 3-89 2-56 3 62 2 91 3-21 2-86 3-18 3 67 2 58 3 1 2-52 3-47 2 4 3 11 2 41 3 37 2 11 3 9 2-22 3-38 2-36 3-6"/>
<path class="k" d="M539 562l2-4 3 15 2 4 2-17 3 2 2 6 2 0 3-6 2 9 2-8 3 14 2-4 2 1 3 4 2-4 2 2 2-6 3-1 2 0 2-1 3 11 2-6 2-5 3 8 2-3 2 1 3-3 2 5 2 6 3 1 2-1 2-9 3 3 2 2 2-8 3 6 2 14 2-8 3-1 2 6 2-4 3-3 2-10 2 7 2 7 3 5 2-16 2 7 3-1 2 9 2-12 3 0 2-1 2 9 3-5 2 7 2-1 3 7 2-12 2 18 3-7 2 0 2-15 3 2 3-207 3 95 2 6 3-85 2 0 3 86 2 10 3-82 2-17 3 74 2 30 3-71 2-47 3 67 2 40 3-63 3-45 2 76 3 24 2-92 3-21 2 104 3-6 2-119 3-11 2 105 3 35 2-59 3-92 2-14 3 37 3 74 2 58 3 15 2-9 3-43 2-52 3-37 2 4 3 35 2 68 3 39 2-22 3-73 2-35 3 34 2 78 3 21 3-51 2-70 3 0 2 71 3 49 2-32 3-101 2-34 3 79 2 82 3-56 2-113 3 45 2 123 3-68 3-90 2 111 3 35 2-138 3 49 2 86 3-89 2-61 3 119 2 37 3-94 2-52 3 58 2 90 3 10 3-43 2-67 3-20 2 31 3 69 2 46 3-15 2-70 3-63 2 4 3 68 2 67 3 8 2-50 3-56 3-15 2 30 3 53 2 39 3-1 2-30 3-62 2-47 3-5 2 60 3 77 2 3 3-96 2-64 3 83 3 86 2-88 3-78 2 123 3 24 2-140 3 48 2 106 3-90 2-51 3 99 2 48 3-86 2-32 3 71 3 52 2-23 3-70 2 2 3 72 2 26 3-53 2-71 3 20 2 87 3 15 2-80 3-65 2 25 3 75 3 39 2-7 3-54 2-55 3-24 2-7 3 28 2 44 3 46 2 32 3-10"/>
<path class="c" d="M538 557l2 9 3-3 2 2 2 7 2 1 3 5 2 0 2-10 3 7 2-11 2 12 3-8 2 11 2-4 3-3 2 3 2 1 3-10 2 6 2-8 3 13 2-9 2 2 3-3 2 15 2 0 3-12 2 4 2 7 3-5 2-7 2 3 3 4 2 2 2-8 2 15 3-7 2-2 2-6 3 6 2 1 2-4 3 4 2-3 2 0 3 7 2 6 2-6 3 8 2 3 2-14 3 14 2-5 2-10 3 10 2 3 2-9 3 7 2-2 2 2 3 7 2-15 2 8 2-4 4-212 2 140 3-3 2-208 3-13 3 202 2 25 3-152 2-74 3 95 2 135 3-20 2-157 3-4 2 180 3-4 2-173 3-24 2 196 3 9 3-228 2-7 3 224 2 14 3-155 2-63 3 38 2 163 3 13 2 4 3-104 2-134 3-35 2-10 3-2 3 75 2 130 3 80 2 1 3 2 2-132 3-116 2 12 3 66 2 172 3 5 2-57 3-191 2-8 3 73 3 176 2 3 3-79 2-167 3 14 2 122 3 113 2 2 3-188 2-13 3 154 2 53 3-206 2-36 3 238 3-34 2-217 3 105 2 146 3-148 2-77 3 147 2 76 3-66 2-148 3-17 2 109 3 109 2 3 3-50 3-179 2-47 3-3 2 105 3 176 2 2 3 0 2-182 3-83 2 3 3 102 2 168 3 0 2 3 3-134 2-131 3 21 3 19 2 74 3 124 2 40 3 4 2-41 3-99 2-5 3 43 2 107 3-10 2-192 3-18 2 215 3-33 3-205 2 91 3 146 2-138 3-84 2 152 3 56 2-127 3-103 2 65 3 173 2 1 3-229 2-49 3 84 3 186 2 6 3-178 2-54 3 58 2 180 3 0 2-116 3-108 2-14 3 99 2 140 3-6 2-6 3-75 3-104 2-50 3 20 2 23 3 7 2 80 3 88"/>
<path class="b" d="M537 578l2-8 2 2 3 7 2-7 2-2 3-2 2-8 2 9 3 6 2 3 2-6 3 3 2-4 2-4 3 7 2-9 2 9 3-3 2-1 2-1 3-7 2 11 2-5 2 9 3-6 2-3 2 4 3 6 2 3 2-14 3 4 2 9 2-3 3 0 2 0 2-1 3 6 2-10 2 5 3 2 2 7 2-3 3 1 2-2 2 2 3-3 2 1 2 3 3-5 2-1 2-11 3 18 2-6 2 2 2 0 3 14 2 3 2-10 3-12 2 5 2 6 3 0 2-3 2 10 4-212 2 101 3 40 2-105 3-98 2 57 3 149 2-13 3-168 3-35 2 124 3 92 2-71 3-165 2 30 3 203 2-37 3-234 2 38 3 236 2-51 3-244 2 34 3 236 3 20 2-129 3-90 2 8 3 108 2 101 3 13 2 5 3-48 2-81 3-78 2-36 3 4 2 24 3 87 3 91 2 26 3 0 2-82 3-106 2-17 3 54 2 130 3 14 2-62 3-169 2-44 3 51 2 172 3 75 3-38 2-158 3-46 2 74 3 173 2-24 3-222 2-28 3 246 2-14 3-253 2 91 3 191 2-135 3-100 3 161 2 77 3-124 2-73 3 52 2 138 3 9 2-94 3-146 2-24 3 18 2 138 3 103 2 9 3-56 3-131 2-54 3 0 2 109 3 123 2 3 3-40 2-144 3-100 2-1 3 36 2 114 3 109 2 34 3 2 3-38 2-86 3-62 2 12 3 41 2 122 3 28 2-86 3-131 2 55 3 160 2-48 3-151 2 86 3 118 3-90 2-70 3 90 2 63 3-94 2-97 3 37 2 147 3-7 2-199 3-84 2 95 3 192 2 3 3-180 3-96 2 62 3 202 2 15 3-142 2-140 3-1 2 149 3 132 2-2 3-31 2-103 3-87 2-19 3 27 2 24 3 44 3 58 2 56 3 38"/>
<path class="c" d="M536 566l2-6 2-2 3 4 2 0 2 0 3 0 2 6 2 15 3-3 2-14 2 17 3-13 2 7 2 2 2-8 3-6 2 3 2 3 3 9 2-3 2-9 3 8 2-4 2 9 3-1 2-10 2 6 3 11 2-4 2 6 3-13 2 5 2 7 3-14 2 7 2 10 3-6 2-11 2-3 3 20 2-7 2-9 2 1 3 5 2 2 2-5 3-4 2 14 2-5 3 0 2 2 2-2 3-6 2 10 2-1 3-1 2-5 2 8 3 12 2-12 2-7 3 10 2-5 2-5 4-179 2 12 3 72 2 22 3-54 2-40 3 28 2 61 3 2 2-65 3-22 2 27 3 55 3-29 2-96 3 18 2 93 3-26 2-107 3 40 2 98 3-58 2-86 3 59 2 92 3-20 2-78 3-15 3 32 2 60 3 32 2 0 3-12 2-30 3-29 2-7 3-6 2 1 3 32 2 39 3 13 2-16 3-69 3-74 2-20 3 55 2 83 3 13 2-25 3-88 2-46 3 11 2 80 3 72 2 2 3-41 2-74 3 4 3 80 2 58 3-42 2-69 3 43 2 76 3-56 2-53 3 78 2 25 3-106 2 3 3 99 2-23 3-109 3-8 2 91 3 27 2-15 3-81 2-23 3 20 2 73 3 43 2 8 3-49 2-56 3-11 2 35 3 64 3 21 2-8 3-58 2-52 3-11 2 22 3 46 2 43 3 13 2 0 3-27 2-50 3-53 2-21 3-1 3 57 2 79 3 17 2-56 3-72 2 34 3 101 2-4 3-81 2 21 3 83 2-23 3-60 2 25 3 54 3-20 2-72 3 7 2 70 3 10 2-71 3-55 2 29 3 85 2-2 3-102 2-43 3 64 2 87 3-29 3-105 2-15 3 68 2 83 3 6 2-38 3-49 2-21 3 15 2 18 3 30 2 28 3 23 2 15 3-2 3-9"/>
<path class="c" d="M535 573l2-3 2-2 3-7 2 11 2-7 2 3 3-5 2 10 2-2 3-8 2 6 2-5 3 3 2-1 2 1 3-1 2-12 2 26 3 7 2-10 2-7 3 1 2 6 2-1 3 1 2-9 2 4 3-8 2 4 2 6 3 2 2-1 2 4 2 2 3 1 2-7 2 12 3-5 2-3 2 0 3 7 2 2 2-13 3-1 2 4 2 12 3 8 2-9 2-14 3 5 2 0 2 1 3 17 2 3 2-17 3-10 2 15 2 6 3-6 2 11 2-3 2-16 3 2 2 4 4-215 2-12 3 90 2 50 3-43 2-100 3 14 2 115 3 25 2-54 3-62 2 30 3 89 2 5 3-91 3-20 2 83 3 32 2-107 3-17 2 112 3 1 2-109 3 17 2 100 3 4 2-95 3-28 2 25 3 82 3 13 2-9 3-79 2-82 3-29 2-4 3 19 2 74 3 79 2 25 3 0 2-54 3-97 2-36 3 9 3 103 2 86 3 2 2-83 3-95 2 2 3 48 2 98 3 32 2 6 3-64 2-40 3 0 2 72 3 50 2-50 3-96 3 28 2 99 3-40 2-97 3 76 2 60 3-109 2-27 3 131 2-11 3-144 2-8 3 132 2 18 3-81 3-116 2-5 3 86 2 119 3 8 2-60 3-110 2-10 3 16 2 109 3 52 2-7 3-81 2-75 3 7 3 41 2 81 3 46 2 4 3-18 2-37 3-28 2-5 3 10 2 10 3 35 2 38 3 6 2-16 3-77 3-39 2 52 3 77 2-33 3-102 2 29 3 104 2-50 3-98 2 63 3 79 2-73 3-99 2 50 3 126 3-30 2-164 3-8 2 132 3 72 2-56 3-111 2 18 3 137 2 27 3-90 2-55 3 34 2 105 3-1 3-61 2-66 3 2 2 27 3 61 2 40 3 1 2 9 3-8 2-26 3-33 2-37"/>
<path class="m" d="M533 566l3-2 2 10 2 3 3-8 2-4 2 8 3-2 2 7 2 3 3 1 2-19 2 13 3-6 2 8 2-1 3-1 2-8 2 1 3 5 2 7 2-8 3 2 2-5 2 1 2 16 3-9 2 3 2-1 3 0 2 3 2-12 3 11 2 5 2-18 3 12 2 6 2 5 3-12 2 5 2-8 3 3 2 7 2-7 3 8 2 3 2-6 3 1 2-8 2 0 3 2 2 9 2 0 2-14 3 11 2 9 2 4 3-3 2-8 2-2 3 2 2-10 2 5 3 11 2 13 3-265 3 59 2 127 3-13 3-124 2-27 3 91 2 71 3-31 2-115 3-13 2 109 3 47 2-67 3-101 2 55 3 115 2-45 3-138 3 51 2 131 3-52 2-151 3 29 2 167 3 19 2-122 3-99 2-3 3 80 2 96 3 52 2 3 3-3 3-43 2-51 3-48 2-27 3-6 2 33 3 70 2 70 3 5 2-49 3-111 2-56 3 11 2 112 3 87 3-6 2-99 3-133 2-25 3 62 2 152 3 52 2-63 3-179 2-27 3 147 2 117 3-90 2-133 3 106 3 112 2-112 3-68 2 157 3 32 2-169 3-3 2 158 3 23 2-130 3-60 2 38 3 117 2 36 3-10 3-90 2-79 3 2 2 30 3 94 2 58 3 0 2-73 3-101 2-28 3 26 2 94 3 79 2 3 3-24 3-75 2-76 3-29 2-11 3 14 2 69 3 85 2 47 3 1 2-84 3-143 2-41 3 98 2 174 3-23 2-192 3-8 3 201 2 5 3-184 2 32 3 172 2-36 3-142 2 33 3 134 2 13 3-99 2-44 3 52 2 88 3 8 3-97 2-62 3 30 2 117 3 14 2-120 3-98 2 32 3 139 2 38 3-42 2-119 3-59 2 6 3 53 3 74 2 60 3 33 2 4 3-2 2-23 3-48 2-58"/>
<path class="r" d="M532 569l3-2 2 1 2-8 3 12 2-11 2 11 3-2 2 8 2-2 3 9 2-18 2 12 2-10 3-1 2-4 2 16 3-5 2 3 2-1 3-2 2-1 2-8 3 4 2 9 2 2 3 0 2-1 2 3 3-15 2 3 2 8 3 9 2-9 2-1 3 1 2-1 2 5 3 1 2-2 2 8 3-6 2 1 2-1 2-2 3 5 2 7 2 2 3-8 2-6 2-1 3-5 2 17 2-15 3 8 2 5 2-10 3-2 2 11 2-1 3 0 2-2 2 10 3-8 2 2 3-226 3 80 2 98 3-51 2-95 3 23 2 110 3-4 3-131 2-13 3 120 2 30 3-88 2-40 3 78 2 58 3-71 2-36 3 81 2 32 3-115 2-10 3 122 3-23 2-139 3 4 2 150 3 10 2-99 3-88 2 8 3 64 2 83 3 29 2-7 3-22 2-73 3-75 3-14 2 9 3 82 2 94 3 0 2-41 3-113 2-7 3 64 2 113 3 9 2-64 3-102 2-8 3 77 3 94 2-9 3-105 2-90 3 17 2 162 3 24 2-140 3-44 2 137 3 35 2-162 3 18 2 152 3-111 3-96 2 191 3 4 2-213 3 47 2 186 3-19 2-161 3-6 2 93 3 97 2 7 3-85 2-79 3-6 3 44 2 96 3 9 2-33 3-97 2-9 3 33 2 90 3 21 2-2 3-61 2-35 3-10 2 14 3 61 3 48 2-3 3-11 2-95 3-90 2-3 3 66 2 132 3-1 2-117 3-75 2 98 3 88 2-124 3-87 3 186 2 23 3-223 2 61 3 166 2-82 3-115 2 103 3 99 2-41 3-93 2 20 3 119 2 5 3-95 3-34 2 52 3 70 2-24 3-104 2 8 3 96 2 19 3-30 2-59 3 0 2 33 3 55 2 12 3-4 2-41 3-67 3-61 2-12 3-1 2 42"/>
<path class="k" d="M531 578l3-1 2-10 2 4 2 0 3-3 2 6 2-3 3 5 2 1 2-8 3 4 2-6 2 5 3 1 2 3 2-5 3 6 2 1 2-6 3 3 2-2 2 1 3 0 2 4 2 0 3 7 2-1 2-3 3-11 2 11 2 1 2 3 3-3 2-1 2-5 3 3 2 2 2 6 3-2 2-11 2 12 3 10 2-11 2-2 3 5 2-13 2 8 3 6 2-9 2 5 3 5 2-7 2 4 3-4 2 14 2-12 3-1 2-2 2 7 3 5 2-4 2 0 2-5 3 2 3-240 3-6 2 177 3 32 2-169 3-95 2 85 3 166 2-17 3-247 2-2 3 195 3 66 2-84 3-123 2 57 3 160 2-39 3-189 2 34 3 198 2-88 3-191 2 111 3 169 2-63 3-153 3 17 2 162 3 49 2 1 3-113 2-98 3-24 2-25 3 25 2 102 3 103 2 4 3-5 2-42 3-140 3-59 2 11 3 79 2 158 3 10 2-42 3-195 2-49 3 12 2 215 3 69 2 7 3-203 2-86 3 32 3 173 2 88 3-31 2-193 3 1 2 182 3 32 2-251 3-44 2 290 3-61 2-255 3 169 2 153 3-210 3-69 2 211 3 71 2-107 3-159 2-10 3 180 2 100 3 0 2-147 3-186 2 11 3 48 2 196 3 66 3-3 2-107 3-93 2 12 3 38 2 126 3 26 2 10 3-101 2-138 3-31 2 11 3 22 2 126 3 115 3 10 2 6 3-77 2-120 3-9 2 67 3 134 2-8 3-262 2-20 3 277 2-6 3-278 2 58 3 227 3-88 2-159 3 95 2 164 3-73 2-215 3-13 2 277 3 19 2-160 3-145 2 35 3 274 2 0 3-171 3-69 2 72 3 174 2-9 3-112 2-74 3-6 2 104 3 86 2-2 3-2 2-88 3-79 2-22 3 14 3 10 2 17"/>
<path class="k" d="M530 573l2 3 3-2 2 1 2 11 3-7 2-12 2-1 3 4 2 1 2 0 3 3 2-16 2 15 3-2 2 3 2-4 3 12 2-1 2 2 3-6 2 2 2 1 2 1 3-3 2-1 2 5 3-7 2 4 2 1 3 2 2 4 2 6 3-12 2 1 2-9 3-2 2 15 2-6 3 14 2-1 2-1 3-8 2 3 2 5 3-2 2-19 2 4 3 10 2 5 2 3 2-2 3-3 2-4 2-7 3 11 2 7 2-9 3 3 2-2 2 3 3-3 2 2 2-4 3 9 3-264 3 40 2 113 3 0 2-115 3-13 2 74 3 76 2-10 3-97 2 9 3 51 2 49 3-19 3-114 2-19 3 107 2 25 3-84 2-61 3 74 2 81 3-59 2-84 3 23 2 113 3 7 2-92 3-87 3-13 2 33 3 87 2 50 3 9 2 3 3-2 2-39 3-40 2-34 3 10 2-1 3-2 2 54 3 55 3 0 2-8 3-98 2-57 3-7 2 72 3 97 2-4 3-24 2-101 3-24 2-8 3 104 2 61 3-9 2-158 3-66 3 71 2 135 3-32 2-160 3 54 2 151 3-46 2-89 3 80 2 69 3-61 2-65 3 38 2 94 3-5 3-88 2-53 3-3 2 59 3 84 2 21 3 2 2-26 3-60 2-27 3-12 2 22 3 68 2 28 3-3 3-49 2-96 3-29 2 2 3 24 2 78 3 67 2 11 3-1 2-1 3-64 2-84 3-40 2-14 3 47 3 133 2 12 3-82 2-127 3 30 2 190 3-6 2-155 3 22 2 143 3-15 2-131 3 20 2 130 3-1 3-116 2-23 3 64 2 77 3 11 2-61 3-16 2 3 3 71 2 19 3-25 2-93 3-15 2 27 3 82 3-4 2-63 3-109 2-12 3 2 2 54 3 70 2 45 3 2 2 3 3 0 2 0 3-42"/>
<path class="r" d="M529 563l2 4 3-9 2 18 2-2 3-1 2 2 2 6 3-10 2 7 2-6 3-6 2-5 2 4 2 5 3 3 2 5 2 1 3-6 2 1 2-9 3 13 2-2 2 2 3 4 2-1 2 0 3-5 2-3 2 10 3 4 2-9 2-2 3 10 2-5 2-4 3 0 2 4 2 1 3 5 2 0 2 3 2-9 3 4 2-1 2 3 3-4 2 2 2 3 3-7 2 3 2 5 3 4 2-4 2-7 3 2 2 0 2 15 3-6 2 5 2 0 3-11 2-1 2-1 3 8 3-260 2 26 3 110 3 9 2-99 3-36 2 88 3 57 2-61 3-83 2 39 3 105 2-9 3-109 2-17 3 105 2 36 3-124 3-38 2 131 3 3 2-160 3 38 2 126 3-65 2-117 3 73 2 116 3-30 2-130 3-23 2 48 3 99 3 43 2-6 3-58 2-79 3-64 2-3 3 14 2 78 3 85 2 21 3-30 2-106 3-62 2 8 3 113 3 81 2-19 3-116 2-73 3 21 2 116 3 76 2-10 3-104 2-59 3 34 2 123 3 36 2-102 3-61 3 87 2 77 3-118 2-50 3 155 2-35 3-130 2 102 3 68 2-147 3-31 2 153 3 19 2-140 3-50 3 58 2 124 3 13 2-95 3-118 2-9 3 65 2 121 3 23 2-42 3-119 2-33 3 40 2 116 3 46 3-21 2-99 3-74 2 2 3 40 2 85 3 69 2 12 3-16 2-67 3-74 2-24 3 32 2 102 3 61 2-43 3-120 3 7 2 139 3 3 2-141 3 34 2 129 3-73 2-82 3 93 2 54 3-107 2-44 3 99 2 46 3-89 3-87 2 50 3 124 2-23 3-147 2-30 3 128 2 64 3-88 2-112 3 46 2 141 3 6 2-101 3-85 3 6 2 91 3 86 2 7 3 6 2-48 3-54 2-42 3-2"/>
<path class="c" d="M528 576l2-10 2 12 3-13 2 17 2-6 3-10 2 16 2-3 3-13 2 8 2 1 3-6 2 10 2 11 3-20 2 7 2-1 3-9 2 13 2-7 3 5 2-2 2 11 3-1 2-6 2-12 3 1 2 18 2-1 3-7 2 3 2 2 2-7 3 8 2 9 2-12 3-9 2 13 2-8 3 1 2-2 2 3 3 3 2 3 2 9 3-4 2-1 2 3 3-2 2 0 2 3 3-9 2-4 2 7 3-7 2 9 2 4 3 0 2 2 2-3 2 6 3-12 2 6 2 2 4-181 2 11 3 75 2 25 3-29 2-78 3-2 3 73 2 41 3-25 2-89 3-9 2 65 3 65 2-17 3-107 2-13 3 98 2 52 3-94 2-62 3 79 3 68 2-82 3-73 2 73 3 74 2-25 3-94 2 1 3 34 2 67 3 24 2-7 3-24 2-42 3-38 3-13 2-5 3 0 2 26 3 50 2 49 3 16 2-12 3-62 2-70 3-11 2 10 3 72 2 60 3-6 3-34 2-70 3-32 2-6 3 54 2 73 3 16 2-25 3-93 2-29 3 60 2 97 3-27 2-133 3 24 3 138 2-42 3-123 2 67 3 97 2-79 3-75 2 55 3 102 2-17 3-103 2-20 3 20 2 80 3 31 3 8 2-46 3-58 2 0 3-6 2 58 3 57 2 7 3-22 2-64 3-38 2 1 3 20 2 56 3 45 3-6 2-3 3-17 2-43 3-45 2-35 3-5 2 10 3 42 2 68 3 38 2-8 3-88 2-40 3 35 3 113 2-21 3-125 2 8 3 137 2-10 3-136 2 3 3 131 2 12 3-104 2-50 3 53 2 102 3-5 3-97 2-45 3 29 2 100 3 14 2-76 3-44 2 9 3 91 2 16 3-38 2-69 3-9 2 32 3 56 3 38 2-4 3-4 2-20 3-28 2-28 3-24"/>
<path class="r" d="M527 568l2 6 2 0 3-13 2 20 2-10 3 11 2-10 2-2 3 10 2 3 2-15 3-1 2 1 2-2 3 11 2-1 2 4 3 10 2-8 2-5 2 3 3-2 2-4 2-4 3 12 2-5 2 0 3-2 2 2 2 8 3-1 2-3 2-10 3 12 2 4 2-3 3 0 2-1 2 7 3-4 2-6 2 17 3-15 2 12 2-1 3-6 2-3 2 2 3 3 2 0 2-5 2 12 3 2 2-9 2 2 3-5 2 5 2-3 3 3 2 1 2-10 3 7 2 4 2 0 4-267 2 10 3 148 2 64 3-91 2-75 3 51 2 110 3-24 3-169 2-11 3 154 2 57 3-88 2-117 3 22 2 173 3 7 2-147 3-55 2 124 3 82 2-126 3-143 2 77 3 194 3-26 2-225 3-53 2 61 3 167 2 74 3 6 2-25 3-72 2-71 3-64 2-26 3-19 2-4 3 71 3 111 2 101 3 7 2-49 3-150 2-77 3 14 2 146 3 107 2-5 3-147 2-118 3-15 2 166 3 117 3 3 2-198 3-102 2 45 3 224 2 30 3-142 2-94 3 123 2 116 3-136 2-126 3 190 2 80 3-273 3-46 2 285 3 41 2-240 3-56 2 105 3 176 2 12 3-55 2-120 3-56 2-9 3 23 2 109 3 107 3 3 2-10 3-120 2-115 3 5 2 28 3 120 2 83 3 6 2-33 3-115 2-113 3-24 2-17 3 102 3 133 2 62 3 3 2-70 3-169 2-55 3 43 2 203 3 53 2-132 3-125 2 113 3 153 2-158 3-120 3 191 2 78 3-204 2-23 3 182 2 48 3-111 2-65 3 38 2 129 3 18 2-91 3-145 2-16 3 122 3 138 2-11 3-162 2-103 3 22 2 168 3 88 2-4 3-114 2-117 3-17 2-11 3 74 2 90 3 78 3 15 2 1 3 0"/>
<path class="y" d="M526 577l2 3 2-14 3 5 2 11 2-3 3 1 2-12 2 0 3 4 2 3 2 8 2-1 3-9 2 1 2 2 3 2 2-6 2 3 3-3 2 13 2 4 3-4 2-10 2-5 3 18 2 0 2-5 3-6 2 7 2-2 3-8 2 13 2-3 3-3 2-5 2 11 3-1 2-12 2 8 2 6 3-1 2-3 2-5 3 4 2-12 2 13 3-4 2 13 2 2 3-9 2 1 2 7 3-18 2 14 2 6 3-17 2 5 2 4 3 0 2-2 2 17 3-3 2-3 2-8 4-215 2-14 3 88 2 35 3-94 2-74 3 72 2 89 3-32 2-104 3 0 2 100 3 52 3-73 2-84 3 29 2 108 3-9 2-129 3-20 2 132 3 26 2-122 3-38 2 115 3 63 2-56 3-94 3-14 2 61 3 72 2 30 3-12 2-48 3-60 2-53 3-34 2-1 3 13 2 47 3 64 2 60 3 22 3-16 2-68 3-67 2-10 3 65 2 81 3 13 2-70 3-82 2-6 3 65 2 83 3 18 2-63 3-84 3-14 2 80 3 69 2-69 3-136 2 30 3 150 2-60 3-147 2 96 3 127 2-126 3-70 2 145 3 57 2-109 3-76 3 64 2 108 3 19 2-61 3-91 2-38 3 14 2 71 3 78 2 47 3-3 2-49 3-65 2-37 3 3 3 58 2 69 3 20 2-28 3-75 2-67 3-12 2 22 3 63 2 67 3 46 2 2 3-22 2-60 3-62 3-17 2 57 3 87 2-4 3-124 2-51 3 113 2 64 3-128 2-44 3 146 2 10 3-142 2 9 3 135 3-8 2-141 3-43 2 112 3 92 2-39 3-114 2-30 3 78 2 105 3 18 2-72 3-66 2 18 3 78 3 42 2-25 3-84 2-57 3 5 2 56 3 62 2 37 3-1 2-7 3-28 2-32 3-33 2-29"/>
<path class="g" d="M524 571l3 9 2-9 2 4 3-3 2 10 2-4 3 4 2 3 2-2 3-4 2 2 2 6 3-3 2-8 2 3 3-9 2 4 2 5 3 1 2 0 2 5 3-11 2 8 2-6 3 10 2-4 2 1 3-8 2 1 2 5 2-2 3 5 2 6 2-8 3 13 2-8 2-7 3 0 2 2 2 1 3 0 2 1 2 6 3-5 2 5 2-11 3 15 2 2 2-5 3-3 2-11 2 9 3 6 2 9 2-8 3-6 2 5 2-3 2 2 3 0 2 2 2 2 3 3 2-6 3-240 3-53 3 86 2 160 3-2 2-178 3-5 2 105 3 72 2-29 3-192 2-10 3 139 2 92 3-39 2-189 3 3 3 191 2 46 3-127 2-72 3 83 2 119 3-61 2-193 3-18 2 195 3 72 2-11 3-181 2-95 3 14 3 20 2 67 3 84 2 68 3 36 2-2 3-8 2 10 3-80 2-134 3-102 2-6 3 25 2 188 3 110 3 5 2-118 3-163 2 8 3 49 2 181 3 38 2 3 3-207 2-120 3 1 2 195 3 126 2-13 3-251 3 8 2 197 3 66 2-150 3-57 2 170 3 46 2-226 3-39 2 239 3 19 2-209 3-86 2 70 3 221 3 22 2-25 3-139 2-83 3-1 2-4 3 95 2 123 3 17 2 7 3-77 2-173 3-73 2 14 3 76 3 165 2 81 3-6 2-17 3-109 2-112 3-35 2-16 3-19 2 95 3 142 2 63 3-3 2-52 3-199 3-20 2 75 3 207 2-2 3-202 2-17 3 190 2 27 3-233 2-20 3 241 2 14 3-225 2-34 3 163 2 102 3-25 3-159 2-10 3 53 2 137 3 5 2-87 3-182 2-25 3 125 2 173 3-2 2-149 3-142 2 20 3 74 3 150 2 43 3 1 2 0 3-67 2-86 3-81 2-45 3-4 2 5"/>
<path class="k" d="M523 572l3 7 2-7 2 5 3-6 2 9 2-4 3-5 2 6 2 6 3-4 2 0 2 0 3-3 2-6 2 13 3 0 2 3 2 0 2-5 3 3 2-4 2-4 3 3 2 3 2 0 3 10 2-9 2 2 3-9 2 0 2 4 3 5 2 3 2-5 3 3 2 8 2-18 3-1 2 12 2-3 3 4 2 0 2-4 3-5 2 6 2 12 3-11 2 3 2-7 2 7 3 7 2 1 2-9 3 12 2-11 2 10 3-6 2-5 2 3 3 12 2-1 2-4 3-5 2 4 3-132 3-82 2 64 3 85 2-72 3-107 3 86 2 103 3-94 2-102 3 94 2 106 3-65 2-106 3 64 2 109 3-50 2-107 3 57 2 96 3-89 3-91 2 127 3 49 2-140 3-24 2 139 3 34 2-106 3-69 2 45 3 91 2 33 3-7 2-72 3-80 3-41 2-4 3 50 2 83 3 70 2 10 3-52 2-94 3-34 2 32 3 111 2 28 3-72 2-129 3-3 3 133 2 73 3-53 2-141 3-20 2 119 3 101 2-36 3-133 2-10 3 143 2 39 3-158 2-21 3 177 3-62 2-133 3 145 2 43 3-168 2 74 3 109 2-94 3-67 2 94 3 76 2-69 3-124 2-18 3 97 3 105 2 6 3-93 2-114 3-25 2 67 3 121 2 41 3-37 2-114 3-52 2 42 3 113 2 58 3-33 3-104 2-79 3 3 2 74 3 92 2 48 3-11 2-68 3-71 2-2 3 64 2 77 3-21 2-133 3-5 3 152 2-30 3-151 2 97 3 95 2-147 3-2 2 144 3-55 2-103 3 80 2 94 3-97 2-112 3 70 3 135 2-30 3-146 2-28 3 130 2 86 3-78 2-114 3 33 2 126 3 32 2-104 3-88 2 14 3 108 3 73 2-11 3-73 2-73 3-33 2 10 3 45 2 60"/>
<path class="y" d="M522 580l3 0 2-2 2 6 3-17 2 8 2 6 3-15 2 5 2 4 2 7 3-3 2 5 2-1 3-4 2 1 2 1 3-3 2 7 2 1 3-4 2 5 2-10 3 3 2 7 2 0 3 0 2-2 2-11 3 10 2-4 2-3 3 3 2 1 2 5 3 6 2-2 2-6 2 1 3-1 2 1 2 1 3-3 2 2 2 16 3-6 2-5 2-2 3 3 2 3 2 5 3-6 2-1 2 7 3 3 2-6 2-8 3 6 2-1 2 0 3 4 2 2 2-2 3-3 2 7 3-126 3-95 2 0 3 95 2 69 3-37 2-126 3-2 3 105 2 68 3-37 2-93 3 3 2 68 3 51 2-22 3-82 2-12 3 84 2 23 3-76 2-50 3 81 2 52 3-79 3-47 2 63 3 55 2-27 3-92 2-16 3 44 2 75 3 22 2 3 3-52 2-66 3-58 2-29 3 6 3 2 2 52 3 68 2 65 3 14 2-12 3-86 2-97 3-15 2 30 3 112 2 64 3-1 2-64 3-87 3-9 2 26 3 88 2 62 3 6 2-64 3-80 2 5 3 93 2 44 3-74 2-69 3 71 2 74 3-89 3-45 2 103 3 26 2-114 3-33 2 114 3 34 2-81 3-118 2-10 3 107 2 102 3-4 2-42 3-106 3-58 2 12 3 67 2 100 3 37 2-6 3-86 2-92 3-12 2 21 3 85 2 75 3 17 2-6 3-29 3-45 2-37 3-21 2 4 3 9 2 40 3 55 2 34 3 1 2-80 3-87 2 15 3 120 2 30 3-107 3-38 2 99 3 30 2-86 3-40 2 92 3 49 2-88 3-89 2 47 3 123 2-3 3-100 2-61 3 35 3 122 2 21 3-71 2-81 3 14 2 107 3 42 2-58 3-106 2-10 3 48 2 89 3 34 2-5 3-31 3-43 2-33 3-16 2 0"/>
<path class="g" d="M521 562l2 11 3 3 2-2 2 0 3 5 2-3 2 9 3-1 2-4 2-7 3-1 2 14 2-7 3 1 2-7 2 10 3-6 2-4 2 2 3 2 2 4 2-9 3 6 2 0 2-7 3 12 2-1 2 4 2 0 3-5 2-2 2 8 3 1 2 2 2 3 3-11 2 12 2-11 3 16 2-8 2-6 3 7 2-1 2 2 3-3 2-4 2 6 3 1 2 6 2-3 3 4 2-10 2-3 3 9 2 4 2-15 2 1 3 13 2-9 2 11 3 4 2-9 2 4 3-15 3-32 3-87 2-24 3 45 2 69 3-26 2-122 3 2 2 133 3 11 2-94 3-59 3 48 2 106 3-1 2-137 3-6 2 112 3 28 2-97 3-38 2 95 3 33 2-105 3-24 2 99 3 29 3-81 2-54 3 30 2 98 3 8 2-7 3-75 2-65 3 3 2-11 3 26 2 63 3 66 2 13 3 8 3-20 2-86 3-60 2 2 3 40 2 106 3 9 2-12 3-113 2-32 3 7 2 114 3 39 2 10 3-112 3-69 2-1 3 129 2 54 3-29 2-146 3-4 2 172 3 14 2-188 3 14 2 165 3-57 2-106 3 99 2 55 3-103 3-28 2 93 3 30 2-31 3-76 2-1 3 44 2 76 3 5 2-21 3-91 2-42 3-4 2 50 3 103 3 10 2-8 3-114 2-58 3-3 2 59 3 106 2 13 3 2 2-52 3-84 2-32 3 10 2 5 3 67 3 77 2 20 3 7 2-79 3-60 2 1 3 113 2 24 3-92 2-54 3 106 2 43 3-128 2-19 3 144 3-5 2-141 3 4 2 138 3 2 2-121 3-34 2 65 3 82 2 4 3-129 2-19 3 62 2 96 3 1 3-130 2-20 3 55 2 104 3 1 2-95 3-82 2 0 3 34 2 88 3 46 2 5 3-3 2-25 3-49"/>
<path class="y" d="M520 576l2-5 3-4 2 8 2 4 3 5 2-12 2 4 3 7 2 1 2-3 3 6 2-3 2-14 3 6 2-2 2 13 3-6 2 10 2-14 2 3 3 0 2 9 2-2 3 4 2-5 2-1 3-6 2-4 2 11 3-1 2-3 2 5 3-3 2-4 2 9 3 6 2 5 2-10 3 1 2-12 2 12 3 11 2-8 2-16 3 17 2-7 2 4 2-2 3 5 2-6 2 5 3 0 2 1 2-3 3-4 2 9 2-8 3 0 2 9 2-7 3 6 2-7 2 14 3 3 3-59 3-56 2-65 3 4 2 116 3 10 2-95 3-39 2 67 3 74 2-34 3-122 2-7 3 130 2 29 3-77 3-100 2 20 3 148 2 4 3-153 2-19 3 132 2 37 3-125 2-61 3 97 2 88 3-32 2-159 3 5 3 66 2 128 3 7 2-5 3-31 2-60 3-43 2 3 3 4 2 3 3 11 2 50 3 52 2 5 3 0 3-43 2-69 3-2 2 17 3 78 2 13 3 2 2-86 3-28 2-13 3 93 2 46 3-1 2-116 3-61 3 3 2 162 3 5 2-102 3-76 2 90 3 92 2-110 3-85 2 153 3 38 2-197 3-8 2 209 3 5 3-181 2-39 3 78 2 137 3 19 2-42 3-115 2-25 3-5 2 42 3 97 2 46 3 3 2-20 3-86 3-40 2 9 3 36 2 73 3 21 2-3 3-22 2-49 3-26 2 6 3-7 2 36 3 55 2 11 3 5 3-21 2-92 3-30 2-3 3 127 2 25 3-75 2-81 3 52 2 99 3-87 2-97 3 118 2 67 3-147 2-45 3 131 3 65 2-83 3-91 2 3 3 150 2 22 3-43 2-141 3-4 2 89 3 104 2 8 3-122 2-62 3 5 3 135 2 34 3 1 2-77 3-52 2 8 3 1 2 40 3 45 2 35 3-5"/>
<path class="g" d="M519 585l2-7 3-2 2-6 2 10 3 3 2-7 2 1 2-6 3 5 2 8 2 12 3-17 2-8 2 8 3-4 2 1 2 16 3-9 2 1 2 3 3 4 2-13 2-6 3 8 2-2 2-2 3 8 2 7 2-5 3 3 2 3 2-9 3 2 2 9 2-13 3-2 2 8 2 7 2 3 3-8 2 2 2 6 3-12 2-1 2 11 3-8 2 2 2 13 3-14 2 9 2-2 3 3 2 0 2-10 3-1 2 8 2-1 3 0 2 5 2-3 3 7 2-5 2-9 3 6 3-124 2-104 3-20 2 112 3 34 3-108 2-75 3 106 2 83 3-80 2-113 3 49 2 141 3 7 2-121 3-50 2 87 3 96 2-21 3-102 3-7 2 100 3 31 2-78 3-68 2 50 3 90 2-14 3-111 2-57 3 14 2 85 3 72 2 6 3-3 3-47 2-55 3-52 2-39 3-14 2 7 3 29 2 66 3 76 2 46 3-2 2-67 3-76 2-14 3 67 3 84 2 7 3-74 2-89 3-2 2 89 3 80 2-33 3-128 2-65 3 53 2 145 3 8 2-162 3-62 3 146 2 84 3-145 2-72 3 172 2 42 3-165 2-5 3 156 2 19 3-120 2-41 3 54 2 97 3 27 3-33 2-75 3-68 2-20 3-1 2 54 3 74 2 63 3 7 2-38 3-90 2-81 3-10 2 52 3 97 3 72 2 8 3-48 2-66 3-44 2 4 3 31 2 60 3 55 2 16 3-22 2-71 3-63 2 7 3 97 3 56 2-93 3-118 2 75 3 122 2-122 3-118 2 153 3 71 2-182 3-49 2 180 3 62 2-130 3-72 3 52 2 126 3 29 2-54 3-88 2-21 3 64 2 90 3 25 2-44 3-88 2-30 3 41 2 86 3 39 3-19 2-76 3-74 2-28 3-3 2 33 3 50 2 50 3 38"/>
<path class="r" d="M518 567l2 9 2 4 3 2 2-6 2-1 3-5 2 9 2 2 3-8 2 2 2 5 3 7 2 1 2-9 3 0 2 2 2 4 3 1 2-9 2-3 3 19 2-2 2-7 3-8 2 7 2 6 2 0 3 3 2-2 2-2 3-6 2 9 2 8 3-5 2-7 2-1 3 8 2 1 2-6 3-6 2 17 2-6 3-2 2-10 2 2 3 1 2 13 2-1 3 5 2-7 2-3 3 10 2-6 2-6 3-1 2 4 2 1 2 2 3 0 2-3 2-2 3 3 2 7 2-1 4-78 2-69 3-13 2 14 3 70 2 4 3-89 3-15 2 37 3 68 2-5 3-79 2-16 3 21 2 75 3-12 2-36 3-55 2 12 3 85 2 6 3-54 3-49 2 26 3 79 2-7 3-67 2-35 3-3 2 69 3 32 2 1 3-12 2-47 3-55 2-46 3-6 2-15 3 4 3 1 2 2 3 35 2 61 3 65 2 14 3 6 2-27 3-84 2-28 3 11 2 54 3 80 2 8 3-11 3-63 2-13 3 4 2 46 3 47 2 2 3-31 2-61 3-3 2 51 3 36 2-33 3-86 2 20 3 91 3-18 2-101 3 6 2 113 3-2 2-122 3-22 2 36 3 100 2-1 3-12 2-84 3-62 2-7 3 5 3 0 2 63 3 67 2 30 3 6 2 0 3-60 2-73 3-23 2 11 3 11 2 71 3 64 2 1 3 6 3 5 2-33 3-32 2-10 3 11 2 1 3 17 2 43 3 21 2-1 3-35 2-39 3-6 2 72 3 13 3-78 2-31 3 69 2 28 3-76 2-45 3 50 2 70 3-24 2-128 3-13 2 55 3 96 2 4 3-35 3-100 2-8 3 14 2 99 3 40 2 2 3-61 2-64 3 6 2 18 3 74 2 32 3 0 2-1 3-34 3-39 2-30 3-8 2 3 3 3"/>
<path class="c" d="M517 581l2 1 2-11 3 9 2-4 2-1 3-4 2 12 2-12 3 0 2 5 2 2 3-4 2 4 2 6 3 3 2-2 2-3 2 7 3-18 2 9 2-11 3 13 2 16 2-7 3-17 2 6 2-7 3 22 2-1 2-2 3-3 2-2 2-3 3-9 2 20 2-8 3 4 2 3 2-9 3 4 2 0 2 0 3 2 2-10 2 1 2 2 3 0 2 7 2-6 3 5 2 5 2 5 3-8 2 5 2-3 3-3 2 20 2-16 3-2 2-5 2 7 3 9 2-4 2-6 4-51 2-75 3-60 2 24 3 110 2-12 3-118 2-17 3 112 2 45 3-83 3-86 2 29 3 125 2 21 3-130 2-95 3 62 2 150 3 9 2-129 3-42 2 96 3 93 2-48 3-98 3-2 2 89 3 55 2-37 3-101 2-64 3-9 2 41 3 63 2 55 3 35 2 3 3 9 2-7 3-28 3-45 2-58 3-58 2-17 3 18 2 92 3 92 2 10 3-90 2-103 3-5 2 87 3 99 2 11 3-68 3-97 2-19 3 69 2 111 3 7 2-137 3-118 2 68 3 176 2-5 3-166 2 0 3 167 2 5 3-139 3 15 2 134 3-14 2-138 3-27 2 112 3 73 2-17 3-89 2-64 3 4 2 28 3 55 2 52 3 32 2-3 3-18 3-73 2-95 3-67 2-10 3 77 2 115 3 77 2-1 3-70 2-85 3-51 2 8 3 38 2 66 3 65 3 26 2 6 3-50 2-83 3-45 2 25 3 103 2 54 3-43 2-85 3 34 2 96 3-26 2-110 3 36 3 104 2-71 3-136 2 61 3 138 2-24 3-148 2-40 3 90 2 116 3 16 2-60 3-93 2-23 3 36 3 100 2 40 3-32 2-122 3-69 2 11 3 106 2 98 3 24 2-28 3-60 2-55 3-39 2-6 3-10 3 10"/>
<path class="m" d="M516 579l2 3 2-7 3 13 2-18 2 4 2 4 3 3 2 3 2-6 3 13 2-12 2-7 3-4 2 15 2 3 3-2 2 4 2 2 3-6 2 4 2-15 3 10 2 10 2 2 3-11 2 0 2 1 3 1 2-3 2 0 3 3 2-2 2 10 3-7 2 1 2 1 2 4 3-7 2 4 2 2 3-8 2 15 2 1 3-11 2 12 2-3 3-6 2-5 2-4 3 9 2 1 2 5 3-5 2 7 2 1 3-1 2-4 2 6 3 0 2 0 2-14 3 7 2-2 2 13 4-91 2-69 3-6 2 84 3 38 2-91 3-88 2 59 3 119 2-23 3-118 2-17 3 87 2 81 3-34 3-94 2-24 3 82 2 72 3-46 2-104 3 8 2 110 3 23 2-90 3-46 2 48 3 87 2 0 3-77 3-75 2-17 3 26 2 54 3 52 2 30 3 1 2 3 3-15 2-31 3-37 2-34 3-23 2 4 3 19 3 49 2 55 3 21 2-25 3-73 2-52 3 11 2 79 3 64 2-10 3-81 2-70 3-6 2 81 3 87 3-4 2-117 3-95 2 55 3 158 2-20 3-188 2 5 3 198 2-13 3-162 2 47 3 147 2-23 3-108 3-5 2 87 3 52 2-17 3-76 2-67 3-8 2 15 3 56 2 58 3 32 2-2 3-23 2-58 3-62 3-29 2 3 3 58 2 75 3 39 2-3 3-61 2-71 3-44 2 7 3 31 2 55 3 54 2 34 3 3 3-20 2-57 3-58 2-16 3 70 2 86 3-34 2-138 3-9 2 152 3 13 2-151 3 9 2 149 3-16 3-137 2 3 3 129 2 41 3-99 2-85 3 16 2 101 3 64 2-15 3-69 2-40 3 9 2 61 3 52 2-1 3-61 3-74 2-22 3 40 2 76 3 48 2-1 3-42 2-58 3-49 2-30 3-5 2 7"/>
<path class="k" d="M514 589l3-11 2 3 2-5 3 0 2-2 2 0 3 4 2-2 2 4 3 6 2 7 2 1 3-2 2-5 2 4 3-9 2 4 2-5 3 10 2-15 2 4 3 0 2 1 2 10 2-6 3 3 2 1 2-1 3-4 2-1 2 8 3 3 2-7 2 1 3 1 2 2 2 5 3 4 2-3 2-5 3-7 2-8 2 13 3 4 2 1 2-5 3 7 2 4 2-7 3 1 2-9 2 6 3-1 2 5 2 0 2-5 3 12 2-3 2 4 3 0 2-7 2 2 3 0 2-8 3-56 3-111 2-74 3 39 3 134 2 23 3-120 2-70 3 62 2 126 3-7 2-134 3-62 2 69 3 136 2-12 3-160 2-57 3 122 3 103 2-89 3-134 2 69 3 157 2-68 3-182 2 42 3 185 2 24 3-138 2-120 3 9 2 98 3 107 3 51 2 3 3-16 2-52 3-62 2-60 3-48 2-2 3 1 2 68 3 98 2 72 3 6 2-87 3-131 3-58 2 33 3 131 2 110 3-3 2-97 3-132 2-50 3 55 2 143 3 90 2-33 3-166 2-76 3 94 3 182 2-53 3-214 2 48 3 221 2-86 3-195 2 120 3 152 2-136 3-145 2 108 3 181 2-28 3-169 3-86 2 36 3 130 2 109 3 13 2-42 3-105 2-92 3-11 2 38 3 110 2 96 3 10 2-60 3-112 3-84 2 5 3 44 2 92 3 82 2 19 3 10 2-44 3-81 2-90 3-61 2-4 3 42 2 128 3 110 3-4 2-151 3-97 2 82 3 179 2-56 3-186 2 58 3 188 2-72 3-169 2 61 3 173 2-35 3-173 3-33 2 144 3 106 2-50 3-156 2-49 3 88 2 151 3 8 2-146 3-121 2 41 3 168 2 67 3-62 3-143 2-61 3 33 2 100 3 93 2 38 3-4 2-3 3-43 2-51"/>
<path class="r" d="M513 574l3 3 2 8 2-6 3 9 2-15 2 2 3 15 2-10 2-4 3 3 2 6 2 5 3-10 2-3 2 2 2 1 3 3 2-6 2 12 3-6 2 1 2-7 3 6 2 7 2-1 3-3 2-4 2 16 3-4 2-3 2-15 3 7 2 12 2 2 3 4 2-11 2 6 3-2 2-5 2-3 3 3 2 2 2-3 2 0 3 12 2-2 2-5 3 10 2 1 2 7 3-6 2-6 2 7 3-6 2 4 2-1 3 1 2-3 2 4 3-8 2 2 2 13 3-4 2-2 3-140 3-44 2-7 3 67 2 42 3-25 3-84 2-15 3 61 2 71 3 8 2-42 3-32 2 4 3 45 2 29 3-43 2-81 3-2 2 90 3 20 3-94 2-25 3 93 2 40 3-59 2-24 3 34 2 51 3-6 2-67 3-66 2-24 3 27 2 52 3 49 2 29 3 2 3-6 2-23 3-29 2-29 3-24 2-7 3 1 2 34 3 50 2 35 3-15 2-67 3-80 2-31 3 21 3 70 2 71 3 39 2-1 3-33 2-47 3-33 2-3 3 55 2 51 3-28 2-114 3-27 2 118 3 53 3-96 2-24 3 101 2 25 3-75 2-21 3 69 2 33 3-76 2-94 3 0 2 83 3 72 2 0 3-49 3-58 2-15 3 22 2 51 3 50 2 20 3-8 2-53 3-68 2-39 3 4 2 53 3 63 2 38 3 7 3-17 2-25 3-24 2-19 3-15 2 0 3-15 2 7 3 34 2 51 3 31 2-35 3-97 2-52 3 66 3 110 2-6 3-80 2 1 3 80 2 22 3-76 2-45 3 52 2 68 3-46 2-107 3-21 2 90 3 84 3-14 2-69 3-27 2 46 3 64 2 10 3-59 2-67 3 4 2 69 3 43 2-33 3-78 2-51 3 3 3 39 2 46 3 37 2 23 3 13 2 5"/>
<path class="m" d="M512 576l3 0 2 5 2-7 3 6 2 0 2 10 2-4 3 0 2-1 2-15 3 12 2 10 2-9 3-9 2 9 2-2 3-4 2 9 2 1 3-3 2 8 2 0 3-1 2 1 2-13 3 9 2-5 2 14 3-10 2 7 2-7 3-2 2 2 2 8 2-2 3 0 2-9 2 2 3 13 2-9 2-4 3 8 2-8 2 10 3-5 2 6 2-2 3-7 2 10 2 0 3-3 2-1 2 11 3-2 2-8 2-3 3-2 2 5 2-6 3 14 2-9 2 3 2-9 3 5 3-151 3-76 2-4 3 111 2 91 3-19 2-118 3-51 2 47 3 108 3 30 2-38 3-91 2-21 3 51 2 89 3 1 2-113 3-66 2 72 3 112 2-47 3-131 2 18 3 141 3 13 2-135 3-65 2 67 3 122 2 18 3-49 2-99 3-69 2-12 3 19 2 36 3 51 2 48 3 43 3 31 2-1 3-5 2-4 3-55 2-72 3-53 2-2 3 44 2 90 3 75 2 2 3-37 2-84 3-73 3-18 2 20 3 78 2 91 3 35 2-33 3-123 2-81 3 41 2 156 3 29 2-137 3-52 2 120 3 74 3-125 2-72 3 116 2 77 3-110 2-145 3 26 2 163 3 67 2-38 3-139 2-102 3 15 2 52 3 112 2 91 3 11 3-17 2-82 3-79 2-16 3 12 2 73 3 74 2 33 3 5 2-18 3-34 2-31 3-24 2-18 3-8 3-2 2-5 3 23 2 44 3 57 2 14 3-6 2-111 3-117 2 9 3 150 2 81 3-87 2-122 3 49 3 156 2-26 3-164 2-27 3 146 2 71 3-68 2-141 3-12 2 121 3 109 2-5 3-114 2-78 3 21 3 126 2 58 3-56 2-142 3-34 2 70 3 127 2 38 3-33 2-76 3-54 2-2 3 11 2 14 3 24 3 22 2 19"/>
<path class="g" d="M511 576l2 8 3 11 2-14 2-8 3 12 2-12 2 12 3-5 2 5 2 2 3-9 2-1 2 12 3 5 2-9 2-4 3-5 2 13 2-4 3-4 2-2 2 10 3-9 2 10 2 5 2-16 3 8 2 0 2 5 3 3 2-9 2 1 3-5 2 8 2-3 3 0 2 1 2 3 3 1 2 8 2-13 3-7 2 7 2 4 3-7 2 11 2 5 3-3 2-1 2-1 3 4 2-4 2 0 2-6 3 3 2 7 2-2 3-2 2 14 2-8 3-2 2-7 2 1 3 11 3-258 3-23 2 109 3 126 2-33 3-182 2-16 3 136 2 96 3-67 2-176 3-8 2 165 3 77 3-85 2-163 3 24 2 207 3 20 2-164 3-21 2 159 3 42 2-142 3-31 2 139 3 28 2-134 3-71 3 66 2 130 3 0 2-52 3-93 2-35 3 3 2 17 3 50 2 55 3 49 2 4 3-3 2-41 3-114 3-109 2-14 3 49 2 158 3 79 2 0 3-132 2-128 3 4 2 73 3 140 2 51 3-20 2-154 3-126 3 1 2 163 3 138 2-37 3-193 2-4 3 188 2 58 3-173 2-17 3 183 2-38 3-182 2 78 3 148 3-101 2-160 3 53 2 194 3 16 2-118 3-124 2 6 3 72 2 121 3 35 2-5 3-126 2-140 3-7 3 41 2 160 3 78 2 6 3-117 2-109 3-7 2 22 3 88 2 83 3 39 2 8 3-6 2-64 3-87 3-82 2-3 3 12 2 118 3 106 2 1 3-124 2-72 3 66 2 126 3-51 2-167 3 62 2 162 3-106 3-174 2 105 3 178 2-82 3-196 2 29 3 208 2 50 3-118 2-125 3 14 2 175 3 45 2-110 3-165 2 25 3 199 3 48 2-85 3-136 2 20 3 94 2 103 3 14 2 0 3-51 2-57 3-51 2-15 3-11"/>
<path class="y" d="M510 592l2-9 3-6 2 10 2-7 3-3 2 10 2-5 3-4 2 7 2-4 3 11 2-10 2-3 2 6 3 10 2-5 2 2 3-2 2-2 2-3 3 5 2 4 2-6 3 5 2-6 2 0 3 13 2-4 2-16 3 14 2-5 2-5 3 2 2 11 2-6 3 1 2 6 2 6 3-9 2 2 2-10 3 6 2 14 2-5 2-1 3-10 2 0 2 7 3-5 2 3 2 11 3-16 2 6 2 7 3-11 2 14 2-4 3 0 2 0 2-1 3-6 2 4 2 2 3 6 3-264 2-15 3 70 3 83 2-9 3-90 2-41 3 47 2 90 3 12 2-85 3-86 2 14 3 100 2 43 3-86 2-113 3 38 3 138 2 8 3-119 2-6 3 126 2 22 3-105 2-24 3 96 2 42 3-80 2-89 3 2 2 73 3 70 3 16 2-7 3-35 2-37 3-30 2-20 3-6 2 5 3 28 2 43 3 42 2 7 3-43 2-86 3-77 3-10 2 59 3 95 2 67 3 3 2-51 3-74 2-42 3-11 2 55 3 83 2 39 3-54 2-124 3-48 3 93 2 130 3-49 2-138 3 49 2 144 3-66 2-130 3 81 2 109 3-110 2-122 3 81 2 138 3-8 3-107 2-56 3 40 2 93 3 72 2 16 3-38 2-65 3-51 2-7 3 49 2 68 3 29 2-24 3-74 3-65 2-15 3 33 2 58 3 55 2 34 3 5 2-13 3-36 2-55 3-63 2-55 3-18 2 21 3 85 3 98 2 28 3-77 2-94 3 27 2 125 3 23 2-126 3-49 2 121 3 46 2-142 3-72 2 112 3 93 3-60 2-117 3 11 2 119 3 72 2-46 3-100 2-22 3 89 2 80 3-39 2-115 3-32 2 92 3 94 3-4 2-68 3-48 2 11 3 37 2 46 3 33 2 15 3 1 2-13 3-26"/>
<path class="b" d="M509 584l2 0 3-3 2-1 2 4 2 5 3-3 2 1 2 5 3-10 2 10 2-3 3-3 2 2 2 2 3 3 2-6 2 0 3 5 2-6 2 3 3-2 2-12 2 11 3 9 2-2 2-7 3-12 2 13 2 7 3-4 2-1 2-1 2 15 3-7 2-6 2 13 3-6 2-2 2-10 3 7 2 1 2 3 3 7 2 1 2-7 3-11 2 3 2 9 3 1 2 9 2-4 3-8 2-4 2 6 3 3 2-5 2 3 3-7 2 19 2-7 3-5 2 10 2-7 2-5 4-145 2-79 3-7 2 112 3 87 3-12 2-91 3-27 2 10 3 89 2 29 3-20 2-121 3-41 2 37 3 145 2 1 3-120 2-55 3 70 3 110 2-19 3-91 2 13 3 82 2 11 3-76 2-82 3-25 2 105 3 81 2-4 3-26 2-77 3-59 3-26 2 20 3 13 2 4 3-2 2 34 3 52 2 64 3 11 2 3 3-31 2-120 3-101 2 22 3 28 2 105 3 87 3 24 2-1 3-35 2-61 3-50 2-22 3 9 2 97 3 53 2-5 3-139 2-45 3 71 2 120 3-17 3-108 2 10 3 120 2-20 3-175 2-21 3 182 2 19 3-147 2-140 3-1 2 161 3 131 2-5 3-16 3-90 2-71 3-3 2-13 3 66 2 101 3 37 2-1 3-56 2-121 3-59 2 31 3 28 2 85 3 66 3 38 2-2 3 13 2-4 3-7 2-29 3-49 2-64 3-39 2-6 3 17 2 106 3 66 2-5 3-82 3-31 2 37 3 82 2-18 3-167 2-24 3 181 2 31 3-175 2-122 3 66 2 214 3 15 2-89 3-112 3 17 2 90 3 88 2 8 3-110 2-94 3-17 2 149 3 73 2-12 3-134 2-54 3 32 2 72 3 72 3 38 2 1 3 0 2-9 3-3 2-23 3-33"/>
<path class="b" d="M508 585l2-2 2 5 3-4 2-2 2 11 3-1 2-5 2-6 3-14 2 8 2 5 3 12 2-2 2-11 3 9 2-7 2 9 3 0 2-6 2 7 3 3 2-6 2 0 2 9 3-1 2-7 2 10 3-10 2 4 2 6 3-8 2-4 2 6 3 5 2-7 2 1 3 3 2 0 2 7 3-7 2-7 2 8 3 0 2-3 2-1 3-4 2 2 2 12 3-15 2 13 2 2 2-8 3 2 2 3 2 13 3-13 2-5 2 10 3-9 2 6 2 2 3 6 2-2 2-7 4-188 2-24 3 47 2 84 3 5 2-83 3-25 2 45 3 63 3-6 2-105 3-13 2 52 3 72 2-14 3-107 2 7 3 84 2 26 3-55 2-49 3 62 2 52 3-67 3-71 2 47 3 84 2-30 3-150 2-2 3 45 2 117 3 5 2-1 3-38 2-79 3-70 2-15 3-12 3-17 2 56 3 90 2 85 3 2 2-8 3-101 2-91 3 18 2 47 3 115 2 34 3 0 2-69 3-68 3-1 2 36 3 90 2 25 3-14 2-101 3-32 2 34 3 115 2 6 3-114 2-30 3 113 2 26 3-158 3-13 2 165 3-44 2-169 3 43 2 163 3-11 2-169 3-20 2 76 3 128 2-7 3-12 2-111 3-69 3-8 2 37 3 114 2 48 3 1 2-72 3-117 2-8 3 16 2 96 3 93 2 7 3-1 2-57 3-74 2-55 3-2 3 5 2 28 3 76 2 75 3 11 2-3 3-72 2-60 3 3 2 100 3 42 2-60 3-94 2 56 3 85 3-71 2-101 3 85 2 86 3-74 2-89 3 46 2 131 3-8 2-113 3-34 2 38 3 118 2-1 3-106 3-83 2 17 3 148 2 13 3-62 2-99 3 2 2 97 3 72 2 9 3-47 2-82 3-56 2-16 3-6 3 5 2 45 3 54"/>
<path class="b" d="M507 583l2-2 2 1 3 1 2-8 2 2 3 8 2-9 2 10 3-6 2-4 2 6 3-3 2 4 2 9 2-14 3 10 2-8 2-9 3 20 2 6 2-3 3-8 2 7 2 6 3-6 2-4 2 2 3 3 2 5 2-3 3-2 2 0 2-1 3-4 2 1 2 7 3 1 2 2 2 5 3-12 2 4 2 0 2 3 3-8 2 6 2 8 3-7 2-2 2 6 3-3 2 13 2-19 3-8 2 6 2 1 3 13 2-3 2-9 3 14 2 0 2-9 3 5 2-8 2-3 4-191 2 14 3 90 2 38 3-17 2-104 3-36 2 33 3 110 2 20 3-50 2-121 3-11 3 74 2 105 3 0 2-163 3-47 2 113 3 100 2-105 3-135 2 87 3 151 2-87 3-169 2 26 3 210 3 19 2-119 3-159 2-10 3 41 2 117 3 103 2 32 3 4 2-1 3-34 2-65 3-64 2-24 3 6 3 8 2 78 3 83 2 29 3-8 2-59 3-94 2-43 3-13 2 31 3 89 2 83 3-5 2-6 3-118 3-138 2-21 3 41 2 194 3 45 2-111 3-198 2 53 3 266 2-44 3-261 2 62 3 237 2-59 3-218 3 60 2 219 3 2 2-155 3-77 2 26 3 139 2 72 3 2 2-81 3-108 2-17 3 4 2 106 3 105 3 1 2-34 3-121 2-74 3-1 2 36 3 103 2 86 3 6 2-3 3-12 2-62 3-69 2-69 3-59 3-7 2 0 3 11 2 107 3 132 2 25 3-35 2-189 3-48 2 118 3 165 2-45 3-204 2 17 3 216 3 25 2-171 3-52 2 106 3 110 2-17 3-142 2-28 3 65 2 120 3 2 2-122 3-72 2 27 3 153 3 16 2-131 3-122 2 18 3 171 2 54 3-9 2-150 3-126 2 0 3-4 2 46 3 75 2 69 3 58 2 39"/>
<path class="b" d="M506 581l2 2 2 6 2-13 3 10 2-2 2 2 3 9 2-9 2 2 3 0 2 0 2 0 3 0 2 4 2-15 3 5 2 0 2 2 3 3 2 7 2-11 3 15 2-9 2-6 3 11 2 8 2-8 3-3 2 8 2-8 3 4 2-5 2 7 2-3 3 10 2-10 2 3 3-2 2 13 2-9 3-8 2 12 2-1 3-2 2 1 2-10 3 6 2 4 2-7 3-6 2 7 2-2 3 11 2-5 2 3 3-7 2 3 2-1 3 2 2 0 2 2 2 13 3-3 2 3 4-146 2 37 3 48 2 3 3-36 2-63 3-12 2 27 3 67 2 21 3-43 2-78 3-2 2 28 3 92 2 10 3-98 3-66 2 56 3 105 2-44 3-135 2 40 3 140 2-41 3-137 2 26 3 143 2 4 3-70 2-74 3 1 3 41 2 70 3 47 2-7 3-2 2-37 3-61 2-59 3-18 2 11 3 9 2 74 3 79 2 22 3 2 3-56 2-86 3-50 2 3 3 14 2 71 3 68 2 21 3-4 2-23 3-56 2-48 3 3 2 22 3 76 3 38 2-40 3-118 2-9 3 143 2 25 3-174 2-31 3 187 2 10 3-181 2-16 3 159 2 45 3-91 3-115 2 10 3 101 2 87 3-3 2-72 3-102 2-8 3 31 2 103 3 58 2 4 3-61 2-76 3-8 3 8 2 68 3 65 2 11 3-6 2-18 3-51 2-48 3-38 2-10 3 5 2 2 3 2 2 40 3 55 3 53 2 15 3-33 2-89 3-22 2 36 3 105 2 1 3-121 2-17 3 99 2 51 3-57 2-98 3 14 3 126 2 19 3-90 2-122 3 2 2 151 3 54 2-75 3-146 2 11 3 158 2 43 3-72 2-102 3 18 3 125 2 43 3-19 2-96 3-57 2 8 3 13 2 54 3 49 2 36 3 15 2 2"/>
<path class="r" d="M504 586l3 3 2 0 2-2 3 0 2-1 2 6 3-8 2 0 2 1 3-4 2 0 2 6 3 5 2-3 2 1 3-12 2 11 2 2 3-3 2-8 2 2 2 12 3 9 2-5 2-7 3 1 2-1 2 6 3-2 2 10 2-7 3-13 2 3 2 8 3 1 2-4 2-11 3 4 2 16 2-3 3-3 2-3 2 7 3 2 2 9 2-18 3 3 2-1 2 6 3-7 2 15 2-16 2 5 3-9 2 9 2 12 3-10 2-1 2 7 3-22 2 15 2 1 3 2 2 2 3-196 3 40 2 83 3 14 3-48 2-85 3-5 2 87 3 54 2-27 3-98 2-27 3 62 2 89 3-7 2-100 3-47 2 76 3 81 3-53 2-104 3 55 2 94 3-60 2-102 3 82 2 95 3-87 2-97 3 40 2 117 3 21 2-60 3-82 3-28 2 9 3 50 2 57 3 46 2 14 3-1 2-39 3-62 2-58 3-15 2 21 3 73 2 74 3 9 2-32 3-85 3-64 2-1 3 47 2 86 3 52 2 7 3-63 2-95 3-42 2 16 3 111 2 70 3-28 2-127 3-14 3 139 2 37 3-152 2-18 3 164 2-34 3-161 2 66 3 136 2-62 3-148 2 30 3 144 2 34 3-67 3-121 2-27 3 64 2 114 3 47 2-31 3-108 2-79 3 16 2 98 3 93 2 4 3-42 2-77 3-39 3 3 2 42 3 55 2 45 3 14 2-1 3-6 2-40 3-52 2-53 3-17 2-4 3 65 2 88 3 18 3-66 2-103 3 12 2 135 3 17 2-144 3-33 2 145 3 37 2-131 3-37 2 102 3 68 2-63 3-106 3 17 2 118 3 33 2-85 3-105 2 39 3 137 2 15 3-129 2-57 3 81 2 111 3-13 2-110 3-51 3 33 2 84 3 63 2 2 3-6 2-39 3-40 2-35"/>
<path class="c" d="M503 574l3 3 2-2 2 11 3-4 2-1 2-1 3-6 2 4 2-5 3 13 2-10 2 6 2 0 3-3 2 11 2 4 3 4 2-6 2-5 3 10 2 0 2 1 3-8 2 5 2-2 3 7 2-8 2 4 3-2 2-7 2 11 3-4 2-3 2 4 3-1 2 15 2-15 3-7 2 2 2 7 2-2 3 1 2 0 2 6 3-5 2-1 2 4 3-5 2 3 2 10 3 4 2-16 2 7 3-11 2 9 2 6 3-12 2-5 2 6 3 2 2 6 2 1 3-9 2 11 3-184 3 51 2 82 3-2 2-76 3-68 2 28 3 101 3 28 2-65 3-83 2 6 3 94 2 53 3-56 2-118 3-1 2 130 3 38 2-130 3-53 2 126 3 50 3-123 2-33 3 131 2 25 3-113 2-35 3 70 2 81 3-5 2-98 3-88 2-6 3 20 2 72 3 71 3 40 2 5 3-10 2-61 3-81 2-61 3-6 2 38 3 102 2 72 3 8 2-82 3-109 2-24 3 10 3 95 2 91 3 13 2-11 3-84 2-82 3-4 2 57 3 117 2 19 3-115 2-106 3 73 2 140 3-62 3-132 2 95 3 107 2-128 3-71 2 152 3 43 2-145 3-47 2 93 3 105 2-23 3-118 2-54 3 25 3 99 2 79 3-8 2-61 3-94 2-23 3 27 2 101 3 54 2-10 3-107 2-106 3-12 2 18 3 85 2 83 3 37 3 7 2-1 3-47 2-64 3-68 2-40 3-4 2 53 3 112 2 66 3-19 2-130 3-38 2 106 3 90 3-67 2-92 3 63 2 92 3-58 2-105 3 39 2 118 3-15 2-142 3-20 2 106 3 74 2-36 3-123 3-5 2 114 3 55 2-61 3-123 2 19 3 138 2 28 3-87 2-117 3 3 2 93 3 97 2 19 3-7 3-54 2-60 3-52 2-26"/>
<path class="m" d="M502 591l2-6 3 0 2-9 2 3 3 1 2 10 2-4 3-10 2 6 2 6 3-10 2 14 2 3 3-8 2-1 2 5 3 0 2-10 2 6 3 0 2-1 2 5 3 2 2 7 2-6 3-6 2 17 2-6 3-11 2 9 2-6 2 1 3 4 2-4 2 2 3-2 2 2 2 13 3-2 2-12 2-2 3 10 2 3 2 2 3-10 2 6 2-10 3 3 2 9 2-11 3 11 2 4 2-11 3 0 2 1 2 6 3 12 2-5 2-12 2 7 3 4 2-6 2 11 3-3 3-190 3 28 2 77 3 11 2-53 3-94 2-20 3 118 2 31 3-88 2-146 3 4 3 161 2 65 3-35 2-127 3 17 2 108 3 55 2-59 3-98 2 21 3 123 2-19 3-174 2-6 3 171 3 35 2-86 3-92 2 7 3 77 2 85 3 21 2 3 3-32 2-73 3-87 2-87 3-23 2-8 3-1 3 41 2 118 3 111 2 16 3 15 2-60 3-85 2-19 3-4 2 85 3 85 2-5 3-41 2-124 3-70 3 24 2 95 3 123 2 17 3-58 2-115 3-4 2 116 3 51 2-126 3-128 2 131 3 127 2-202 3-86 3 202 2 88 3-148 2-63 3 84 2 122 3 8 2-73 3-120 2-39 3-10 2 96 3 113 2 16 3 1 3-99 2-123 3-32 2 22 3 83 2 114 3 33 2 4 3-50 2-107 3-92 2-12 3-5 2 34 3 86 3 87 2 65 3 0 2 6 3-20 2-52 3-32 2-6 3 72 2 44 3-43 2-165 3-5 2 202 3-8 3-220 2 7 3 218 2 19 3-173 2-27 3 103 2 94 3-29 2-184 3-53 2 62 3 186 2 12 3-113 3-143 2 33 3 146 2 93 3-1 2-108 3-57 2-7 3 80 2 86 3-6 2 0 3-59 2-82 3-67 2-39 3 11"/>
<path class="g" d="M501 585l2 7 3-6 2-3 2 4 3 1 2 11 2-9 3 0 2 5 2-15 3 13 2-4 2-5 3 11 2-8 2-2 3 7 2 3 2-14 2 7 3-6 2 14 2-2 3-1 2-6 2-2 3 18 2-4 2 0 3-8 2 12 2-10 3-2 2 2 2-1 3-1 2 7 2 12 3-8 2-10 2 4 3 8 2-2 2-6 3-4 2 6 2 1 3-9 2 14 2-6 2 2 3-5 2 11 2-11 3-5 2 15 2-5 3 8 2-1 2 9 3-3 2-12 2 5 3-1 3-156 3 38 2 59 3 5 2-69 3-46 2 24 3 84 2 1 3-84 2-34 3 55 2 60 3-3 2-79 3-25 3 44 2 72 3-26 2-98 3-14 2 97 3 26 2-83 3-37 2 79 3 47 2-59 3-71 2 36 3 80 3 22 2-52 3-72 2-42 3 4 2 33 3 46 2 41 3 31 2 5 3 0 2-9 3-36 2-45 3-39 3-2 2 24 3 63 2 52 3-5 2-66 3-74 2-15 3 43 2 80 3 37 2-8 3-71 2-67 3-5 3 67 2 84 3-3 2-111 3-60 2 87 3 91 2-76 3-80 2 88 3 74 2-105 3-41 2 109 3 39 3-103 2-56 3 63 2 89 3 5 2-64 3-70 2-9 3 18 2 62 3 56 2 12 3-8 2-54 3-60 3-27 2 15 3 60 2 62 3 13 2-23 3-63 2-57 3-13 2-2 3 35 2 48 3 47 2 33 3-1 3-19 2-61 3-71 2-19 3 40 2 104 3 24 2-84 3-61 2 63 3 83 2-54 3-71 2 62 3 73 3-70 2-73 3 52 2 89 3-26 2-95 3-23 2 66 3 69 2 2 3-73 2-50 3 26 2 78 3 33 3-54 2-86 3-12 2 59 3 76 2 4 3-43 2-66 3-40 2 6 3 15 2 33 3 34"/>
<path class="b" d="M500 584l2-2 3 1 2 3 2 3 3 9 2-11 2-5 3 2 2-4 2 5 2 1 3 1 2 4 2 2 3-5 2-1 2 6 3 6 2-12 2-4 3 6 2-6 2 7 3 3 2-6 2 3 3 6 2-7 2-2 3 9 2-6 2 11 3-9 2 13 2-15 3 5 2 11 2-8 2-3 3 5 2-2 2-3 3-4 2 7 2-4 3 12 2-8 2 1 3 1 2 6 2-2 3-5 2 1 2 1 3-4 2 1 2 7 3-7 2 7 2 7 3-13 2 4 2 11 3-6 3-140 2 45 3 30 3-9 2-55 3-24 2 39 3 40 2-26 3-88 2-11 3 82 2 43 3-54 2-87 3 8 2 92 3 37 3-56 2-74 3 32 2 94 3-7 2-89 3-4 2 87 3 20 2-59 3-19 2 31 3 51 2-2 3-29 3-41 2-15 3-11 2 13 3 24 2 27 3 23 2 6 3-7 2-9 3-41 2-52 3-43 2-1 3 35 3 71 2 51 3 5 2-56 3-65 2-6 3 33 2 69 3 34 2-14 3-57 2-47 3 6 2 58 3 51 2-10 3-89 3-43 2 73 3 62 2-90 3-78 2 97 3 56 2-119 3-37 2 130 3 26 2-90 3-32 2 57 3 77 3 9 2-46 3-52 2-11 3 4 2 42 3 48 2 24 3 3 2-35 3-50 2-33 3-1 2 29 3 55 3 26 2-2 3-38 2-62 3-49 2-7 3 10 2 43 3 52 2 45 3 14 2 1 3-29 2-46 3-22 3 13 2 62 3 31 2-46 3-65 2 23 3 86 2-44 3-89 2 43 3 82 2-53 3-95 2 37 3 99 3-6 2-103 3-47 2 46 3 97 2 17 3-58 2-72 3 12 2 79 3 59 2-2 3-55 2-19 3 11 3 52 2 22 3 5 2-32 3-45 2-25 3-11 2-3 3 6"/>
<path class="g" d="M499 593l2 0 2-7 3-1 2 3 2-5 3-2 2 2 2 7 3 4 2-10 2 3 3 7 2-2 2-5 3 6 2-18 2 20 3 2 2-2 2 8 3-8 2 4 2 1 3 4 2-6 2-2 3-5 2-4 2 16 2 6 3-14 2-4 2 1 3 10 2-9 2-2 3-1 2 10 2 1 3 0 2 2 2-6 3 4 2 1 2 0 3-3 2 4 2 11 3-22 2 9 2 5 3 10 2-14 2 0 3 3 2 3 2-3 2-4 3-7 2 12 2-5 3 2 2 4 2-1 4-163 2 10 3 75 2 11 3-45 2-75 3-16 3 121 2 20 3-93 2-66 3 21 2 127 3 7 2-61 3-85 2 10 3 98 2 38 3-42 2-115 3-3 3 116 2 33 3-65 2-80 3 23 2 115 3 22 2-39 3-78 2-4 3-3 2 36 3 48 2 29 3-2 3-1 2-1 3 0 2-7 3-31 2-35 3-36 2-2 3 5 2-2 3 59 2 61 3-6 2-27 3-104 3-42 2-1 3 97 2 81 3 5 2-52 3-99 2-13 3 31 2 111 3 14 2-29 3-135 2 2 3 125 3 39 2-121 3-57 2 112 3 71 2-101 3-55 2 74 3 76 2-5 3-119 2-26 3 13 2 91 3 57 3 0 2 6 3-59 2-62 3-35 2 6 3 9 2 27 3 63 2 56 3 5 2-3 3-44 2-75 3-40 3-2 2-2 3 53 2 63 3 37 2 0 3 5 2-11 3-53 2-59 3-18 2-1 3 69 2 69 3-4 2-117 3-55 3 79 2 89 3-50 2-96 3 57 2 98 3-38 2-101 3 4 2 129 3 8 2-82 3-91 2-5 3 86 3 90 2-2 3-37 2-95 3-4 2 25 3 98 2 30 3 7 2-70 3-74 2-3 3-1 2 70 3 65 3 9 2-4 3 6 2 3 3-22"/>
<path class="b" d="M498 580l2 9 2-3 3 1 2 0 2 3 3-6 2-2 2 5 3 6 2-1 2-2 3 6 2-2 2-4 3 9 2-1 2-2 3-2 2 3 2 6 2-6 3-1 2-5 2 8 3 7 2-10 2 8 3-1 2-4 2-4 3 8 2-11 2 6 3-2 2 1 2 5 3-7 2 3 2 2 3 7 2-2 2-9 3-4 2 2 2 19 3-11 2-7 2 7 2 4 3-6 2 7 2-1 3 4 2-2 2-5 3 6 2 4 2-11 3 6 2-6 2 4 3 5 2-3 2 6 4-260 2 115 3 91 2-7 3-123 2-59 3 66 2 134 3-28 2-177 3-54 3 114 2 146 3-22 2-183 3-81 2 61 3 186 2 38 3-111 2-176 3 10 2 189 3 90 2-88 3-165 3 9 2 151 3 89 2-13 3-83 2-55 3 12 2 8 3 34 2 34 3 29 2 25 3 12 2 2 3 8 3 0 2-21 3-62 2-93 3-105 2-73 3 11 2 74 3 161 2 102 3-1 2-155 3-168 2-13 3 103 3 173 2 63 3-24 2-123 3-76 2 18 3 118 2 96 3-20 2-154 3-76 2 121 3 124 2-117 3-218 3 98 2 236 3-73 2-264 3-4 2 229 3 112 2-41 3-165 2-112 3 7 2 35 3 96 2 94 3 73 3 18 2 5 3-9 2-57 3-67 2-61 3-7 2-12 3 46 2 82 3 78 2 19 3-8 2-83 3-112 3-102 2-43 3 10 2 34 3 104 2 117 3 71 2 3 3-77 2-136 3-38 2 93 3 163 2-30 3-203 3-23 2 211 3 43 2-215 3-63 2 187 3 89 2-124 3-197 2 0 3 183 2 140 3-4 2-135 3-157 3-35 2 45 3 157 2 134 3 7 2-78 3-107 2-38 3 33 2 81 3 76 2 42 3-4 2-10 3-37 2-42 3-40 3-36"/>
<path class="r" d="M497 583l2 7 2-9 3 2 2 5 2-7 3 10 2-2 2 0 2-4 3-6 2 13 2-4 3 5 2 0 2-7 3-1 2 8 2-4 3 9 2 1 2 2 3 0 2-16 2 3 3 4 2 8 2-2 3-6 2 18 2-8 3 5 2 0 2-17 3 8 2-12 2 10 3 5 2-9 2 6 2 5 3-1 2 3 2 5 3-3 2 1 2-16 3 12 2 0 2-1 3-3 2 3 2 3 3-7 2 8 2 0 3 7 2-3 2 0 3-4 2 8 2-7 3-2 2-4 2 5 4-159 2 32 3 68 2 0 3-62 2-30 3 37 2 55 3-16 2-87 3-3 2 93 3 14 3-56 2-73 3-2 2 100 3 37 2-41 3-129 2-3 3 80 2 89 3-8 2-140 3-30 2 76 3 107 2-1 3-77 3-75 2-1 3 31 2 68 3 53 2 2 3 4 2 0 3 11 2-19 3-24 2-30 3-36 2-34 3-5 3-3 2 9 3 77 2 56 3-6 2-54 3-106 2 0 3 55 2 106 3-3 2-46 3-94 2-1 3 53 3 87 2 4 3-57 2-85 3-2 2 116 3 32 2-80 3-88 2 61 3 112 2-57 3-129 2 28 3 155 3-7 2-160 3-38 2 36 3 131 2 37 3-2 2-26 3-65 2-50 3-9 2 16 3 8 2 18 3 51 3 52 2 25 3-4 2 1 3-52 2-65 3-14 2-1 3 28 2 67 3 40 2 1 3-5 2-64 3-74 3-29 2-9 3 42 2 97 3 23 2 2 3-115 2-31 3 70 2 98 3-42 2-108 3 41 2 108 3-41 3-113 2 35 3 118 2-4 3-141 2-27 3 41 2 118 3-3 2-11 3-108 2-57 3-7 2 59 3 103 3 26 2 0 3-58 2-87 3 4 2 2 3 75 2 71 3 14 2 3 3-12 2-25 3-34 2-30"/>
<path class="c" d="M495 590l3 9 2-11 2 4 3-1 2 1 2-6 3-10 2 7 2 15 3-2 2-1 2-2 3-6 2 9 2 5 3-7 2 12 2-20 3 3 2 2 2 5 3 7 2 3 2-10 3-10 2 10 2 2 2-1 3 3 2-4 2-1 3-1 2 1 2 7 3-11 2 12 2-6 3 1 2-7 2 10 3 1 2-10 2 4 3 10 2-4 2-3 3-9 2 10 2 4 3-1 2 6 2-10 3 4 2-1 2 4 3 2 2 2 2-6 2 8 3 4 2-15 2 12 3-3 2 4 3-251 3 65 3 112 2 0 3-75 2-25 3 45 2 71 3-17 2-66 3-6 2 70 3 16 2-47 3-70 2-10 3 93 3 17 2-35 3-122 2-19 3 105 2 62 3-39 2-170 3 0 2 139 3 71 2-28 3-157 2-18 3 23 3 117 2 77 3 3 2-3 3-2 2-40 3-40 2-39 3-39 2-19 3-5 2-11 3-8 2 62 3 98 3 35 2 1 3-84 2-147 3 1 2 56 3 166 2 13 3-54 2-146 3 7 2 50 3 140 2 15 3-35 2-107 3 14 3 68 2 61 3-14 2-120 3-9 2 145 3-3 2-179 3-26 2 184 3 2 2-173 3-59 2 68 3 167 3 0 2-49 3-132 2-59 3 6 2 14 3 58 2 86 3 74 2 17 3 2 2-3 3-43 2-71 3-30 3-1 2 10 3 78 2 69 3 0 2-6 3-78 2-110 3-50 2-9 3-8 2 107 3 124 2 13 3 2 3-122 2-97 3 18 2 161 3 60 2-80 3-71 2 64 3 103 2-64 3-67 2 63 3 62 2-38 3-86 3 1 2 110 3 15 2-45 3-133 2-26 3-5 2 122 3 68 2 3 3-85 2-148 3-11 2 4 3 144 3 95 2-5 3-24 2-100 3-59 2 7 3 9 2 25 3 54 2 50"/>
<path class="y" d="M494 583l3 8 2 1 2 3 3 5 2-6 2 4 3-6 2 3 2-8 3 2 2-4 2 1 3 7 2 0 2 3 3-2 2 8 2-11 2 6 3 0 2-8 2 4 3-3 2 5 2 10 3-6 2 0 2 0 3-6 2-8 2 9 3 0 2-1 2 11 3-4 2 9 2-16 3 1 2 1 2 9 3-12 2 8 2 8 3-8 2 3 2 1 2 5 3-1 2 12 2-11 3 0 2-2 2-6 3 9 2-11 2 14 3 1 2-4 2-12 3 5 2 9 2-1 3-1 2-6 3-221 3 25 2 122 3 10 2-44 3-132 3-9 2 159 3 32 2-95 3-104 2 20 3 173 2-7 3-91 2-86 3 7 2 147 3 38 2-61 3-132 3-9 2 150 3 52 2-85 3-133 2 4 3 197 2 10 3-83 2-134 3 5 2 53 3 127 2 46 3-5 3-6 2-16 3-48 2-44 3-39 2-33 3 6 2-1 3 8 2 5 3 75 2 87 3 9 2-4 3-91 3-129 2-6 3 41 2 164 3 30 2-13 3-181 2-91 3 4 2 141 3 132 2 8 3-132 2-116 3 16 3 206 2 31 3-157 2-69 3 138 2 89 3-130 2-92 3 121 2 106 3-66 2-154 3-14 2 123 3 103 3 2 2-32 3-132 2-111 3 1 2 1 3 12 2 101 3 109 2 43 3 5 2 2 3-87 2-100 3-17 3 5 2 35 3 95 2 81 3 8 2-19 3-14 2-77 3-80 2-21 3-7 2-1 3 104 2 102 3-8 2-59 3-167 3-8 2 160 3 74 2-125 3-112 2 121 3 110 2-100 3-108 2 87 3 140 2-21 3-185 2-11 3 87 3 133 2 8 3-73 2-161 3-21 2 20 3 163 2 65 3-10 2-116 3-137 2 11 3 43 2 153 3 54 3-1 2-5 3-86 2-73 3-31 2 2"/>
<path class="r" d="M493 583l3 4 2 10 2-7 3 10 2-2 2-16 2 9 3-1 2-1 2 1 3 4 2 3 2 2 3-9 2 2 2-3 3 4 2-19 2 12 3 10 2 4 2-5 3 11 2-6 2 2 3 4 2-7 2 2 3-1 2-8 2 11 3-4 2 0 2 0 3 2 2-4 2 14 2-10 3 0 2-1 2-1 3 5 2 3 2-12 3 9 2 3 2-6 3 11 2-14 2 11 3-3 2-4 2-2 3-3 2 1 2 6 3 12 2-1 2 2 3-3 2-2 2 2 3 1 2-2 3-210 3 56 2 107 3-3 2-105 3-54 2 74 3 85 2-36 3-114 3 13 2 121 3 15 2-99 3-76 2 33 3 122 2 7 3-70 2-88 3 10 2 119 3 43 2-55 3-92 3 0 2 105 3 41 2-44 3-118 2-33 3 34 2 99 3 66 2 4 3-6 2-49 3-53 2-49 3-41 3-34 2-9 3-8 2 1 3 36 2 84 3 97 2 28 3 0 2-110 3-99 2 12 3 97 2 111 3 5 3-88 2-86 3-1 2 80 3 82 2 5 3-118 2-95 3 13 2 153 3 43 2-102 3-106 2 66 3 145 3-54 2-164 3 47 2 173 3-35 2-196 3-18 2 157 3 97 2-8 3-116 2-93 3 1 2 10 3 51 3 68 2 62 3 33 2-6 3 10 2-60 3-91 2-87 3-17 2 7 3 94 2 106 3 45 2 10 3-64 3-85 2-57 3-8 2 8 3 71 2 84 3 43 2-2 3-82 2-111 3-11 2 70 3 133 2-9 3-152 3-40 2 159 3 35 2-173 3-42 2 189 3 27 2-187 3-44 2 135 3 95 2-15 3-131 2-43 3 22 3 105 2 78 3-3 2-42 3-103 2-50 3 1 2 88 3 101 2 9 3-18 2-91 3-76 2 1 3-2 3 44 2 59 3 51 2 25"/>
<path class="k" d="M492 596l2-10 3 14 2-4 2-9 3 4 2 6 2-2 3-3 2-1 2-1 3 7 2-8 2 1 3 6 2-5 2 4 3-9 2 4 2 10 3-5 2 3 2-9 3 3 2 0 2-2 2 3 3 6 2-4 2 3 3 3 2 0 2-12 3 13 2 2 2-2 3 2 2-1 2 7 3-12 2-9 2 9 3 7 2-5 2 7 3 2 2-9 2 4 3-2 2 9 2 1 3 1 2 0 2-3 3 8 2-16 2-3 2 15 3-18 2 18 2 0 3-1 2-7 2 7 3-6 3-206 3 62 2 90 3 12 2-96 3-83 2 46 3 125 2-11 3-143 2-34 3 113 3 70 2-33 3-121 2-20 3 85 2 96 3 2 2-98 3-79 2 15 3 110 2 50 3-43 2-104 3-10 2 70 3 87 3 5 2-59 3-77 2-34 3 3 2 26 3 45 2 41 3 32 2 24 3-3 2 5 3 3 2 1 3-22 3-48 2-67 3-71 2-23 3 10 2 100 3 112 2 9 3-80 2-140 3-23 2 75 3 142 2 32 3-59 3-129 2-29 3 45 2 135 3 38 2-73 3-148 2-6 3 159 2 66 3-114 2-95 3 83 2 129 3-55 3-133 2 16 3 123 2 41 3-36 2-100 3-53 2 0 3 34 2 60 3 57 2 41 3 11 2-2 3-6 3-41 2-58 3-65 2-50 3 2 2 3 3 77 2 90 3 53 2 5 3-59 2-88 3-75 2-14 3-1 3 61 2 84 3 76 2 16 3-21 2-103 3-99 2-4 3 133 2 104 3-72 2-161 3 42 2 178 3-24 3-169 2 17 3 163 2 13 3-147 2-57 3 64 2 126 3 17 2-57 3-104 2-45 3 7 2 73 3 90 3 35 2 8 3-58 2-88 3-51 2-1 3 52 2 85 3 61 2 1 3-13 2-53 3-56 2-45 3-32"/>
<path class="r" d="M491 585l2 4 3 11 2-14 2 16 3 0 2-18 2 15 3-1 2-2 2 5 3-11 2 5 2-5 3 0 2 3 2 2 2-4 3-1 2 6 2 0 3 5 2-2 2-14 3 11 2 3 2-6 3 7 2 8 2 0 3-16 2 8 2 6 3-12 2 6 2-3 3-2 2 3 2 5 3-1 2-10 2 15 3-2 2-9 2 8 2 7 3-16 2-2 2 2 3 6 2 9 2-2 3 0 2-4 2 5 3 5 2-1 2 6 3 4 2-11 2-3 3 6 2 0 2 3 3-14 3-173 3 76 2 66 3-1 2-108 3-19 2 78 3 61 2-63 3-86 2 44 3 105 2-11 3-152 2-9 3 111 3 59 2-8 3-138 2-17 3 37 2 119 3 1 2-62 3-96 2-1 3 90 2 72 3-6 2-120 3-46 3-2 2 66 3 89 2 11 3 6 2-1 3-26 2-42 3-41 2-38 3-31 2-3 3 0 2 4 3-2 3 82 2 96 3 13 2 2 3-112 2-66 3 7 2 122 3 57 2-24 3-157 2-14 3 64 2 135 3 3 3-108 2-93 3 3 2 154 3 40 2-53 3-142 2 1 3 190 2 3 3-176 2-39 3 145 2 69 3-105 2-114 3 11 3 160 2 39 3-2 2-93 3-85 2-6 3-4 2 4 3 30 2 57 3 60 2 39 3 10 2-2 3 1 3-66 2-84 3-20 2 6 3 29 2 95 3 47 2-2 3-35 2-101 3-50 2-1 3 17 2 109 3 73 3-2 2-53 3-132 2-2 3 69 2 124 3-9 2-190 3 3 2 189 3 0 2-204 3-4 2 201 3-2 3-174 2-11 3 105 2 80 3 4 2-112 3-63 2-8 3 29 2 105 3 51 2-2 3-5 2-104 3-75 3 12 2 13 3 93 2 83 3-4 2 7 3-65 2-82 3-43 2 1 3-5"/>
<path class="k" d="M490 590l2 1 3 12 2-5 2-11 3 8 2-3 2-5 2 6 3 8 2-13 2 6 3 5 2-6 2 3 3 3 2 0 2 6 3-13 2 1 2 2 3 5 2-6 2-6 3 15 2-1 2-6 3 6 2-1 2 2 3-1 2-4 2 8 3-5 2-2 2 6 2 3 3-2 2 4 2-1 3-10 2 5 2 2 3-7 2 9 2 1 3 4 2-11 2 2 3 6 2 0 2-1 3 4 2-11 2 14 3-12 2 6 2 2 3-3 2 7 2-4 3-6 2 3 2 9 2 3 4-175 2 64 3 52 2-25 3-100 3 3 2 115 3 3 2-117 3 1 2 114 3 7 2-127 3-22 2 89 3 57 2-45 3-130 2-14 3 102 3 93 2-11 3-136 2-41 3 45 2 135 3 6 2-96 3-108 2-3 3 116 2 94 3-3 2-37 3-95 3-70 2 6 3 12 2 1 3 28 2 46 3 48 2 45 3 29 2-6 3 4 2-65 3-98 2-29 3 23 3 128 2 35 3-58 2-127 3 0 2 128 3 63 2-73 3-149 2-7 3 141 2 71 3-45 2-176 3-7 3 159 2 78 3-78 2-104 3 53 2 126 3-22 2-131 3 24 2 142 3-2 2-136 3-27 2 44 3 113 3 3 2-5 3-80 2-73 3-21 2-8 3-6 2 31 3 59 2 69 3 48 2 9 3-7 2-98 3-123 3-28 2 7 3 107 2 128 3 5 2-26 3-118 2-68 3 4 2 66 3 117 2 26 3-11 2-125 3-64 3 16 2 149 3 47 2-93 3-75 2 70 3 95 2-78 3-82 2 101 3 48 2-108 3-49 2 106 3 65 2-62 3-104 3 4 2 66 3 87 2-1 3-20 2-97 3-90 2-14 3 18 2 109 3 94 2-4 3-46 2-141 3-70 3-10 2 69 3 123 2 81 3 3 2 0 3-50"/>
<path class="y" d="M489 592l2 7 2 6 3-23 2 2 2 11 3 0 2 7 2-14 3 4 2 11 2 0 3-14 2 9 2-10 3 9 2 5 2 2 3-12 2 11 2 2 3-8 2 1 2 0 3-3 2-2 2 10 2 6 3 0 2-11 2 8 3 2 2-5 2 0 3 8 2-9 2 0 3 3 2-6 2-8 3 6 2 8 2 3 3-5 2 6 2 2 3-3 2 2 2-7 3 0 2 1 2 9 3-3 2-6 2-2 2 17 3-15 2 12 2-6 3 1 2 4 2-1 3-7 2 2 2 1 4-243 2 67 3 97 2-4 3-120 2-52 3 82 2 94 3-44 3-91 2 24 3 111 2-4 3-101 2-43 3 60 2 92 3-5 2-130 3-50 2 65 3 135 2 4 3-119 3-38 2 57 3 99 2 0 3-115 2-59 3 21 2 101 3 42 2-11 3-71 2-82 3-54 2 3 3 17 3 0 2 12 3 38 2 45 3 51 2 50 3-2 2-5 3-72 2-132 3-40 2 12 3 156 2 78 3-10 3-133 2-37 3 27 2 122 3 28 2-42 3-133 2-35 3 65 2 141 3-1 2-141 3-57 2 91 3 120 3-47 2-115 3 50 2 126 3-50 2-144 3 27 2 161 3-1 2-154 3-79 2 9 3 117 2 97 3 7 3-9 2-24 3-57 2-55 3-32 2-6 3-17 2 54 3 87 2 68 3-1 2-25 3-106 2-80 3 12 3 20 2 97 3 85 2 6 3-1 2-67 3-103 2-58 3-12 2 52 3 132 2 35 3-41 2-149 3-4 3 145 2 67 3-109 2-73 3 126 2 66 3-160 2-58 3 159 2 51 3-130 2-86 3 52 2 151 3 23 3-45 2-95 3-23 2 10 3 78 2 67 3-2 2-52 3-113 2-50 3 8 2 106 3 96 2 4 3-2 3-71 2-66 3-24 2 3 3-6"/>
<path class="k" d="M488 582l2 19 2-4 3-5 2 3 2-6 3 4 2-2 2-2 3 10 2 20 2-16 3-5 2-11 2 13 2 2 3 3 2 2 2-10 3-1 2 13 2-3 3-7 2-3 2 7 3-3 2 4 2 0 3 0 2-4 2 1 3 7 2-9 2-5 3 10 2-6 2-1 3 7 2 3 2 0 3-5 2 12 2-3 3-6 2-3 2 9 2-6 3 9 2-2 2-12 3-3 2 13 2 8 3-7 2 2 2 4 3-13 2 19 2-12 3 8 2-15 2 18 3-1 2-6 2-1 4-198 2 42 3 91 2 11 3-42 2-75 3 15 2 93 3 12 2-83 3-53 3 45 2 94 3-7 2-102 3-62 2 24 3 96 2 49 3-12 2-86 3-56 2 5 3 88 2 66 3-7 3-105 2-83 3 2 2 90 3 95 2 19 3-5 2-51 3-51 2-39 3-26 2-14 3-7 2-3 3-2 2-4 3-3 3 26 2 44 3 63 2 66 3 22 2-1 3-72 2-96 3-26 2 44 3 114 2 46 3-52 2-133 3-49 3 36 2 132 3 59 2-34 3-127 2-61 3 42 2 133 3 44 2-86 3-125 2 19 3 157 2 34 3-157 3-76 2 84 3 139 2-1 3-113 2-83 3 6 2 49 3 68 2 52 3 26 2-3 3-1 2 3 3-20 3-32 2-39 3-43 2-38 3-13 2 6 3 26 2 61 3 67 2 37 3 4 2-34 3-78 2-82 3-35 3-2 2 45 3 89 2 85 3 19 2-14 3-97 2-98 3-7 2 109 3 115 2-33 3-169 2-26 3 177 3 48 2-158 3-64 2 132 3 91 2-53 3-122 2-10 3 73 2 92 3 20 2-11 3-74 2-82 3-50 3-4 2 34 3 76 2 77 3 23 2 2 3-39 2-71 3-62 2-14 3-5 2 24 3 48 2 48 3 41 3 27"/>
<path class="g" d="M487 600l2-2 2-4 3 1 2 1 2-6 2-4 3 6 2-7 2-1 3 8 2 0 2 5 3-7 2 8 2 1 3 4 2-8 2 4 3-4 2 5 2-2 3 4 2-13 2 7 3 0 2 3 2 5 3-2 2-2 2-1 3 7 2-5 2 5 2 7 3-12 2 2 2 5 3-7 2 4 2-3 3 3 2-2 2 4 3 2 2-12 2 17 3-12 2 1 2 7 3 3 2 3 2-2 3-4 2 6 2-13 3 9 2 0 2 5 3 0 2-8 2 15 3-11 2-7 2 2 4-181 2 0 3 71 2 74 3-2 2-81 3-53 2 10 3 117 2 9 3-60 2-101 3-20 2 122 3 65 3-8 2-153 3-58 2 3 3 151 2 50 3-19 2-134 3-3 2 49 3 108 2 4 3-77 2-62 3 4 3 66 2 84 3-4 2 9 3-23 2-37 3-26 2-17 3-6 2 4 3-13 2-11 3-15 2-13 3-10 3 5 2 49 3 67 2 31 3 6 2-30 3-105 2-68 3 5 2 48 3 119 2 36 3 1 2-91 3-138 3-9 2 9 3 158 2 79 3 3 2-165 3-67 2 46 3 176 2-2 3-164 2-33 3 117 2 69 3-70 2-129 3 1 3 152 2 55 3 12 2-84 3-67 2 1 3 15 2 6 3 31 2 38 3 37 2 28 3-1 2 2 3-4 3-26 2-63 3-64 2-26 3 6 2 5 3 43 2 59 3 52 2 0 3-6 2 8 3-25 2-72 3-83 3-39 2 3 3 6 2 127 3 107 2 3 3-90 2-93 3 6 2 165 3 0 2-145 3-52 2 121 3 73 3-68 2-135 3 6 2 133 3 71 2-9 3-85 2-88 3 4 2 12 3 100 2 80 3 4 2-13 3-108 3-90 2 19 3 12 2 94 3 76 2 1 3 5 2-8 3-35 2-35 3-32 2-28"/>
<path class="c" d="M485 594l3 2 2 6 2-13 3 3 2-2 2 11 3 5 2-17 2 5 3-7 2 4 2 3 3-3 2 10 2-4 3 3 2 2 2-8 3 6 2-1 2 5 3 4 2-13 2 8 2 6 3-5 2 2 2-6 3 4 2 5 2-6 3 6 2 1 2-6 3 6 2-3 2 6 3 5 2-11 2-3 3-2 2 5 2-1 3 8 2-11 2 0 3 5 2-8 2 1 3 11 2 2 2-14 2 6 3 12 2-2 2-4 3 7 2-12 2-1 3-2 2 6 2-13 3 15 2 1 3-151 3-2 2 36 3 44 3 0 2-61 3-44 2 11 3 80 2 7 3-67 2-34 3 23 2 75 3 14 2-38 3-44 2 1 3 50 3 33 2-21 3-78 2-22 3 58 2 49 3-28 2-91 3-2 2 79 3 49 2-12 3-67 2-35 3-9 3 9 2 37 3 35 2 26 3 2 2 1 3 7 2 0 3 0 2-15 3-18 2-18 3-8 2-5 3 8 3 33 2 38 3-3 2-17 3-70 2-45 3-7 2 51 3 71 2 12 3-14 2-72 3-53 2 3 3 73 3 53 2-7 3-116 2-28 3 81 2 75 3-71 2-71 3 67 2 80 3-31 2-74 3 25 2 77 3 12 3-34 2-71 3-17 2-19 3 40 2 50 3 39 2 5 3 9 2-22 3-33 2-33 3-21 2 13 3 2 3 38 2 43 3 13 2 4 3-14 2-42 3-40 2-21 3 6 2 12 3 25 2 36 3 37 2 22 3-4 3-27 2-82 3-64 2-3 3 110 2 45 3-74 2-92 3 54 2 121 3-34 2-102 3 35 2 98 3 8 2-86 3-33 3 34 2 76 3 11 2-34 3-63 2-7 3 14 2 59 3 33 2 6 3-41 2-53 3-16 2 5 3 49 3 23 2 9 3-26 2-54 3-45 2-20 3 8 2 22"/>
<path class="r" d="M484 597l3-10 2 5 2 0 3 8 2-4 2-9 3 9 2-8 2 2 3 3 2 3 2-4 3 1 2-2 2 0 2 18 3-5 2 6 2-11 3 0 2 4 2-14 3 8 2-3 2 11 3-10 2 15 2-1 3-7 2 5 2-10 3-2 2 12 2-7 3 1 2 15 2 0 3-1 2 0 2-1 3-11 2 14 2-16 2 8 3 10 2-9 2-5 3 8 2 4 2-10 3 8 2-2 2 5 3-10 2 6 2 4 3-5 2 1 2 3 3 1 2 2 2-2 3 1 2 9 3-171 3 7 2 50 3 52 2 0 3-91 2-41 3 56 3 76 2-18 3-145 2 5 3 134 2 33 3-49 2-123 3 5 2 89 3 76 2-4 3-113 2-78 3-11 3 162 2 48 3-38 2-175 3 6 2 76 3 146 2 5 3-34 2-112 3-55 2-11 3-10 2 26 3 47 3 45 2 40 3 35 2 22 3-1 2-7 3-2 2-7 3-32 2-71 3-59 2 3 3 14 2 108 3 47 3-3 2-133 3-64 2 5 3 130 2 66 3 7 2-95 3-72 2 0 3 90 2 77 3 2 2-176 3-59 3 87 2 129 3-38 2-196 3 13 2 227 3 2 2-160 3-33 2 56 3 149 2 2 3-42 2-131 3-75 3-5 2-1 3 16 2 74 3 76 2 66 3 26 2 0 3-10 2 2 3-70 2-83 3-42 2-8 3 1 3 88 2 98 3 10 2 2 3-15 2-76 3-63 2 7 3 10 2 32 3 87 2 50 3 0 2-77 3-131 3-8 2 147 3 73 2-111 3-116 2 85 3 130 2-67 3-138 2 46 3 152 2 1 3-166 2-62 3-1 3 166 2 69 3-3 2-73 3-134 2-26 3 10 2 56 3 119 2 56 3-3 2-28 3-113 2-77 3-11 3-5 2 68 3 87 2 65 3 1 2-7"/>
<path class="g" d="M483 590l3 0 2-5 2 7 2-4 3-2 2 14 2-8 3 6 2 3 2-6 3 4 2 1 2-2 3-1 2-4 2 1 3 9 2 3 2 12 3-15 2-11 2 10 3 1 2 1 2 1 3-2 2 19 2-18 3-10 2 7 2 3 3 5 2-1 2 3 2-5 3 4 2-9 2-3 3 3 2 6 2 10 3-13 2 17 2 5 3-8 2-9 2 6 3 2 2-2 2-6 3 2 2-6 2 18 3-14 2 3 2-4 3 4 2-2 2 8 3-9 2 7 2 0 2 0 3 10 3-231 3 7 2 80 3 109 2-2 3-78 2-70 3 15 2 125 3 8 3-168 2-41 3 113 2 90 3-23 2-156 3-6 2 67 3 121 2-5 3-49 2-103 3-13 2 44 3 127 3-6 2-71 3-113 2 16 3 70 2 94 3 1 2 0 3-42 2-35 3-5 2-19 3-24 2-21 3-14 2 4 3 17 3 30 2 44 3 52 2 22 3-1 2 0 3-28 2-120 3-72 2-15 3 66 2 166 3-2 2-72 3-205 3 10 2 87 3 184 2 2 3-48 2-119 3 3 2 50 3 110 2-3 3-79 2-112 3-2 2 202 3-5 3-187 2-46 3 129 2 112 3-27 2-144 3 12 2 52 3 99 2 16 3 2 2-20 3-64 2-62 3-49 3 4 2 4 3 13 2 12 3 26 2 55 3 56 2 34 3 4 2 1 3-50 2-127 3-82 2-27 3-19 3 115 2 148 3 24 2 3 3 2 2-116 3-98 2 11 3 1 2 129 3 85 2 0 3-184 2-61 3 103 3 138 2-66 3-145 2 58 3 147 2-12 3-134 2-1 3 100 2 53 3-6 2-134 3-75 2-11 3 32 3 122 2 73 3 0 2-10 3-50 2-59 3-1 2 14 3 8 2 51 3 51 2-3 3-8 2-15 3-72 3-70 2-42"/>
<path class="b" d="M482 590l2 5 3 2 2-6 2 2 3 4 2-3 2 12 3-8 2-14 2 7 3 0 2 9 2-3 3 3 2 5 2-3 3 1 2-5 2 2 3 5 2-5 2-2 2 11 3-11 2 6 2-3 3-2 2 4 2-8 3 14 2-13 2 10 3-2 2-6 2-4 3 10 2 4 2 1 3-2 2-4 2 6 3-6 2 9 2 8 3-6 2-10 2 9 3-2 2 1 2-6 3 4 2-10 2 10 2-15 3 2 2 13 2 0 3 11 2 4 2-2 3-9 2-4 2 4 3 1 3-153 3 1 2 75 3 37 2-3 3-129 2-25 3 77 2 78 3-25 2-119 3 0 2 111 3 37 3-34 2-116 3-2 2 55 3 93 2 1 3-64 2-87 3 4 2 70 3 78 2 8 3-90 2-51 3 3 3 85 2 50 3-5 2-34 3-88 2-51 3-11 2-5 3 6 2-1 3 26 2 32 3 32 2 33 3 35 3 36 2 9 3-7 2 1 3-50 2-100 3-32 2-6 3 91 2 94 3-6 2-55 3-96 2-9 3 41 3 117 2 9 3-25 2-144 3-34 2 11 3 169 2 7 3-67 2-121 3 14 2 179 3 13 2-126 3-24 3 84 2 62 3-13 2-129 3-9 2 25 3 104 2 33 3-2 2 4 3-49 2-52 3-45 2-22 3-4 2 1 3-4 3-7 2 50 3 77 2 61 3-10 2-3 3-32 2-97 3-46 2 8 3 10 2 46 3 73 2 48 3 4 3-3 2-29 3-90 2-57 3-5 2 49 3 133 2 2 3-96 2-85 3 41 2 130 3-6 2-154 3-2 3 162 2 9 3-151 2-48 3 67 2 133 3-7 2-36 3-104 2-13 3 12 2 47 3 79 2 34 3 2 3-14 2-86 3-80 2-8 3-6 2 58 3 99 2 25 3 2 2 6 3-28 2-52 3-45"/>
<path class="g" d="M481 600l2-3 3 2 2-7 2 1 3-1 2 1 2 6 3-1 2 1 2 5 3-4 2 12 2-14 2 2 3 5 2-3 2 3 3 9 2-16 2 6 3-3 2-4 2 11 3-2 2-1 2-10 3 11 2-9 2 9 3-5 2 5 2 10 3 0 2-6 2-4 3 8 2-6 2 6 3-2 2-6 2 4 2 0 3-1 2-4 2-1 3-2 2 6 2 1 3 5 2-5 2 8 3-3 2-1 2-2 3 12 2-7 2-7 3 5 2-2 2 6 3 1 2-2 2-5 3 12 3-164 2 31 3 77 3 15 2-98 3-65 2 81 3 88 2-83 3-88 2 74 3 98 2-41 3-92 2 6 3 87 2 36 3-50 3-109 2-28 3 91 2 91 3-13 2-133 3-48 2 58 3 126 2 23 3-75 2-73 3-3 2 57 3 66 3 22 2 0 3-34 2-53 3-48 2-35 3-18 2 19 3 7 2 7 3 35 2 45 3 49 2 35 3-5 3-69 2-118 3-46 2 73 3 140 2 14 3-131 2-89 3 50 2 142 3 38 2-71 3-98 2 1 3 97 3 76 2-53 3-147 2-27 3 153 2 66 3-117 2-82 3 105 2 99 3-66 2-91 3 40 2 112 3 9 3-105 2-99 3-9 2 56 3 89 2 65 3 10 2-1 3-24 2-38 3-37 2-33 3-24 2-1 3 12 3 52 2 68 3 29 2-10 3-93 2-103 3-17 2 27 3 100 2 84 3 9 2-22 3-79 2-77 3-10 3 44 2 109 3 40 2-85 3-150 2 18 3 175 2 35 3-145 2-12 3 140 2 10 3-116 2 2 3 113 3 4 2-131 3-53 2 62 3 118 2 11 3-61 2-97 3-32 2 16 3 70 2 78 3 34 2 2 3-67 2-93 3-44 3-11 2 81 3 97 2 33 3 3 2-43 3-57 2-39 3-7"/>
<path class="b" d="M480 599l2 9 2-16 3 9 2-3 2 0 3 4 2-6 2 6 3-1 2-8 2-1 3 6 2-3 2 3 3 2 2-2 2 10 3-13 2 13 2-8 3 4 2-1 2 4 3-15 2 0 2 19 3 4 2-10 2 3 3-11 2 11 2 6 2-10 3-10 2 12 2 4 3-10 2 9 2 0 3 5 2-1 2 0 3 1 2-9 2 7 3-2 2-7 2 4 3 12 2-7 2-4 3 5 2-2 2-3 3 2 2 5 2-6 3 12 2 0 2-12 2-2 3-4 2 23 2-11 4-167 2 80 3 10 2-45 3-61 2 30 3 86 3-33 2-76 3 30 2 71 3-29 2-82 3 28 2 88 3 5 2-88 3-29 2 24 3 86 2 9 3-30 3-81 2-5 3 35 2 82 3 2 2-41 3-77 2-6 3 35 2 76 3 19 2-2 3-43 2-55 3-34 3-5 2-7 3-8 2 13 3 31 2 39 3 42 2 17 3 6 2-17 3-76 2-59 3-1 2 68 3 67 3 2 2-120 3-13 2 77 3 65 2-40 3-108 2 1 3 113 2 31 3-43 2-87 3-5 2 107 3 35 3-56 2-86 3 22 2 121 3-5 2-124 3-14 2 103 3 43 2-56 3-84 2-1 3 75 2 68 3-2 3-4 2-53 3-50 2-30 3 0 2-1 3 2 2 14 3 44 2 51 3 36 2-7 3-4 2-54 3-70 3-4 2 24 3 84 2 25 3 4 2-82 3-50 2-1 3 51 2 83 3 3 2-38 3-98 2-13 3 64 3 90 2-16 3-137 2-4 3 145 2 12 3-157 2 10 3 144 2-15 3-122 2 3 3 132 2 4 3-70 3-72 2-6 3 69 2 77 3 14 2 4 3-43 2-61 3-32 2 5 3 2 2 59 3 62 2 3 3 2 3-56 2-65 3-12 2 3 3 28 2 57 3 44"/>
<path class="g" d="M479 590l2 8 2-3 3 8 2-2 2 4 3 7 2-14 2 3 3-1 2 6 2-8 3 5 2-7 2-2 3 5 2-3 2 4 3-7 2 10 2 2 2-8 3 4 2 11 2-1 3-5 2-5 2 10 3 2 2-11 2 9 3 11 2-24 2 2 3 6 2-1 2 2 3-5 2 7 2 2 3-10 2 7 2-1 3 2 2-2 2-1 3 4 2 9 2-8 3-5 2 12 2-10 2 4 3 3 2 9 2-5 3-1 2 0 2-1 3 1 2-4 2-5 3 5 2-4 2 6 4-184 2 93 3 47 2-18 3-112 2-13 3 94 2 54 3-67 3-67 2 29 3 105 2-7 3-102 2-40 3 27 2 93 3 21 2-29 3-91 2-35 3 4 2 83 3 62 3-4 2-61 3-92 2-15 3 36 2 91 3 48 2-2 3-31 2-64 3-54 2-27 3-2 2-2 3 3 2-5 3 5 3 1 2 24 3 35 2 49 3 55 2 19 3-9 2-26 3-93 2-37 3 17 2 110 3 46 2-22 3-113 3-31 2 55 3 111 2 7 3-70 2-112 3-5 2 80 3 102 2 1 3-114 2-81 3 27 2 157 3 16 3-141 2-77 3 59 2 161 3 1 2-136 3-91 2 3 3 79 2 97 3 47 2 4 3-13 2 0 3-28 3-29 2-30 3-29 2-29 3-16 2 1 3 4 2 7 3 56 2 66 3 43 2-1 3-29 2-74 3-60 3-8 2 9 3 73 2 75 3 3 2 10 3-83 2-97 3-23 2 42 3 127 2 38 3-68 2-139 3 13 3 176 2 17 3-176 2-46 3 166 2 49 3-98 2-94 3 22 2 138 3 36 2 3 3-86 2-76 3-12 3 0 2 31 3 60 2 61 3 28 2-2 3 4 2-53 3-65 2-52 3 2 2-2 3 48 2 57 3 50 3 5 2 6 3-2"/>
<path class="b" d="M478 596l2 12 2-10 3-3 2-7 2 14 3 1 2 2 2-2 3-8 2 4 2 2 2-1 3 6 2-9 2 13 3-5 2-3 2 2 3-3 2 3 2-1 3 8 2-1 2-8 3 1 2 1 2 6 3 0 2-11 2 3 3 12 2-4 2 2 3-2 2-3 2 0 3-2 2 13 2 3 2-3 3-2 2 5 2-4 3-1 2-5 2-6 3 11 2 1 2 1 3 1 2-5 2-1 3 10 2-8 2-4 3-4 2-3 2 19 3 0 2 2 2 0 3-7 2 4 2 0 4-145 2 92 3 26 2-42 3-96 2 6 3 123 2 2 3-112 2-8 3 88 2 34 3-56 3-74 2 14 3 86 2 31 3-4 2-82 3-60 2-9 3 47 2 90 3 28 2-2 3-97 2-101 3-3 3 24 2 100 3 70 2-3 3-3 2-62 3-61 2-44 3-17 2 3 3 12 2 8 3-2 2 7 3 30 3 41 2 50 3 50 2 4 3-8 2-60 3-80 2-5 3 59 2 100 3-10 2-133 3-48 2 62 3 123 3 3 2-125 3-62 2 18 3 127 2 43 3-41 2-125 3-17 2 70 3 121 2-6 3-129 2-50 3 52 3 131 2 6 3-112 2-84 3-13 2 82 3 97 2 20 3 5 2-11 3-46 2-45 3-39 2-32 3-27 2-18 3 6 3 6 2 8 3 14 2 66 3 78 2 39 3 11 2-35 3-89 2-43 3 1 2 60 3 86 2 15 3-8 3-83 2-65 3-16 2 45 3 100 2 10 3-37 2-133 3-10 2 123 3 72 2-83 3-101 2 60 3 119 3-23 2-135 3-4 2 133 3 42 2-26 3-106 2-40 3-5 2 31 3 67 2 59 3 22 2-1 3 3 3-33 2-64 3-73 2-54 3-1 2 2 3 63 2 93 3 76 2 4 3-3 2-39 3-65 2-56"/>
<path class="r" d="M477 595l2 9 2-3 2-7 3 14 2 1 2-5 3 2 2 5 2-8 3-2 2 9 2 5 3-17 2-1 2 5 3 4 2-5 2 5 3-4 2-11 2 21 3-12 2 4 2-4 3 3 2-4 2 7 3-1 2 2 2-1 2 6 3 2 2-2 2-4 3 1 2 3 2-4 3-4 2 2 2-8 3 18 2-7 2 9 3-3 2-7 2 13 3-1 2-6 2-1 3 3 2 5 2-3 3-1 2-4 2 7 3-4 2 9 2-8 2-9 3 0 2 6 2 5 3 0 2 1 3-237 3 129 3 74 2-29 3-156 2 2 3 159 2 22 3-132 2-46 3 114 2 77 3-69 2-131 3 1 2 116 3 79 3-7 2-98 3-98 2-4 3 44 2 117 3 48 2-3 3-86 2-112 3-10 2 24 3 110 2 83 3-2 3 0 2-61 3-68 2-53 3-34 2-5 3-12 2-1 3-2 2-12 3 25 2 55 3 80 2 86 3 4 3-3 2-143 3-140 2 10 3 144 2 128 3-20 2-205 3-30 2 110 3 148 2-6 3-183 2-67 3 52 3 176 2 19 3-60 2-159 3 6 2 114 3 109 2-18 3-186 2-38 3 122 2 125 3-11 2-177 3-57 3 20 2 137 3 93 2 7 3-1 2-38 3-55 2-50 3-42 2-36 3-20 2-7 3-9 2 2 3 7 3 60 2 95 3 88 2 9 3-8 2-125 3-135 2-9 3 31 2 150 3 90 2-1 3-85 2-155 3-34 3 8 2 159 3 115 2 4 3-158 2-93 3 42 2 198 3 0 2-195 3-36 2 176 3 62 2-150 3-85 3 87 2 149 3 1 2-132 3-97 2-1 3 39 2 100 3 83 2 20 3-5 2-6 3-58 2-82 3-77 2-20 3-5 3 19 2 88 3 95 2 53 3-9 2-1 3-79 2-91 3-77 2 2"/>
<path class="g" d="M475 609l3-6 2-11 2 7 3-1 2-7 2 12 3 5 2-5 2 3 3-13 2 16 2-6 3 3 2-6 2 0 3 1 2 5 2 1 3-3 2 1 2 0 2 2 3 1 2 11 2-13 3-2 2 0 2 5 3 1 2 3 2 1 3 2 2-4 2 2 3-8 2 19 2-22 3 4 2 9 2-15 3 8 2 8 2 1 3-1 2 5 2 0 3-10 2-3 2 15 2-2 3-5 2-11 2 6 3-2 2 12 2-6 3 12 2-17 2 8 3-4 2 11 2-5 3-7 2 5 3-159 3 92 2 47 3-39 2-116 3-8 3 147 2 9 3-157 2-42 3 125 2 80 3-51 2-128 3-7 2 59 3 103 2 17 3-5 2-94 3-101 3-16 2-6 3 83 2 110 3 33 2 5 3-70 2-98 3-42 2 1 3 1 2 62 3 67 2 55 3 34 3-9 2-11 3 10 2 0 3-10 2-27 3-48 2-59 3-58 2-10 3 13 2 55 3 116 2 26 3-38 3-147 2-17 3 115 2 92 3-31 2-153 3-7 2 97 3 97 2 2 3-129 2-84 3-13 2 134 3 82 3-9 2-197 3-90 2 42 3 216 2 35 3-77 2-167 3 12 2 86 3 139 2 24 3 5 2-73 3-86 3-70 2-31 3-5 2-5 3 5 2 2 3 8 2 13 3 34 2 48 3 61 2 68 3 31 2 2 3-45 3-135 2-93 3 0 2 83 3 154 2 38 3-12 2-113 3-62 2 4 3 56 2 108 3 34 2-42 3-146 3-51 2 51 3 168 2 7 3-200 2-60 3 152 2 107 3-88 2-144 3 15 2 176 3 47 2-53 3-153 3-71 2-3 3 34 2 90 3 83 2 61 3 11 2-2 3 10 2-3 3-45 2-62 3-72 2-55 3-11 3-17 2 64 3 99 2 88 3 9 2 1 3-30 2-78"/>
<path class="g" d="M474 607l3-8 2 1 2 1 3 0 2-3 2-2 3 4 2 0 2 7 2 1 3 6 2-14 2 2 3-8 2 11 2 5 3-6 2 2 2 3 3-5 2-6 2 5 3-3 2 6 2-5 3 2 2 6 2 6 3-8 2-7 2-2 3 8 2 0 2 1 3 1 2-2 2 4 3-7 2 3 2 7 2-4 3 1 2-3 2 11 3-5 2-4 2-1 3 13 2-2 2-5 3-2 2-4 2-7 3 16 2 4 2-5 3 0 2 1 2 3 3-2 2 5 2-12 3 5 2-6 3-141 3 50 2 50 3-13 2-76 3-16 2 71 3 28 3-46 2-65 3 10 2 89 3 15 2-32 3-83 2-18 3 3 2 67 3 62 2 7 3-12 2-59 3-55 3 0 2 2 3 55 2 56 3 13 2 2 3-23 2-43 3-39 2-22 3 0 2-4 3-7 2-3 3-10 3 1 2 6 3 12 2 21 3 32 2 40 3 33 2-17 3-2 2-81 3-75 2 4 3 77 2 81 3 9 2-87 3-47 3 14 2 100 3 34 2-29 3-93 2-30 3 24 2 94 3 37 2-20 3-107 2-53 3 35 2 116 3 26 3-58 2-106 3 8 2 67 3 83 2 6 3-25 2-61 3-40 2 6 3-5 2 3 3 5 2 11 3 9 3 9 2 9 3 13 2 17 3 24 2 26 3 3 2-7 3-5 2-68 3-84 2-36 3-8 2 54 3 94 3 50 2-9 3-29 2-78 3-39 2 9 3 48 2 86 3 33 2-1 3-82 2-34 3 15 2 101 3 9 3-83 2-57 3 59 2 84 3-28 2-115 3-19 2 64 3 80 2-3 3-18 2-68 3-55 2-6 3 3 3 3 2 16 3 36 2 40 3 38 2 19 3 9 2-7 3 4 2-42 3-51 2-47 3-6 2-10 3-7 3 31 2 39 3 40 2 35"/>
<path class="c" d="M473 603l2-2 3 2 2-2 2-5 3-3 2 8 2 3 3-14 2 10 2-5 3 1 2 12 2-8 3 13 2-1 2-10 3 8 2-9 2-4 3 5 2-2 2-7 3 13 2 0 2 0 3-4 2 13 2-10 2-3 3-2 2 8 2 1 3 10 2-1 2-7 3 4 2 9 2-7 3-3 2 2 2 3 3-15 2 9 2 2 3 0 2-9 2 8 3-3 2 2 2-3 3-2 2 3 2 1 3 6 2-3 2-1 3 9 2 2 2-17 2 13 3-1 2 2 2-6 3 10 3-241 3 50 2 97 3 31 2-79 3-90 2 36 3 116 2 2 3-117 2-54 3 70 3 99 2 12 3-59 2-73 3-18 2 22 3 62 2 56 3 3 2-32 3-81 2-73 3-20 2 48 3 84 3 69 2 4 3-13 2-52 3-51 2-39 3-26 2-10 3-12 2-10 3-5 2-4 3 0 2 6 3 18 3 31 2 48 3 60 2 57 3 9 2-20 3-104 2-111 3-17 2 103 3 137 2 15 3-128 2-123 3 18 3 131 2 109 3-3 2-87 3-81 2-3 3 76 2 88 3 18 2-82 3-105 2-10 3 104 2 88 3-39 3-115 2-43 3 48 2 98 3 50 2-8 3-57 2-69 3-59 2-44 3-29 2-16 3-2 2-2 3 4 3 14 2 24 3 34 2 45 3 56 2 59 3 48 2 5 3-21 2-81 3-99 2-63 3-4 2 68 3 103 2 85 3 28 3-26 2-71 3-74 2-25 3 20 2 88 3 85 2-7 3-114 2-85 3 51 2 139 3-1 2-134 3-38 3 111 2 87 3-49 2-109 3-37 2 39 3 83 2 60 3-3 2-20 3-58 2-64 3-55 2-39 3-7 3 11 2 12 3 49 2 60 3 62 2 48 3 10 2-2 3-44 2-61 3-61 2-47 3-26 2 2 3 4"/>
<path class="y" d="M472 601l2-5 3 4 2 2 2 7 3-8 2 6 2-14 3 11 2-4 2 2 3 0 2 12 2-5 3-3 2 1 2-10 3 3 2 8 2 0 2 4 3-10 2-4 2 7 3 0 2 5 2-4 3-3 2 4 2-5 3 15 2-6 2 9 3-8 2-6 2 1 3 2 2 5 2-1 3 3 2 8 2-5 3-11 2 9 2-8 3 6 2 8 2-8 2 5 3-5 2 7 2-5 3 3 2-3 2 1 3 2 2-3 2 5 3 1 2-9 2 12 3-2 2-2 2 5 3-6 3-218 3 94 2 76 3-70 2-131 3 51 2 142 3-11 2-103 3 2 2 92 3 38 2-40 3-64 2-10 3 51 3 61 2 12 3-47 2-64 3-13 2 22 3 63 2 43 3-4 2-47 3-59 2-20 3 1 2 49 3 51 3 17 2-4 3-30 2-35 3-28 2-16 3-6 2-1 3 1 2-1 3 2 2-2 3 13 2 33 3 49 3 22 2-23 3-97 2-63 3 29 2 113 3 48 2-65 3-81 2-3 3 85 2 54 3-31 2-116 3-52 3 51 2 124 3 28 2-85 3-90 2 37 3 114 2 45 3-55 2-59 3 21 2 71 3 20 2-65 3-100 3-30 2 39 3 78 2 59 3 20 2-4 3-20 2-24 3-23 2-25 3-27 2-31 3-32 2-14 3-6 3 21 2 64 3 78 2 48 3 5 2-40 3-42 2-13 3 19 2 34 3 34 2 13 3-8 2-58 3-82 3-48 2 33 3 104 2 54 3-65 2-136 3-7 2 145 3 64 2-119 3-84 2 105 3 101 2-102 3-134 3 48 2 146 3 39 2-74 3-82 2-8 3 27 2 53 3 44 2 27 3 5 2-6 3-17 2-43 3-57 3-51 2-11 3 14 2 59 3 66 2 44 3 1 2-5 3-27 2-27 3-25 2-18 3-14"/>
<path class="g" d="M471 592l2 6 3-2 2 2 2 7 3 6 2-5 2 10 2-14 3 7 2 2 2-4 3 3 2-13 2 6 3 12 2-4 2-7 3 1 2-4 2 6 3-1 2-1 2 7 3-4 2-12 2 8 3 2 2 12 2-9 3 3 2-4 2 5 3 1 2-8 2 0 3 5 2-6 2 8 2-1 3 8 2-8 2 2 3 3 2-2 2-7 3 5 2-5 2 6 3-2 2 0 2 14 3-6 2 0 2 0 3 2 2-6 2 5 3-13 2 16 2-14 3 6 2-2 2 8 3-1 3-303 2-2 3 188 3 63 2-127 3-131 2 86 3 159 2-14 3-178 2 7 3 117 2 83 3 3 2-121 3-66 2-2 3 86 2 111 3 12 3-23 2-121 3-84 2 7 3 56 2 122 3 26 2-2 3-74 2-112 3-42 2-8 3-9 2 11 3 47 3 43 2 39 3 34 2 32 3 32 2 16 3 3 2-5 3 0 2-50 3-147 2-120 3-7 2 101 3 217 3 1 2-135 3-185 2 4 3 219 2 96 3-32 2-212 3-39 2 60 3 203 2 40 3-66 2-187 3-3 3 101 2 161 3 6 2-175 3-63 2 59 3 178 2-4 3-138 2-130 3-13 2 96 3 140 2 33 3-1 3-2 2-36 3-56 2-50 3-43 2-40 3-39 2-27 3 12 2-1 3 4 2 24 3 107 2 117 3 31 3-1 2-56 3-131 2-48 3-1 2 48 3 126 2 64 3-5 2-62 3-154 2-64 3-8 2 146 3 145 3-2 2-203 3-94 2 108 3 200 2-35 3-248 2 9 3 275 2 21 3-202 2-91 3 51 2 201 3 45 3-4 2-118 3-113 2-33 3 4 2 4 3 33 2 78 3 83 2 41 3 13 2 4 3-36 2-104 3-104 3-33 2 5 3 11 2 75 3 90 2 76 3 25 2 3 3-10"/>
<path class="r" d="M470 590l2 16 2-4 3 2 2 2 2 12 3-11 2 2 2 4 3-7 2-2 2-2 3 3 2 0 2-5 3 13 2 7 2-11 3-9 2 1 2 7 3 1 2 12 2-16 3 1 2 8 2 1 2-9 3 1 2 9 2-9 3 7 2 0 2-2 3 0 2-2 2 6 3 0 2-2 2 1 3 1 2-6 2 1 3-4 2 7 2-7 3 1 2 8 2 6 3-3 2 7 2-8 3-7 2 1 2 15 3-1 2-7 2 4 2-3 3-3 2 3 2-1 3 7 2-2 2 4 4-161 2-89 3 46 2 167 3-3 2-180 3-4 3 178 2 14 3-143 2-51 3 75 2 116 3 12 2-133 3-67 2-5 3 94 2 97 3 5 2-45 3-139 3-27 2-7 3 130 2 84 3 7 2-63 3-139 2-33 3-6 2 9 3 87 2 83 3 57 2 5 3 7 3 6 2-3 3 1 2-2 3-64 2-106 3-122 2-25 3 13 2 94 3 206 2 8 3-74 2-177 3 6 2 161 3 81 3-34 2-191 3 3 2 116 3 108 2 3 3-160 2-70 3 22 2 185 3 21 2-87 3-162 2-15 3 217 3 38 2-129 3-176 2-1 3 262 2 40 3-36 2-204 3-51 2 13 3 26 2 105 3 88 2 64 3 15 3-4 2-7 3 12 2 5 3-19 2-73 3-91 2-58 3-8 2 3 3 93 2 137 3 12 2-1 3-128 3-131 2-8 3 26 2 168 3 80 2-5 3-83 2-176 3 9 2 46 3 207 2 8 3-135 2-137 3 61 3 205 2-27 3-254 2 6 3 287 2-8 3-262 2-29 3 123 2 161 3 5 2-88 3-155 2-27 3-3 3 14 2 103 3 105 2 53 3 3 2-2 3-23 2-97 3-89 2 4 3-1 2 26 3 95 2 85 3 4 3 0 2-1 3-82 2-103 3-96"/>
<path class="c" d="M469 604l2-6 2 11 3-3 2 0 2 3 3-10 2 13 2-6 3 2 2-1 2-1 3-7 2 2 2 1 3 4 2 4 2 0 2 2 3-6 2-4 2 17 3-7 2 4 2-11 3-4 2 5 2-5 3 13 2-4 2 8 3-6 2-1 2 6 3-9 2 5 2-8 3 19 2-16 2 6 3 6 2-3 2-9 3 1 2 1 2 14 2-8 3 0 2 8 2-4 3-4 2 5 2-1 3-2 2-1 2 4 3 4 2 5 2-7 3 13 2-24 2 6 3 3 2 4 2 5 4-85 2-101 3-33 2 83 3 76 2-58 3-120 2 41 3 130 2-2 3-106 3-33 2 72 3 79 2 5 3-54 2-56 3-12 2 34 3 59 2 36 3-8 2-50 3-50 2-4 3 29 3 54 2 38 3-1 2-25 3-43 2-41 3-28 2-6 3-5 2 10 3 14 2 16 3 19 2 20 3 21 3 23 2 21 3 4 2-2 3-35 2-69 3-67 2-7 3 77 2 93 3-1 2-104 3-78 2 45 3 111 3 38 2-63 3-94 2-15 3 69 2 91 3 5 2-96 3-107 2 10 3 125 2 84 3-70 2-126 3 0 3 123 2 71 3-39 2-100 3-30 2 37 3 77 2 56 3 12 2-10 3-28 2-28 3-23 2-16 3-10 3-8 2-5 3 0 2-2 3 5 2 19 3 33 2 41 3 30 2-3 3-43 2-62 3-36 2 3 3 37 2 60 3 40 3-2 2-46 3-71 2-50 3-6 2 74 3 88 2-4 3-128 2-106 3 79 2 158 3-27 2-167 3-3 3 167 2 43 3-138 2-72 3 61 2 127 3 35 2-54 3-81 2-47 3 3 2 36 3 49 2 47 3 35 3 21 2 3 3-4 2-20 3-31 2-33 3-23 2-10 3 15 2 31 3 35 2 26 3 11 2-4 3-16 3-27"/>
<path class="m" d="M468 607l2 1 2-4 3 8 2-9 2 0 3-5 2 4 2-8 2 22 3-3 2-1 2 3 3-20 2 7 2 0 3-1 2 9 2-8 3 7 2-2 2 1 3-8 2 7 2-4 3-9 2 9 2 9 3-1 2 3 2-5 3-2 2 7 2-7 3 5 2 6 2-5 2 5 3-10 2-7 2 12 3 13 2-7 2-4 3-4 2 4 2-9 3 11 2-13 2 13 3 5 2-14 2 12 3 2 2-2 2-9 3 14 2-15 2 19 3 4 2-2 2-17 3 14 2-9 2 7 4-33 2-13 3-98 2-4 3 81 2 42 3-60 2-65 3 28 2 94 3-15 2-139 3-19 2 77 3 100 3 0 2-92 3-61 2 6 3 84 2 52 3-7 2-78 3-77 2-16 3 107 2 84 3-6 2-92 3-99 3 1 2 19 3 52 2 55 3 38 2 22 3 2 2-3 3 3 2-12 3-5 2-15 3-46 2-60 3-54 3 12 2 12 3 93 2 80 3 1 2-67 3-77 2-12 3 93 2 68 3-19 2-152 3-48 2 39 3 153 3 22 2-48 3-118 2 9 3 94 2 76 3-34 2-139 3-9 2 143 3 43 2-142 3-93 2 72 3 161 3 5 2-98 3-93 2 7 3 27 2 62 3 54 2 38 3 0 2-11 3-2 2 3 3-44 2-58 3-59 3-42 2 17 3 19 2 53 3 77 2 51 3 1 2-29 3-86 2-80 3-10 2 4 3 93 2 96 3 20 3-11 2-88 3-73 2 10 3 62 2 94 3-3 2-118 3-61 2 97 3 76 2-109 3-93 2 99 3 101 3-70 2-93 3 21 2 123 3 20 2-19 3-90 2-54 3-12 2 31 3 81 2 65 3-2 2 1 3-68 3-86 2-30 3 12 2 35 3 77 2 65 3 6 2 3 3-30 2-65 3-68 2-49 3 1 2 6"/>
<path class="g" d="M466 600l3 1 2 3 2 6 3-14 2 17 2-21 3 2 2 8 2 11 3-7 2 2 2 0 3 6 2-3 2 1 3-2 2-5 2 1 3 9 2-3 2-6 3 5 2 1 2-1 3 2 2 4 2-8 2 3 3 0 2-1 2 11 3-9 2 11 2-23 3 4 2 15 2-4 3-5 2 7 2-4 3-7 2 12 2-6 3-7 2 6 2 3 3 6 2-5 2 9 3-9 2 5 2 3 3-1 2-2 2-3 2 10 3-6 2 6 2 7 3-13 2 3 2-7 3 0 2-3 3-42 3-23 3-102 2-16 3 56 2 90 3-23 2-129 3-9 2 112 3 38 2-41 3-112 2-4 3 83 2 78 3 3 2-76 3-99 3 1 2 60 3 112 2 2 3-49 2-119 3-10 2 38 3 113 2 40 3-10 2-61 3-69 2-20 3 5 3 5 2 6 3 15 2 19 3 17 2 17 3 18 2 20 3 25 2 22 3-1 2-3 3-18 2-77 3-80 3 5 2 29 3 111 2 27 3-27 2-128 3-39 2 15 3 130 2 43 3 0 2-137 3-70 2-3 3 143 3 78 2-26 3-179 2-35 3 123 2 115 3-54 2-183 3 2 2 175 3 57 2-58 3-149 2-14 3 24 3 101 2 82 3 13 2 6 3-3 2 4 3-20 2-27 3-30 2-30 3-28 2-7 3 2 2 8 3 26 3 54 2 51 3 1 2-2 3-23 2-65 3-62 2-1 3-3 2 21 3 71 2 67 3-9 2 6 3-100 3-105 2 3 3 83 2 117 3 1 2-187 3-33 2 158 3 72 2-133 3-90 2 82 3 137 2-10 3-168 3-27 2 28 3 130 2 53 3 1 2-30 3-85 2-69 3 4 2-2 3 34 2 81 3 73 2 5 3 4 3-29 2-64 3-54 2 2 3-1 2 3 3 25 2 35 3 33 2 27"/>
<path class="k" d="M465 605l3-3 2 0 2 12 3-18 2 10 2-1 3-4 2-3 2 6 3-1 2 8 2 1 3-9 2 5 2 2 2-6 3 5 2-2 2-5 3-1 2 2 2 4 3-4 2 9 2-6 3 1 2 5 2-4 3 17 2-23 2 16 3-1 2-7 2 6 3-5 2-2 2 7 3 5 2-9 2-4 3-2 2 12 2-7 3 4 2-5 2 1 2 8 3 3 2-5 2 1 3-5 2 8 2 14 3-12 2 9 2-10 3-2 2-4 2 12 3-11 2 3 2 13 3-1 2-1 3-80 3-33 2-56 3 0 2 59 3 39 3-29 2-74 3 2 2 76 3 13 2-36 3-73 2-5 3 73 2 56 3-8 2-100 3-43 2 18 3 112 3 14 2-50 3-102 2 3 3 96 2 58 3-5 2-94 3-40 2 4 3 45 2 59 3 23 2-8 3 9 3 1 2 2 3-13 2-19 3-22 2-28 3-33 2-30 3 2 2 1 3 11 2 71 3 65 2-3 3-29 3-89 2-16 3 1 2 81 3 58 2-5 3-64 2-79 3-6 2 37 3 96 2 9 3-46 2-112 3-6 2 112 3 51 3-79 2-90 3 41 2 125 3-23 2-137 3-2 2 117 3 45 2-4 3-88 2-38 3 8 2 16 3 49 3 43 2 27 3 9 2 5 3 0 2-15 3-36 2-45 3-27 2-10 3-8 2 29 3 61 2 49 3 0 3-6 2-38 3-69 2-61 3-4 2 4 3 6 2 69 3 75 2 9 3 13 2-63 3-82 2 1 3 84 3 66 2-33 3-114 2 20 3 128 2-5 3-145 2 0 3 131 2 17 3-69 2-81 3 0 2 81 3 62 3 11 2-38 3-79 2-27 3 3 2 30 3 74 2 30 3 1 2-26 3-66 2-29 3-2 2 17 3 52 3 49 2 19 3 3 2 1 3-9 2-6"/>
<path class="g" d="M464 607l3-1 2 4 2-6 3 1 2-8 2 14 2 2 3-16 2 0 2 3 3 12 2-6 2 8 3-9 2-5 2-3 3 11 2 4 2 4 3 1 2 13 2-14 3-6 2 7 2-2 3 1 2 6 2 6 3-14 2-7 2 13 3-4 2 2 2-1 2 4 3-5 2-6 2 7 3-2 2 3 2 1 3-9 2 8 2-2 3-3 2 11 2-15 3 11 2 2 2-4 3 3 2 8 2 4 3-6 2-13 2 4 3 5 2 10 2-4 3-17 2 7 2 8 3-6 2-2 3-43 3-29 2-63 3-18 2 58 3 50 2-53 3-86 2 31 3 95 3-4 2-90 3-27 2 63 3 70 2-8 3-64 2-37 3 22 2 67 3 27 2-55 3-81 2-8 3 79 3 58 2-28 3-80 2-31 3 36 2 65 3 42 2 0 3-28 2-40 3-38 2-30 3-21 2-9 3 1 3 3 2 18 3 28 2 37 3 42 2 34 3 4 2-22 3-61 2-54 3 3 2 66 3 62 2-6 3-86 3-62 2 9 3 89 2 62 3-19 2-83 3-56 2 31 3 91 2 29 3-73 2-96 3 40 2 119 3-15 3-120 2 4 3 120 2 26 3-85 2-35 3 45 2 71 3 9 2-29 3-60 2-45 3-17 2-1 3 25 3 35 2 39 3 34 2 22 3-7 2-6 3-38 2-50 3-43 2-6 3 15 2 56 3 59 2 23 3-9 3-48 2-54 3-32 2 6 3 29 2 53 3 51 2 14 3-23 2-73 3-52 2 23 3 95 2 18 3-112 2-50 3 110 3 59 2-106 3-45 2 105 3 55 2-78 3-63 2 24 3 86 2 27 3-35 2-77 3-46 2 11 3 58 3 66 2 37 3-8 2-47 3-57 2-30 3 5 2 46 3 57 2 26 3-2 2-43 3-55 2-45 3-26 3 3 2 6"/>
<path class="k" d="M463 605l2-7 3-4 2 11 2 6 3 9 2-15 2-3 3 1 2 2 2 4 3-6 2-4 2 11 3-1 2-6 2 15 3-2 2 1 2-8 3-6 2 4 2 5 3-10 2 8 2-4 2-3 3 5 2-2 2 12 3 0 2-7 2 7 3 6 2-5 2-6 3 5 2-1 2 5 3-4 2-5 2-3 3 6 2 6 2-11 3 17 2-6 2 2 3-14 2 10 2 1 3-1 2-8 2 6 2 1 3 2 2 1 2 10 3-12 2 2 2-4 3 6 2 10 2-6 3-6 3-40 3-3 2-146 3-106 2 72 3 174 2 3 3-152 2-45 3 112 2 102 3-43 2-159 3-60 3 113 2 151 3 2 2-154 3-131 2 28 3 179 2 91 3-75 2-163 3-33 2 128 3 137 2-10 3-140 3-133 2-11 3 56 2 104 3 84 2 42 3 3 2 0 3 6 2-14 3-18 2-27 3-38 2-55 3-68 3-52 2-24 3 48 2 125 3 116 2 2 3-119 2-149 3-26 2 98 3 154 2 39 3-67 2-173 3-85 3 47 2 190 3 97 2-69 3-212 2-52 3 174 2 166 3-69 2-193 3 34 2 205 3 8 2-222 3-79 3 176 2 136 3-55 2-194 3-96 2 23 3 113 2 114 3 77 2 21 3 4 2-9 3-46 2-65 3-77 3-75 2-28 3-8 2 72 3 110 2 100 3 33 2-5 3-68 2-83 3-68 2-27 3 0 2 54 3 86 3 88 2 24 3-26 2-136 3-153 2-20 3 120 2 196 3 15 2-190 3-81 2 163 3 117 2-166 3-149 3 152 2 161 3-122 2-218 3 32 2 203 3 109 2-42 3-134 2-100 3-3 2 65 3 116 2 91 3-4 3-79 2-151 3-110 2 14 3 92 2 144 3 98 2 9 3-24 2-59 3-57 2-47 3-35 2-9 3-24"/>
<path class="r" d="M462 600l2 8 3-1 2 0 2-3 3-4 2 1 2-3 3 5 2-6 2 10 3 5 2-6 2 6 3 6 2-3 2 3 2-2 3-11 2-2 2 9 3 8 2-10 2 5 3 0 2-2 2 1 3 4 2-2 2-4 3-1 2 0 2 0 3 3 2 8 2-11 3 4 2 3 2-2 3 3 2 2 2-6 3 11 2-18 2 5 2 4 3-4 2 7 2-2 3-5 2 5 2 2 3 3 2-6 2 10 3 6 2-21 2 8 3 1 2 2 2-3 3-2 2 6 2 1 3-2 3-36 3-2 2-79 3-137 2 2 3 126 2 101 3-30 2-150 3-32 2 81 3 126 2 9 3-92 2-138 3-10 3 92 2 148 3 6 2-115 3-152 2 0 3 147 2 111 3-7 2-163 3-60 2 19 3 136 2 76 3-2 2-22 3-87 3-76 2-53 3-16 2 4 3 4 2 14 3 5 2-4 3-2 2 8 3 36 2 61 3 83 2 45 3 0 3-22 2-159 3-150 2-1 3 48 2 174 3 122 2-1 3-66 2-152 3-77 2-3 3 109 2 173 3 21 3-91 2-216 3-2 2 173 3 133 2-68 3-193 2 25 3 217 2 19 3-154 2-101 3 35 2 171 3 50 3-4 2-103 3-109 2-57 3 11 2 17 3 5 2 51 3 57 2 60 3 59 2 23 3-5 2 4 3-53 3-116 2-122 3-52 2-2 3 15 2 63 3 104 2 95 3 71 2-9 3-1 2 6 3-82 2-126 3-123 3 5 2 30 3 197 2 100 3-17 2-203 3-27 2 158 3 91 2-80 3-138 2 36 3 188 2 0 3-166 3-107 2 14 3 162 2 86 3 0 2-66 3-126 2-49 3-9 2 56 3 123 2 85 3 0 2-44 3-148 3-129 2-4 3 5 2 85 3 110 2 85 3 43 2-2 3 8 2-2 3-1"/>
<path class="m" d="M461 608l2 2 3-5 2-7 2 20 2-9 3-6 2 5 2 7 3 1 2-3 2-2 3 1 2-12 2 21 3-10 2-4 2 13 3-1 2-6 2-11 3 2 2 4 2-2 3 4 2 1 2-3 3 4 2 2 2-3 3-1 2-1 2 1 3 13 2-14 2 13 2-7 3 12 2-16 2 2 3-2 2 7 2 3 3-4 2 5 2-6 3-2 2 4 2 8 3 5 2-11 2 7 3-7 2-1 2 6 3 5 2-3 2-5 3 10 2-2 2-10 3-7 2 0 2 15 2-9 4-72 2 6 3-54 2-71 3-1 3 79 2 47 3-54 2-65 3 21 2 77 3 27 2-44 3-56 2-3 3 50 2 43 3-3 2-59 3-49 3 15 2 65 3 42 2-25 3-53 2-13 3 38 2 48 3 6 2-29 3-54 2-42 3-12 2 3 3 21 3 23 2 21 3 17 2 14 3 11 2 3 3 1 2 9 3-12 2-29 3-49 2-60 3-46 2 3 3 59 3 87 2 36 3-20 2-70 3-42 2 23 3 68 2 60 3 11 2-45 3-69 2-29 3 28 2 77 3 29 2-65 3-82 3 26 2 102 3 19 2-78 3-33 2 72 3 50 2-37 3-79 2-16 3 52 2 59 3 17 2-25 3-42 3-38 2-25 3-10 2 0 3 7 2 15 3 21 2 27 3 30 2 23 3 4 2-28 3-56 2-63 3-45 3-1 2 29 3 56 2 59 3 44 2 21 3-1 2-25 3-42 2-48 3-29 2 3 3 56 2 71 3 14 3-57 2-63 3 35 2 88 3 1 2-86 3-16 2 82 3 26 2-90 3-64 2 38 3 88 2 12 3-44 3-67 2-18 3 24 2 58 3 54 2 26 3-11 2-42 3-56 2-39 3-1 2 34 3 54 2 40 3 4 3-18 2-36 3-36 2-27 3-19 2-12 3-5"/>
<path class="k" d="M460 603l2-1 2 3 3-9 2 8 2 1 3-5 2 13 2-10 3 7 2 15 2-17 3 12 2-5 2 6 3-8 2-5 2-1 3-1 2-2 2 12 3-1 2-5 2-6 2 10 3 1 2 2 2-6 3 8 2-4 2 2 3 3 2-7 2 6 3-1 2 7 2-7 3 11 2-13 2-1 3 4 2 0 2 4 3-2 2-7 2 7 3 7 2-8 2 2 3-3 2-5 2 8 3 2 2 0 2-4 2 5 3 3 2-9 2 1 3 8 2 4 2-5 3 2 2-2 2 16 4-77 2-47 3-74 2-19 3 38 2 90 3 11 2-60 3-28 3 20 2 71 3 8 2-34 3-59 2-10 3 34 2 59 3 6 2-42 3-81 2-29 3 32 2 84 3 35 3-16 2-75 3-34 2 0 3 63 2 53 3 5 2-19 3-55 2-52 3-33 2-13 3 11 2 16 3 10 3 14 2 9 3 4 2-2 3-5 2 9 3 22 2 36 3 41 2 4 3-14 2-74 3-75 2 8 3 23 3 88 2 54 3 1 2-67 3-86 2-33 3 16 2 91 3 59 2 4 3-104 2-99 3 27 2 132 3 60 3-49 2-92 3 18 2 103 3 35 2-74 3-81 2-8 3 72 2 71 3 3 2 2 3-33 2-27 3-16 3-7 2 1 3 3 2-14 3-8 2-10 3 5 2 20 3 34 2 39 3 19 2-6 3-10 2-50 3-56 3-44 2-8 3-8 2 8 3 38 2 50 3 53 2 23 3-4 2-33 3-95 2-81 3 21 2 94 3 112 2 5 3-101 3-34 2 81 3 67 2-45 3-89 2 3 3 97 2 31 3-43 2-70 3-10 2 28 3 54 2 41 3 0 3 7 2-20 3-45 2-52 3-30 2-16 3 20 2 56 3 58 2 13 3 3 2-24 3-44 2-41 3-32 3-25 2-10 3-9"/>
<path class="k" d="M459 613l2-5 2-6 3 5 2-5 2 3 3 6 2 5 2-8 3-12 2 15 2-3 3-4 2 5 2 1 2 9 3 2 2-11 2-1 3 2 2-9 2 12 3-7 2 0 2 11 3-1 2 3 2 0 3 1 2-6 2-4 3 6 2-7 2-5 3 11 2-1 2 8 3 9 2-4 2-10 3 4 2 0 2-4 2 2 3 2 2-1 2 4 3 6 2 1 2 9 3-14 2 3 2-15 3 2 2 10 2 5 3 5 2-12 2 6 3-7 2 2 2-3 3 2 2 7 2-6 4-29 2-81 3-49 2 9 3 105 2 14 3-67 2-87 3 7 2 153 3-10 2-137 3-103 3 22 2 178 3 47 2-18 3-119 2-10 3 25 2 106 3 16 2-18 3-129 2-21 3 31 2 145 3-2 3-30 2-123 3-27 2 12 3 23 2 55 3 42 2 28 3 21 2 6 3-8 2 3 3-1 2 2 3 4 3-14 2-71 3-80 2-30 3 27 2 25 3 103 2 44 3 6 2-79 3-110 2-27 3 59 2 152 3-2 3-37 2-167 3-26 2 26 3 159 2 44 3-31 2-155 3-17 2 122 3 71 2-86 3-180 2 30 3 245 3 1 2-179 3-51 2 46 3 142 2 50 3-4 2-15 3-53 2-57 3-54 2-23 3-24 2-5 3-9 3 35 2 74 3 80 2 50 3 3 2-6 3-21 2-72 3-73 2-15 3-17 2 19 3 89 2 96 3 21 3-2 2-8 3-87 2-78 3 4 2 19 3 75 2 71 3-1 2-111 3-88 2 42 3 149 2-41 3-234 3 16 2 263 3 3 2-199 3-20 2 82 3 143 2-3 3-48 2-132 3-49 2-17 3 60 2 125 3 60 3 2 2-6 3-94 2-68 3 19 2 17 3 46 2 56 3 34 2-3 3 5 2-12 3-59 2-66 3-60 3-45"/>
<path class="g" d="M458 610l2 6 2-5 2-9 3 5 2 2 2-2 3 2 2 3 2 5 3-7 2-1 2-13 3 17 2-6 2 1 3 7 2-4 2-4 3 18 2-13 2-4 3 2 2 4 2-6 3 1 2 9 2 9 3-14 2 8 2-7 3 5 2-3 2 1 2-3 3 2 2 6 2 6 3-7 2-4 2 6 3-3 2-3 2 7 3-6 2-1 2 1 3 10 2-2 2 0 3-12 2 12 2-1 3 4 2-8 2 12 3-7 2 1 2 5 3-19 2 21 2-6 2 2 3-10 2 4 4-35 2-80 3-119 2 4 3 102 2 88 3-24 2-178 3-4 2 135 3 73 2-35 3-168 2 3 3 61 3 138 2 1 3-28 2-118 3-22 2 8 3 115 2 45 3 2 2-106 3-75 2 1 3 74 2 103 3 8 2 3 3-74 3-89 2-63 3-10 2-22 3-15 2-16 3-16 2-18 3 3 2-3 3 40 2 65 3 88 2 104 3 13 3 3 2-28 3-176 2-88 3 6 2 119 3 172 2 0 3-56 2-177 3-8 2 20 3 166 2 55 3 3 3-109 2-99 3-5 2 128 3 85 2-12 3-227 2-15 3 159 2 101 3-58 2-195 3 16 2 139 3 96 3 10 2-68 3-119 2-40 3-14 2-8 3-13 2 18 3 42 2 48 3 53 2 56 3 36 2-2 3 2 3 2 2-36 3-122 2-134 3-36 2-6 3 9 2 117 3 142 2 56 3 11 2 0 3-43 2-112 3-83 3 13 2 3 3 111 2 118 3 1 2-102 3-132 2-2 3 230 2 9 3-192 2-52 3 141 2 103 3-58 3-182 2-2 3 118 2 130 3-6 2-33 3-144 2-76 3 8 2 4 3 56 2 114 3 84 2-3 3 2 3-26 2-100 3-95 2 2 3-15 2-19 3 62 2 81 3 73 2 32 3-8 2-2"/>
<path class="b" d="M456 607l3 6 2-11 2 6 3 5 2-13 2 4 3 10 2-10 2 13 3-3 2 3 2-8 3 2 2 9 2-8 3 11 2-4 2-6 3-3 2-1 2 1 2 4 3-4 2-1 2 5 3-9 2 8 2-3 3 11 2-6 2 0 3 6 2-15 2 12 3 2 2-11 2-9 3 3 2 12 2-6 3 10 2 5 2-13 3 13 2-9 2 4 3 12 2-19 2 7 3 17 2-7 2 1 2 2 3-10 2 11 2-3 3 4 2-6 2 3 3-1 2-1 2 7 3-5 2-7 3-60 3-66 2-60 3 3 3 104 2 28 3-79 2-63 3 48 2 104 3-6 2-95 3-26 2 34 3 85 2 6 3-55 2-75 3-1 3 73 2 54 3-9 2-76 3-32 2 34 3 74 2 14 3-46 2-64 3-1 2 12 3 52 2 43 3 14 3 0 2-4 3-15 2-18 3-18 2-20 3-22 2-25 3-26 2-16 3 7 2 6 3 57 2 69 3 5 3-25 2-111 3-61 2 7 3 117 2 89 3 0 2-102 3-99 2 1 3 89 2 112 3 12 2-83 3-106 3 13 2 124 3 54 2-71 3-66 2 38 3 98 2-26 3-93 2-2 3 83 2 22 3-29 2-79 3-29 2 13 3 52 3 51 2 26 3 8 2-9 3-6 2-34 3-43 2-47 3-37 2-8 3-3 2 41 3 67 2 60 3 4 3 3 2-55 3-65 2-44 3 3 2 3 3 46 2 62 3 55 2 13 3-8 2-71 3-86 2-19 3 58 3 117 2 13 3-105 2-54 3 85 2 69 3-60 2-69 3 47 2 85 3-35 2-104 3-8 2 81 3 67 3-3 2-67 3-67 2-6 3 12 2 64 3 64 2 10 3-11 2-73 3-77 2-12 3 6 2 72 3 73 3 31 2-2 3-26 2-42 3-38 2-29 3-16 2-8"/>
<path class="y" d="M455 621l3-17 2 2 2-1 3-6 2 7 2-2 3 7 2 0 2 3 3-8 2 0 2 1 2 6 3 3 2 5 2-5 3 2 2-8 2 4 3 1 2 2 2-4 3 0 2 0 2 0 3-4 2 0 2 13 3 6 2-4 2-4 3-4 2 13 2-8 3-1 2 5 2 2 3-5 2 1 2-2 2 0 3 7 2-2 2 2 3 0 2 1 2-4 3-9 2 4 2 3 3-7 2 7 2 7 3 1 2-2 2-3 3 12 2-13 2 0 3 0 2 3 2 8 3 11 2-17 3-46 3-118 2-32 3 31 2 119 3-6 2-123 3-34 3 68 2 81 3-11 2-157 3-10 2 72 3 116 2-3 3-79 2-112 3 8 2 79 3 114 2-8 3-100 3-115 2 2 3 117 2 100 3 1 2-85 3-100 2 1 3 7 2 42 3 60 2 48 3 31 2 6 3 1 3-2 2-5 3 9 2 3 3-7 2-58 3-82 2-87 3-3 2 0 3 88 2 138 3-3 2-41 3-177 3-31 2 27 3 176 2 47 3-5 2-149 3-52 2 2 3 137 2 73 3 7 2-170 3-54 2 62 3 162 3-6 2-256 3-8 2 204 3 61 2-103 3-142 2 0 3 165 2 86 3 3 2-40 3-102 2-81 3-6 3-3 2-2 3-2 2 31 3 58 2 66 3 64 2 21 3 4 2 1 3-47 2-102 3-81 2-14 3-18 3 52 2 115 3 74 2-4 3-4 2-45 3-109 2-62 3 5 2 7 3 130 2 91 3-4 2-123 3-81 3 33 2 188 3-6 2-218 3 5 2 208 3 18 2-163 3-54 2 84 3 130 2 0 3-112 2-136 3-17 2 13 3 130 3 106 2 1 3-1 2-59 3-113 2-41 3 13 2 14 3 105 2 95 3-5 2 8 3-12 2-81 3-79 3-59 2 5 3-10 2 12"/>
<path class="m" d="M454 606l3 4 2-6 2 4 2-7 3 11 2 8 2-6 3-1 2 5 2 2 3 5 2 0 2-1 3-8 2-2 2-3 3-6 2 23 2-5 3-6 2 4 2 0 3-11 2 7 2 4 3-9 2-1 2-3 3-1 2 13 2-6 2 0 3-7 2 12 2-7 3 3 2 18 2-11 3 3 2 1 2 4 3 1 2-2 2-5 3 1 2-3 2 6 3-3 2-6 2 10 3 1 2-11 2 1 3-8 2 15 2 1 3 10 2-12 2 3 2 6 3 0 2-9 2 11 3-9 3-121 3-99 2-29 3 54 2 134 3 23 2-130 3-121 2 29 3 177 2 48 3-94 3-145 2 2 3 88 2 129 3 23 2-38 3-115 2-67 3 2 2 105 3 110 2 6 3-71 2-117 3-30 3 33 2 100 3 80 2 10 3-1 2-42 3-46 2-42 3-34 2-28 3-21 2-16 3-12 2-12 3-3 3-2 2-5 3-4 2 8 3 51 2 84 3 94 2 24 3-27 2-148 3-151 2-11 3 88 2 172 3 71 3-7 2-129 3-121 2 2 3 60 2 143 3 68 2-27 3-156 2-84 3 56 2 182 3 36 2-148 3-111 3 60 2 167 3 27 2-79 3-123 2-29 3 18 2 77 3 75 2 54 3 6 2 5 3 9 2-2 3-14 3-25 2-33 3-42 2-52 3-58 2-55 3-19 2-1 3 16 2 77 3 94 2 81 3 28 2-4 3-22 3-64 2-71 3-59 2-18 3 5 2 25 3 89 2 100 3 32 2-61 3-162 2-65 3 111 2 167 3-31 3-199 2-30 3 179 2 86 3-91 2-168 3-22 2 120 3 137 2 23 3-36 2-116 3-111 2-52 3 10 3 22 2 86 3 97 2 82 3 22 2 1 3-35 2-80 3-83 2-63 3-6 2 0 3 11 2 40 3 41 3 38 2 31"/>
<path class="g" d="M453 604l2-3 3 9 2 6 2-1 3-3 2-10 2 8 3 3 2-6 2 10 3-3 2 12 2-11 3-2 2-2 2 0 3 4 2 7 2-8 3 5 2-13 2 3 2 10 3 3 2 0 2-2 3-7 2 5 2-6 3 7 2-5 2 4 3-12 2 16 2-6 3 7 2 1 2 13 3-12 2 2 2-10 3 7 2 7 2-14 3 18 2-19 2 3 3 4 2 10 2-2 2-4 3-3 2 4 2-8 3 16 2-11 2 4 3-10 2 13 2 3 3-9 2 1 2-2 3 16 3-145 3-47 2 5 3 101 2 19 3-73 2-62 3 34 2 99 3 5 2-80 3-24 2 18 3 84 3-1 2-44 3-78 2-11 3 78 2 61 3-8 2-104 3-20 2 50 3 92 2 5 3-83 2-49 3-10 3 65 2 67 3-3 2 0 3-21 2-43 3-35 2-25 3-14 2 7 3 8 2 3 3 1 2 1 3 28 2 47 3 49 3-8 2 3 3-85 2-90 3-8 2 51 3 114 2 14 3-13 2-101 3-38 2-1 3 94 2 66 3-4 3-89 2-86 3-3 2 141 3 38 2-78 3-74 2 50 3 106 2-21 3-112 2 13 3 117 2 13 3-81 3-79 2-2 3 56 2 82 3 12 2 5 3-7 2-44 3-42 2-35 3-10 2 2 3-2 2 16 3 52 3 58 2 9 3 7 2-22 3-75 2-66 3 0 2 6 3 28 2 62 3 57 2 20 3-1 2-10 3-54 3-83 2-25 3-5 2 99 3 84 2-12 3-137 2-16 3 113 2 59 3-90 2-55 3 73 2 67 3-59 3-96 2 0 3 128 2 25 3-38 2-105 3-8 2 8 3 76 2 75 3-1 2-13 3-78 2-67 3-15 3 27 2 86 3 42 2 12 3-19 2-71 3-57 2-10 3 12 2 15 3 1 2 24 3 25"/>
<path class="g" d="M452 607l2 9 3-4 2-7 2 8 3-3 2 5 2 8 3-9 2 1 2-9 2-2 3 5 2 14 2-15 3 9 2-5 2-1 3 0 2-1 2-5 3 10 2 6 2 0 3-9 2 7 2 2 3 7 2-7 2 8 3-5 2 2 2-3 3 2 2-3 2-5 3-5 2 6 2 8 3 8 2-12 2 9 2 4 3-8 2-8 2 7 3 2 2 7 2-4 3-6 2 2 2-7 3 7 2-1 2 5 3-10 2-8 2 10 3 5 2 9 2-5 3-1 2-12 2 10 3 3 3-252 2-5 3 47 3 116 2 45 3-29 2-128 3-63 2 10 3 122 2 88 3 6 2-74 3-102 2-18 3 35 2 105 3 59 3 3 2-81 3-87 2 7 3 81 2 75 3 2 2-80 3-93 2-18 3 21 2 63 3 57 2 37 3 16 3 9 2-14 3 6 2 3 3 3 2 5 3 0 2 4 3-2 2-2 3-29 2-50 3-64 2-67 3-40 3-9 2 24 3 78 2 92 3 62 2-6 3-15 2-86 3-94 2-55 3 9 2 45 3 111 2 90 3 8 3-76 2-137 3-19 2 120 3 123 2-51 3-198 2-31 3 145 2 123 3-14 2-140 3-84 2 1 3 43 2 78 3 65 3 43 2 6 3-1 2 0 3-1 2-28 3-37 2-42 3-43 2-38 3-19 2 9 3 4 2 8 3 35 3 40 2 39 3 35 2 28 3 14 2 3 3 4 2 0 3-8 2-18 3-46 2-63 3-70 2-14 3-5 3 111 2 120 3-7 2-176 3-115 2 69 3 214 2 22 3-183 2-110 3 41 2 170 3 68 2 2 3-114 3-114 2-28 3-3 2 84 3 104 2 69 3-1 2-10 3-75 2-69 3-20 2 17 3 26 2 56 3 51 3 37 2 10 3 5 2 5 3-7 2-10 3 1 2 7 3-8"/>
<path class="m" d="M451 620l2-8 2-1 3-1 2-2 2 4 3-1 2-11 2 18 3-5 2 1 2-1 3 4 2-2 2-6 3 11 2-10 2 3 3 11 2-11 2 3 3 7 2 1 2-6 3 5 2-6 2 8 3-2 2-6 2 6 2-4 3-4 2 7 2 7 3 1 2-10 2 5 3-2 2 0 2-2 3 7 2 1 2-1 3-5 2 2 2-2 3 3 2 6 2-12 3 13 2-17 2 7 3 6 2-4 2 0 3 1 2 1 2 2 3 1 2 1 2 6 2-6 3 0 2 2 2 9 4-173 2 7 3 80 2 47 3 0 2-90 3-43 3 0 2 105 3 33 2-11 3-101 2-23 3 14 2 94 3 35 2-24 3-105 2-16 3 50 2 81 3-8 3-169 2-15 3 107 2 90 3-11 2-141 3-21 2 14 3 79 2 72 3 19 2-6 3-1 2 5 3-15 3-29 2-34 3-37 2-38 3-26 2-2 3 10 2 12 3 38 2 71 3 47 2 3 3 2 2-93 3-120 3-31 2-3 3 42 2 128 3 70 2 2 3 1 2-99 3-57 2 1 3 76 2 89 3-5 2-133 3-53 3 98 2 87 3-80 2-118 3 40 2 157 3-1 2-143 3-30 2 29 3 116 2 34 3 0 2-37 3-96 3-78 2-1 3 8 2 11 3 84 2 83 3 32 2 0 3-2 2-34 3-59 2-47 3-11 2-18 3-20 3 40 2 55 3 56 2 35 3 0 2 0 3-8 2 5 3-43 2-85 3-65 2 1 3 26 2 152 3 30 3-58 2-168 3 13 2 192 3 15 2-101 3-36 2 54 3 90 2 3 3-88 2-41 3-8 2 93 3 41 2 2 3-113 3-108 2-7 3 79 2 147 3 6 2-18 3-122 2-37 3 1 2 64 3 95 2 17 3-4 2 5 3-37 3-49 2-37 3-23 2-13 3-7"/>
<path class="y" d="M450 611l2-4 2-4 3 11 2-2 2-3 3 7 2-4 2 3 3-1 2 2 2-1 3 5 2 7 2-11 3-7 2 2 2-4 3 15 2-1 2 1 2-7 3 6 2-6 2-5 3 6 2-4 2 7 3 12 2-10 2-10 3 4 2 12 2-3 3-2 2 0 2 0 3-2 2 2 2-2 3-2 2 0 2 3 3 0 2-2 2 7 3 4 2-6 2 3 2 1 3 6 2-7 2 6 3 6 2-15 2 3 3 5 2 0 2 0 3-3 2 5 2-1 3-10 2 3 2 4 4-221 2 1 3 88 2 89 3 6 2-70 3-97 2 6 3 71 2 92 3-3 3-46 2-94 3-8 2 35 3 95 2 24 3-32 2-95 3-8 2 48 3 78 2-6 3-87 2-42 3 29 3 101 2 9 3-49 2-103 3-28 2 5 3 16 2 53 3 45 2 33 3 23 2 12 3-4 2-2 3-2 3 4 2 6 3-5 2-46 3-64 2-68 3-8 2-10 3 16 2 87 3 89 2 14 3-6 2-29 3-92 3-85 2 5 3 0 2 72 3 114 2 43 3-13 2-118 3-54 2 26 3 134 2 10 3-93 2-57 3 61 3 86 2-29 3-150 2-12 3 95 2 92 3-11 2-54 3-109 2-40 3 0 2-13 3 59 2 71 3 68 3 25 2 0 3 8 2-27 3-73 2-69 3-26 2 15 3 9 2 25 3 52 2 45 3 34 2 13 3-7 3 13 2 5 3-11 2-5 3-44 2-60 3-65 2-6 3 8 2 86 3 105 2-10 3-102 2-88 3 36 3 159 2 0 3-155 2-55 3 82 2 128 3 5 2-116 3-86 2 14 3 81 2 109 3 2 2-20 3-115 3-69 2-11 3 64 2 127 3 29 2-3 3-106 2-98 3 5 2 11 3 42 2 62 3 47 2 28 3-3 3 9 2-6 3 4"/>
<path class="g" d="M449 608l2 6 2-15 3 12 2 3 2 2 3-2 2 4 2-15 2 22 3-9 2 3 2-6 3 6 2 0 2-1 3-6 2 1 2 3 3 1 2 6 2 0 3 9 2 0 2-7 3 6 2-7 2 0 3-1 2-10 2 12 3-3 2-4 2-1 3-2 2 1 2 11 3-5 2 10 2-13 2 0 3 5 2-1 2 4 3 8 2-7 2 0 3-4 2 7 2-3 3 4 2-3 2-10 3 6 2 6 2-3 3 1 2 2 2-9 3 1 2 11 2-1 3-6 2 14 2 4 4-265 2-12 3 31 2 107 3 34 2-40 3-104 2-1 3 58 2 91 3 8 2-77 3-68 3-1 2 73 3 72 2 7 3-69 2-67 3 14 2 99 3 32 2-49 3-95 2-9 3 95 2 38 3-19 3-116 2-47 3-1 2 53 3 70 2 51 3 15 2-5 3-3 2 4 3-3 2-2 3-21 2-29 3-37 2-43 3-35 3-2 2 3 3 32 2 69 3 60 2-3 3-16 2-88 3-91 2-26 3-5 2 77 3 97 2 29 3 0 3-84 2-108 3 8 2 68 3 130 2 7 3-115 2-50 3 83 2 94 3-48 2-109 3 16 2 139 3 8 3-80 2-69 3 1 2 61 3 77 2 21 3-11 2-5 3-53 2-60 3-55 2-11 3-1 2-7 3 54 3 70 2 62 3 12 2 2 3-21 2-57 3-58 2-47 3-9 2-2 3-10 2 13 3 37 2 46 3 53 3 35 2 1 3-3 2-61 3-109 2-32 3 36 2 148 3 31 2-111 3-100 2 63 3 153 2-20 3-151 3-4 2 117 3 69 2-7 3-92 2-29 3 14 2 77 3 54 2-5 3-42 2-87 3-34 2-4 3 78 3 76 2 0 3-27 2-90 3-64 2-7 3 0 2 47 3 51 2 42 3 30 2 4 3-1 2 6"/>
<path class="g" d="M447 617l3-3 2-1 2 3 3-6 2 14 2-4 3-6 2-5 2 2 3 7 2-4 2 22 3-8 2-5 2-5 3 3 2-3 2 8 3-11 2 2 2-4 3 1 2 3 2-2 3 7 2-6 2-3 2-2 3 14 2 1 2-2 3-2 2-2 2 9 3 5 2-4 2-8 3 12 2-5 2-4 3-6 2 0 2 4 3-1 2 3 2 16 3-8 2 6 2-14 3 0 2 5 2-8 3-4 2 11 2 11 3 1 2-12 2 0 2 1 3 8 2 0 2-8 3-3 2 9 3-227 3-93 3 3 2 71 3 140 2 6 3-74 2-76 3 23 2 112 3 40 2-8 3-93 2-39 3 14 2 95 3 33 3-26 2-104 3-20 2 48 3 106 2 15 3-57 2-69 3-9 2 87 3 29 2-29 3-152 2-88 3-8 3 57 2 97 3 77 2 32 3 2 2 8 3 8 2 4 3 0 2-8 3-24 2-44 3-65 2-78 3-56 3-3 2 3 3 102 2 119 3 41 2 8 3-45 2-81 3-33 2-9 3 34 2 86 3 37 2-2 3-82 3-130 2-7 3 71 2 150 3 15 2-76 3-61 2 49 3 105 2-31 3-167 2-42 3 142 2 54 3-81 3-194 2-24 3 47 2 141 3 108 2 21 3-5 2-6 3-50 2-62 3-65 2-60 3-4 2-4 3 18 2 85 3 94 3 71 2 3 3 12 2-5 3-27 2-28 3-31 2-26 3-25 2-33 3-24 2 25 3 59 2 76 3 29 3-9 2-82 3-132 2-3 3 85 2 156 3-12 2-194 3-63 2 156 3 97 2-131 3-169 2 32 3 217 3 55 2-58 3-116 2-4 3 40 2 95 3 65 2 1 3-39 2-111 3-86 2-22 3 46 2 121 3 61 3 10 2-39 3-64 2-37 3 15 2 5 3-3 2-4 3 2 2-1"/>
<path class="b" d="M446 598l3 14 2 1 2-1 3-11 2 12 2-3 3 8 2-4 2-9 3 18 2-15 2-3 3 9 2-8 2 10 3 2 2 1 2 4 2-5 3 7 2-5 2 3 3-4 2-3 2 10 3 3 2-8 2-2 3-4 2 8 2-4 3-2 2 15 2-12 3-1 2 4 2 0 3-2 2-4 2 18 3-2 2-4 2 1 3-6 2-4 2 8 2-5 3 5 2 5 2-4 3 10 2-4 2 2 3-7 2-6 2 4 3-4 2 4 2 8 3-7 2 13 2-4 3-5 2-5 3-51 3-49 2-51 3-7 2 53 3 62 3-9 2-84 3-60 2 35 3 86 2 35 3-34 2-70 3-19 2 24 3 67 2 35 3-19 2-70 3-32 3 12 2 77 3 28 2-35 3-77 2-23 3 51 2 67 3 24 2-30 3-58 2-53 3-32 2-6 3-8 3 6 2 12 3 15 2 16 3 19 2 21 3 23 2 25 3 25 2 22 3 7 2-1 3-17 2-42 3-49 3-22 2 4 3 47 2 56 3 22 2-12 3-60 2-72 3-44 2 10 3 69 2 84 3 18 2-72 3-119 3-21 2 121 3 99 2-56 3-116 2 27 3 124 2 35 3-72 2-64 3 20 2 67 3 50 2-5 3-19 3-46 2-43 3-32 2-11 3-8 2 5 3 17 2 27 3 33 2 35 3 30 2 10 3 0 2-29 3-45 3-48 2-36 3-15 2 5 3 21 2 29 3 33 2 32 3 29 2 23 3 1 2 0 3-29 2-63 3-65 3-14 2 66 3 93 2-3 3-109 2-57 3 91 2 94 3-47 2-103 3 2 2 95 3 51 2-23 3-78 3-36 2 11 3 60 2 59 3 28 2-9 3-39 2-47 3-32 2 1 3 26 2 50 3 38 2 9 3-33 2-58 3-60 3-43 2-17 3 4 2-1 3 15 2 15"/>
<path class="b" d="M445 618l3 7 2-8 2-15 3 12 2-3 2 10 3 1 2-4 2-9 2 7 3 3 2-7 2-2 3 12 2-8 2 0 3 6 2 5 2-5 3 0 2-4 2 1 3 11 2 0 2-1 3-3 2 7 2-7 3 3 2 1 2-7 3 0 2 4 2 4 3-9 2 4 2-9 2 10 3 4 2-3 2 7 3-6 2-6 2 10 3-9 2 5 2-2 3 2 2 4 2 8 3-11 2 5 2-2 3 3 2 7 2-13 3 8 2 1 2 6 3-7 2-3 2 0 3-8 2 12 3-37 3-93 2-119 3-9 2 35 3 154 2 45 3-33 2-165 3-47 3 7 2 154 3 78 2-2 3-103 2-151 3-3 2 49 3 176 2 34 3-37 2-201 3-37 2 72 3 201 3 10 2-87 3-175 2-3 3 12 2 129 3 109 2 10 3 4 2-3 3 0 2-2 3-12 2-11 3-10 3-12 2-16 3-25 2-34 3-44 2-48 3-9 2-6 3-1 2 53 3 97 2 78 3 1 2-6 3-59 3-105 2-74 3 1 2-4 3 66 2 123 3 55 2-4 3-101 2-192 3-6 2 113 3 187 2 4 3-259 3-51 2 152 3 169 2-41 3-250 2-41 3 63 2 201 3 65 2-1 3-36 2-111 3-96 2-65 3 10 3 7 2 20 3 3 2 40 3 71 2 77 3 71 2 28 3 1 2-8 3 1 2-58 3-59 2-52 3-39 3-11 2 10 3 0 2-4 3-7 2-7 3 44 2 74 3 92 2 30 3-12 2-97 3-188 2-7 3 117 3 176 2-1 3-254 2-63 3 145 2 170 3-5 2-232 3-89 2-11 3 199 2 140 3 1 2-42 3-159 3-109 2 17 3 7 2 137 3 138 2 17 3 1 2-98 3-127 2-50 3 2 2 13 3 45 2 66 3 52 3 37 2 23 3 14 2 8"/>
<path class="y" d="M444 606l2-3 3 9 2 13 2-3 3-5 2-7 2 9 3 0 2-2 2-3 3 4 2 2 2 6 3-1 2-3 2 2 3-8 2 10 2-10 3 5 2-3 2 11 3-13 2 3 2-1 3 5 2-2 2-2 2 11 3-5 2 12 2 1 3-7 2-2 2 1 3-9 2 10 2-9 3-4 2 18 2-4 3 1 2 6 2-17 3 17 2-5 2 1 3-2 2-7 2-7 3 15 2 10 2-8 3-1 2 5 2-9 2 7 3 2 2-8 2 1 3-6 2 14 2 3 3-7 3-101 3-56 2-64 3 0 2 82 3 46 2-20 3-89 2-24 3 48 2 82 3 2 3-62 2-81 3-4 2 60 3 86 2 3 3-39 2-70 3 5 2 65 3 58 2-4 3-70 2-38 3-5 3 60 2 55 3 0 2-10 3-40 2-39 3-30 2-23 3-15 2-13 3-4 2-15 3-17 2-6 3-9 3 2 2 40 3 61 2 64 3 16 2 6 3-60 2-78 3-30 2 2 3 68 2 82 3 19 2 1 3-73 2-78 3-13 3 26 2 92 3 55 2-4 3-87 2-52 3 45 2 104 3-1 2-113 3-35 2 83 3 64 2-46 3-106 3-7 2 71 3 81 2 14 3-5 2-42 3-42 2-34 3-14 2-1 3-12 2-11 3 20 2 33 3 42 3 41 2 13 3 2 2-19 3-55 2-63 3-52 2-13 3-1 2 8 3 41 2 51 3 52 2 45 3 18 3-2 2-13 3-57 2-63 3-9 2 28 3 97 2 42 3-36 2-103 3 0 2 110 3 19 2-103 3-63 3 64 2 97 3-4 2-101 3-45 2-1 3 78 2 72 3 0 2-13 3-71 2-69 3-13 2 6 3 63 3 75 2 22 3-1 2-36 3-57 2-38 3-5 2-2 3 11 2 22 3 20 2 17 3 14 2 13 3 13"/>
<path class="b" d="M443 619l2-9 3-11 2 18 2 4 3 11 2-14 2 0 3-2 2 0 2 12 3-11 2-1 2 12 3-12 2 3 2-11 2 12 3 10 2-2 2-13 3 0 2 11 2-6 3 4 2 6 2-6 3-1 2 3 2-3 3 4 2 6 2-11 3 9 2-7 2 10 3-6 2 1 2 3 3 4 2-7 2-7 3 3 2-2 2 1 3 2 2 1 2 2 2 3 3 11 2-10 2-13 3 5 2 6 2-1 3 7 2-8 2 7 3 0 2 3 2-3 3-5 2 8 2 6 3-6 3-61 3-98 2-37 3 40 2 106 3 20 2-30 3-81 2-5 3 34 2 77 3 11 2-47 3-109 2-24 3 55 3 116 2 1 3-112 2-65 3 46 2 140 3 0 2-121 3-50 2 47 3 118 2 11 3-50 2-110 3-67 3 6 2 7 3 43 2 49 3 41 2 32 3 25 2 19 3 5 2-3 3 2 2 1 3-43 2-65 3-69 3-11 2 2 3 57 2 90 3 53 2-5 3-20 2-78 3-81 2-28 3-7 2 73 3 107 2 41 3-27 3-156 2-82 3 44 2 188 3 28 2-149 3-57 2 118 3 87 2-83 3-114 2 31 3 154 2 7 3-95 3-121 2 10 3 36 2 96 3 71 2 7 3 9 2-25 3-48 2-53 3-43 2-7 3-16 2 48 3 73 2 63 3 2 3 0 2-26 3-57 2-51 3-38 2-7 3-3 2-4 3-15 2 20 3 48 2 70 3 74 2 9 3-9 3-121 2-118 3 18 2 129 3 90 2-33 3-138 2 2 3 140 2 22 3-103 2-78 3 35 2 140 3 17 3-72 2-101 3 11 2 48 3 91 2 26 3-19 2-93 3-69 2-3 3 71 2 100 3 8 2-59 3-119 3-47 2 8 3 29 2 72 3 60 2 42 3 22 2-3 3 9 2 4 3-4"/>
<path class="c" d="M442 618l2 3 3-12 2 14 2 16 3-18 2-11 2-1 2 10 3-6 2 2 2 9 3-3 2-4 2 0 3 5 2-2 2 8 3-9 2 2 2 9 3-8 2 1 2-3 3-2 2 9 2-15 3 5 2 4 2 3 3 0 2-6 2 2 3 4 2-4 2 11 2-5 3 3 2 2 2 1 3 2 2-7 2 3 3 10 2-3 2-20 3 15 2 2 2-8 3 2 2 11 2-15 3 0 2 11 2 11 3-13 2-6 2 14 3-10 2 6 2 1 3-7 2 8 2-4 3 7 3-72 2-79 3-104 2-38 3 79 3 116 2 19 3-107 2-123 3-13 2 104 3 119 2 20 3-81 2-110 3-27 2 80 3 119 2 29 3-90 3-112 2 10 3 123 2 66 3-58 2-125 3-39 2 70 3 101 2 54 3-9 2-50 3-59 2-51 3-37 3-25 2-17 3-6 2-2 3 2 2 6 3 14 2 31 3 48 2 60 3 60 2 41 3 5 2-40 3-74 3-79 2-39 3-8 2 55 3 85 2 71 3 17 2-50 3-103 2-107 3-33 2 66 3 146 2 80 3-88 3-180 2-17 3 190 2 92 3-145 2-138 3 102 2 176 3-3 2-141 3-86 2 28 3 102 2 91 3 23 3 1 2-51 3-67 2-68 3-57 2-35 3 4 2 15 3 57 2 75 3 75 2 53 3 5 2-8 3-49 3-60 2-56 3-42 2-23 3-4 2 8 3 21 2 32 3 40 2 49 3 52 2 42 3 1 2-47 3-112 3-99 2 16 3 149 2 82 3-110 2-182 3 46 2 204 3 40 2-171 3-113 2 74 3 165 2 59 3-63 3-130 2-68 3 13 2 102 3 112 2 42 3-30 2-99 3-91 2-11 3 49 2 99 3 79 2 15 3-37 2-73 3-73 3-56 2-33 3-12 2 6 3 0 2 11 3 13"/>
<path class="g" d="M441 620l2-3 2 1 3-5 2 0 2 16 3-8 2 5 2-4 3-6 2-3 2 1 3 2 2 0 2 8 3-5 2 4 2 3 3 1 2-4 2-1 3 0 2 8 2-12 3-5 2 16 2-8 2 10 3-8 2 3 2-6 3 11 2-3 2-9 3-1 2 6 2 10 3-4 2-9 2 14 3-14 2 8 2-4 3 10 2 6 2-7 3-9 2 3 2 0 3 2 2-3 2 7 3-2 2 0 2 9 2-8 3 5 2-6 2 3 3 6 2-5 2 3 3 3 2-10 2 9 4-90 2-72 3-40 2 24 3 86 2 37 3-36 2-69 3 0 3 34 2 61 3 16 2-24 3-61 2-37 3-4 2 62 3 48 2-19 3-96 2-55 3 43 2 101 3 31 3-39 2-64 3-11 2 32 3 54 2 36 3 4 2-22 3-35 2-33 3-23 2-12 3-3 2 2 3 5 3 3 2 0 3 8 2-10 3-17 2-1 3 24 2 47 3 51 2 18 3-19 2-67 3-74 2-39 3 17 3 53 2 71 3 56 2 14 3-21 2-68 3-79 2-25 3 44 2 103 3 26 2-73 3-92 2 41 3 115 3 22 2-79 3-42 2 41 3 73 2 2 3-79 2-93 3-30 2 12 3 59 2 62 3 46 2 15 3-1 3 7 2-8 3-24 2-32 3-40 2-42 3-27 2-14 3 6 2 40 3 54 2 51 3 33 2 3 3 10 3-3 2-16 3-22 2-28 3-36 2-41 3-38 2-7 3 18 2 76 3 84 2 10 3-62 2-79 3 22 3 101 2 44 3-52 2-54 3 9 2 75 3 16 2-79 3-99 2-10 3 67 2 90 3 30 2-20 3-64 3-60 2-14 3 11 2 57 3 64 2 24 3-9 2-76 3-92 2-55 3 5 2 19 3 58 2 55 3 41 3 28 2 16 3 10 2 4 3 3"/>
<path class="k" d="M440 616l2-9 2 4 3-2 2 12 2 2 3 0 2 0 2 3 3 4 2-6 2-4 3 1 2-1 2-5 3 13 2 4 2-2 2-3 3-4 2-8 2 6 3 5 2-12 2 6 3 3 2 1 2 11 3-5 2-10 2 8 3-1 2 0 2-4 3 11 2-4 2-8 3 11 2-5 2 3 3 5 2-8 2 3 3-2 2-3 2 4 2 7 3 4 2 1 2-7 3 4 2-5 2-1 3 8 2-12 2 2 3 5 2 5 2 0 3 0 2-6 2 0 3 0 2-6 2 12 4-209 2-2 3 32 2 88 3 10 2-38 3-70 2 5 3 40 2 70 3-6 3-51 2-112 3-27 2-1 3 113 2 45 3 2 2-94 3-68 2 15 3 90 2 74 3 6 2-74 3-77 3-11 2 14 3 71 2 53 3 8 2 0 3 1 2-3 3 7 2 2 3 8 2 0 3-3 2-9 3-18 3-29 2-42 3-51 2-25 3-3 2-6 3 40 2 85 3 56 2 4 3-2 2-53 3-62 2-14 3-15 2 32 3 73 3 33 2-7 3-63 2-127 3-11 2 45 3 155 2 16 3-84 2-86 3 14 2 152 3 16 2-131 3-94 3-17 2 132 3 73 2 7 3-17 2-67 3-46 2-19 3 29 2 14 3 11 2-3 3-7 2 6 3 25 3 35 2 42 3 21 2-6 3 11 2 1 3-42 2-44 3-37 2-26 3-1 2-4 3-9 2-13 3 0 3 34 2 54 3 62 2 8 3 2 2-34 3-91 2 3 3 34 2 117 3 9 2-83 3-68 2 17 3 110 3 1 2-136 3-69 2 4 3 136 2 64 3 0 2-51 3-83 2-20 3 1 2-4 3 68 2 74 3 14 3 2 2-34 3-94 2-81 3 3 2 27 3 15 2 64 3 55 2 38 3 23 2 12 3-1 2-13 3-10 3 1"/>
<path class="m" d="M439 615l2 0 2 3 3-2 2 1 2-4 2 10 3-3 2 6 2-2 3-1 2 6 2-2 3-7 2 6 2-7 3-1 2 1 2 10 3-9 2-2 2 6 3-3 2 3 2-15 3 17 2-5 2-4 3-1 2 11 2-2 3-3 2-4 2-1 3 8 2 4 2 4 2-5 3 9 2-5 2-4 3-2 2-1 2 11 3 2 2 1 2-11 3 7 2 4 2 5 3-7 2-4 2-7 3 16 2-7 2-4 3 6 2-3 2-5 3 9 2 6 2 1 3 2 2-14 2 9 4-162 2-39 3 1 2 92 3 63 2-40 3-145 2-45 3 65 2 143 3 10 2-102 3-136 2-6 3 81 3 136 2 38 3-47 2-141 3-67 2 28 3 152 2 71 3-28 2-153 3-69 2 27 3 127 2 100 3 2 3-18 2-67 3-68 2-57 3-43 2-30 3-14 2-8 3-3 2-2 3 3 2 9 3 15 2 7 3 58 3 79 2 88 3 56 2 5 3-33 2-110 3-106 2-16 3 34 2 119 3 108 2-5 3-26 2-119 3-106 3-12 2 73 3 145 2 56 3-67 2-208 3-55 2 153 3 165 2-60 3-243 2-17 3 215 2 120 3-55 3-164 2-57 3 9 2 93 3 94 2 65 3 5 2-2 3 5 2-19 3-39 2-46 3-53 2-56 3-53 3-18 2-15 3-5 2 52 3 82 2 92 3 76 2 16 3-8 2 3 3-56 2-64 3-61 2-48 3-19 2 15 3 10 3 74 2 99 3 60 2 1 3-135 2-133 3 27 2 189 3 44 2-155 3-114 2 87 3 178 2-7 3-186 3-88 2 28 3 158 2 94 3 4 2-94 3-136 2-94 3 3 2 30 3 112 2 116 3 72 2-7 3-38 3-95 2-97 3-48 2-9 3-2 2 51 3 59 2 54 3 44 2 33 3 25 2 20"/>
<path class="g" d="M437 613l3 12 2-11 2 5 3 3 2 1 2-7 3 5 2 6 2-9 3 10 2-12 2 4 3 8 2-9 2 2 3-6 2 3 2 4 3 2 2 4 2 1 3-1 2 7 2-2 2 1 3-1 2 11 2-14 3-6 2-7 2 11 3 2 2 9 2-5 3-14 2 17 2-6 3-1 2 7 2-8 3 0 2 1 2 1 3-3 2 1 2-2 3 11 2-11 2 7 3 5 2-3 2 4 3-7 2 2 2 0 2 5 3-4 2 1 2 0 3-2 2 7 2-5 3-4 2 1 3-213 3-15 2 23 3 115 3 25 2-36 3-107 2 0 3 86 2 66 3-7 2-101 3-47 2-7 3 99 2 48 3-4 2-88 3-76 3 5 2 74 3 91 2 6 3-113 2-65 3-12 2 107 3 69 2 2 3-43 2-92 3-58 2-5 3 1 3-8 2-2 3 13 2 12 3 11 2 12 3 15 2 23 3 32 2 40 3 20 2 1 3-4 2-31 3-99 3-70 2 6 3 34 2 118 3 70 2 3 3-31 2-104 3-44 2 3 3 55 2 108 3 16 2 2 3-120 3-44 2 15 3 139 2 10 3-106 2-84 3 52 2 130 3-6 2-163 3-45 2 40 3 145 2 29 3-6 3-63 2-87 3-57 2 1 3 1 2 2 3 1 2 21 3 44 2 52 3 55 2 42 3 2 2-5 3-3 3-66 2-77 3-67 2-7 3-3 2 6 3 30 2 63 3 67 2 62 3 13 2 3 3 2 2-76 3-104 3-21 2 9 3 124 2 73 3-18 2-146 3 3 2 112 3 39 2-73 3-94 2 19 3 141 2 3 3-67 3-121 2-9 3 25 2 108 3 73 2-5 3-10 2-97 3-102 2-12 3-7 2 50 3 108 2 65 3 5 3 0 2-66 3-72 2-54 3-9 2-6 3 0 2 13 3-6 2 1"/>
<path class="r" d="M436 622l3 7 2-18 2 8 3-3 2 3 2 5 3 6 2-17 2-2 3 5 2 15 2 2 3-4 2 0 2-9 2-5 3 7 2-9 2 7 3-4 2 0 2 5 3 0 2 4 2 4 3-1 2 1 2 2 3-7 2-4 2 8 3 1 2-7 2 11 3-9 2-2 2 10 3 3 2 1 2-6 3-3 2 6 2-3 2 15 3-7 2 0 2 9 3-8 2-5 2-3 3 10 2-13 2 0 3 14 2-3 2-5 3-15 2 18 2 7 3-12 2 5 2 9 3-4 2-7 3-169 3-57 2 0 3 51 2 100 3 4 3-66 2-103 3-5 2 75 3 93 2-8 3-70 2-111 3 2 2 39 3 121 2 44 3 5 2-78 3-60 2 5 3 65 3 76 2-8 3-54 2-97 3-7 2 1 3 67 2 66 3 7 2 2 3-1 2-4 3-5 2 3 3-6 3-8 2-9 3-13 2-19 3-28 2-38 3-47 2-45 3-1 2 23 3 16 2 74 3 84 2 22 3 11 3-41 2-91 3-62 2-16 3 4 2 94 3 93 2 2 3-1 2-121 3-80 2 12 3 110 2 83 3 0 3-186 2-43 3 111 2 121 3-14 2-176 3-22 2 45 3 136 2 48 3 4 2-5 3-47 2-45 3-38 3-24 2-13 3-20 2-9 3-16 2-9 3 14 2 48 3 60 2 60 3 22 2 16 3-13 2 8 3-35 3-56 2-58 3-52 2-13 3-7 2 0 3 6 2 16 3 71 2 84 3 58 2-6 3-12 2-123 3-46 3 9 2 162 3 4 2-138 3-103 2 47 3 184 2 6 3-132 2-78 3 13 2 112 3 103 2-8 3 4 3-70 2-76 3-19 2 5 3 2 2 72 3 75 2 25 3 7 2-1 3-52 2-55 3-34 2-11 3-19 3-22 2-18 3-12 2-1 3 1 2 3"/>
<path class="b" d="M435 626l3-6 2 1 2-7 2 8 3-4 2-1 2 13 3-4 2-18 2 17 3 2 2 2 2 2 3-9 2 1 2 3 3 5 2-1 2-7 3-4 2 11 2-4 3-4 2-2 2 4 3-1 2 3 2 2 3 6 2-9 2-1 3 7 2 4 2-4 2-6 3 10 2-13 2 4 3-4 2 12 2 8 3-13 2-5 2 7 3 3 2 17 2-16 3-4 2 2 2 3 3 1 2-10 2 6 3 11 2-17 2 15 3-10 2 16 2 0 3-9 2 5 2 4 2-15 3 14 3-126 3-62 2-2 3 95 2 64 3-42 2-96 3-5 2 73 3 59 3 1 2-72 3-46 2 2 3 73 2 59 3-7 2-90 3-77 2 5 3 96 2 71 3-7 2-86 3-52 3 11 2 72 3 48 2 0 3-48 2-74 3-61 2-22 3 0 2-2 3 9 2 22 3 22 2 21 3 20 3 20 2 22 3 26 2 31 3 15 2 8 3-7 2-63 3-75 2-31 3 15 2 72 3 70 2 20 3-23 3-62 2-53 3-7 2 17 3 75 2 45 3-12 2-110 3-86 2 31 3 143 2 46 3-80 2-88 3 42 2 130 3 3 3-125 2-65 3 49 2 113 3 23 2-25 3-85 2-67 3-27 2 19 3 20 2 18 3 32 2 32 3 32 3 31 2 29 3 2 2 10 3-21 2-53 3-64 2-51 3-9 2 17 3 26 2 49 3 45 2 35 3 20 3 0 2-4 3-36 2-60 3-73 2-45 3 4 2 89 3 105 2 14 3-100 2-74 3 54 2 125 3-14 3-137 2-32 3 124 2 63 3-62 2-131 3-8 2 70 3 102 2 31 3-8 2-52 3-52 2-28 3-5 3 29 2 51 3 53 2 10 3-12 2-67 3-76 2-44 3 6 2 13 3 44 2 45 3 37 2 26 3 17 3 12 2 9"/>
<path class="g" d="M434 617l2-6 3 5 2-5 2 9 3 1 2 8 2 0 3-7 2-3 2 2 3-3 2-8 2 18 3-14 2 8 2-1 3 0 2-1 2 9 3-11 2 4 2 8 2-12 3 15 2-9 2 4 3-6 2 3 2 11 3-5 2-2 2-5 3 4 2 9 2-11 3 12 2-9 2 0 3 2 2 5 2-6 3-8 2 9 2 9 3 0 2 0 2-3 3 7 2-3 2-4 3 0 2 6 2-5 2-7 3 6 2 3 2-12 3 7 2 8 2-3 3-3 2 1 2-12 3 13 3-97 3-52 2-16 3 32 2 58 3-1 2-70 3-44 2 36 3 72 2 18 3-45 2-58 3-2 3 40 2 60 3 10 2-26 3-66 2-32 3 25 2 68 3 23 2-27 3-74 2-34 3 26 2 62 3 47 3 4 2-11 3-30 2-28 3-23 2-17 3-11 2-7 3-3 2-2 3 6 2-1 3 5 2 13 3 21 3 31 2 36 3 30 2 8 3-25 2-51 3-49 2-4 3 26 2 55 3 35 2-11 3-52 2-53 3-16 3 29 2 63 3 42 2-13 3-74 2-59 3 28 2 92 3 12 2-91 3-63 2 56 3 98 2-13 3-95 3-43 2 24 3 72 2 52 3 9 2-19 3-33 2-34 3-27 2-19 3-9 2 0 3 6 2 16 3 24 3 32 2 34 3 33 2 26 3 10 2-8 3-19 2-31 3-33 2-24 3 0 2-3 3 9 2 25 3 30 2 29 3 13 3-5 2-37 3-66 2-42 3 9 2 87 3 51 2-72 3-107 2 33 3 123 2 8 3-111 2-43 3 82 3 78 2-5 3-77 2-64 3-6 2 44 3 60 2 44 3 4 2-13 3-41 2-43 3-24 2 3 3 31 3 45 2 43 3 24 2 1 3-19 2-29 3-28 2-22 3-14 2-6 3-1 2 5 3 3"/>
<path class="k" d="M433 609l2 2 3 5 2 13 2-12 3-1 2 11 2-8 3-2 2 18 2-15 3 8 2 1 2-9 2-1 3 4 2 8 2-10 3 6 2-4 2 3 3 1 2 0 2-8 3 6 2-2 2 15 3-11 2-6 2-1 3 9 2-4 2-5 3 11 2 3 2-5 3 12 2 1 2-2 3-5 2-10 2 12 2 3 3 7 2-17 2-1 3 2 2 5 2 7 3-5 2-8 2 6 3 0 2 5 2 5 3-14 2 3 2-1 3 10 2-1 2 0 3-1 2-2 2 6 3-7 3-57 2-75 3-28 3 33 2 83 3 21 2-58 3-72 2 10 3 79 2 38 3-21 2-95 3-41 2 12 3 94 2 65 3-10 3-94 2-83 3 0 2 96 3 90 2 1 3-93 2-97 3-3 2 68 3 93 2 30 3 4 2-19 3-41 3-34 2-23 3-16 2-12 3-9 2-11 3-12 2-13 3-8 2-8 3 3 2 13 3 55 2 73 3 61 3 2 2-32 3-83 2-66 3 0 2 48 3 85 2 45 3-2 2-75 3-92 2-24 3 20 2 103 3 78 3-13 2-113 3-73 2 41 3 140 2 18 3-148 2-91 3 92 2 155 3-15 2-150 3-84 2 12 3 103 3 95 2 46 3-6 2 4 3-25 2-28 3-29 2-29 3-29 2-27 3-16 2-1 3 2 2 20 3 46 3 53 2 47 3 6 2 15 3-21 2-49 3-62 2-61 3-43 2-10 3-12 2 36 3 73 2 87 3 60 3 1 2-74 3-107 2-18 3 77 2 122 3-21 2-143 3-29 2 125 3 69 2-83 3-123 2 23 3 122 3 66 2-16 3-88 2-79 3-15 2 12 3 65 2 74 3 40 2 6 3-26 2-75 3-74 2-28 3 1 3 46 2 65 3 57 2 37 3-5 2-3 3 2 2-11 3-19 2-21 3-21"/>
<path class="m" d="M432 621l2 2 3-1 2-6 2 4 2 4 3-1 2 6 2 3 3-20 2 8 2 4 3-1 2 2 2 2 3 7 2-6 2-10 3 2 2 0 2-3 3 15 2 4 2-6 3 3 2-2 2-7 3 9 2-2 2 6 3-8 2-7 2 12 2-7 3-2 2 7 2-6 3-2 2 6 2 1 3 0 2 8 2-4 3-10 2-1 2 9 3-7 2 16 2-9 3-4 2 7 2-2 3 5 2 3 2 4 3 10 2-11 2-5 3-5 2 14 2-6 2 0 3-4 2 0 2-3 4-71 2-62 3-20 2 20 3 74 3 22 2-23 3-81 2-23 3 42 2 76 3 12 2-32 3-81 2-29 3 5 2 78 3 53 2 0 3-81 2-84 3 1 3 83 2 85 3-3 2-89 3-74 2-10 3 42 2 75 3 44 2 2 3 5 2-5 3-19 2-17 3-12 3-8 2-7 3-7 2-12 3-17 2-23 3-28 2-26 3 2 2-9 3 37 2 67 3 68 2 13 3 3 3-50 2-69 3-34 2-3 3 34 2 71 3 49 2-1 3-15 2-85 3-61 2 4 3 98 2 72 3-15 3-127 2-29 3 91 2 94 3-44 2-132 3-20 2 91 3 94 2 3 3-40 2-81 3-60 2-9 3 3 3-2 2 25 3 31 2 34 3 35 2 35 3 33 2 6 3-3 2 5 3-38 2-59 3-63 2-54 3-14 3 2 2 4 3 18 2 41 3 45 2 45 3 42 2 30 3-4 2 4 3-30 2-69 3-66 2 7 3 52 3 100 2 21 3-90 2-60 3 34 2 106 3-1 2-104 3-44 2 41 3 94 2 1 3-26 2-86 3-49 3-4 2 39 3 70 2 59 3 0 2-1 3-67 2-83 3-36 2-13 3 15 2 72 3 73 2 36 3 2 3-2 2 4 3-21 2-20 3-16 2-11 3-9"/>
<path class="b" d="M431 631l2-3 2-6 3 1 2-3 2 4 3 6 2-2 2-1 3-7 2 1 2 6 3-4 2-9 2 10 3 5 2-6 2 6 3-2 2-3 2 8 3-9 2 1 2 0 2-3 3 8 2 16 2-13 3 0 2 2 2 3 3-1 2 6 2-5 3-7 2 6 2 0 3 6 2-13 2 3 3 11 2-15 2 5 3 0 2 3 2 2 3-5 2 1 2 10 3-13 2 5 2 10 2-13 3-7 2 8 2 6 3 3 2-3 2 6 3-5 2-2 2-6 3 9 2-3 2 9 4-92 2-56 3-16 2 19 3 69 2 48 3-25 2-83 3-58 3 15 2 81 3 61 2-5 3-71 2-82 3-13 2 30 3 86 2 57 3 4 2-66 3-74 2-15 3 54 3 80 2 17 3-21 2-74 3-54 2-1 3 8 2 34 3 30 2 22 3 14 2 6 3 0 2-2 3-3 3-3 2 1 3 6 2 12 3 17 2 9 3 3 2-4 3-36 2-53 3-52 2-12 3 0 2 32 3 60 3 54 2 11 3-10 2-58 3-71 2-48 3 11 2 45 3 85 2 46 3-13 2-95 3-69 2 29 3 118 2 39 3-107 3-108 2 22 3 128 2 62 3-23 2-82 3-60 2 7 3 8 2 18 3 30 2 26 3 21 2 19 3 16 3 16 2 10 3 2 2 2 3-3 2-17 3-32 2-39 3-40 2-35 3-20 2-8 3-3 2 1 3 17 3 28 2 33 3 38 2 39 3 35 2 8 3 6 2-27 3-62 2-62 3 1 2 45 3 93 2 6 3-103 3-83 2 43 3 130 2 19 3-108 2-83 3 9 2 90 3 82 2 12 3-24 2-67 3-68 2-28 3-10 3 21 2 60 3 66 2 41 3 3 2-2 3-41 2-45 3-35 2-14 3-10 2 2 3-6 2 3 3 2 3 0 2-1 3 0"/>
<path class="g" d="M430 618l2-1 2 4 3-1 2-5 2 6 3 5 2 6 2 9 3-20 2-5 2-1 2 16 3 3 2-11 2 2 3-9 2 15 2-11 3 12 2-13 2 7 3 1 2 2 2 6 3-2 2-3 2 4 3 2 2 4 2-4 3-5 2-7 2 4 3 10 2-7 2 7 3-2 2 4 2-5 3-3 2-2 2 7 2 6 3 5 2-17 2 5 3-14 2 18 2 6 3-11 2 4 2 3 3-11 2 13 2 1 3-5 2 2 2 3 3 2 2-9 2-12 3 17 2 6 2-14 4-133 2-26 3 1 2 39 3 65 2 3 3-38 2-80 3-5 2 22 3 82 2 11 3-7 3-91 2-50 3-4 2 72 3 82 2 2 3-71 2-95 3 0 2 103 3 60 2 2 3-119 2-42 3 13 3 102 2 51 3 0 2-3 3-52 2-48 3-33 2-19 3 3 2 1 3 2 2 8 3 12 2-5 3-2 3 5 2-2 3 35 2 48 3 49 2 14 3 3 2-9 3-53 2-58 3-20 2-4 3-2 2 49 3 61 3 19 2-6 3-20 2-102 3-55 2-11 3 91 2 88 3 6 2-135 3-36 2 72 3 91 2-9 3-155 3 2 2 88 3 84 2 2 3-73 2-90 3-3 2 14 3 7 2 54 3 50 2 42 3 13 2-4 3-6 3 2 2-17 3-51 2-53 3-31 2-2 3 4 2 8 3 28 2 42 3 37 2 31 3 15 2 3 3 2 3 1 2-2 3-1 2-18 3-55 2-66 3-7 2-7 3 73 2 89 3 0 2-90 3-71 2 22 3 136 2 6 3-123 3-65 2 25 3 143 2 19 3-26 2-116 3-37 2 2 3 61 2 96 3 26 2-4 3-51 2-101 3-29 3-11 2 55 3 96 2 32 3 12 2-4 3-55 2-50 3-36 2-11 3 3 2-11 3 4 2-2"/>
<path class="m" d="M429 616l2-1 2 24 2-15 3 9 2-16 2 0 3 8 2 4 2-13 3 8 2-2 2 6 3-9 2 12 2 0 3-4 2 1 2-2 3-1 2 0 2 6 3-3 2-2 2 1 3 5 2-8 2 2 3 7 2 1 2 6 2 1 3-10 2 4 2 0 3-5 2-11 2 12 3 13 2-20 2 10 3 11 2 9 2-15 3-7 2 0 2 9 3-5 2 10 2-1 3-1 2-6 2-5 3 15 2-5 2-1 3 2 2-9 2-1 3 7 2 5 2-3 2 3 3 1 2-5 3-157 3-54 3 4 2 20 3 79 2 40 3-10 2-91 3-74 2 0 3 85 2 75 3 7 2-51 3-83 2-21 3 19 3 82 2 52 3-1 2-74 3-92 2-19 3 84 2 98 3-3 2-91 3-91 2 15 3 33 2 76 3 58 3 27 2 2 3 0 2 6 3-6 2 0 3-6 2-5 3-3 2-2 3-6 2-18 3-27 2-37 3-43 3-35 2-16 3-12 2 39 3 65 2 66 3 9 2 2 3-49 2-84 3-70 2 2 3 28 2 70 3 92 3 42 2 1 3-72 2-79 3-11 2 95 3 49 2-62 3-160 2-2 3 144 2 72 3-52 2-129 3-34 3 19 2 84 3 76 2 43 3-2 2-6 3-4 2-29 3-33 2-31 3-25 2-15 3-3 2 24 3 15 3 20 2 27 3 25 2 23 3 19 2 15 3-4 2-15 3 0 2-1 3-5 2-23 3-28 2-35 3-39 3-36 2 5 3 1 2 56 3 96 2 11 3-56 2-147 3-14 2 132 3 94 2-46 3-131 2 3 3 98 3 100 2-7 3-72 2-101 3-29 2-22 3 69 2 90 3 33 2 0 3-30 2-90 3-72 2 5 3 28 3 75 2 77 3 50 2 3 3 6 2-7 3-21 2-21 3-15 2-9 3-1 2 2"/>
<path class="c" d="M427 627l3-14 2 9 2 2 3-8 2-14 2 16 3 6 2 7 2-4 3 4 2 1 2 2 3-5 2 0 2-6 3 13 2-4 2-1 3-2 2-2 2 2 2-2 3 5 2-10 2-4 3 12 2 4 2-3 3-3 2 11 2-11 3 3 2 8 2-15 3 20 2-2 2-12 3 5 2-2 2 8 3 3 2-6 2 0 3 6 2-5 2-3 3 5 2 11 2-15 2-3 3 6 2-2 2-4 3 4 2 4 2-2 3 4 2-2 2-1 3 2 2 7 2-15 3 6 2 3 3-123 3-42 2 1 3 35 3 93 2 11 3-25 2-110 3-26 2 14 3 111 2 37 3-5 2-95 3-76 2 8 3 30 2 107 3 27 3 4 2-90 3-70 2-3 3 75 2 93 3 0 2-51 3-105 2-13 3 8 2 33 3 61 2 44 3 22 2 0 3-1 3 2 2-4 3-2 2 4 3 1 2-2 3 3 2 10 3 5 2-1 3-34 2-54 3-59 2-26 3 4 3 0 2 67 3 75 2 10 3 4 2-13 3-86 2-87 3-10 2 3 3 65 2 109 3 24 2-3 3-132 3-59 2 14 3 165 2 16 3-106 2-119 3 7 2 180 3 36 2-16 3-131 2-50 3 5 2 8 3 61 3 55 2 43 3 30 2 2 3-4 2 4 3 0 2 5 3 0 2-17 3-35 2-38 3-36 2-14 3 3 3-5 2-3 3-7 2 20 3 28 2 31 3 32 2 31 3 16 2-1 3-3 2 6 3-42 2-84 3-57 3-11 2 61 3 128 2-6 3-111 2-99 3 23 2 187 3 7 2-105 3-102 2 3 3 111 2 104 3-5 3-18 2-97 3-87 2-2 3 3 2 29 3 86 2 78 3-1 2 7 3-13 2-63 3-56 2-3 3-4 3-2 2 5 3 20 2 19 3 15 2 9 3 5 2 2"/>
<path class="r" d="M426 629l3-6 2 5 2-1 3 1 2-12 2 2 3 1 2 3 2-2 2 3 3-2 2 11 2-7 3 6 2-6 2 3 3 3 2-7 2-4 3 3 2-3 2 18 3-10 2 1 2 2 3-1 2-4 2 6 3 10 2-8 2 1 3-7 2-3 2 14 3-9 2 0 2 9 3-9 2 11 2-7 2 1 3 3 2 2 2-12 3 23 2-9 2-4 3-5 2 0 2 7 3 7 2-9 2 12 3 3 2-13 2 10 3-3 2-2 2 6 3-7 2-5 2 7 3 9 2-5 3-197 3-26 2 33 3 104 2 48 3-14 2-108 3-45 3 34 2 101 3 21 2-23 3-97 2-40 3 14 2 94 3 64 2-3 3-96 2-73 3 2 2 107 3 70 3-13 2-110 3-47 2 26 3 102 2 49 3-6 2-71 3-79 2-53 3-14 2-11 3 4 2 8 3-1 3 8 2 10 3 13 2 19 3 27 2 38 3 48 2 50 3 15 2 6 3-37 2-83 3-78 2-11 3 4 3 71 2 81 3 50 2-3 3-35 2-86 3-83 2-12 3 25 2 109 3 71 2-9 3-138 2-72 3 61 3 163 2-1 3-173 2-56 3 120 2 125 3-35 2-167 3-63 2 24 3 119 2 99 3 31 2-4 3-19 2-44 3-45 3-43 2-39 3-28 2-5 3-1 2 3 3 47 2 64 3 64 2 43 3 4 2 5 3-20 2-42 3-46 3-43 2-38 3-26 2-10 3-6 2-6 3 40 2 69 3 79 2 26 3-2 2-110 3-97 2 11 3 143 3 53 2-80 3-138 2 35 3 174 2 30 3-141 2-122 3 27 2 142 3 96 2-5 3-62 2-97 3-40 3 1 2 55 3 88 2 64 3 0 2-34 3-87 2-77 3-10 2 7 3 61 2 67 3 52 2 24 3 4 3 5 2-4 3 3 2 2"/>
<path class="m" d="M425 634l2-2 3-4 2-2 2-5 3-2 2 1 2 11 3-2 2-8 2 4 3 7 2-9 2 1 3 8 2 0 2-8 3 6 2 0 2 3 3-3 2 4 2 1 3-7 2 6 2 2 3-2 2-1 2-7 2 14 3-7 2-3 2 7 3-12 2 12 2-9 3 13 2-7 2 10 3-17 2 7 2 4 3 4 2 3 2-6 3-3 2 1 2 10 3-3 2 7 2-11 3-5 2 11 2-4 3-11 2 10 2 1 3 5 2-1 2 3 2-7 3 8 2-12 2 8 3 3 3-74 3-83 2-75 3-17 2 53 3 122 2 9 3-50 2-164 3-47 2 31 3 158 3 67 2 8 3-107 2-119 3 8 2 56 3 143 2 27 3-28 2-144 3-22 2 55 3 143 2 13 3-57 3-105 2 1 3 10 2 73 3 61 2 15 3-5 2 2 3-1 2-15 3-7 2-9 3-11 2-12 3-17 3-25 2-35 3-47 2-54 3-40 2 0 3 3 2 31 3 97 2 100 3 26 2 3 3-37 2-97 3-92 3-31 2 14 3 27 2 105 3 103 2-5 3-18 2-147 3-64 2 30 3 185 2 36 3-125 2-92 3 45 3 176 2 4 3-105 2-81 3-1 2 87 3 95 2 13 3-6 2-30 3-72 2-72 3-64 2-42 3 6 3-13 2-11 3 15 2 62 3 79 2 82 3 58 2-11 3 8 2 5 3-37 2-57 3-52 2-38 3-25 3-13 2 9 3 19 2 6 3 6 2 20 3 60 2 77 3 33 2-2 3-92 2-118 3-10 2 139 3 78 2-53 3-177 3 0 2 146 3 81 2-23 3-177 2-81 3 0 2 132 3 136 2 10 3-5 2-114 3-114 2-12 3 11 3 73 2 114 3 52 2-8 3-20 2-94 3-88 2-25 3-3 2-5 3 4 2 13 3 24 2 18 3 14"/>
<path class="c" d="M424 628l2-4 3 0 2 10 2-5 3-8 2-2 2 5 3 5 2 0 2-3 3-8 2 9 2 3 3-2 2 10 2-1 3-6 2 3 2 7 2-9 3-6 2 2 2-2 3 3 2 1 2-5 3 11 2 3 2-7 3-1 2 1 2 3 3 1 2 5 2-20 3 8 2 8 2 2 3 0 2-6 2 2 3-7 2 11 2 1 3 2 2-4 2 6 2-7 3 6 2-2 2 6 3 0 2-8 2 6 3-9 2 8 2 5 3 6 2-6 2-1 3 1 2 6 2 0 3-11 3-52 3-35 2-77 3-42 2-3 3 72 2 86 3 13 2-38 3-93 2-46 3 0 2 67 3 83 2 17 3-9 3-71 2-48 3 8 2 54 3 70 2 1 3-53 2-63 3 6 2 55 3 58 2 7 3-39 2-59 3-35 3-1 2-7 3-1 2 7 3 4 2-2 3-4 2-6 3-6 2 0 3 8 2 16 3 26 2 34 3 35 3 4 2 6 3 0 2-50 3-66 2-64 3-19 2-3 3 6 2 50 3 69 2 65 3 26 2 3 3-15 3-69 2-66 3 4 2 39 3 94 2 23 3-50 2-90 3 2 2 102 3 32 2-49 3-96 2-8 3 64 3 86 2 14 3-5 2-58 3-64 2-54 3-28 2-7 3-8 2-5 3 14 2 38 3 49 2 52 3 46 3 15 2-7 3-4 2 2 3-35 2-36 3-33 2-26 3-20 2-14 3-10 2 0 3 3 2-2 3 13 3 8 2 25 3 54 2 65 3 31 2 0 3-72 2-86 3-9 2 95 3 61 2-20 3-121 2-26 3 60 3 106 2 7 3-49 2-94 3-28 2-5 3 62 2 82 3 40 2-2 3-39 2-87 3-67 2 0 3 24 3 80 2 74 3 23 2-1 3-12 2-38 3-35 2-26 3-18 2-11 3-5 2 0 3 2"/>
<path class="b" d="M423 636l2-16 3 6 2 4 2-16 3 6 2-5 2 21 3-3 2-6 2-3 2 1 3 7 2-5 2-4 3 2 2 10 2 5 3-9 2 0 2 4 3-7 2 4 2-3 3-4 2 5 2-4 3 0 2 11 2 5 3-5 2-7 2 8 3-10 2 13 2-10 3 5 2-1 2 6 2-3 3-4 2 2 2 2 3-8 2 8 2-3 3-10 2 6 2 15 3-10 2 1 2 18 3-15 2-2 2 5 3-13 2 6 2 3 3-4 2 16 2 0 3-12 2 1 2 6 3-1 3-120 2-63 3-41 3 12 2 66 3 69 2 4 3-58 2-98 3-38 2 41 3 95 2 40 3-26 2-89 3-55 2 21 3 87 3 80 2 9 3-69 2-79 3-1 2 86 3 55 2-34 3-120 2-47 3 35 2 101 3 73 2 14 3-7 2-27 3-27 3-27 2-27 3-28 2-30 3-31 2-32 3-26 2-18 3 1 2 10 3 15 2 54 3 67 2 67 3 49 3 0 2-15 3-65 2-85 3-75 2-18 3 1 2 68 3 89 2 70 3 9 2-21 3-76 2-55 3 13 3 84 2 78 3-26 2-137 3-46 2 107 3 90 2-70 3-142 2 9 3 130 2 78 3 14 2-58 3-66 3-39 2-13 3-5 2 21 3 33 2 41 3 42 2 32 3-1 2-1 3-18 2-43 3-47 2-39 3-26 3 5 2-6 3 2 2 20 3 25 2 29 3 30 2 30 3 28 2 16 3 11 2 1 3-14 2-46 3-61 3-51 2 2 3 78 2 98 3-12 2-150 3-81 2 77 3 154 2-5 3-138 2-47 3 74 2 118 3 31 3-37 2-96 3-78 2-17 3 53 2 90 3 59 2 3 3-75 2-96 3-40 2 15 3 70 2 80 3 52 3-4 2-4 3-40 2-48 3-46 2-38 3-25 2-13 3-3"/>
<path class="g" d="M422 627l2-10 2 6 3 4 2 2 2 6 3-8 2-1 2-5 3 6 2-4 2 0 3 11 2-10 2 8 3-6 2-4 2 4 3 1 2-2 2 2 3 4 2-5 2 9 3-2 2 1 2-3 3 0 2-1 2 5 2-4 3 2 2 6 2-5 3-1 2 7 2-5 3 6 2-5 2 0 3-1 2 5 2 1 3-4 2 5 2 5 3 2 2-4 2 8 3-4 2-8 2 3 3-2 2 2 2 0 3-3 2-5 2 1 2 13 3-10 2 7 2 0 3 8 2-4 2-7 4-108 2-91 3-45 2-15 3 84 2 120 3 2 3-72 2-117 3 3 2 38 3 105 2 46 3 14 2-71 3-100 2-38 3 13 2 124 3 55 2-17 3-169 3-52 2 54 3 170 2 46 3-42 2-109 3-29 2-16 3 59 2 71 3 53 2 0 3-6 2-3 3 2 3 8 2 0 3-2 2 4 3 6 2-10 3-19 2-32 3-51 2-67 3-67 2-10 3-14 2 33 3 101 3 98 2 31 3 10 2-6 3-50 2-55 3-52 2-16 3-24 2 51 3 100 2 27 3-27 2-201 3-87 3 69 2 235 3 15 2-156 3-70 2 69 3 171 2 1 3-126 2-165 3-28 2 26 3 131 2 117 3 33 2-2 3 0 3 2 2-35 3-32 2-29 3-29 2-26 3-15 2-7 3-23 2 23 3 54 2 63 3 55 2 18 3 7 3 5 2 5 3 4 2 8 3-15 2-24 3-41 2-65 3-88 2-70 3-27 2 10 3 160 2 125 3 11 3-170 2-84 3 48 2 187 3 22 2-125 3-139 2-21 3 176 2 103 3-10 2-160 3-159 2 18 3 37 3 145 2 121 3 28 2-5 3-56 2-83 3-43 2-22 3 19 2 84 3 81 2 7 3-3 2 6 3-30 3-20 2-7 3 0 2 1 3-2"/>
<path class="y" d="M421 634l2-10 2 11 3-10 2 4 2-5 3 8 2 2 2-4 3 2 2-5 2 12 3-1 2-11 2 0 3 2 2-4 2 15 2-9 3-9 2 7 2 8 3 2 2-4 2-1 3-6 2 5 2 0 3 15 2-5 2-10 3-2 2 12 2-7 3-1 2 2 2-3 3 8 2-7 2 9 3-3 2 8 2-6 3 0 2 3 2 4 3-5 2-5 2 1 2 8 3-7 2 3 2 0 3-10 2 1 2 21 3-7 2-10 2 6 3-1 2 3 2 1 3-2 2 2 2-3 4-87 2-53 3-33 2 12 3 63 2 71 3 24 2-38 3-70 2-47 3 9 3 60 2 65 3 9 2-29 3-78 2-53 3 2 2 70 3 73 2 0 3-60 2-70 3 2 2 71 3 61 3-16 2-78 3-71 2-15 3 36 2 56 3 49 2 30 3 16 2 6 3-4 2-7 3 5 2-1 3-5 3 5 2-9 3-17 2-27 3-39 2-47 3-45 2-30 3 9 2 13 3 51 2 60 3 54 2 33 3 7 3-15 2-43 3-57 2-58 3-30 2 11 3 67 2 87 3 31 2-24 3-89 2-32 3 59 2 86 3-13 3-97 2-46 3 65 2 85 3 4 2-75 3-79 2-26 3 18 2 49 3 53 2 44 3 30 2 7 3-2 3-11 2-35 3-51 2-61 3-61 2-48 3-12 2-1 3 32 2 48 3 51 2 46 3 36 2 26 3 18 3 13 2 6 3 2 2 0 3-5 2 3 3-26 2-42 3-50 2-32 3 6 2 61 3 76 2 11 3-57 3-80 2 6 3 86 2 49 3-55 2-92 3-20 2 49 3 79 2 27 3-10 2-61 3-66 2-25 3 3 2 59 3 76 3 39 2-6 3-77 2-99 3-60 2 1 3 45 2 74 3 65 2 42 3 21 2-1 3-2 2 8 3-7 3-11"/>
<path class="m" d="M420 626l2-6 2 1 3 11 2-11 2 18 3-2 2-7 2-1 2-6 3-4 2 0 2 5 3 9 2 10 2-18 3 10 2-8 2-2 3 9 2-6 2 8 3-7 2 1 2 10 3-12 2 13 2-5 3 6 2 1 2-10 3 6 2 2 2-7 3 5 2 0 2 5 2 5 3-7 2 1 2-10 3-3 2 19 2-2 3-2 2 0 2-8 3 10 2-5 2-10 3 16 2-3 2 7 3-3 2 10 2-5 3 3 2-5 2-11 3 13 2-2 2-12 3-1 2 6 2 12 4-84 2-37 3-96 2-39 3 4 2 55 3 111 2 8 3 5 2-91 3-81 2-2 3 22 2 106 3 47 3 2 2-59 3-103 2-3 3 34 2 130 3-6 2-71 3-116 2-13 3 112 2 79 3-11 2-110 3-120 3-13 2-5 3 24 2 63 3 51 2 36 3 22 2 15 3 12 2 12 3-1 2-3 3 1 2-4 3 15 3 0 2-13 3-67 2-76 3-63 2 4 3 12 2-2 3 36 2 77 3 76 2 31 3 4 2-4 3-19 3-108 2-108 3 9 2-1 3 160 2 82 3 5 2-177 3-39 2 91 3 118 2 5 3-181 2-22 3 66 3 139 2-1 3-33 2-127 3-75 2-6 3-11 2 9 3 67 2 74 3 69 2 3 3-6 2 2 3-7 3-70 2-106 3-96 2-27 3 5 2 11 3 8 2 13 3 28 2 41 3 37 2 31 3 30 2 32 3 37 3 41 2 21 3 8 2 7 3-6 2-107 3-108 2-1 3 54 2 159 3 3 2-84 3-115 2 10 3 139 3 53 2-11 3-140 2-35 3 6 2 99 3 84 2 3 3-12 2-111 3-86 2-10 3-4 2 123 3 71 3 0 2-27 3-156 2-110 3-3 2-2 3 23 2 83 3 72 2 50 3 30 2 15 3 4 2 0"/>
<path class="k" d="M418 626l3 4 2-2 2-1 3 0 2 15 2-12 3-2 2 2 2 1 3 10 2-7 2-7 3-8 2 4 2 9 3-3 2 6 2 0 3-4 2-1 2 1 3 6 2 5 2-7 3-1 2 8 2-15 2 10 3 3 2-4 2 5 3-5 2 5 2-3 3-2 2 6 2-1 3 0 2 4 2-9 3 11 2-9 2 7 3 2 2-5 2 6 3 2 2-8 2-3 3 10 2-1 2 9 3-5 2-9 2 9 2-5 3 5 2-10 2 10 3-9 2 3 2 12 3-7 2-10 3-56 3-2 3-67 2-87 3-43 2 15 3 92 2 90 3 4 2-55 3-108 2-59 3-6 2 86 3 105 2 31 3-24 3-117 2-106 3 1 2 103 3 133 2 15 3-77 2-118 3-2 2 73 3 111 2 29 3-22 2-77 3-73 3-46 2-5 3-8 2 3 3-6 2 0 3-10 2-11 3-13 2-15 3-10 2 5 3 17 2 35 3 53 2 66 3 65 3 33 2 1 3-9 2-60 3-71 2-63 3-31 2 7 3 2 2 55 3 76 2 77 3 26 2 4 3-93 3-130 2-38 3 55 2 166 3 45 2-120 3-159 2 25 3 185 2 61 3-81 2-170 3-44 2 52 3 124 3 101 2 30 3 2 2-8 3-37 2-41 3-43 2-43 3-42 2-39 3-15 2-6 3-8 2 18 3 46 3 57 2 56 3 47 2 35 3 10 2 3 3 3 2 1 3-5 2 0 3-2 2-12 3-32 2-47 3-62 3-63 2-15 3 16 2 107 3 120 2 12 3-107 2-134 3 1 2 154 3 77 2-59 3-178 2-53 3 53 3 152 2 84 3 3 2-90 3-118 2-84 3 8 2 37 3 105 2 106 3 40 2 0 3-74 2-97 3-72 3-2 2 5 3 45 2 51 3 41 2 29 3 16 2 6 3-1 2-7"/>
<path class="b" d="M417 621l3 8 2 8 2-8 3 4 2-7 2 7 3 2 2-2 2-2 3-6 2 7 2 3 3 3 2-5 2-2 3-5 2 12 2 4 2-7 3-2 2-9 2 13 3-3 2-2 2 6 3-4 2 8 2-7 3 12 2-15 2 2 3-1 2 5 2 4 3-6 2 9 2-11 3-1 2 11 2-8 3 1 2 1 2-7 3 10 2 16 2-8 2 4 3-10 2 8 2 3 3-13 2-8 2 14 3 0 2 2 2-3 3-3 2 0 2 0 3 11 2-7 2 7 3-9 2-8 3-68 3 4 2-52 3-106 2-38 3 39 3 116 2 55 3-19 2-99 3-59 2 11 3 93 2 83 3 0 2-89 3-96 2-3 3 100 2 86 3-19 3-115 2-35 3 78 2 96 3-30 2-124 3-52 2 45 3 106 2 45 3-2 2-61 3-67 2-50 3-29 3-4 2-1 3 3 2 2 3-4 2 16 3 28 2 43 3 54 2 52 3 12 2 12 3-42 2-82 3-83 3-50 2 8 3 37 2 81 3 82 2 34 3 9 2-47 3-110 2-114 3-26 2 60 3 162 2 86 3-67 3-163 2-9 3 170 2 78 3-118 2-102 3 80 2 132 3-19 2-132 3-52 2 33 3 105 2 73 3-1 2-35 3-67 3-65 2-48 3-7 2 0 3 44 2 67 3 69 2 38 3-7 2-26 3-74 2-76 3-56 2-14 3 5 3 7 2 26 3 33 2 33 3 35 2 37 3 38 2 33 3 3 2-3 3-71 2-115 3-99 2 9 3 143 3 148 2-26 3-175 2-55 3 129 2 130 3-57 2-159 3-19 2 131 3 110 2-6 3-95 2-73 3 13 3 66 2 87 3 24 2-33 3-101 2-73 3-8 2 90 3 102 2 10 3-54 2-114 3-88 2-6 3-2 3 45 2 48 3 40 2 29 3 21 2 15"/>
<path class="y" d="M416 642l3-16 2 5 2 8 3-11 2 3 2-8 2 1 3 9 2-2 2-1 3 6 2 11 2-6 3-2 2-3 2-2 3-3 2-3 2 15 3 5 2-13 2 1 3 6 2 2 2-6 3-14 2 5 2 11 3-7 2 0 2-3 3 13 2-6 2 7 3-6 2 0 2 5 2-6 3 7 2 1 2-2 3-2 2 1 2-9 3 9 2-5 2 1 3 8 2-5 2 5 3-1 2-10 2 10 3-5 2-2 2 11 3 1 2-11 2-2 3 2 2 4 2-3 3 15 2-2 3-15 3-13 2-140 3-90 2 5 3 110 2 117 3-2 2-98 3-146 3-4 2 61 3 175 2 16 3-12 2-170 3-59 2 8 3 142 2 85 3 4 2-171 3-60 2 20 3 193 3 14 2-48 3-178 2-21 3 4 2 91 3 107 2 57 3-3 2 8 3-4 2 0 3 1 2 2 3-1 3-4 2-1 3-42 2-61 3-77 2-81 3-8 2 0 3-2 2 82 3 130 2 61 3-3 2 6 3-97 3-154 2-71 3-6 2 1 3 135 2 177 3 10 2-1 3-183 2-102 3 14 2 233 3 46 2-122 3-163 3 34 2 247 3 1 2-171 3-97 2-2 3 183 2 99 3-9 2 3 3-107 2-105 3-69 2-5 3-11 3-7 2-5 3 72 2 98 3 101 2 44 3 4 2-3 3 5 2-67 3-89 2-82 3-42 2-8 3-2 3-6 2-4 3 3 2 7 3 65 2 85 3 97 2 40 3-4 2-5 3-162 2-111 3-8 2 180 3 111 3-47 2-253 3 2 2 207 3 90 2-54 3-227 2 17 3 74 2 188 3 11 2-5 3-148 2-124 3-6 2-5 3 148 3 144 2-3 3 5 2-147 3-143 2 2 3-4 2 74 3 121 2 87 3 10 2-1 3 7 2-2 3-5 3-13 2 7"/>
<path class="b" d="M415 623l2 9 3-1 2 1 2-4 3 6 2-8 2-1 3 7 2 5 2-9 3-3 2 9 2-3 3 12 2-6 2-3 3 3 2-4 2 1 3 2 2-2 2 0 3 10 2-1 2 6 2-18 3 10 2-4 2 7 3-9 2 0 2 13 3 0 2-16 2 9 3 0 2 4 2-2 3-5 2 9 2-8 3 0 2 10 2 0 3 0 2-6 2-6 3 1 2 8 2-7 3 2 2-1 2 6 3-10 2 11 2 1 2 3 3-2 2 8 2-13 3 6 2 4 2-5 3 11 3-25 3-32 2-88 3-43 2 7 3 77 2 82 3-8 2-34 3-74 2-9 3-3 2 68 3 59 3-3 2-51 3-101 2-22 3 35 2 119 3 19 2-63 3-115 2 3 3 94 2 80 3 5 2-77 3-81 3-1 2-2 3 26 2 42 3 34 2 24 3 17 2 11 3 2 2 7 3-7 2 9 3 3 2 5 3-1 3-4 2-52 3-76 2-83 3-40 2-1 3 5 2 73 3 93 2 76 3 15 2-2 3-11 2-62 3-67 3-36 2 4 3 30 2 97 3 43 2-14 3-125 2-46 3 67 2 109 3-4 2-148 3-33 2 90 3 100 3 2 2-128 3-104 2 1 3 25 2 89 3 79 2 37 3 4 2-6 3 0 2-27 3-43 2-46 3-44 3-13 2-5 3-11 2 23 3 50 2 54 3 49 2 36 3 0 2-10 3 11 2-4 3-4 2 1 3-21 3-38 2-53 3-66 2-60 3 2 2 14 3 115 2 116 3-3 2-96 3-85 2 21 3 127 2 17 3-53 3-103 2-6 3 100 2 78 3-6 2-82 3-108 2-19 3 14 2 97 3 95 2 2 3-1 2-95 3-97 3-10 2 8 3 94 2 92 3 26 2 0 3-23 2-48 3-40 2-27 3-16 2-10 3-6 2-6 3-8"/>
<path class="g" d="M414 631l2-1 3 1 2 6 2 2 3-8 2 0 2 6 3-8 2-1 2 9 3-3 2 0 2 2 3 10 2-7 2-14 2 0 3 13 2-14 2 10 3-8 2 16 2-8 3-1 2 7 2-2 3 8 2-4 2-1 3-6 2 6 2-2 3 2 2 3 2 0 3 9 2-9 2-2 3 1 2 2 2 3 3-8 2 4 2-2 2 1 3-5 2 8 2-3 3-8 2 4 2 0 3 13 2 4 2-9 3-12 2 21 2-10 3 6 2-9 2 8 3-9 2 9 2-1 3 12 3-26 3-1 2-49 3-98 2-37 3-3 2 104 3 76 2 4 3-94 2-124 3-28 2 29 3 123 2 92 3-4 3-88 2-142 3-15 2 71 3 165 2 17 3-115 2-164 3 6 2 141 3 133 2-2 3-53 2-97 3-61 3 3 2 5 3 0 2 7 3 12 2 8 3 8 2 7 3 10 2 17 3 24 2 32 3 37 2 37 3 18 2 11 3 0 3-40 2-68 3-76 2-54 3-10 2-2 3 55 2 82 3 79 2 27 3 0 2-31 3-108 2-115 3-19 3 56 2 171 3 40 2-99 3-225 2 8 3 245 2 81 3-136 2-181 3 8 2 191 3 112 2 7 3-89 3-121 2-85 3 6 2-1 3 11 2 57 3 65 2 63 3 56 2 31 3-3 2 1 3 1 2-40 3-48 3-48 2-42 3-19 2-6 3-2 2 2 3-1 2 15 3 21 2 26 3 29 2 34 3 39 2 43 3 19 3-8 2-45 3-128 2-94 3 2 2 171 3 95 2-58 3-215 2-21 3 160 2 145 3-20 2-186 3-106 3 1 2 148 3 150 2 16 3-27 2-144 3-136 2-19 3 20 2 132 3 134 2 36 3-2 2-78 3-98 3-59 2 9 3 4 2 23 3 44 2 36 3 26 2 17 3 9 2 5 3 3"/>
<path class="k" d="M413 646l2-20 3 2 2-5 2 16 2-10 3 14 2-6 2-2 3-4 2 7 2-8 3-10 2 13 2-1 3-5 2 8 2 2 3 8 2 2 2-7 3-3 2 10 2-14 3 7 2-2 2-1 3 3 2-8 2 2 3-1 2 11 2 1 3 3 2 6 2-6 2-3 3-9 2 11 2-9 3 5 2-1 2 2 3 0 2 4 2 0 3 8 2-19 2-4 3 19 2 5 2-11 3 2 2-2 2 1 3 4 2 3 2-2 3-1 2 5 2-8 3-6 2-3 2 14 2-4 4-55 2-8 3-58 2-55 3-8 3 4 2 72 3 48 2-10 3-35 2-89 3-37 2 4 3 62 2 91 3 9 2-7 3-83 2-17 3 9 3 91 2 21 3-41 2-95 3-2 2 63 3 74 2-4 3-29 2-63 3-27 2 8 3-4 2-4 3 11 3 9 2 5 3 4 2 4 3 6 2 12 3 19 2 25 3 15 2 5 3 5 2 0 3-5 2-42 3-50 3-48 2-20 3-11 2-10 3 21 2 49 3 59 2 55 3 0 2 5 3-39 2-87 3-48 2-9 3 92 3 83 2 7 3-128 2-44 3 62 2 107 3-4 2-120 3-22 2 41 3 97 2 23 3 9 2-49 3-55 3-36 2-13 3-13 2-7 3 31 2 44 3 48 2 33 3-1 2 9 3-12 2-42 3-46 2-41 3-25 2-8 3 3 3-1 2-9 3 3 2 1 3-1 2 16 3 21 2 28 3 36 2 42 3 43 2 4 3 8 2-51 3-100 3-29 2 17 3 126 2 18 3-76 2-113 3 2 2 117 3 73 2 3 3-92 2-66 3-1 2 46 3 86 3 28 2 2 3-55 2-93 3-24 2 4 3 83 2 89 3-1 2 7 3-65 2-64 3-10 2-9 3-12 3 3 2 15 3 11 2 7 3 3 2 2 3 4"/>
<path class="b" d="M412 627l2 9 2-24 3 20 2 1 2 6 3-5 2-2 2 6 3-12 2 10 2-7 3 11 2-4 2-4 3 0 2 3 2-3 3 7 2-6 2 1 3-4 2 12 2 2 2-13 3 0 2 1 2 7 3-3 2-2 2 14 3-2 2-2 2-4 3 4 2-1 2-3 3 0 2-2 2-5 3 9 2 2 2 6 3-16 2 6 2-1 3 5 2-2 2 2 3 1 2-6 2 11 3 6 2-6 2-4 2 8 3 7 2-9 2 3 3-5 2-4 2-3 3 5 2 1 2 8 4-30 2-113 3-139 2-3 3 31 2 163 3 52 2 6 3-135 3-89 2 3 3 77 2 133 3 6 2-30 3-158 2-44 3 11 2 171 3 48 2-48 3-171 2 4 3 130 3 88 2-16 3-177 2-41 3 6 2 142 3 95 2 4 3-4 2-33 3-58 2-49 3-38 2-31 3-27 3-30 2-13 3-16 2-4 3 1 2-16 3 48 2 103 3 112 2 48 3 3 2 7 3-83 2-104 3-78 3 0 2 2 3 24 2 101 3 110 2 30 3-6 2-75 3-170 2-36 3 45 2 213 3 17 2-139 3-137 3 70 2 207 3-2 2-259 3-51 2 125 3 185 2 7 3-109 2-183 3-37 2 4 3 36 2 116 3 110 3 65 2 6 3 4 2-9 3-90 2-108 3-89 2-4 3 6 2 4 3 80 2 86 3 72 2 47 3 8 3-4 2 1 3-2 2 2 3 2 2-28 3-63 2-87 3-97 2-15 3-8 2 99 3 182 2 20 3-97 3-203 2-9 3 215 2 82 3-97 2-227 3-4 2 207 3 125 2 2 3-192 2-113 3 6 2 104 3 177 3 26 2 5 3-156 2-134 3-3 2 68 3 171 2 63 3-6 2-90 3-125 2-51 3 7 2 2 3 12 2 37 3 28 3 18 2 12 3 8"/>
<path class="g" d="M411 630l2 5 2-3 3 3 2-6 2 7 3 3 2-4 2-9 3 3 2 0 2 12 3-4 2 0 2 2 2-5 3-2 2 14 2-6 3-6 2 0 2-2 3-1 2 4 2 6 3 8 2-9 2 7 3-2 2-10 2 9 3-5 2-2 2 5 3-6 2 11 2-13 3 10 2-2 2-3 3 8 2-5 2-1 2 0 3 9 2-5 2-2 3-1 2 2 2 14 3-6 2-4 2 2 3 3 2-2 2 2 3-13 2 8 2 1 3-2 2 4 2 2 3 6 2-13 2 1 4-94 2-53 3-51 2-4 3 4 2 57 3 60 2 11 3 2 2-54 3-64 2-26 3-3 3 37 2 71 3 34 2-16 3-95 2-75 3 4 2 103 3 57 2-18 3-124 2-33 3 41 2 111 3 30 3-10 2-72 3-65 2-33 3 6 2 3 3 10 2 9 3 9 2 14 3 14 2 13 3 13 2 16 3 20 3 24 2 26 3 25 2 8 3 1 2-3 3-6 2-32 3-37 2-39 3-36 2-23 3-7 2-9 3-9 3 34 2 55 3 65 2 21 3-9 2-100 3-118 2-8 3 112 2 115 3-23 2-164 3-37 2 98 3 131 3-1 2-119 3-85 2 2 3 47 2 89 3 69 2 12 3 4 2-2 3-35 2-40 3-38 2-23 3-1 3-4 2 14 3 36 2 42 3 37 2 28 3 5 2 4 3-3 2 2 3-2 2-4 3 0 2-4 3-7 3-3 2-11 3-23 2-36 3-53 2-62 3-28 2 0 3 62 2 115 3 26 2-47 3-135 2-26 3 74 3 130 2 14 3-70 2-109 3-6 2 28 3 100 2 71 3 2 2-35 3-81 2-48 3-3 2 46 3 87 3 35 2 2 3-65 2-82 3-24 2-3 3 22 2 50 3 43 2 30 3 17 2 9 3 1 2 0 3-3 3-5"/>
<path class="m" d="M410 635l2 3 2-3 3-1 2-13 2 4 2 9 3 2 2-13 2 13 3-11 2 8 2-6 3 15 2 2 2-8 3-2 2 3 2 4 3-3 2 2 2-3 3 4 2-2 2-4 3 10 2-10 2 15 3-17 2 0 2 9 3-6 2-2 2 2 2 8 3 12 2-10 2-5 3 5 2 4 2 2 3-10 2 3 2 3 3 14 2-16 2 7 3-7 2 1 2 0 3 0 2 13 2-17 3 12 2-7 2 5 3-1 2-4 2 7 3-2 2 2 2 4 2-3 3-8 2 3 4-41 2-132 3-71 2 12 3 94 2 119 3 5 2-27 3-104 2-47 3 4 2 70 3 108 2 5 3-46 3-149 2-33 3 37 2 164 3 17 2-81 3-136 2 2 3 132 2 74 3 3 2-156 3-129 2-10 3-4 3 90 2 90 3 68 2 46 3 20 2-3 3-3 2 4 3 7 2-1 3-3 2 1 3-6 2-76 3-101 3-103 2-26 3 11 2 7 3 84 2 112 3 94 2 11 3 5 2-9 3-72 2-114 3-84 2-7 3 1 2 149 3 142 3 2 2-108 3-128 2 10 3 184 2 33 3-104 2-119 3 26 2 191 3 7 2-117 3-182 2-4 3 22 3 147 2 123 3 6 2 0 3 6 2-66 3-95 2-101 3-79 2-5 3-6 2-2 3 85 2 124 3 110 3 31 2-2 3 8 2 3 3-10 2-35 3-33 2-33 3-36 2-41 3-47 2-52 3 4 2 5 3-6 3 78 2 148 3 47 2 9 3-147 2-76 3 27 2 185 3 24 2-130 3-125 2-8 3 191 2 62 3-14 3-161 2-64 3 10 2 77 3 132 2 30 3-2 2-121 3-162 2-20 3-6 2 175 3 141 2 9 3-27 3-158 2-135 3-16 2-1 3 15 2 6 3-2 2 16 3 8 2 2 3 2 2 7"/>
<path class="r" d="M408 633l3 1 2-7 2 8 3-3 2 4 2-8 3 0 2 6 2 5 3 1 2-10 2 9 3 0 2-18 2 15 3-3 2 7 2-2 3-7 2 3 2-1 3 6 2-2 2 0 2 12 3-6 2-14 2 13 3-1 2-6 2 4 3 8 2-3 2-1 3 6 2-3 2-4 3 7 2-2 2-9 3 9 2-8 2 11 3-5 2 13 2 3 3-12 2 7 2-1 3-3 2 10 2-14 2 0 3 6 2-7 2 3 3-3 2 17 2-4 3-10 2-4 2 8 3-3 2 20 3-127 3-69 2-94 3 9 3 23 2 108 3 52 2 3 3-53 2-86 3-10 2 2 3 53 2 81 3 4 2-1 3-103 2-87 3-6 3 60 2 118 3-3 2-58 3-152 2-22 3 3 2 114 3 101 2 12 3-7 2 2 3 12 2-12 3-5 3 2 2 5 3 6 2 4 3 0 2-4 3-12 2-21 3-31 2-45 3-54 2-44 3-12 2-16 3-3 3 52 2 81 3 80 2 13 3 0 2 6 3-44 2-91 3-87 2-5 3 11 2 56 3 134 2 67 3-4 3-104 2-76 3 0 2 145 3 31 2-66 3-161 2-3 3 80 2 137 3-2 2-22 3-109 2-98 3-48 3 0 2 2 3 0 2-1 3 8 2 38 3 46 2 52 3 54 2 51 3 32 2 4 3 2 2 2 3 5 2-5 3-26 3-28 2-29 3-30 2-31 3-31 2-33 3-36 2-20 3-7 2-2 3 3 2 39 3 125 2 95 3-1 3-67 2-165 3 6 2 113 3 129 2-9 3-132 2-48 3 10 2 129 3 61 2 6 3-45 2-96 3-64 3-8 2-12 3 59 2 89 3 54 2-11 3-1 2-92 3-113 2-61 3 10 2 18 3 19 2 65 3 55 3 39 2 24 3 13 2 3 3-3 2-6 3-7 2-5"/>
<path class="k" d="M407 631l3 8 2-9 2 0 3 8 2-7 2-2 3 14 2-11 2 6 3-5 2-6 2 13 2-12 3 11 2 7 2 7 3-12 2-3 2 8 3-5 2 5 2-6 3-8 2 3 2 5 3 2 2 0 2 6 3-9 2 2 2-5 3 10 2-3 2 0 3 2 2 5 2-3 3 0 2-3 2-2 3 0 2 3 2 7 2-3 3-11 2 13 2 3 3 0 2-9 2 4 3 1 2-3 2 1 3-6 2 5 2 6 3-12 2 12 2-13 3 9 2 15 2-5 3 5 2-13 3-53 3-35 2-63 3-51 2 1 3 59 2 68 3 18 3-33 2-57 3-25 2 10 3 48 2 49 3 16 2-3 3-51 2-58 3-16 2 48 3 67 2 3 3-74 3-80 2 2 3 75 2 73 3 14 2-20 3-45 2-40 3-29 2-18 3 1 2-15 3-2 2-4 3-1 3 10 2 5 3 13 2 19 3 10 2 18 3 20 2 23 3 26 2 23 3 10 2-11 3-38 2-56 3-58 3-41 2-14 3 20 2 39 3 56 2 57 3 39 2-3 3-25 2-72 3-60 2 9 3 88 2 65 3-40 3-101 2-10 3 97 2 65 3-19 2-75 3-35 2 12 3 50 2 47 3 21 2-8 3-27 2-39 3-41 3-34 2-25 3-13 2 1 3 13 2 12 3 26 2 29 3 32 2 29 3 25 2 18 3 9 2-7 3-3 3 3 2-6 3-6 2-7 3-8 2-14 3-21 2-30 3-39 2-36 3-14 2 23 3 77 2 66 3-10 3-101 2-69 3 51 2 114 3 36 2-51 3-67 2-5 3 56 2 61 3 15 2-34 3-70 2-61 3-13 3 22 2 61 3 62 2 34 3-7 2-42 3-57 2-46 3-16 2 12 3 37 2 44 3 35 2 22 3 11 2 5 3-5 3 0 2 15 3 8 2 2"/>
<path class="g" d="M406 628l3-1 2 6 2-7 2 16 3 1 2-13 2 4 3-9 2 11 2-2 3-1 2 3 2-2 3 13 2-10 2-5 3 15 2-9 2-2 3 7 2-2 2-3 3 4 2-14 2 8 3 5 2 1 2 6 3-4 2 3 2-14 2 16 3-4 2 1 2 7 3-9 2 7 2-7 3 8 2 4 2-15 3-4 2 17 2-7 3 10 2-10 2-4 3 12 2-5 2-5 3 2 2 9 2-2 3-6 2 4 2 2 3 1 2-3 2 5 3 4 2 0 2-4 2 0 3-6 3-63 3-80 2-97 3-41 2 8 3 109 2 115 3 13 2-54 3-126 2-77 3 2 3 84 2 119 3 50 2-7 3-115 2-122 3-7 2 96 3 141 2 13 3-113 2-116 3 15 2 136 3 81 3-5 2-100 3-88 2-11 3 1 2 44 3 46 2 37 3 26 2 17 3 12 2 8 3 8 2 9 3 9 3-6 2 11 3-6 2-4 3-22 2-59 3-77 2-79 3-50 2-12 3 0 2 43 3 79 2 85 3 73 3 22 2-1 3-19 2-99 3-123 2-64 3 1 2 138 3 158 2 6 3-158 2-114 3 59 2 193 3 20 3-148 2-87 3 27 2 148 3 66 2-8 3-100 2-103 3-52 2-5 3 0 2 42 3 61 2 65 3 59 3 46 2 6 3-2 2-16 3-54 2-66 3-62 2-48 3-12 2-3 3 1 2 6 3 10 2 14 3 16 3 15 2 17 3 21 2 31 3 43 2 53 3 48 2 0 3-30 2-131 3-141 2-4 3 132 2 172 3-12 3-189 2-101 3 56 2 188 3 52 2-74 3-166 2-54 3 12 2 132 3 129 2 24 3-21 2-116 3-114 3-20 2 29 3 119 2 113 3 18 2-21 3-97 2-94 3-42 2-9 3 8 2 23 3 28 2 20 3 13 3 5 2 1"/>
<path class="r" d="M405 627l2-2 3-3 2 12 2 0 3 5 2-4 2 7 3-1 2 1 2 1 3-17 2 14 2-3 3-3 2 5 2-4 3 8 2-15 2 9 3-8 2 9 2 6 2 8 3 2 2-20 2 3 3 5 2 6 2-1 3-5 2 0 2 1 3-1 2 0 2-1 3 4 2 19 2-9 3-11 2-2 2 9 3-1 2 4 2-9 3 9 2-3 2-4 3 5 2 1 2 4 2-1 3-4 2 12 2-5 3-11 2 4 2 4 3-3 2-3 2 5 3 8 2-6 2-4 3 13 3-81 3-58 2-43 3-9 2-9 3 84 2 87 3-1 2-10 3-104 2-77 3-2 2 18 3 102 3 85 2-4 3-29 2-104 3-27 2 12 3 108 2 33 3-29 2-95 3 1 2 57 3 62 2 6 3-95 3-75 2-17 3 14 2 76 3 69 2 34 3-5 2-1 3 4 2 10 3-13 2 4 3 6 2-9 3-25 3-30 2-33 3-33 2-22 3 8 2 3 3-6 2 26 3 38 2 40 3 29 2 12 3 2 2-5 3 4 2-62 3-93 3-96 2-10 3 3 2 128 3 123 2-1 3-126 2-97 3 31 2 187 3 9 2-104 3-55 2 21 3 121 3 20 2-11 3-89 2-52 3-4 2-4 3 47 2 67 3 57 2-4 3-6 2 9 3-48 2-89 3-87 3-31 2 2 3 11 2 20 3 66 2 60 3 45 2 29 3 16 2-4 3 3 2 9 3 3 2 0 3 7 3 0 2-1 3 2 2-48 3-82 2-69 3-5 2 33 3 147 2 18 3-60 2-179 3-3 2 99 3 142 3-4 2-122 3-110 2 12 3 71 2 127 3 19 2 9 3-72 2-74 3 10 2 15 3 89 2 48 3-5 3-59 2-109 3-29 2-17 3 62 2 83 3 58 2-2 3 4 2-5 3 1 2-1 3-6"/>
<path class="b" d="M404 636l2-13 3 14 2-1 2 5 3-3 2 0 2 3 3-8 2 5 2-3 3 5 2-1 2-2 2 4 3-5 2 12 2-14 3 12 2-5 2 2 3-7 2 6 2-1 3-12 2 11 2 2 3 11 2-5 2 3 3 0 2-4 2-2 3 6 2 3 2-4 3-7 2 3 2-1 3 9 2-12 2 14 2-7 3-6 2 4 2-1 3-13 2 12 2 5 3 7 2-5 2-3 3-3 2 3 2 8 3-3 2-3 2 8 3-1 2-15 2-8 3 20 2 0 2 1 3-2 3-107 2-50 3-37 3-3 2 19 3 65 2 59 3 7 2-17 3-61 2-58 3-10 2 8 3 64 2 68 3 4 2-24 3-94 3-47 2 23 3 106 2 50 3-20 2-68 3-5 2 59 3 43 2-3 3-58 2-48 3-9 2 33 3 43 3 34 2 13 3 9 2-5 3-11 2 3 3-10 2-12 3-18 2-25 3-35 2-42 3-44 2-39 3-9 3 5 2 24 3 51 2 55 3 47 2 33 3 4 2 0 3 5 2-27 3-43 2-58 3-62 2-39 3 3 3 55 2 108 3 59 2-9 3-101 2-38 3 61 2 96 3 1 2-96 3-39 2 51 3 83 2 6 3-55 3-62 2-5 3 14 2 46 3 44 2 31 3 5 2-5 3-16 2-44 3-57 2-59 3-30 2-6 3 20 3 53 2 59 3 46 2 26 3 4 2-8 3 3 2 3 3-1 2-5 3-8 2-6 3-12 2-18 3-27 2-36 3-38 3-20 2 16 3 47 2 83 3 40 2-18 3-93 2-51 3 26 2 101 3 24 2-66 3-112 2-25 3 59 3 99 2 46 3-6 2-57 3-54 2-1 3 19 2 64 3 44 2-5 3-69 2-77 3-7 2 27 3 73 3 56 2 8 3 3 2-21 3-22 2-21 3-18 2-14 3-13"/>
<path class="y" d="M403 640l2-10 2-3 3-5 2 9 2 10 3 3 2-12 2 5 3 0 2 4 2-7 3-2 2 6 2-5 3 14 2 1 2-9 3-10 2 6 2 8 3-2 2-3 2 4 3-4 2 9 2-8 3 8 2-6 2 4 2-10 3 10 2-3 2 2 3 5 2 3 2-6 3-7 2 6 2 6 3-12 2 9 2 2 3 18 2-11 2-6 3 9 2-16 2 14 3 1 2-8 2-2 3 10 2-11 2-1 3-4 2 8 2 4 3-3 2 9 2-9 2 0 3 12 2-12 2 8 4-85 2-50 3-50 2-6 3 10 2 30 3 75 3 43 2-2 3-40 2-89 3-48 2 13 3 29 2 90 3 51 2-2 3-33 2-82 3-17 2 5 3 96 3 31 2-24 3-144 2-36 3 62 2 134 3 10 2-59 3-116 2-33 3 2 2 18 3 47 2 39 3 27 3 18 2 11 3 8 2 8 3 10 2 13 3 4 2-7 3 6 2-7 3 4 2-7 3-46 2-57 3-58 3-37 2-11 3-13 2-7 3 26 2 60 3 69 2 66 3 26 2 1 3 9 2-69 3-88 2-26 3 1 3 117 2 57 3-31 2-171 3-21 2 121 3 97 2-17 3-146 2-18 3 26 2 109 3 58 2-5 3-6 3-70 2-81 3-74 2-20 3-14 2-9 3 22 2 70 3 79 2 71 3 35 2 1 3-1 2-9 3-26 3-45 2-43 3-38 2-30 3-21 2-11 3-4 2 0 3 2 2 4 3 10 2 21 3 4 2 4 3 57 3 95 2 42 3 4 2-127 3-105 2-9 3 152 2 85 3-8 2-129 3-35 2 21 3 104 2 54 3-1 3-49 2-105 3-51 2-16 3 58 2 114 3 37 2 6 3-78 2-108 3-18 2 7 3 65 2 88 3 37 3 0 2-1 3-6 2-16 3-22 2-10 3 1"/>
<path class="y" d="M402 640l2-4 2-7 3 6 2 1 2 3 3 6 2-8 2 0 3 4 2 2 2-12 3 10 2-7 2 3 3 4 2 2 2-8 3 4 2-3 2 6 2-1 3-12 2 17 2-4 3 9 2-5 2-4 3 6 2-1 2-3 3-4 2 1 2-3 3 6 2 2 2 7 3-9 2-9 2 10 3 13 2-12 2-5 3 13 2 7 2-11 3 4 2 0 2 7 2-19 3 13 2-12 2 11 3 3 2 3 2-4 3-10 2 21 2-8 3 1 2-15 2 9 3 5 2 0 2 0 4-50 2-78 3-88 2-11 3 40 2 122 3 51 2-33 3-131 3-68 2 8 3 125 2 99 3-1 2-99 3-155 2-35 3 48 2 175 3 73 2-37 3-171 2-40 3 63 2 165 3 22 3-76 2-133 3-14 2 43 3 106 2 76 3 1 2-1 3-12 2-26 3-19 2-12 3-10 2-9 3-13 3-18 2-27 3-39 2-45 3-24 2-11 3-21 2 39 3 93 2 99 3 46 2-3 3-25 2-96 3-103 3-61 2 0 3 4 2 103 3 126 2 64 3-6 2-121 3-154 2 9 3 106 2 167 3-5 2-163 3-49 3 100 2 116 3-29 2-166 3-37 2 59 3 137 2 39 3 0 2-76 3-82 2-62 3-12 2-12 3-6 3-3 2 36 3 54 2 67 3 69 2 30 3 0 2 1 3-44 2-75 3-71 2-54 3-31 2 10 3 9 3 4 2 1 3 6 2 30 3 44 2 59 3 70 2 54 3 1 2-4 3-102 2-103 3 2 2 108 3 109 3-25 2-168 3-53 2 108 3 130 2-30 3-188 2-75 3 33 2 159 3 91 2-2 3-85 2-131 3-66 3-13 2 68 3 134 2 88 3-1 2-62 3-143 2-103 3 14 2 13 3 92 2 89 3 66 2 40 3 20 3-7 2 0 3 1"/>
<path class="y" d="M401 636l2-3 2 0 3 2 2 5 2 6 3-2 2 4 2-19 3 13 2 0 2-12 2 10 3-5 2 4 2 6 3-3 2-8 2-1 3 9 2 7 2-4 3 7 2-6 2-6 3-2 2 1 2 4 3 3 2-3 2-1 3 6 2 0 2 1 3-9 2 6 2-6 3 7 2-5 2 8 2 5 3 5 2 2 2-1 3-13 2 6 2 2 3-8 2-4 2 4 3 6 2 4 2 3 3-7 2 5 2-4 3-7 2 1 2 9 3 1 2-3 2 6 3-7 2-7 2 12 4-77 2-56 3-70 2-36 3 9 2 79 3 81 2 4 3-56 2-90 3-31 2 30 3 81 3 64 2 8 3-48 2-69 3-33 2 13 3 71 2 61 3-12 2-86 3-69 2 23 3 93 2 52 3-19 3-79 2-57 3-2 2 23 3 44 2 39 3 26 2 16 3 9 2 4 3-3 2 1 3 6 2-5 3 1 3-1 2 3 3-5 2-29 3-45 2-57 3-57 2-27 3-3 2 26 3 62 2 70 3 56 2 18 3-3 3-44 2-66 3-67 2-29 3-3 2 68 3 97 2 38 3-52 2-130 3-36 2 104 3 110 2-35 3-135 2-31 3 106 3 104 2 1 3-80 2-85 3-28 2-2 3 32 2 48 3 46 2 38 3 27 2 2 3-1 2 2 3-19 3-34 2-42 3-43 2-36 3-19 2-7 3-1 2 19 3 25 2 28 3 27 2 24 3 22 2 20 3 19 3 18 2 9 3 1 2-6 3-47 2-80 3-86 2-27 3 69 2 130 3 33 2-90 3-124 2 22 3 140 3 67 2-55 3-116 2-40 3 63 2 103 3 62 2-8 3-69 2-82 3-47 2 6 3 52 2 82 3 63 3 8 2-26 3-68 2-66 3-34 2-5 3 27 2 38 3 37 2 28 3 19 2 11 3 5 2 2"/>
<path class="k" d="M399 627l3 7 2 8 2-10 3-2 2 2 2 13 3-5 2-3 2-2 3 6 2-3 2-1 3 8 2-1 2-2 3-1 2-4 2 13 3 2 2-9 2 2 3-7 2 0 2 4 3 1 2 4 2-4 3 5 2-2 2 0 2-1 3 7 2-1 2 2 3 4 2-9 2 4 3 8 2-11 2 3 3 5 2-8 2 1 3 4 2-10 2 7 3-6 2 7 2-1 3 8 2-3 2-3 3-3 2 10 2-10 3 6 2-13 2 7 2 10 3-7 2 2 2 6 3 0 2-13 3-70 3-10 3-33 2-54 3-47 2 1 3 31 2 68 3 32 2-15 3-66 2-59 3-9 2 44 3 66 2 44 3-7 3-58 2-76 3-36 2 26 3 85 2 62 3-13 2-88 3-69 2 9 3 82 2 75 3 9 2-51 3-71 3-55 2-21 3-2 2 2 3-5 2 5 3 4 2 2 3 3 2 3 3 4 2 7 3 7 2 14 3 23 3 30 2 37 3 35 2 20 3-7 2-5 3-38 2-44 3-39 2-17 3-5 2 18 3 39 2 50 3 45 3 10 2-13 3-70 2-85 3-31 2 60 3 111 2 32 3-100 2-107 3 23 2 129 3 51 2-72 3-119 3-34 2 36 3 85 2 70 3 30 2-6 3-7 2-27 3-30 2-31 3-30 2-28 3-25 2-20 3-7 3 4 2 10 3 29 2 38 3 40 2 36 3 30 2 22 3 15 2 5 3 7 2 4 3-5 2-1 3-1 2-14 3-26 3-39 2-48 3-41 2 3 3 44 2 88 3 36 2-58 3-118 2-30 3 96 2 100 3-26 2-122 3-81 3 26 2 98 3 86 2 14 3-36 2-75 3-68 2-30 3 10 2 53 3 73 2 61 3 10 2-7 3-54 3-63 2-46 3-10 2 2 3 18 2 25 3 22 2 15 3 8 2 2"/>
<path class="g" d="M398 641l3-4 2-1 2 10 3-4 2-4 2-7 3 11 2-8 2 8 3-8 2-2 2 15 3-9 2-1 2-1 3-1 2 5 2 4 2-15 3 18 2-13 2 13 3-4 2 4 2 4 3-1 2 2 2-11 3 10 2 3 2-10 3 16 2-9 2-1 3 0 2-5 2-5 3 9 2-6 2 6 3-13 2 20 2-8 3 11 2 1 2-8 3 2 2 7 2-11 2-2 3 14 2 4 2-13 3-4 2 8 2-4 3-2 2 6 2 4 3-12 2 4 2 9 3-7 2 10 3-83 3 1 2-15 3-40 2-37 3-3 3 6 2 48 3 51 2 4 3-44 2-96 3-82 2-5 3 49 2 95 3 65 2 4 3-44 2-72 3-25 3 32 2 81 3 27 2-46 3-123 2-45 3 43 2 115 3 47 2-20 3-66 2-53 3-22 2 10 3 7 3 1 2-20 3-17 2-26 3-18 2-13 3-2 2 11 3 25 2 38 3 49 2 54 3 48 2 33 3 14 3-3 2-13 3-42 2-57 3-64 2-56 3-19 2-16 3 21 2 62 3 80 2 72 3 27 2-12 3-81 3-95 2-24 3 78 2 108 3-28 2-177 3-73 2 97 3 162 2 6 3-95 2-72 3 25 2 57 3 69 3 49 2 11 3-7 2-7 3-26 2-47 3-54 2-53 3-40 2-21 3 21 2 17 3 31 2 45 3 40 3 33 2 24 3 16 2 9 3-3 2-13 3 3 2-3 3 7 2 10 3 8 2 13 3-11 2-25 3-42 3-53 2-25 3-13 2 74 3 89 2-15 3-141 2-104 3 30 2 158 3 67 2-36 3-95 2-22 3 21 3 75 2 66 3 10 2-27 3-88 2-97 3-38 2 7 3 89 2 104 3 61 2-3 3-47 2-57 3-46 3-11 2-20 3-8 2 3 3 2 2-1 3-3 2-6"/>
<path class="r" d="M397 636l3 7 2-8 2 4 3 5 2-1 2-10 3 1 2-2 2 8 2 5 3-13 2 10 2-7 3 4 2 7 2-3 3-14 2 11 2 3 3 7 2-4 2-2 3-3 2-4 2 6 3 6 2 6 2-8 3 3 2 3 2-8 3-2 2 9 2-15 3 10 2 11 2-9 2 3 3 1 2-16 2 1 3 16 2 9 2-6 3-5 2 6 2 1 3-8 2 1 2 4 3-1 2 1 2-7 3 12 2 0 2-7 3-1 2-6 2 12 3 5 2-3 2-5 3 10 2-7 3-35 3-10 2-37 3-58 2-59 3-18 2 29 3 80 3 67 2-3 3-75 2-94 3-37 2 29 3 85 2 79 3 14 2-47 3-99 2-84 3-4 2 89 3 114 2 16 3-97 3-143 2-30 3 101 2 136 3 36 2-49 3-96 2-71 3-13 2 2 3 15 2 22 3 16 2 10 3 4 3 2 2 2 3 4 2 7 3 12 2 17 3 24 2 31 3 35 2 31 3 10 2-2 3-41 2-68 3-81 3-72 2-39 3-4 2 40 3 71 2 86 3 77 2 30 3-7 2-80 3-112 2-66 3 41 2 141 3 89 3-59 2-162 3-38 2 139 3 127 2-39 3-137 2-63 3 20 2 96 3 86 2 41 3-6 2-32 3-48 3-51 2-49 3-43 2-36 3-25 2-9 3 7 2 12 3 36 2 47 3 52 2 50 3 42 2 29 3 17 3 6 2-7 3 3 2-7 3-8 2-11 3-16 2-23 3-34 2-47 3-54 2-44 3-3 2 65 3 117 3 77 2-39 3-137 2-71 3 87 2 140 3 24 2-103 3-103 2-1 3 87 2 96 3 22 2-30 3-97 3-103 2-63 3 4 2 69 3 104 2 90 3 24 2-37 3-99 2-107 3-72 2-11 3 24 2 55 3 58 3 48 2 34 3 21 2 11"/>
<path class="b" d="M396 647l2 7 3-11 2-7 2 3 3 1 2-5 2 3 3-4 2 8 2 1 3-2 2 4 2 4 3-2 2-3 2-3 3 9 2-11 2 13 3 0 2 1 2-8 3 4 2-8 2 2 3-2 2 8 2 2 2-4 3 4 2 0 2-6 3-3 2 9 2-7 3 1 2 3 2-1 3 10 2-5 2-6 3-1 2 2 2 2 3 0 2 3 2 3 3-6 2 5 2 4 3 1 2-11 2 6 3 6 2-3 2 4 2-4 3 3 2-4 2 2 3 1 2 3 2-4 3 5 3-76 3-31 2-43 3-31 2 3 3-5 2 68 3 73 2 8 3-37 2-71 3-14 3 6 2 60 3 58 2-3 3-13 2-70 3-55 2-14 3 35 2 91 3 24 2-11 3-103 2-38 3 7 3 102 2 47 3 1 2-82 3-81 2-12 3-4 2 34 3 46 2 37 3 25 2 14 3 8 2 3 3 2 3 1 2 2 3 4 2 4 3 3 2 5 3 2 2-11 3 2 2-42 3-59 2-55 3-12 2 2 3 15 3 29 2 55 3 52 2 11 3 4 2 3 3-53 2-87 3-51 2 1 3 56 2 121 3 8 2-59 3-118 2 11 3 119 3 45 2-33 3-130 2-17 3 45 2 108 3 23 2 8 3-39 2-59 3-45 2-25 3 10 2 10 3 3 3-1 2 3 3 9 2 24 3 32 2 36 3 35 2 11 3-2 2-3 3 17 2-5 3-16 2-17 3-15 3-17 2-18 3-22 2-28 3-34 2-23 3-8 2-5 3 11 2 90 3 102 2-1 3-22 2-120 3-13 3 58 2 113 3 5 2-117 3-75 2 3 3 115 2 63 3 3 2-56 3-83 2-19 3 6 2 24 3 67 3 60 2 7 3-8 2-33 3-80 2-62 3-4 2 0 3 33 2 62 3 52 2 35 3 10 2-1 3-4"/>
<path class="c" d="M395 644l2 1 3-3 2-9 2 6 3-9 2 12 2 10 3-13 2-3 2 14 3-7 2-7 2 9 3-7 2-2 2 8 3-7 2 11 2-8 2 11 3 6 2-16 2 9 3-12 2 4 2 11 3 0 2-4 2-2 3-4 2 1 2 10 3 1 2-2 2 1 3-4 2 5 2 1 3-9 2 5 2-2 3-2 2 6 2-4 3 1 2 1 2 2 2 2 3-1 2-4 2 4 3-6 2 0 2-2 3-3 2 14 2-5 3-1 2 3 2 4 3 2 2 7 2 4 3-15 3-5 3 3 2-42 3-71 2-76 3 2 2 0 3 45 2 103 3 38 2 0 3-26 2-79 3-34 2 12 3 2 3 72 2 55 3 1 2-7 3-101 2-62 3-14 2 79 3 101 2-2 3-95 2-129 3 6 2 85 3 141 3 2 2 0 3-61 2-75 3-49 2-17 3 14 2 9 3-2 2 7 3 8 2 6 3 10 2-3 3-8 3-9 2-8 3-7 2-10 3 18 2 47 3 59 2 59 3 21 2-4 3-2 2 1 3-19 2-60 3-67 3-65 2-13 3 7 2 5 3 73 2 117 3 29 2-15 3-119 2-60 3 23 2 154 3 14 2-78 3-119 3-5 2 97 3 102 2 2 3-17 2-115 3-101 2-13 3-2 2 4 3 6 2 33 3 58 2 60 3 56 3 43 2-2 3 0 2 4 3-2 2-6 3-33 2-33 3-28 2-23 3-19 2-16 3-13 2-13 3-13 3-16 2-14 3-6 2-3 3-9 2-13 3 0 2 100 3 140 2 21 3-6 2-148 3-68 2 10 3 162 2 57 3-10 3-130 2-37 3 0 2 86 3 79 2 5 3 9 2-78 3-98 2-23 3-11 2 28 3 112 2 68 3 3 3-3 2-111 3-114 2-15 3 2 2 11 3 27 2 49 3 36 2 20 3 8"/>
<path class="m" d="M394 643l2 7 3-6 2-7 2 8 3-8 2 9 2-13 2-3 3 15 2 3 2-6 3 7 2-7 2-4 3 7 2 0 2 12 3-11 2-2 2-10 3 16 2-4 2 2 3 5 2-6 2-7 3-1 2 13 2 5 3 0 2-7 2-4 3 6 2 0 2-1 3-7 2 7 2-4 2 9 3-12 2 12 2-3 3 3 2 0 2-5 3 1 2 5 2-7 3 9 2 2 2 0 3-8 2 13 2-9 3 3 2-6 2 11 3-6 2-1 2 5 3-8 2 3 2 5 3 5 3-88 2 37 3 2 2 2 3-55 3-119 2-32 3-15 2 110 3 104 2-9 3-63 2-167 3-27 2 6 3 118 2 138 3 7 2 3 3-100 3-121 2-3 3 4 2 144 3 78 2-10 3-117 2-155 3 8 2 21 3 141 2 109 3 12 2-2 3-11 3 1 2-5 3-8 2-1 3 7 2 8 3-2 2-5 3 0 2 6 3 9 2-21 3-38 2-54 3-69 3-69 2-8 3-20 2-14 3 63 2 116 3 102 2-2 3 0 2-2 3-115 2-122 3-49 2 17 3 8 3 151 2 120 3-6 2-77 3-198 2-10 3 135 2 152 3 5 2-190 3-60 2 13 3 162 2 88 3-5 3 0 2-70 3-83 2-76 3-55 2-13 3-18 2-14 3-5 2 2 3 11 2 8 3 14 2 35 3 63 3 66 2 63 3 55 2 7 3 4 2 6 3-6 2 4 3 5 2 3 3-5 2-5 3-30 2-47 3-61 3-72 2-18 3-10 2 37 3 160 2 43 3-5 2-226 3-52 2 67 3 224 2 2 3-103 2-140 3 7 3 63 2 143 3 36 2-7 3-28 2-128 3-127 2-23 3-2 2 3 3 83 2 126 3 96 2 10 3 3 3-4 2-72 3-92 2-83 3-61 2-4 3-11 2-6 3 4"/>
<path class="m" d="M393 633l2 6 2 11 3-3 2-12 2 3 3 8 2-5 2-2 3 4 2 1 2 8 3-9 2 0 2 3 3-3 2 8 2 1 3 4 2-8 2-2 3-7 2-6 2 12 3 5 2-8 2 11 2-3 3 2 2 1 2 3 3-1 2-4 2 2 3 0 2-7 2 2 3 1 2-1 2 6 3 9 2-9 2 5 3 0 2-7 2 12 3-12 2-6 2 11 3-2 2 1 2-5 3 0 2 7 2-10 3 6 2 15 2-12 2-16 3 28 2-3 2-8 3 7 2 4 2-8 4-93 2 36 3 9 2-2 3-20 2-75 3-45 3-1 2 70 3 66 2-1 3-34 2-75 3-5 2 1 3 64 2 57 3 5 2-3 3-53 2-59 3-3 3-4 2 63 3 45 2 12 3-38 2-79 3-30 2-4 3 41 2 59 3 44 2-1 3-3 2 4 3-1 2 0 3 4 3-9 2 1 3 1 2 2 3 2 2 6 3 1 2 1 3-2 2-3 3-18 2-44 3-54 2-43 3-6 3-13 2 38 3 65 2 61 3 9 2 7 3-19 2-60 3-64 2-10 3-7 2 41 3 88 2 34 3-9 3-99 2-44 3 21 2 112 3 30 2-38 3-90 2-5 3 20 2 73 3 34 2-1 3 3 2-3 3-31 3-27 2-22 3-18 2-14 3-11 2-12 3-12 2-11 3-1 2 4 3-6 2-2 3 9 2 6 3 15 3 30 2 30 3 28 2 23 3 20 2 9 3 1 2-2 3 8 2 1 3-2 2-39 3-62 2-67 3-3 3 14 2 104 3 41 2-13 3-114 2-17 3 54 2 100 3 5 2-61 3-71 2-5 3 22 2 67 3 51 3 3 2 0 3-19 2-45 3-47 2-29 3-3 2 0 3-8 2 38 3 45 2 42 3 8 2-2 3-2 3 1 2 5 3-2 2-3 3 1"/>
<path class="b" d="M392 646l2 3 2-7 3 11 2-17 2-4 3 9 2 4 2-3 3 5 2-6 2 0 3 12 2-7 2-3 3 2 2 0 2-4 2 0 3 8 2-1 2 5 3-11 2-5 2 10 3 4 2-1 2 1 3-5 2 9 2-4 3-1 2-2 2 10 3 8 2-4 2-2 3-7 2 7 2-8 3-6 2 13 2-3 3 4 2 1 2-16 2 11 3 4 2 7 2-8 3-3 2-1 2-2 3 6 2-5 2 13 3-19 2 2 2 11 3-1 2 9 2-5 3 7 2-3 2-1 4-31 2 3 3 7 2-46 3-109 2-67 3 13 2 90 3 113 2 4 3-32 3-98 2-34 3-9 2 61 3 86 2 23 3-5 2-48 3-90 2-39 3 6 2 66 3 94 2 22 3-6 3-88 2-86 3-12 2 1 3 65 2 69 3 51 2 3 3 4 2-4 3-1 2 0 3 6 2-11 3-1 3 3 2 3 3 5 2-9 3-4 2-1 3-4 2 8 3-13 2-74 3-86 2-72 3 0 2 14 3 41 3 82 2 80 3 49 2-2 3 0 2-57 3-87 2-68 3 7 2 31 3 113 2 65 3 4 2-115 3-77 3 4 2 133 3 59 2-37 3-159 2-73 3-14 2 92 3 111 2 67 3 12 2 4 3 0 2-1 3-2 2-1 3-8 3-14 2-19 3-26 2-34 3-41 2-47 3-45 2-37 3-18 2 15 3 12 2 10 3 8 2 3 3 16 3 19 2 21 3 26 2 34 3 43 2 50 3 37 2 2 3-4 2-79 3-101 2-19 3 30 2 129 3 41 3-61 2-157 3-25 2 103 3 133 2-2 3-75 2-132 3-33 2 6 3 36 2 87 3 79 2 49 3 1 3-9 2-11 3-69 2-82 3-75 2-21 3-1 2 14 3 23 2 52 3 46 2 34 3 21 2 10 3-1 3-8"/>
<path class="b" d="M391 649l2 2 2-9 3-1 2 3 2-3 2-3 3-2 2 6 2-8 3 17 2-5 2 2 3-13 2 9 2 2 3-8 2 9 2-3 3 13 2-7 2 7 3-8 2-2 2-2 3 3 2-1 2 10 3 0 2-12 2 1 3 2 2 0 2-1 3 4 2 15 2-22 2 5 3 3 2 8 2 5 3-1 2-16 2 12 3-6 2 4 2 0 3 6 2-8 2 8 3-6 2 5 2-14 3 2 2 6 2-4 3 8 2-6 2 0 3 0 2 1 2 2 3 12 2-16 2 5 4-61 2 6 3 10 2-25 3-51 2-18 3-1 2 54 3 38 2 8 3-62 2-69 3-12 2 33 3 69 3 23 2-3 3-29 2-59 3-34 2-7 3 4 2 63 3 60 2-12 3-26 2-104 3-83 2-6 3 17 3 78 2 75 3 50 2 9 3 2 2 2 3 1 2 4 3-7 2-6 3-7 2 7 3-9 2 8 3 7 3 4 2 0 3 6 2 2 3-11 2-20 3-54 2-62 3-11 2-15 3 23 2 70 3 64 2 3 3 5 3-42 2-55 3-33 2 10 3 12 2 60 3 58 2 4 3-54 2-120 3-33 2 34 3 136 2 10 3-63 3-130 2-3 3 25 2 99 3 79 2 24 3-3 2-4 3 3 2-7 3-2 2-4 3-1 2 0 3 0 3-1 2-4 3-8 2-13 3-19 2-25 3-31 2-30 3-16 2-14 3-23 2-14 3 13 2 28 3 36 3 40 2 42 3 38 2 22 3-6 2 4 3-37 2-74 3-57 2-6 3 62 2 103 3-7 2-83 3-74 2 31 3 111 3 38 2-12 3-73 2-41 3-7 2 10 3 46 2 45 3 24 2-4 3-5 2-4 3-36 2-42 3-39 3-31 2-5 3 7 2 2 3 2 2 12 3 21 2 20 3 17 2 12 3 8 2 4"/>
<path class="y" d="M389 637l3-1 2 17 2-16 3 12 2 3 2-6 3 3 2 0 2-14 3 7 2-7 2 14 3-5 2 2 2-3 3-1 2 10 2-9 3 12 2-5 2 0 3-4 2 3 2 10 2-8 3-3 2 4 2-2 3 2 2 0 2 2 3 16 2-22 2-2 3 2 2 1 2 12 3 3 2-15 2-1 3 9 2-4 2 4 3 4 2-2 2-2 3-8 2 19 2-5 3-6 2 5 2-2 3 8 2-6 2-20 2 12 3 10 2 12 2-5 3-6 2 0 2-3 3 5 2 5 3-72 3-4 2-45 3-70 3-20 2-2 3 79 2 60 3-5 2-80 3-57 2 9 3 85 2 54 3-2 2-34 3-61 2-4 3-11 3 37 2 57 3 18 2 2 3-51 2-81 3-32 2-9 3 51 2 80 3 12 2 17 3-22 2-54 3-50 3-36 2-22 3-12 2-4 3 5 2 10 3 8 2 14 3 14 2 10 3 5 2-2 3-7 2 10 3-8 3 0 2 15 3 58 2 65 3 11 2 3 3-59 2-88 3-49 2 13 3 24 2 81 3 65 2-5 3 3 3-85 2-90 3-3 2 27 3 116 2 45 3-31 2-123 3-16 2 46 3 119 2 9 3-36 2-94 3-33 3-2 2 19 3 45 2 38 3 27 2 17 3 9 2 7 3 2 2 3 3-2 2 5 3-1 2 2 3-1 3 5 2-1 3-31 2-42 3-46 2-43 3-24 2-1 3 6 2-3 3 10 2 28 3 39 2 45 3 45 3 18 2-9 3-7 2-89 3-100 2 1 3 48 2 137 3 12 2-86 3-86 2 21 3 131 2 31 3-27 3-96 2-20 3 3 2 66 3 63 2 18 3-1 2 13 3-26 2-36 3-39 2-37 3-20 2-15 3 0 3-12 2 22 3 38 2 40 3 36 2 14 3 6 2 4 3-5 2 7"/>
<path class="b" d="M388 638l3 4 2-5 2 9 3 9 2-26 2 18 3-6 2 0 2 8 3-4 2-5 2 10 3-17 2 5 2 17 2 5 3-9 2-1 2-2 3 2 2 1 2-4 3 0 2 0 2 7 3 0 2-4 2-2 3 3 2-14 2 24 3-1 2-10 2-6 3 16 2-4 2 7 3-21 2 26 2-7 3 6 2-5 2 7 2-10 3-4 2-4 2 9 3-8 2-5 2 15 3-11 2 4 2 0 3 4 2 10 2-11 3 18 2-15 2-3 3-3 2 3 2 4 3-3 2-5 3-15 3 12 2-12 3-50 2-71 3-34 3 17 2 90 3 50 2-20 3-112 2-75 3 14 2 100 3 91 2 9 3-47 2-82 3-58 2 6 3 37 3 73 2 64 3 5 2-23 3-68 2-67 3-5 2 32 3 64 2 54 3 26 2-1 3-11 2-17 3-13 2-8 3-3 3 2 2 5 3 7 2 8 3 6 2 3 3-1 2-7 3-15 2-25 3-38 2-46 3-42 2-14 3 12 3 60 2 81 3 53 2 12 3-50 2-90 3-85 2-28 3 10 2 76 3 96 2 63 3-4 2-58 3-99 3-37 2 48 3 114 2 36 3-49 2-106 3-20 2 65 3 91 2 27 3-12 2-49 3-48 2-35 3-23 3-4 2-13 3-14 2-6 3-13 2-9 3-8 2-4 3 7 2 16 3 24 2 34 3 40 2 43 3 39 3 31 2 2 3 4 2 8 3-18 2-25 3-27 2-29 3-27 2-23 3-18 2 5 3 5 2 41 3 62 3 55 2-5 3-76 2-102 3-7 2 110 3 69 2-33 3-129 2-42 3 74 2 108 3 36 2-22 3-75 3-73 2-48 3-3 2-1 3 33 2 47 3 51 2 48 3 37 2 12 3-7 2-7 3-34 2-40 3-39 3-33 2-25 3-15 2-7 3 8 2 2"/>
<path class="g" d="M387 652l3-7 2 7 2-9 3 5 2-17 2 7 2 0 3 9 2 2 2 2 3-12 2 18 2-16 3 6 2 6 2-12 3-3 2 9 2-1 3 5 2-7 2-5 3 13 2-1 2 1 3 5 2 0 2-14 3 21 2-12 2 4 3 7 2-7 2-1 2 7 3-7 2-7 2 6 3 11 2-1 2-13 3-4 2 10 2 6 3-3 2-8 2 4 3 8 2-15 2 7 3 7 2-7 2 4 3 1 2 3 2 1 3-3 2-4 2 0 3 5 2-6 2-6 2 15 3-5 3-22 3 4 2 4 3-30 2-63 3-61 2-9 3 56 2 88 3 33 3-44 2-91 3-41 2 16 3 81 2 75 3 11 2-31 3-75 2-64 3-11 2 34 3 76 2 62 3 2 3-51 2-77 3-43 2 14 3 57 2 61 3 37 2 4 3-13 2-23 3-21 2-15 3-8 2 0 3 5 3 9 2 10 3 8 2 5 3-1 2-8 3-18 2-29 3-40 2-48 3-42 2-12 3 13 2 58 3 79 3 70 2 26 3-1 2-44 3-59 2-53 3-14 2 2 3 51 2 71 3 55 2-1 3-44 2-87 3-32 3 48 2 97 3 26 2-83 3-99 2-8 3 81 2 83 3 19 2-42 3-68 2-61 3-42 2-18 3-2 2-4 3-6 3 4 2-4 3 5 2 10 3 15 2 22 3 30 2 37 3 41 2 39 3 32 2 22 3-1 2-3 3-3 3-13 2-18 3-19 2-19 3-20 2-22 3-23 2-19 3 1 2 7 3 43 2 69 3 52 2-7 3-85 3-81 2 16 3 106 2 49 3-61 2-119 3-30 2 67 3 99 2 33 3-20 2-76 3-78 2-55 3-7 3 2 2 42 3 58 2 63 3 55 2 26 3 11 2-20 3-42 2-49 3-43 2-30 3-17 2-1 3 6 3 2 2 6"/>
<path class="b" d="M386 642l2-3 3 6 2 4 2-5 3 0 2 5 2-13 3 3 2 7 2-4 3 15 2-5 2-14 3 4 2 17 2-9 3 4 2-5 2 2 3 0 2 5 2 5 3-13 2 0 2 10 2-1 3-2 2 3 2 3 3 5 2-17 2 4 3 5 2-4 2 0 3 0 2 6 2-7 3 4 2 8 2-11 3-3 2 5 2-5 3 3 2 16 2-15 3 3 2 0 2-5 3 2 2 8 2-3 2 4 3-2 2 0 2-2 3 1 2-7 2 15 3-11 2-1 2 4 3 0 3-21 3 4 2-25 3-56 2-73 3-50 2 4 3 79 2 93 3 24 2-44 3-89 2-45 3 18 3 69 2 69 3 24 2-10 3-54 2-64 3-47 2-8 3 35 2 68 3 63 2 12 3-22 2-70 3-69 3-33 2 8 3 40 2 48 3 42 2 28 3 16 2 8 3 1 2-4 3-10 2-16 3-19 2-20 3-18 3-12 2-5 3 5 2 15 3 27 2 34 3 35 2 8 3-3 2-42 3-75 2-74 3-47 2 0 3 37 3 67 2 72 3 56 2 14 3-9 2-57 3-77 2-60 3 3 2 60 3 101 2 38 3-47 2-117 3-52 3 44 2 114 3 63 2-28 3-91 2-90 3-46 2-4 3-6 2 18 3 17 2 13 3 8 2 5 3 4 3 5 2 5 3 9 2 12 3 17 2 22 3 26 2 29 3 29 2 25 3 20 2 12 3-6 2-7 3 4 3-4 2-14 3-19 2-25 3-33 2-42 3-47 2-41 3-6 2 27 3 89 2 97 3 13 2-73 3-120 3-21 2 103 3 113 2-2 3-107 2-102 3-9 2 50 3 87 2 69 3 19 2 6 3-22 2-38 3-44 2-43 3-38 3-29 2-11 3 3 2 7 3 30 2 39 3 41 2 36 3 27 2 19 3 11 2 6 3 0"/>
<path class="g" d="M385 650l2-5 3-6 2 4 2 8 3-4 2 5 2-6 3 2 2 0 2 1 3-2 2-10 2 9 2-4 3 8 2 16 2-14 3-2 2 0 2 6 3 1 2-10 2-4 3 6 2 10 2 2 3-2 2 2 2-4 3 2 2-7 2 3 3-12 2 20 2-10 3-3 2 3 2 11 3-12 2 10 2-1 3 0 2-9 2 8 2-1 3-6 2 12 2-8 3-6 2 7 2 8 3 4 2-9 2-3 3 3 2 9 2-3 3-4 2-2 2 2 3-5 2-2 2 14 3 0 3-60 2 2 3 6 3-26 2-67 3-38 2 1 3 44 2 80 3-12 2-26 3-88 2-2 3 11 2 82 3 35 2 1 3-39 3-64 2-19 3 11 2 50 3 66 2 6 3-9 2-84 3-57 2-7 3 42 2 85 3 27 2-5 3-17 3-50 2-39 3-25 2-8 3 8 2-8 3-8 2-2 3-4 2 1 3 1 2-2 3 2 2-7 3-2 3 15 2 4 3-5 2 45 3 57 2 45 3-5 2-1 3-48 2-79 3-48 2 0 3-5 2 62 3 82 3 40 2-4 3-17 2-86 3-31 2-4 3 97 2 58 3-8 2-124 3-34 2 44 3 121 2 3 3-42 3-91 2-17 3 6 2 17 3 45 2 37 3 26 2 17 3-7 2 1 3 7 2-3 3 1 2-7 3 0 3 4 2 1 3-28 2-33 3-35 2-34 3-16 2-15 3 6 2-3 3-10 2 7 3 10 2 30 3 36 3 41 2 42 3 12 2 4 3-8 2-77 3-76 2 2 3 50 2 101 3-1 2-103 3-57 2 27 3 134 3 17 2-40 3-94 2-14 3 8 2 65 3 63 2 22 3-5 2-9 3-39 2-58 3-54 2-8 3 3 3-1 2 28 3 53 2 50 3 29 2-5 3-4 2-6 3-4 2 9 3-1"/>
<path class="k" d="M384 651l2 0 3-7 2 4 2-7 2 6 3 0 2 3 2-3 3 6 2-7 2-3 3-9 2 9 2 13 3-3 2 0 2-1 3 3 2-6 2-3 3 1 2 16 2-6 3-2 2 1 2 6 3-9 2 3 2-9 3-4 2 9 2 0 2 7 3-8 2 1 2 4 3 2 2-1 2 7 3-7 2-2 2 3 3-4 2 2 2 0 3 8 2-3 2-7 3 6 2-6 2 8 3 5 2-11 2 5 3-1 2 4 2-2 3-1 2 3 2 1 3 3 2 1 2-4 2 3 4-91 2 1 3-5 2-59 3-79 3-27 2-4 3 36 2 121 3 8 2-18 3-131 2-25 3 13 2 113 3 60 2 20 3-33 2-72 3-15 3 7 2 24 3 72 2 16 3 4 2-68 3-100 2-12 3 7 2 104 3 50 2 6 3-15 2-82 3-76 3-28 2-8 3-14 2-8 3-4 2-9 3 6 2-1 3 4 2 16 3 16 2 7 3 8 2 20 3 1 2-2 3 21 3 56 2 67 3 11 2-7 3 10 2-71 3-94 2-30 3 6 2-1 3 63 2 94 3 28 2 2 3-1 3-119 2-80 3 4 2 90 3 108 2 10 3-118 2-67 3 8 2 152 3 47 2-15 3-117 2-68 3-1 3-11 2 31 3 50 2 41 3 31 2 22 3 8 2 3 3-10 2 1 3 8 2 5 3-5 2 9 3-11 3-10 2-42 3-44 2-41 3-22 2-2 3 13 2 4 3 1 2 11 3-5 2 6 3 27 2 38 3 51 3 30 2-5 3-10 2-106 3-130 2-2 3 96 2 142 3 10 2-158 3-56 2 36 3 177 2 18 3-24 3-130 2-30 3 1 2 17 3 88 2 76 3 8 2 5 3 0 2-15 3-56 2-58 3-30 2 5 3-24 3-12 2 42 3 49 2 45 3 35 2 1 3-6"/>
<path class="r" d="M383 642l2 10 2-7 3 0 2 6 2-2 3 4 2 2 2-7 3-7 2 0 2 7 3-7 2 8 2-2 3 8 2-5 2 3 3-1 2-2 2-6 3 4 2 3 2 3 2 11 3-3 2-1 2-9 3 0 2 12 2-6 3-10 2 6 2 6 3-4 2 9 2-7 3 8 2-11 2-3 3-3 2 11 2-2 3-9 2 8 2-7 3 13 2-3 2-6 3 9 2-3 2 4 2 13 3-14 2 2 2-4 3-2 2 1 2-4 3 10 2 10 2-14 3-10 2 9 2 0 4-23 2 0 3-15 2-46 3-53 2-24 3 4 2 38 3 88 3 12 2-6 3-122 2-63 3-11 2 109 3 93 2 3 3-37 2-121 3-66 2 5 3 41 2 122 3 51 3 1 2-89 3-170 2-21 3 5 2 168 3 101 2-4 3-8 2-99 3-75 2-16 3 9 2 3 3-2 3-1 2-3 3-1 2-5 3-4 2 2 3 8 2 2 3 9 2 5 3 4 2 2 3 34 2 63 3 75 3 34 2-3 3 4 2-101 3-127 2-66 3-4 2 5 3 81 2 126 3 84 2-2 3-8 2-133 3-123 3-6 2 70 3 186 2 2 3-121 2-155 3-2 2 187 3 95 2 0 3-125 2-89 3 8 2-1 3 51 3 56 2 45 3 32 2 24 3 3 2-5 3 6 2-4 3-1 2-3 3 13 2-2 3-2 2-41 3-57 2-66 3-69 3-54 2-11 3-14 2 5 3 2 2 6 3 15 2 28 3 59 2 69 3 75 2 71 3-4 2-6 3-76 3-144 2-17 3 57 2 176 3 2 2-96 3-104 2 13 3 145 2 51 3-1 2-115 3-88 2-13 3-9 3 86 2 97 3 42 2 0 3-2 2-21 3-92 2-96 3-51 2 3 3-8 2 3 3 65 2 76 3 68 3 52 2 10 3-3"/>
<path class="k" d="M382 647l2-1 2 4 3-3 2-4 2 13 3-5 2-4 2-4 3 6 2-1 2 8 3-8 2-10 2 13 2 2 3-3 2 1 2-1 3-1 2 1 2 9 3-6 2-3 2 0 3 4 2 1 2-5 3 3 2 7 2 1 3-20 2 7 2 5 3 9 2 1 2-6 3 0 2-2 2 3 3 2 2-4 2-3 2 8 3-5 2 9 2 1 3-6 2-1 2-4 3 14 2 14 2-27 3 1 2 20 2-7 3 1 2-15 2 5 3 15 2-4 2 3 3 1 2-2 2-10 4-37 2-1 3-4 2-46 3-88 2-56 3 5 2 14 3 120 2 69 3 1 2-57 3-110 3-16 2 4 3 65 2 98 3 16 2-3 3-58 2-114 3-34 2-7 3 72 2 123 3 18 2-26 3-164 3-71 2-5 3 60 2 136 3 58 2-5 3-3 2 12 3-1 2-14 3-2 2 8 3 15 2 3 3-5 3 3 2 12 3-1 2-4 3-4 2-1 3-40 2-59 3-73 2-74 3-3 2-9 3-7 2 41 3 94 3 94 2 30 3 6 2 1 3-16 2-107 3-118 2-16 3-5 2 68 3 171 2 24 3-24 2-194 3-23 3 58 2 186 3 1 2-89 3-152 2 5 3 2 2 119 3 101 2 14 3 1 2-3 3 2 2 0 3 2 3-19 2-21 3-24 2-29 3-35 2-39 3-42 2-31 3-8 2-6 3-5 2 3 3 5 2-7 3-8 3-1 2 14 3 14 2 19 3 26 2 37 3 53 2 66 3 25 2 11 3 7 2-72 3-161 2-24 3 9 3 196 2 49 3-17 2-177 3-5 2 46 3 155 2 17 3-1 2-110 3-90 2-6 3-6 2 27 3 82 2 82 3 26 3-5 2-3 3-37 2-105 3-106 2-37 3-1 2-3 3-6 2 52 3 51 2 38 3 21 2 7"/>
<path class="b" d="M381 633l2 16 2-8 2 6 3-10 2 10 2-1 3 0 2-3 2 10 3-2 2-1 2 4 3-8 2 4 2 1 3 2 2 1 2 3 3 1 2-1 2-3 3 13 2-13 2-1 3 2 2-9 2-6 3 11 2 0 2 14 3 0 2-3 2-4 2 9 3-8 2 0 2-3 3 4 2 2 2 9 3-15 2 8 2 1 3-10 2-10 2 6 3 7 2 2 2-9 3 13 2-8 2 14 3-7 2-3 2-1 3 11 2-11 2 4 3-11 2 11 2 0 2 0 3 7 2-8 3 6 3 2 3-9 2-14 3-67 2-71 3-4 2-2 3 73 2 83 3-4 2 2 3-79 2-76 3-3 2 1 3 75 3 84 2 23 3-5 2-84 3-112 2-17 3 25 2 132 3 63 2-8 3-129 2-97 3 2 2 32 3 103 3 79 2-6 3 11 2 0 3 3 2-14 3 7 2 5 3 8 2-5 3 1 2 7 3-4 2 8 3 2 3 6 2-18 3-38 2-51 3-59 2-55 3-8 2-5 3 4 2 20 3 58 2 60 3 54 2 24 3-1 3 2 2-25 3-72 2-75 3-4 2 10 3 115 2 59 3-9 2-154 3-53 2 40 3 165 2 17 3-81 3-161 2-29 3 2 2 81 3 100 2 72 3 5 2-7 3 1 2 0 3 9 2-7 3-22 2-30 3-34 3-38 2-37 3-34 2-10 3 2 2 1 3 8 2 11 3-7 2 5 3 7 2 0 3 8 2 9 3 10 3 14 2 22 3 32 2 44 3 50 2-3 3 3 2-43 3-112 2-29 3 19 2 139 3 42 2-41 3-150 3-28 2 40 3 138 2 41 3-3 2-95 3-123 2-40 3-8 2 3 3 95 2 105 3 52 2 5 3-3 3-67 2-101 3-72 2 2 3-4 2 9 3 54 2 49 3 37 2 23 3 10 2-1"/>
<path class="b" d="M379 651l3-13 2 15 2 2 3 1 2-6 2 3 3-4 2 2 2 4 3-3 2-3 2-2 3 4 2 8 2 2 3 2 2-7 2 0 3-6 2 1 2-3 2 8 3-1 2-1 2 12 3-14 2-4 2 6 3 2 2-4 2-2 3-3 2 19 2-4 3-2 2 2 2-1 3-6 2 13 2-12 3 6 2 1 2-4 3 2 2 9 2-6 3-10 2 7 2-5 2 4 3-1 2-2 2 7 3 3 2-7 2 4 3 2 2 1 2-2 3 5 2-4 2 7 3-2 2-12 3-10 3-47 2-77 3-91 3-25 2 1 3 76 2 133 3 35 2-19 3-127 2-77 3-1 2 66 3 125 2 31 3-2 2-115 3-117 3 3 2 43 3 145 2 34 3-20 2-134 3-32 2 43 3 132 2 14 3-49 2-130 3-24 2-10 3 59 3 83 2 61 3 11 2-1 3 2 2 1 3-2 2-7 3-3 2 4 3-5 2 0 3-1 2-44 3-65 2-79 3-78 3-20 2 6 3 4 2 58 3 101 2 95 3 36 2-1 3 9 2-36 3-97 2-103 3-22 2 3 3 66 3 157 2 54 3-16 2-163 3-38 2 67 3 151 2 3 3-184 2-67 3 64 2 174 3-4 2-65 3-156 3-55 2-4 3 11 2 78 3 80 2 68 3 42 2 0 3-6 2-4 3 1 2-63 3-89 2-92 3-73 3-3 2 14 3 21 2 12 3 32 2 45 3 39 2 32 3 27 2 26 3 28 2 31 3 34 2-6 3-5 3 2 2-46 3-107 2-51 3 7 2 106 3 97 2 1 3-164 2-81 3 53 2 181 3-1 2-105 3-173 3-4 2 79 3 155 2 55 3-1 2-72 3-132 2-72 3-4 2 39 3 140 2 104 3 0 2-20 3-127 3-112 2-6 3 7 2 4 3 56 2 48 3 33 2 19"/>
<path class="y" d="M378 655l3-2 2-3 2 6 3 1 2-15 2 1 3-4 2 10 2 0 3-2 2 10 2 1 2-7 3 1 2 4 2-11 3 10 2-4 2-3 3 1 2 0 2 8 3-1 2-6 2 9 3-3 2 0 2 3 3-5 2 6 2 0 3-2 2-7 2 4 3-12 2 7 2 10 3-1 2-2 2 9 2-8 3 3 2-2 2 0 3-1 2 8 2 4 3-5 2 5 2-4 3 9 2 1 2 1 3-8 2 0 2-8 3-1 2 3 2 1 3 6 2 3 2 6 3-7 2-5 3-69 3 3 2-6 3-37 2-52 3-48 2-3 3-13 3 57 2 70 3 24 2 13 3-33 2-61 3-51 2-8 3 4 2 57 3 69 2 17 3-7 2-91 3-77 3 4 2 87 3 77 2 6 3-80 2-58 3 1 2 52 3 69 2 24 3 11 2-10 3-27 2-25 3-18 3-9 2-3 3 2 2 5 3 3 2 1 3-4 2-10 3-17 2-23 3-27 2-10 3-5 2-10 3-10 3 17 2 34 3 39 2 38 3 35 2 27 3 1 2 3 3-7 2-15 3-58 2-80 3-61 2-12 3 51 3 126 2 34 3-43 2-132 3 1 2 88 3 93 2 6 3-99 2-72 3 6 2 50 3 73 2 42 3-6 3-1 2-17 3-32 2-29 3-24 2-16 3 3 2 3 3-1 2-12 3 19 2 26 3 30 2 29 3 22 2 1 3 8 3 2 2 0 3 8 2-4 3 3 2 2 3 5 2 4 3-2 2-7 3-3 2-14 3-60 2-81 3-43 3 6 2 75 3 118 2 8 3-43 2-111 3-18 2 45 3 102 2 32 3-22 2-96 3-88 2 2 3 8 3 82 2 83 3 26 2 11 3-46 2-69 3-39 2 1 3 19 2 65 3 58 2 10 3-3 2-18 3-33 3-24 2-13 3-3 2 5"/>
<path class="g" d="M377 649l2 12 3-11 2-5 2 7 3-7 2 3 2 7 3 2 2-8 2 5 3 6 2-10 2 7 3-7 2-11 2 6 3 11 2-9 2 7 3 8 2-12 2 11 3-11 2-4 2 11 3 11 2-9 2-1 3-13 2 19 2-8 2-9 3 18 2-7 2 0 3-2 2-3 2 11 3-17 2 8 2 18 3-2 2-8 2 6 3-5 2-4 2 0 3 6 2 1 2-3 3 7 2-7 2-1 3-1 2-7 2 4 3-3 2 8 2-4 2 9 3 0 2-1 2-7 3 3 3-44 3 9 2-11 3-35 2-49 3-50 2-18 3 3 2 24 3 65 2 60 3 4 3 6 2-34 3-59 2-52 3-1 2 0 3 61 2 72 3 14 2-21 3-94 2-38 3 28 2 110 3 29 3-65 2-100 3 4 2 66 3 86 2 5 3-6 2-58 3-57 2-42 3-19 2 5 3-9 2 3 3 0 3-4 2 7 3 5 2 2 3 15 2 23 3 30 2 34 3 35 2 29 3-3 2-3 3 12 2 2 3-18 3-25 2-26 3-28 2-30 3-30 2-23 3-2 2-7 3 35 2 80 3 74 2-7 3-59 2-106 3-3 3 101 2 72 3-13 2-117 3-31 2 47 3 103 2 16 3-10 2-84 3-79 2-14 3 3 2 8 3 55 3 59 2 49 3 11 2 6 3-8 2-46 3-57 2-56 3-33 2 4 3-7 2-3 3 6 2 19 3 15 3 11 2 7 3 3 2 1 3 1 2 2 3 6 2 14 3 24 2 38 3 47 2 23 3 2 2-32 3-92 3-49 2 1 3 91 2 88 3-11 2-73 3-96 2-1 3 35 2 99 3 33 2-2 3-62 2-94 3-32 3 5 2 87 3 95 2 5 3-14 2-97 3-60 2 3 3 36 2 84 3 44 2 0 3 3 2-22 3-27 2-17 3-7"/>
<path class="k" d="M376 632l2 11 3 9 2-3 2 0 3-10 2 11 2-1 3 0 2-3 2-1 3 5 2-2 2 5 3 9 2-17 2 5 3 9 2-5 2 1 2 2 3-6 2 8 2-3 3 0 2 0 2 2 3 3 2-1 2 1 3 3 2 8 2-13 3-2 2 4 2 6 3-15 2 9 2-4 3-1 2 7 2 3 3 0 2-3 2-3 3 5 2-2 2-13 3 26 2-6 2-9 2 9 3 3 2-2 2-9 3-3 2 11 2-9 3 1 2-4 2 5 3 3 2 4 2 5 3-3 3-28 3 1 2-6 3-26 2-37 3-39 2-30 3-3 2 12 3 36 2 44 3 36 2 13 3-12 2-43 3-60 3-55 2-14 3 27 2 81 3 62 2 5 3-87 2-83 3 22 2 104 3 49 2-38 3-92 2-25 3 41 3 73 2 47 3 4 2-12 3-25 2-26 3-20 2-18 3-14 2-14 3-14 2-14 3-11 2-9 3-8 3-1 2-5 3 17 2 27 3 33 2 33 3 29 2 22 3 15 2 6 3 5 2-6 3-7 2 1 3-15 3-25 2-33 3-41 2-36 3-5 2 34 3 82 2 63 3-7 2-97 3-63 2 36 3 109 2 34 3-80 3-97 2-7 3 58 2 83 3 40 2-7 3-47 2-59 3-49 2-17 3-3 2 13 3 43 2 53 3 48 3 25 2 4 3-24 2-44 3-51 2-44 3-33 2-21 3-11 2 1 3-6 2 3 3 8 2 7 3 5 3 8 2 3 3 10 2 6 3 9 2 12 3 37 2 54 3 55 2 18 3-13 2-64 3-55 2 0 3 61 3 68 2 2 3-43 2-84 3-55 2 7 3 62 2 76 3 36 2-20 3-84 2-94 3-24 2 40 3 105 3 75 2-10 3-84 2-85 3-28 2 27 3 61 2 58 3 41 2 23 3 9 2 1 3-4"/>
<path class="g" d="M375 645l2 5 3 5 2-2 2-9 3 8 2 0 2 0 3-9 2 13 2-7 2 1 3 5 2 2 2-1 3-10 2 15 2-5 3 17 2-24 2 4 3 2 2-8 2 3 3 4 2 11 2-12 3 6 2-1 2 0 3 14 2-3 2 5 3 1 2-8 2-18 3 7 2 0 2 0 2 10 3 7 2-12 2-2 3-1 2 0 2 8 3-7 2 0 2 7 3 1 2-1 2-3 3 5 2-5 2 6 3-5 2 4 2-5 3 7 2-12 2 11 3-4 2-3 2-3 3 13 3-60 2 1 3-6 3-32 2-40 3-37 2 2 3-12 2 27 3 51 2 48 3 2 2-4 3-9 2-52 3-54 2-3 3-11 3 51 2 77 3 1 2-9 3-105 2-30 3 42 2 109 3 0 2-86 3-66 2 2 3 99 2 47 3 1 3-42 2-65 3-43 2 5 3-4 2 5 3-1 2 6 3 17 2 19 3 21 2 22 3 25 2 25 3 20 3 4 2 2 3 6 2-10 3-10 2-28 3-30 2-28 3-26 2-22 3-6 2-5 3-3 2-6 3-4 2 17 3 55 3 70 2 20 3 0 2-91 3-96 2 1 3 120 2 61 3-26 2-133 3-11 2 79 3 95 2 3 3-66 3-90 2-14 3 3 2 51 3 68 2 51 3-7 2 12 3-17 2-50 3-51 2-17 3 0 2-8 3 35 3 48 2 43 3 24 2 2 3-7 2-4 3 8 2-6 3 1 2 4 3 9 2-1 3 4 2-10 3-3 3-4 2-17 3-52 2-65 3-24 2-2 3 46 2 103 3 19 2-12 3-106 2-41 3 3 2 97 3 64 3-1 2-56 3-90 2-15 3 7 2 64 3 82 2 2 3-14 2-89 3-40 2 6 3 72 2 74 3 1 3-37 2-84 3-39 2 0 3 7 2 22 3 33 2 24 3 14"/>
<path class="g" d="M374 644l2-5 2 3 3 4 2 3 2-4 3 4 2 0 2 10 3-3 2-10 2 1 3 1 2 19 2-25 3 14 2-13 2 11 3 2 2 6 2 2 3-6 2 7 2-11 3 1 2-4 2 7 3-9 2 13 2-12 2 9 3-6 2 17 2-8 3-3 2 0 2 1 3 6 2 4 2 1 3-4 2 0 2-4 3 6 2 0 2-14 3 5 2 6 2-6 3 7 2-1 2 2 3-5 2 0 2 4 3 4 2-2 2 2 2-4 3-2 2 7 2 1 3 9 2-8 2 2 4-7 2-11 3-9 2 4 3-42 2-67 3-65 3-20 2 6 3 18 2 66 3 67 2 48 3-10 2-2 3-48 2-72 3-49 2-5 3 43 2 100 3 41 3-8 2-110 3-49 2 31 3 119 2 22 3-44 2-112 3-30 2 6 3 75 2 70 3 28 2 2 3-8 3-3 2 7 3-2 2-10 3-10 2-12 3-15 2-21 3-28 2-35 3-39 2-40 3-33 2-2 3 4 3 8 2 3 3 5 2 25 3 27 2 26 3 30 2 30 3 32 2 34 3 24 2 1 3-1 2-46 3-90 3-54 2 12 3 97 2 97 3-2 2-121 3-56 2 30 3 127 2 26 3-34 2-118 3-64 2 1 3 37 3 82 2 72 3 23 2-3 3 7 2-44 3-66 2-73 3-62 2-7 3-3 2-3 3 53 2 62 3 56 3 43 2 28 3 15 2-2 3 5 2-5 3 0 2-4 3-8 2-5 3 0 2 7 3 8 2 3 3-5 2 5 3-39 3-82 2-75 3 0 2 55 3 112 2 34 3-10 2-113 3-86 2 4 3 76 2 108 3 31 2 1 3-83 3-100 2-35 3 3 2 78 3 104 2 27 3-11 2-108 3-100 2-8 3 30 2 100 3 83 2 19 3-10 3-4 2-26 3-20 2-10 3 0"/>
<path class="r" d="M373 653l2-4 2-10 3 9 2 7 2 5 3-2 2 2 2-8 3 1 2-3 2 2 3-6 2 10 2 3 3-6 2 6 2-4 3-1 2 5 2-3 2 2 3-3 2 3 2-8 3-4 2 7 2 11 3-1 2-6 2 13 3-1 2-9 2-9 3 11 2 3 2-7 3 2 2 6 2-7 3 12 2-10 2-3 3 9 2-4 2 2 3-3 2 5 2-4 2 7 3-2 2-1 2 4 3-5 2 7 2-3 3-7 2 12 2 8 3-2 2-3 2-1 3 0 2 3 2-3 4-72 2 13 3 17 2 5 3-4 2-14 3-41 2-47 3-36 2 6 3 7 3 43 2 49 3 36 2 2 3 2 2-42 3-55 2-43 3 5 2 23 3 77 2 35 3-16 2-95 3-57 3 25 2 102 3 44 2-26 3-92 2-63 3-2 2 33 3 50 2 43 3 29 2 18 3 9 2-5 3 9 3 5 2 3 3 1 2-6 3-2 2-1 3 3 2 5 3-13 2-19 3-24 2-28 3-29 2-26 3-23 3-17 2-7 3-1 2-6 3 8 2 9 3 25 2 38 3 50 2 50 3 9 2-10 3-80 2-80 3-1 3 94 2 78 3-16 2-113 3-64 2 40 3 105 2 47 3-9 2-77 3-81 2-45 3-2 2 8 3 41 3 49 2 49 3 43 2 28 3 3 2 1 3-6 2-29 3-33 2-32 3-25 2-17 3-6 2 5 3-1 3-3 2-2 3 6 2-8 3-5 2-5 3-5 2-6 3-6 2-1 3 2 2 1 3 43 2 69 3 67 3 14 2-44 3-93 2-46 3 17 2 92 3 67 2 2 3-72 2-84 3-27 2 7 3 66 2 74 3 37 3-3 2-60 3-81 2-57 3-1 2 61 3 86 2 52 3-3 2-44 3-67 2-51 3-7 2 10 3-3 2 13 3 12 3 7"/>
<path class="r" d="M372 650l2-16 2 13 3 3 2 5 2-6 3 3 2-1 2 1 2-6 3 7 2-3 2 2 3 3 2-6 2 12 3 0 2-13 2 13 3 2 2-8 2 5 3-8 2-3 2 6 3 5 2-2 2-6 3 8 2 9 2-13 3 7 2 3 2 3 3-4 2-4 2 3 3-9 2 10 2-8 2 12 3-4 2 4 2-9 3 4 2 3 2 2 3-7 2 1 2 4 3 12 2-1 2-11 3-10 2 9 2 5 3 3 2-3 2 2 3-8 2 7 2-2 3 8 2-5 2 2 4-131 2 20 3 38 2 36 3 5 2-5 3-50 2-62 3-37 2 13 3 44 2 66 3 40 2 3 3-46 3-72 2-64 3-18 2 28 3 75 2 77 3 12 2-31 3-92 2-61 3-1 2 93 3 91 2 11 3-81 3-119 2-89 3-17 2 11 3 41 2 39 3 27 2 15 3 3 2-5 3-10 2-10 3-8 2-2 3 4 3 12 2 21 3 30 2 37 3 41 2 38 3 30 2 6 3 2 2 1 3-23 2-33 3-40 2-45 3-43 3-32 2-14 3 0 2 46 3 81 2 85 3 33 2-54 3-139 2-108 3 30 2 160 3 95 2-63 3-174 3-55 2 69 3 146 2 75 3-6 2-69 3-75 2-56 3-32 2-9 3-9 2 11 3-6 2 0 3 11 3 19 2 27 3 35 2 40 3 40 2 34 3 25 2 10 3 6 2-4 3 9 2-9 3 7 2 3 3 1 3 1 2-3 3 1 2-7 3-16 2-29 3-48 2-60 3-51 2-1 3 62 2 112 3 56 2-54 3-147 3-73 2 58 3 146 2 64 3-33 2-115 3-90 2-9 3 39 2 82 3 81 2 55 3 6 2-20 3-66 3-83 2-72 3-31 2 13 3 59 2 77 3 69 2 44 3 6 2 9 3-4 2-7 3-7 2 2"/>
<path class="m" d="M370 652l3 3 2-2 2-4 3-2 2 18 2-11 3-1 2 9 2-11 3 2 2 1 2-3 3 5 2 8 2-13 3 7 2-3 2-3 3-1 2 7 2 0 3-4 2 7 2-2 3 8 2-7 2 10 2-2 3-7 2 4 2 2 3-11 2 10 2-4 3 3 2-2 2 6 3-8 2-1 2 9 3-1 2-7 2 9 3-7 2 7 2 0 3-1 2 4 2-4 3-3 2 3 2-7 3 6 2 0 2 3 3-7 2 3 2 3 2-5 3 0 2-3 2 7 3 0 2 1 3-114 3 9 3 21 2 9 3 10 2-27 3-48 2-50 3-25 2 9 3 43 2 56 3 41 2 7 3-10 2-42 3-44 3-21 2 10 3 48 2 55 3 9 2-31 3-65 2-26 3 38 2 68 3 12 2-47 3-73 2-25 3-1 3 43 2 45 3 33 2 19 3 3 2 5 3-2 2 2 3 1 2 4 3 2 2-4 3 5 2-1 3-7 3-11 2-17 3-22 2-26 3-26 2-25 3-11 2-18 3-9 2 1 3 8 2 16 3 25 2 34 3 38 2 32 3 2 3-8 2-57 3-70 2-24 3 42 2 94 3 30 2-39 3-82 2-5 3 75 2 64 3-10 2-64 3-60 3-15 2 18 3 41 2 43 3 31 2 14 3-5 2-5 3-22 2-32 3-35 2-34 3-27 2-10 3 4 3 8 2 23 3 25 2 24 3 20 2 14 3 9 2 4 3 1 2-1 3-2 2-2 3 0 2 3 3 10 3 15 2 18 3 12 2-11 3-48 2-76 3-61 2 10 3 84 2 84 3 2 2-79 3-76 2-1 3 67 3 75 2 33 3-21 2-51 3-50 2-16 3 9 2 45 3 55 2 34 3-5 2-49 3-66 2-46 3-2 3 39 2 55 3 45 2 19 3-1 2-3 3-10 2-7 3-1 2 4"/>
<path class="b" d="M369 655l3-4 2 5 2-6 3 14 2-13 2 4 3 8 2-13 2 1 3-7 2 10 2 6 3-4 2-8 2 4 3 4 2-8 2 4 2 10 3 7 2-10 2 5 3-8 2 10 2 6 3-11 2-3 2 6 3-12 2 12 2-14 3 4 2 0 2 10 3 6 2-7 2-1 3 8 2 3 2-14 3 6 2 6 2-11 3 6 2-3 2 5 2-4 3 13 2-2 2-17 3 1 2 9 2-4 3 4 2-2 2 8 3 7 2-4 2-9 3 2 2 4 2 0 3 1 2 8 3-30 3-3 2-11 3 3 2-8 3-50 3-63 2-48 3-2 2-1 3 26 2 66 3 60 2 12 3-3 2 2 3-46 2-51 3-4 2-6 3 44 3 71 2 11 3-51 2-94 3 0 2 71 3 70 2 1 3-92 2-47 3-2 2 48 3 68 2 24 3-5 3 0 2-2 3-29 2-27 3-24 2-20 3-18 2-17 3-17 2-18 3-14 2-2 3 4 2 9 3 0 3-7 2 22 3 33 2 34 3 31 2 27 3 22 2 19 3 14 2-5 3 3 2 1 3-10 2-13 3-58 3-74 2-19 3-2 2 106 3 60 2-14 3-130 2-29 3 57 2 114 3 4 2-63 3-101 2-11 3 8 3 85 2 78 3 2 2-5 3-27 2-75 3-73 2-35 3 9 2 1 3 29 2 69 3 68 2 52 3 0 3-4 2 0 3-1 2-21 3-13 2-3 3 4 2 10 3 12 2 10 3 7 2 2 3-3 2-10 3-20 2-35 3-50 3-45 2-13 3-8 2 82 3 99 2 4 3-29 2-112 3-37 2 1 3 102 2 78 3 4 2-44 3-120 3-60 2-3 3 46 2 122 3 56 2 4 3-64 2-94 3-3 2 18 3 92 2 49 3 2 2-35 3-83 3-69 2-5 3-4 2 2 3 2 2 7"/>
<path class="y" d="M368 652l3 13 2-17 2-4 3 2 2 0 2 9 2 2 3-5 2-4 2 7 3 3 2 0 2 5 3-5 2-7 2-2 3 18 2-13 2 0 3 5 2 3 2 4 3-8 2 2 2-10 3 6 2 14 2-5 3-2 2 6 2 4 3-13 2 5 2 2 3-9 2 12 2 3 2-3 3-8 2 4 2 2 3 4 2-4 2 0 3-3 2 3 2-8 3 7 2-3 2 17 3-7 2-8 2 8 3-4 2-4 2 4 3 9 2-6 2-1 3 1 2 4 2 0 3 2 2 0 3-67 3-6 2-11 3-6 2-2 3 4 2-33 3-59 2-60 3-17 3 0 2 3 3 50 2 62 3 55 2 4 3 12 2-13 3-70 2-83 3-21 2-8 3 84 2 92 3 1 3-92 2-100 3 1 2 100 3 98 2-4 3-66 2-102 3-25 2-7 3 2 2 39 3 36 2 28 3 20 3 15 2 11 3 11 2 11 3 11 2 13 3 3 2 5 3 2 2 0 3 2 2-11 3 3 2 3 3-19 3-20 2-18 3-16 2-14 3-14 2-15 3-18 2-22 3-7 2-9 3-12 2 7 3 81 2 77 3 3 3-40 2-145 3-16 2 54 3 145 2 0 3-78 2-130 3-5 2 28 3 120 2 59 3-6 2 6 3-68 3-75 2-58 3-3 2 15 3 11 2 12 3 54 2 61 3 56 2 30 3 4 2-5 3 6 2-2 3 2 3-8 2-1 3 5 2 10 3 4 2-2 3-4 2 6 3 3 2-2 3-3 2-6 3-19 2-54 3-75 3-68 2 1 3 11 2 111 3 89 2 1 3-54 2-127 3-32 2-9 3 94 2 108 3-4 2 3 3-94 3-114 2-29 3 13 2 66 3 125 2 48 3-4 2-53 3-113 2-25 3 1 2 54 3 92 2 61 3 2 3-4 2 2 3 4 2 13"/>
<path class="r" d="M367 655l2 1 3 8 2-10 2 8 3-4 2-7 2 10 3-6 2 6 2 2 3-14 2-1 2 14 3 8 2-9 2 1 3 1 2-7 2 1 3 7 2-10 2 4 3 9 2-5 2-5 2 9 3-2 2-2 2-2 3 2 2-3 2 1 3-1 2 9 2-6 3 2 2 1 2 1 3-1 2 8 2-9 3 2 2-3 2 5 3 2 2-1 2-3 3-9 2 10 2 6 3-6 2 1 2-11 3 0 2 9 2-7 2 10 3 3 2 4 2-3 3 7 2 0 2-3 3-2 3-42 3 8 2 0 3-7 2-27 3-43 2-48 3-27 2 4 3 22 2 52 3 51 3 26 2 7 3-30 2-51 3-53 2-22 3 8 2 60 3 71 2 13 3-53 2-95 3-14 2 69 3 96 2-17 3-110 3-58 2 14 3 92 2 72 3 0 2-14 3-43 2-40 3-29 2-18 3-11 2-6 3 0 2 7 3 3 3-10 2-3 3 4 2 11 3 20 2 26 3 29 2 29 3 25 2 17 3-6 2 6 3 1 2-11 3-18 3-24 2-28 3-34 2-38 3-34 2-4 3 8 2 65 3 86 2 35 3-40 2-109 3-30 2 70 3 110 3-7 2-112 3-67 2 33 3 102 2 53 3 4 2-63 3-74 2-46 3-3 2 3 3 43 2 53 3 51 3 34 2 0 3 2 2-36 3-46 2-45 3-33 2-16 3 6 2-3 3 9 2 9 3 5 2 2 3-3 3-4 2-5 3-4 2 1 3 6 2 14 3 28 2 41 3 50 2 37 3 1 2-47 3-92 2-54 3 15 3 98 2 84 3-5 2-83 3-79 2-11 3 60 2 82 3 49 2-14 3-65 2-77 3-25 2 4 3 75 3 77 2 5 3-44 2-94 3-54 2 13 3 71 2 75 3 28 2-4 3-14 2-32 3-26 2-16 3-7"/>
<path class="b" d="M366 661l2 0 3-12 2 16 2-8 3 3 2-5 2-8 3 4 2 3 2 14 3-9 2 1 2-3 3 9 2-19 2 6 2-4 3 16 2-8 2 11 3 0 2-14 2-1 3 12 2 2 2 0 3-9 2 7 2 7 3-9 2 6 2-11 3 10 2-6 2 0 3 8 2-2 2 2 3-4 2 11 2-1 3-11 2-12 2 16 2 8 3-5 2 3 2-16 3 5 2 6 2 3 3 0 2 3 2-3 3 6 2 1 2 6 3-10 2 6 2-13 3 6 2-3 2-7 3 11 3-31 3 7 2-5 3-10 2 3 3-21 2-62 3-74 2-52 3-9 2-11 3 53 2 81 3 75 2 6 3 1 3-32 2-96 3-93 2-14 3 22 2 121 3 101 2-6 3-80 2-111 3 1 2 111 3 94 2-4 3-88 3-92 2-7 3 0 2 53 3 52 2 39 3 26 2 12 3-5 2 7 3-12 2 7 3-2 2 3 3 5 3-7 2 9 3 10 2-13 3-32 2-37 3-39 2-35 3-30 2-22 3-8 2-2 3 2 2-2 3-9 3-9 2 3 3 36 2 60 3 80 2 53 3 0 2-62 3-170 2-58 3 38 2 203 3 46 2-99 3-187 2 6 3 113 3 155 2 15 3-22 2-99 3-87 2-21 3 4 2 2 3 32 2 60 3 63 2 56 3 18 2 5 3-7 3-22 2-62 3-69 2-61 3-47 2-6 3-17 2-2 3 13 2 17 3 2 2 11 3 8 2 7 3 21 3 11 2 0 3 1 2 14 3-1 2-1 3 50 2 88 3 51 2 5 3-82 2-152 3-29 2 23 3 157 3 75 2-7 3-117 2-151 3-32 2-1 3 109 2 141 3 53 2 4 3-72 2-125 3-52 2 22 3 86 3 121 2 32 3 6 2-49 3-81 2-64 3-16 2 0 3-12 2-13 3-9"/>
<path class="b" d="M365 651l2-7 3 11 2 18 2-10 3-4 2-2 2 6 2-5 3 6 2-3 2-7 3-3 2 5 2 7 3-1 2 5 2 1 3-15 2 14 2-18 3 13 2-8 2 5 3-1 2 8 2-3 3-3 2 2 2-4 3 4 2-7 2 17 3-11 2 4 2 7 2-6 3 4 2-4 2 2 3 4 2-9 2 9 3 2 2 2 2-2 3-8 2 9 2-7 3 0 2 6 2-7 3-9 2 10 2 4 3-3 2 5 2 1 3 6 2 2 2-10 3 9 2-15 2 11 2 8 4-37 2-3 3-9 2 0 3-24 3-40 2-47 3-42 2-19 3 3 2 14 3 39 2 47 3 43 2 24 3 2 2-12 3-52 2-62 3-42 3 11 2 67 3 79 2 8 3-45 2-82 3-19 2 73 3 72 2-3 3-84 2-87 3-19 2 22 3 58 3 55 2 38 3 23 2 7 3-3 2 0 3 1 2-1 3 11 2-5 3-11 2-17 3-22 2-28 3-30 3-28 2-24 3-18 2-12 3 6 2 0 3-9 2-3 3-15 2-9 3-2 2 12 3 27 2 43 3 60 3 63 2 29 3-1 2-75 3-93 2-18 3 63 2 110 3 14 2-95 3-105 2-4 3 94 2 95 3 8 3-42 2-80 3-63 2-11 3-4 2 33 3 51 2 55 3 45 2 9 3 0 2-29 3-57 2-60 3-45 3-20 2 16 3 9 2 11 3 17 2 11 3 3 2-4 3-9 2-11 3-12 2-5 3-1 2-8 3 2 3 12 2 17 3 36 2 52 3 61 2 38 3-1 2-60 3-101 2-54 3 9 2 99 3 98 2 4 3-38 2-94 3-66 3 2 2 48 3 84 2 72 3 8 2-34 3-95 2-81 3-12 2 70 3 107 2 41 3-19 2-88 3-79 3-15 2 6 3 24 2 37 3 27 2 15 3 5"/>
<path class="y" d="M364 656l2-1 2 1 3 1 2-1 2-2 3-5 2 8 2 2 3-4 2 10 2-7 3 4 2-3 2-1 3-1 2 0 2 18 3-5 2-10 2 5 3-5 2 4 2-2 3-5 2 12 2-7 2-2 3 1 2 3 2 4 3 1 2 4 2-13 3 5 2 2 2-13 3 17 2-6 2-1 3 5 2 1 2-10 3 8 2-5 2 16 3-12 2-1 2 11 3 2 2-10 2-5 3 2 2 9 2-3 2 6 3 3 2-9 2 11 3-3 2-5 2 3 3 1 2 0 2-8 4 4 2-3 3 11 2-14 3-39 2-51 3-52 2-37 3 0 3 7 2 37 3 46 2 46 3 38 2 5 3 5 2-27 3-70 2-81 3-38 2 16 3 99 2 98 3 1 3-83 2-96 3 19 2 103 3 68 2-22 3-103 2-90 3-14 2 37 3 71 2 62 3 40 2 13 3 4 3 3 2 4 3-15 2 4 3 3 2-9 3-14 2-22 3-31 2-37 3-38 2-34 3-24 2-12 3 5 3 14 2 7 3 16 2-3 3-13 2-12 3-3 2 6 3 20 2 42 3 62 2 67 3 19 2-9 3-94 3-96 2-7 3 93 2 114 3 6 2-118 3-116 2 6 3 121 2 110 3 3 2-61 3-102 2-69 3 2 3 15 2 53 3 63 2 57 3 43 2 1 3 4 2-41 3-69 2-74 3-59 2-17 3 6 2 9 3 20 3 24 2 17 3 6 2-3 3-12 2-17 3-16 2-21 3-5 2-8 3-4 2 7 3 30 2 51 3 68 3 68 2 34 3 0 2-60 3-90 2-50 3 7 2 91 3 96 2 4 3-48 2-111 3-79 2 11 3 54 3 100 2 80 3 5 2-30 3-95 2-88 3-18 2 77 3 116 2 34 3-16 2-105 3-89 2-20 3 21 3 34 2 42 3 29 2 16 3 3"/>
<path class="m" d="M363 654l2-8 2 12 3 0 2-6 2 3 3 8 2 1 2-7 3 6 2 6 2-5 3 5 2-9 2 4 2-17 3 4 2 6 2 9 3 1 2-6 2-1 3 5 2 2 2-12 3 14 2 1 2-1 3-2 2 6 2-16 3 7 2 3 2-3 3-2 2 4 2-1 3 0 2-2 2 2 3 1 2 7 2-9 3 12 2-4 2-9 2 4 3 6 2-10 2-4 3 4 2 5 2 3 3 12 2-1 2-10 3-9 2 15 2-6 3 11 2-8 2 0 3-4 2-2 2 2 4-35 2-5 3-8 2-1 3-4 2-35 3-54 2-61 3-54 2-6 3-7 3-4 2 39 3 56 2 60 3 49 2-5 3-2 2-51 3-116 2-56 3-8 2 96 3 130 2-4 3-89 2-103 3 22 3 119 2 78 3-1 2-51 3-92 2-53 3-23 2-20 3-13 2 1 3 23 2 25 3 27 2 27 3 29 3 29 2 27 3 26 2 23 3-1 2 0 3 4 2-1 3 0 2 3 3 2 2 8 3-4 2-2 3-2 3-4 2-11 3-18 2-32 3-52 2-75 3-88 2-28 3-22 2 73 3 168 2 60 3-19 2-201 3-63 3 51 2 194 3 58 2-14 3-132 2-60 3-4 2 38 3 99 2 78 3 1 2 16 3 3 2-46 3-49 3-43 2 4 3-4 2-27 3 19 2 44 3 48 2 19 3 1 2-8 3 10 2-1 3 2 2-2 3 9 3 7 2 13 3 7 2-3 3-2 2-2 3-3 2 7 3-5 2 0 3 0 2-56 3-94 2-58 3 7 3 26 2 113 3 57 2-1 3-48 2-136 3-82 2-12 3 25 2 129 3 107 2 6 3 5 2-94 3-88 3 21 2 31 3 110 2 55 3 8 2-60 3-116 2-43 3-18 2 7 3 67 2 59 3 41 2 23 3 10 3 0"/>
<path class="m" d="M362 647l2 14 2 4 3-12 2 0 2 7 2-10 3 14 2-8 2-6 3 15 2-12 2 4 3 7 2-12 2 19 3-10 2-7 2 10 3-11 2 2 2 10 3 1 2-8 2 11 3-10 2 10 2-13 3 1 2 14 2-9 3-3 2 4 2-6 2 9 3 0 2-2 2 0 3 0 2 9 2-5 3 3 2 4 2 4 3-13 2 9 2-6 3 6 2-3 2 9 3-14 2 5 2-5 3 13 2-1 2-4 3 8 2 2 2-15 3 6 2-4 2 8 3 0 2 7 2-5 4-30 2 2 3 7 2 6 3-12 2-40 3-52 2-49 3-30 2 3 3 20 2 43 3 53 2 48 3 26 3-2 2-30 3-69 2-75 3-21 2 29 3 99 2 68 3-18 2-98 3-52 2 23 3 105 2 45 3-45 3-93 2-62 3-7 2 28 3 50 2 45 3 33 2 21 3 13 2 7 3 5 2-4 3 4 2 2 3 2 3 0 2-10 3-17 2-24 3-29 2-29 3-27 2-20 3-13 2-8 3 0 2-4 3 8 2-10 3-12 3-10 2 5 3 21 2 43 3 63 2 65 3 27 2-50 3-115 2-84 3 22 2 134 3 81 2-54 3-147 2-55 3 64 3 130 2 61 3-20 2-85 3-84 2-45 3 10 2 21 3 51 2 57 3 52 2 38 3 11 2-5 3-26 3-47 2-51 3-42 2-25 3-1 2 4 3 3 2 10 3 5 2 3 3-3 2-5 3-5 2-11 3-7 3-10 2-10 3-8 2 2 3 22 2 47 3 71 2 73 3 37 2-35 3-99 2-103 3-23 2 72 3 117 3 52 2-21 3-105 2-102 3-22 2 31 3 94 2 93 3 35 2-12 3-75 2-83 3-26 2 32 3 90 3 76 2 9 3-56 2-76 3-50 2-4 3 13 2 26 3 25 2 15 3 6 2-3"/>
<path class="m" d="M360 656l3 5 2-16 2 19 3-8 2 0 2-7 3 11 2-4 2-8 3 4 2 7 2-11 3 12 2 4 2-6 3 1 2 0 2 5 3-5 2 9 2 0 3-9 2 3 2 1 2-11 3 14 2 4 2 2 3-1 2 4 2-12 3 10 2-1 2-2 3 3 2-8 2 6 3-1 2-1 2 2 3-2 2 4 2-2 3-4 2-1 2 3 3 4 2 1 2 3 3-1 2-4 2 0 2 10 3-1 2-8 2 4 3 1 2-7 2 13 3-4 2-1 2-9 3-1 2 6 3-71 3 28 2 28 3-7 3-7 2 4 3-66 2-99 3-61 2 12 3-1 2 37 3 91 2 81 3-3 2-4 3-21 2-125 3-107 3 8 2 27 3 161 2 77 3-6 2-114 3-87 2 3 3 143 2 58 3 8 2-135 3-127 2-5 3 1 3 38 2 72 3 57 2 39 3 23 2 12 3 7 2 4 3 3 2-1 3 7 2 0 3-5 2-1 3-6 3-3 2 9 3 6 2-44 3-48 2-46 3-43 2-44 3-43 2-26 3-13 2-20 3-17 2-6 3 0 3 122 2 157 3 72 2-4 3-65 2-181 3 8 2 74 3 185 2-1 3-149 2-142 3-17 2 156 3 139 3 3 2-8 3-119 2-92 3-6 2 15 3 4 2-1 3 49 2 57 3 62 2 40 3-11 2-3 3 7 3-7 2-65 3-59 2-45 3-29 2-16 3-11 2-8 3-7 2-5 3-2 2 0 3 1 2-3 3-12 3-23 2-32 3 19 2 24 3 17 2 56 3 148 2 74 3 8 2-112 3-181 2-14 3 50 2 205 3 48 2 6 3-154 3-118 2 17 3 15 2 106 3 123 2 15 3 1 2-70 3-151 2-51 3-16 2 77 3 163 2 45 3 5 3-35 2-96 3-74 2-24 3 2 2-8 3-8 2-16"/>
<path class="r" d="M359 644l3 11 2 14 2-4 3-7 2 0 2-2 3-3 2 9 2-14 3-3 2 16 2 4 3-4 2-2 2 8 2-2 3-5 2 8 2-11 3 9 2-13 2 13 3 0 2 12 2-2 3-20 2-1 2 21 3-8 2 4 2-4 3-2 2 8 2-14 3-5 2 5 2 13 3-6 2 4 2 1 3-2 2 6 2 10 2-17 3-7 2 9 2 7 3-2 2 2 2-5 3 2 2 3 2-3 3 3 2-3 2-4 3 4 2 6 2 7 3-7 2-11 2 10 3-3 2 0 3-12 3-11 2-22 3-37 2-50 3-41 2-18 3-4 3 34 2 61 3 65 2 33 3-3 2 4 3-43 2-85 3-85 2-10 3-2 2 81 3 123 2 28 3-38 3-136 2-25 3 63 2 126 3-2 2-145 3-68 2 35 3 137 2 42 3-2 2-74 3-85 2-47 3 3 3 3 2 0 3-1 2 26 3 29 2 32 3 36 2 37 3 33 2 7 3 0 2 0 3 6 2-12 3-29 3-31 2-30 3-29 2-28 3-28 2-27 3-11 2-12 3-11 2-2 3-7 2 23 3 94 2 117 3 33 3 3 2-145 3-128 2 7 3 175 2 93 3-48 2-189 3-12 2 84 3 154 2 8 3-38 2-111 3-52 3 0 2 18 3 81 2 81 3 26 2-9 3-29 2-96 3-92 2-13 3-2 2 36 3 82 2 74 3 42 3 5 2-3 3-2 2 10 3 0 2-1 3 2 2 2 3 3 2 2 3-5 2 2 3 5 2 0 3-41 3-66 2-84 3-35 2-6 3 59 2 135 3 30 2-13 3-156 2-98 3 5 2 87 3 144 2 35 3 0 3-114 2-116 3-5 2 24 3 132 2 80 3 6 2-120 3-116 2-1 3 106 2 132 3 9 2-57 3-112 3-56 2-4 3-10 2 28 3 34 2 26"/>
<path class="r" d="M358 647l3 4 2 3 2-4 2 6 3 6 2 2 2 2 3 1 2-4 2 0 3 2 2-1 2 6 3-2 2-1 2-11 3 6 2 10 2-5 3-5 2 2 2-3 3 7 2 4 2-8 3-7 2 2 2 9 3-4 2-8 2 11 3-5 2 7 2 2 2 5 3-5 2-6 2 6 3 3 2 2 2-7 3 4 2 9 2-4 3-3 2 4 2-12 3 3 2 3 2 5 3-8 2-2 2 8 3 2 2-5 2 4 3 3 2-9 2 6 3 5 2-7 2 2 2-3 3 8 3-4 3-5 2-10 3-23 2-38 3-55 2-61 3-36 2-2 3 2 3 44 2 60 3 62 2 50 3 19 2 5 3-37 2-68 3-84 2-67 3-8 2 73 3 122 2 65 3-37 3-136 2-80 3 64 2 152 3 40 2-82 3-130 2-44 3 23 2 87 3 84 2 54 3 5 2-1 3 1 2 4 3-11 3-13 2-13 3-17 2-20 3-25 2-30 3-32 2-33 3-28 2-21 3-1 2 0 3-3 2 1 3 6 3 7 2 5 3 5 2 4 3 8 2 18 3 35 2 52 3 64 2 40 3 1 2-65 3-155 2-114 3 18 3 183 2 142 3-38 2-192 3-99 2 65 3 173 2 91 3-6 2-106 3-108 2-58 3 11 2 42 3 74 3 76 2 60 3 27 2 2 3-33 2-61 3-71 2-62 3-27 2-7 3 2 2 26 3 27 2 20 3 11 3 2 2-8 3-16 2-20 3-21 2-20 3-15 2-9 3 1 2 13 3 33 2 57 3 78 2 77 3 16 3-22 2-122 3-135 2-33 3 53 2 150 3 119 2 8 3-100 2-136 3-86 2 10 3 85 2 127 3 97 3 6 2-60 3-117 2-83 3 11 2 104 3 120 2 18 3-35 2-113 3-90 2-12 3 8 2 49 3 48 3 35 2 20"/>
<path class="r" d="M357 658l2-1 3 4 2 5 2-11 3 5 2 7 2-13 3 10 2 0 2-3 3 10 2-7 2-1 3 1 2 4 2-5 3-5 2 10 2-7 3-4 2 18 2-5 2-9 3-7 2 9 2-1 3 11 2 1 2 2 3-7 2 3 2-2 3 5 2 1 2-10 3 9 2-4 2 1 3-3 2-1 2 3 3-6 2 10 2-3 3 1 2 13 2-2 3-8 2 0 2-10 3-5 2 5 2 5 2 4 3-4 2-16 2 28 3-4 2 0 2 1 3-1 2-2 2 8 3-1 3-79 3 1 2 2 3 1 2-3 3-32 2-47 3-41 2-36 3-1 2-8 3-8 2 35 3 48 3 48 2 10 3 4 2 8 3-35 2-62 3-45 2 9 3 29 2 89 3 32 2-12 3-137 2-58 3 16 3 130 2 42 3 0 2-98 3-85 2-1 3 3 2-3 3 24 2 22 3 11 2 4 3-1 2-2 3 4 3 11 2 15 3 20 2 23 3 30 2 21 3 1 2 6 3 10 2 4 3-1 2-2 3-2 2-4 3-10 3-10 2-11 3-13 2-16 3-20 2-28 3-31 2-8 3-6 2 21 3 81 2 52 3-8 2-133 3-121 3-16 2 148 3 103 2 1 3-144 2-110 3 10 2 38 3 103 2 88 3 23 2 10 3 0 2-43 3-66 2-68 3-56 3-13 2 17 3 15 2 41 3 58 2 52 3 40 2 27 3 15 2-3 3-8 2 5 3-1 2-14 3-17 3-18 2-14 3-8 2 2 3 10 2 19 3 26 2 30 3 0 2-2 3-20 2-101 3-117 2-18 3 10 3 131 2 95 3 2 2-49 3-117 2-57 3 6 2 27 3 102 2 92 3-6 2 3 3-110 2-125 3-20 3 18 2 126 3 123 2 9 3 4 2-73 3-64 2-11 3-6 2-5 3-10 2 4 3-4"/>
<path class="g" d="M356 659l2-6 3-5 2 13 2 7 3-2 2-3 2 7 3-11 2 5 2 0 3-10 2 8 2 4 2 2 3-1 2 4 2 4 3-11 2-6 2 5 3 0 2 9 2-3 3-7 2 3 2 7 3-1 2-16 2 13 3-3 2 8 2-7 3 14 2-17 2 9 3 0 2-2 2 7 3-11 2 2 2 3 2 5 3 1 2-4 2 2 3-6 2-5 2 19 3-7 2-11 2 2 3 11 2-1 2-8 3 6 2 3 2-10 3 11 2 3 2 1 3 8 2-6 2-11 3 18 3-63 2-16 3-24 3-30 2-45 3-49 2-15 3 4 2 21 3 6 2 51 3 56 2 56 3 49 2 10 3-3 2-9 3-55 3-101 2-102 3-6 2 6 3 136 2 113 3 3 2-136 3-151 2-12 3 191 2 105 3-14 2-202 3-120 3-4 2 62 3 132 2 106 3 62 2-7 3 4 2-2 3-5 2 3 3-1 2-25 3-35 2-42 3-48 3-47 2-41 3-30 2-12 3 18 2 5 3-1 2-10 3-15 2-18 3-16 2-26 3-23 2-12 3-11 3 3 2 56 3 99 2 134 3 114 2 0 3-25 2-211 3-154 2-6 3 220 2 165 3-8 2-231 3-140 3 17 2 170 3 174 2 20 3 0 2-87 3-92 2-57 3 4 2-5 3 36 2 89 3 93 2 21 3 10 3-19 2-92 3-94 2-71 3-7 2-12 3-3 2-10 3-23 2-25 3-17 2-27 3-14 2-17 3-7 3-2 2 4 3 12 2 9 3 16 2 10 3 5 2 71 3 143 2 151 3 23 2-3 3-152 2-182 3-22 2 13 3 158 3 149 2 27 3 2 2-61 3-98 2-59 3 6 2 35 3 121 2 57 3 14 2-128 3-177 2-1 3 65 3 184 2 64 3 4 2-79 3-125 2-103 3-46 2-21 3-27"/>
<path class="m" d="M355 653l2 6 2 7 3-8 2-6 2 7 3 16 2-3 2-13 3 5 2-8 2 13 3-12 2 3 2 15 3-13 2 4 2-8 3 1 2 5 2 6 3-1 2-8 2 8 3 2 2-7 2 1 3 2 2 4 2-2 3 10 2-6 2-1 2 0 3 5 2-8 2-11 3 12 2 6 2 4 3-9 2-8 2 3 3 3 2 11 2-3 3-4 2-7 2 8 3 7 2 2 2-13 3 6 2 4 2-3 3-2 2-1 2 10 3-8 2-1 2 4 2 2 3 7 2-7 2 6 4-62 2-5 3-9 2-13 3-22 2-34 3-40 3-38 2-13 3 2 2 7 3 7 2 13 3 25 2 30 3 34 2 34 3 21 2 12 3-16 2-62 3-86 3-52 2 8 3 103 2 102 3-11 2-124 3-115 2-2 3 119 2 119 3 15 2-31 3-85 2-77 3-49 3-17 2 1 3 11 2 17 3 2 2 0 3 9 2 9 3 11 2 14 3 18 2 22 3 25 2 26 3 23 3 20 2 15 3 10 2 4 3 1 2-3 3-5 2-6 3-5 2-3 3 4 2 12 3 18 2-1 3-2 3-14 2-82 3-108 2-66 3 22 2 129 3 121 2-4 3-131 2-139 3-19 2 90 3 133 2 72 3 2 3-51 2-81 3-69 2-36 3 12 2 8 3 51 2 67 3 67 2 50 3-1 2 5 3-27 2-49 3-47 3-38 2-26 3-16 2-9 3-4 2 1 3 7 2 15 3 23 2 28 3 30 2 25 3 16 2 6 3-7 3-22 2-39 3-55 2-60 3-37 2 18 3 43 2 106 3 100 2 27 3-19 2-92 3-100 2-57 3 13 3 48 2 89 3 85 2 30 3 1 2-70 3-101 2-66 3-1 2 80 3 114 2 45 3-34 2-107 3-95 3-22 2 12 3 53 2 54 3 40 2 23 3 10"/>
<path class="g" d="M354 660l2-1 2 2 3 2 2-9 2 8 3 11 2-1 2-13 3 0 2 3 2 3 3 7 2-4 2-10 3 5 2 1 2 9 3-4 2-1 2 7 2-6 3 5 2-8 2 4 3-6 2 5 2-3 3 3 2-10 2 8 3 1 2 8 2-6 3-12 2 5 2-1 3 21 2-5 2-8 3 13 2-7 2-5 3 7 2-11 2 11 3-2 2-8 2 1 3 10 2 5 2-6 2-2 3 1 2-4 2 8 3 10 2-4 2-15 3 4 2 3 2 9 3 2 2-9 2-4 4-4 2-12 3-18 2-25 3-30 2-43 3-36 2-17 3-4 3 15 2 36 3 42 2 40 3 34 2 24 3 6 2-7 3-26 2-55 3-65 2-29 3 5 2 85 3 79 3-5 2-121 3-76 2 35 3 131 2 39 3-59 2-110 3-27 2 15 3 74 2 70 3 42 2-2 3-4 2-2 3-18 3-24 2-26 3-26 2-28 3-29 2-27 3-13 2 1 3-12 2-6 3 18 2 23 3 24 2 21 3 17 3 11 2 8 3 6 2 5 3 7 2 11 3 17 2 23 3 20 2 11 3-5 2-49 3-96 2-82 3 8 3 94 2 121 3 12 2-102 3-107 2-3 3 102 2 107 3 8 2-57 3-105 2-66 3-1 2 37 3 84 3 82 2 40 3-2 2-33 3-72 2-70 3-19 2-4 3 34 2 63 3 58 2 40 3 11 2 0 3-10 3-2 2-1 3 5 2 0 3-4 2 0 3-2 2-3 3-4 2-5 3-6 2 8 3 4 2-28 3-69 3-81 2-53 3 13 2 57 3 98 2 67 3-4 2-36 3-83 2-62 3 1 2 24 3 80 2 77 3 17 3-26 2-89 3-79 2-4 3 74 2 108 3 8 2-58 3-124 2-33 3 25 2 103 3 84 2 11 3 4 3-20 2-28 3-20"/>
<path class="c" d="M353 659l2 2 2-1 3 7 2-4 2 6 3 0 2-4 2-6 3 6 2-8 2 2 2 9 3-7 2 7 2-2 3-14 2 7 2 4 3 0 2 6 2 2 3-5 2 0 2 12 3-2 2-1 2 4 3-20 2 3 2 1 3 9 2 3 2-2 3 7 2-8 2-8 3 2 2-1 2 1 2 0 3-9 2 7 2 10 3 7 2-13 2 13 3 4 2-8 2 1 3 7 2-6 2-7 3 12 2-10 2 2 3 3 2 0 2-12 3 14 2-4 2 1 3 5 2 4 2 2 4-22 2-6 3 6 2-10 3-23 2-32 3-42 2-46 3-27 2 3 3-4 2-4 3 10 3 38 2 47 3 50 2 38 3 1 2-6 3-48 2-76 3-25 2 4 3 93 2 60 3-7 2-134 3-57 3 9 2 132 3 41 2-2 3-101 2-97 3-20 2-8 3 6 2 13 3 30 2 28 3 27 2 26 3 26 3 27 2 28 3 7 2 14 3 0 2-5 3 6 2 1 3-8 2-16 3-14 2-10 3-7 2-4 3-3 3-1 2-2 3-5 2-10 3-19 2-29 3-35 2-19 3-1 2 8 3 80 2 98 3 2 2-43 3-152 3-46 2 49 3 157 2 40 3-39 2-140 3-82 2 8 3 38 2 101 3 91 2 20 3-4 2-19 3-94 2-106 3-65 3-4 2 9 3 73 2 101 3 83 2 31 3 3 2 1 3-1 2-2 3 7 2 0 3 6 2-3 3-5 3 5 2 2 3-3 2 7 3 10 2-4 3 1 2 1 3-10 2-28 3-77 2-94 3-41 2-11 3 67 3 122 2 52 3 4 2-53 3-112 2-74 3 7 2 12 3 97 2 103 3 28 2-4 3-100 2-136 3-24 3 31 2 151 3 79 2 7 3-113 2-106 3-4 2 15 3 51 2 64 3 46 2 28 3 14 2 5"/>
<path class="r" d="M352 657l2-7 2 7 2 2 3 7 2-3 2 4 3-1 2-5 2 3 3 6 2-10 2 1 3 5 2 0 2-5 3 8 2-7 2 11 3-2 2-9 2 2 3 9 2-7 2 6 3-9 2 6 2-2 3 2 2-4 2 4 2 2 3-2 2 6 2 7 3-8 2-3 2-2 3-1 2 2 2 6 3-8 2 13 2-9 3 7 2-2 2-7 3 4 2-6 2 11 3-4 2-1 2 10 3-3 2-8 2 0 3 10 2-2 2 6 2 5 3-13 2 0 2-2 3 6 2 16 3-73 3 6 3 3 2 2 3-1 2-24 3-47 2-63 3-71 2-19 3-14 2-2 3 45 2 65 3 66 2 25 3 7 3-21 2-84 3-83 2-1 3 55 2 117 3 21 2-80 3-167 2-5 3 135 2 97 3-4 2-105 3-84 3 6 2 14 3 58 2 51 3 39 2 26 3 6 2 6 3-4 2-12 3 13 2 1 3-4 2-21 3-24 3-26 2-26 3-25 2-23 3-22 2-8 3-16 2-16 3-21 2-12 3-7 2-7 3-12 2 7 3 26 3 43 2 61 3 77 2 56 3-2 2-63 3-160 2-82 3 32 2 188 3 70 2-62 3-163 2-8 3 84 3 139 2 42 3-4 2-72 3-75 2-27 3-12 2 7 3 59 2 71 3 40 2-1 3 5 2-70 3-83 3-67 2-17 3 5 2 2 3 34 2 33 3 24 2 14 3 3 2-5 3-11 2-13 3-11 2-5 3 2 3 10 2 17 3 23 2 31 3 40 2 46 3 24 2-16 3-41 2-120 3-97 2-6 3 68 2 135 3 54 3 2 2-77 3-99 2-31 3 1 2 67 3 99 2 48 3-7 2-93 3-127 2-29 3 45 2 143 3 75 2 3 3-109 3-104 2-9 3 12 2 73 3 71 2 48 3 8 2-2 3-5 2 8"/>
<path class="c" d="M350 674l3-8 2-7 2 10 3-9 2 3 2 4 3 4 2-6 2-5 3 3 2 10 2 0 3 8 2-14 2-4 3 2 2-2 2 4 3 6 2-7 2 4 2-4 3 1 2-4 2 7 3-5 2 10 2 0 3-7 2 5 2-1 3-1 2 0 2 3 3-4 2 9 2-13 3 4 2 17 2-12 3-4 2 13 2-2 3 1 2-3 2 2 3-10 2 8 2-3 2 8 3-10 2 5 2 1 3-9 2 8 2-3 3 8 2 4 2-2 3 7 2-10 2 0 3 2 2 2 3-33 3 11 2 10 3-7 2-7 3 3 3-3 2-1 3-39 2-43 3-39 2-33 3-8 2-1 3 9 2-14 3 36 2 79 3 70 2-1 3-1 3-123 2-63 3 14 2 114 3 63 2 0 3-88 2-49 3-2 2 45 3 72 2 26 3-6 2-3 3-8 3-33 2-28 3-23 2-17 3-14 2-14 3-17 2-22 3-19 2-14 3-20 2 0 3-15 2-4 3 7 3-4 2 8 3 15 2 12 3 11 2 12 3 15 2-2 3-5 2 3 3-15 2 5 3 34 2 62 3 83 3 15 2 1 3-58 2-129 3 6 2 19 3 139 2 36 3-12 2-125 3-64 2-7 3 45 2 104 3 38 3 2 2 3 3-40 2-67 3-57 2-5 3-1 2-9 3 24 2 65 3 73 2 22 3 9 2-3 3 2 3-4 2-28 3-13 2 1 3 14 2 21 3 22 2-10 3-1 2 2 3-6 2-12 3 11 2 10 3-2 3-10 2 1 3-8 2-60 3-64 2-10 3 0 2 23 3 86 2 51 3 4 2-7 3-115 2-124 3-18 3-8 2 47 3 128 2 85 3-2 2 0 3-102 2-91 3 0 2 23 3 127 2 48 3 0 2-61 3-117 3-39 2 12 3 7 2 3 3 24 2 19 3 4 2-8"/>
<path class="r" d="M349 657l3 1 2 8 2-4 3 1 2-7 2 5 3 1 2-11 2 17 2-6 3 8 2-5 2 5 3 6 2-9 2-1 3 5 2 6 2 4 3-15 2 12 2-9 3 4 2-2 2-5 3 11 2-3 2-12 3 16 2-2 2-8 3-7 2 13 2-6 3 3 2-3 2 14 3 3 2-14 2 11 2-10 3 7 2-1 2 3 3-2 2-4 2 6 3-11 2 13 2-10 3 8 2-8 2 8 3-6 2 8 2 4 3-7 2-8 2 7 3 7 2 7 2-8 3 3 2-7 3-42 3 12 2 7 3-4 2-4 3-3 2-26 3-39 3-44 2-37 3-2 2-2 3 2 2 30 3 40 2 44 3 19 2-4 3-16 2-69 3-38 2-6 3 75 3 61 2 2 3-88 2-65 3 22 2 97 3 34 2-8 3-66 2-56 3-13 2 14 3 5 2 14 3 21 3 19 2 16 3 15 2 14 3 15 2 13 3 3 2 3 3 8 2-5 3 2 2-15 3-19 2-20 3-19 2-16 3-14 3-11 2-9 3-9 2-10 3-13 2-16 3-20 2-5 3-4 2-4 3 40 2 81 3 66 2 7 3-74 3-108 2-3 3 81 2 102 3-3 2-81 3-92 2-1 3 53 2 86 3 50 2 0 3-13 2-52 3-53 3-31 2-4 3 1 2 42 3 54 2 50 3 7 2 5 3-3 2-35 3-37 2-30 3-22 2-13 3-7 3-3 2 1 3 4 2 9 3 10 2 11 3 7 2 3 3-5 2-15 3-23 2-27 3 3 2-3 3 11 3 69 2 75 3 16 2-12 3-82 2-79 3 0 2 19 3 81 2 72 3 7 2-11 3-69 2-71 3-14 3 5 2 76 3 79 2 9 3-36 2-89 3-30 2 7 3 81 2 69 3 6 2-15 3-47 2-43 3-28 3-16 2-1 3 4 2-1"/>
<path class="k" d="M348 674l2-19 3-2 2 6 2 4 3-4 2-5 2 14 3 4 2-14 2 2 3 7 2 3 2-7 3 4 2 13 2-5 3-10 2 3 2 8 3-9 2 1 2-2 3-1 2 6 2 4 3-16 2 9 2 11 2-18 3 6 2 11 2-2 3-5 2 3 2 7 3-8 2 7 2-8 3 5 2 10 2-7 3-2 2 3 2-8 3 4 2-1 2 2 3 4 2-6 2 2 3 6 2-5 2-3 3 9 2-1 2-7 3 8 2-4 2-3 2 12 3-6 2 3 2 2 3-5 3-52 3 14 2 4 3-1 2-2 3 1 2-23 3-41 2-55 3-60 2-26 3-7 3 2 2 0 3 40 2 67 3 72 2 19 3 8 2-65 3-108 2-20 3 40 2 133 3 15 2-65 3-135 3 5 2 77 3 126 2 2 3-25 2-97 3-83 2-29 3 4 2-2 3-18 2 4 3 21 2 25 3 32 3 36 2 39 3 39 2 36 3 15 2 3 3 4 2-6 3-4 2 1 3 3 2-8 3-8 2-6 3-4 3-5 2-6 3-11 2-19 3-32 2-47 3-61 2-50 3-11 2 0 3 123 2 132 3-1 2-88 3-170 3 4 2 100 3 155 2 1 3-65 2-135 3-25 2-2 3 82 2 102 3 60 2-2 3-2 2-63 3-94 3-85 2 3 3-12 2 38 3 93 2 89 3 33 2-4 3 4 2 4 3-17 2-18 3-7 2 5 3 13 2 19 3 19 3-8 2 3 3 1 2-13 3 5 2 13 3 0 2-20 3-58 2-81 3-82 2-6 3-3 2 100 3 122 3 15 2 3 3-111 2-128 3-30 2 6 3 73 2 124 3 67 2 5 3-48 2-129 3-75 2 7 3 88 3 141 2 19 3-45 2-136 3-47 2 2 3 75 2 99 3 43 2-8 3 4 2 2 3 0 2-1 3 2"/>
<path class="c" d="M347 661l2 5 3-2 2 6 2-10 3 4 2 7 2-14 3 10 2-4 2-3 3 13 2-5 2-3 3-3 2 7 2-6 3 11 2-12 2 0 2 9 3-1 2-3 2 7 3 10 2-6 2 1 3-9 2 14 2-18 3 12 2-6 2 1 3-8 2 1 2 5 3 5 2-13 2 13 3-9 2 2 2 6 3 4 2 11 2-16 3 6 2-5 2 2 2 7 3-6 2 8 2-8 3 5 2 8 2-6 3 5 2-10 2 1 3 16 2-10 2-12 3 19 2-7 2-12 3 7 3-54 3 21 2 21 3 13 2-1 3 0 2-20 3-29 2-38 3-40 2-32 3-11 2 9 3-2 2 34 3 53 3 56 2 19 3-13 2-84 3-87 2 0 3 89 2 100 3-6 2-119 3-90 2 23 3 108 2 87 3 5 3-64 2-85 3-69 2-41 3-5 2 13 3-6 2 4 3 14 2 15 3 18 2 23 3 27 2 32 3 35 3 35 2 30 3 22 2-2 3 4 2 2 3 4 2 0 3-8 2 2 3-3 2-3 3-5 2-10 3-19 3-31 2-48 3-61 2-57 3-10 2 48 3 112 2 92 3-9 2-105 3-97 2 15 3 111 2 87 3-7 3-107 2-114 3-29 2 17 3 85 2 91 3 63 2 3 3-12 2-63 3-84 2-80 3-43 2-14 3 42 3 78 2 84 3 66 2 28 3 5 2-1 3 0 2-1 3 0 2-2 3-2 2-1 3-3 2 8 3 5 3 3 2-1 3 0 2-6 3 2 2-16 3-46 2-65 3-61 2-19 3 22 2 77 3 82 2 30 3-23 3-87 2-93 3-33 2 8 3 79 2 94 3 60 2 2 3-71 2-105 3-71 2 6 3 102 2 117 3 19 2-90 3-146 3-75 2 15 3 94 2 102 3 70 2 35 3 2 2 4 3-4 2 2 3 5"/>
<path class="b" d="M346 679l2-20 3-1 2 7 2 2 3 4 2-3 2 7 2-11 3 15 2-10 2-1 3-1 2 3 2-5 3 15 2-15 2 1 3 1 2 4 2-8 3 16 2-5 2-3 3 9 2 3 2-9 3 4 2-10 2 14 3-6 2-1 2 6 3-1 2-7 2 0 3 2 2 2 2-2 2 6 3 7 2-11 2-5 3 14 2-1 2-11 3-5 2 15 2-1 3-1 2-4 2 2 3 0 2-1 2 11 3-7 2 3 2-7 3 13 2-7 2 2 3-10 2 7 2-14 3 3 3-38 2-10 3 0 3-16 2-19 3-20 2-19 3-14 2-23 3-21 2-10 3 7 2 5 3 6 2 18 3 28 2 36 3 33 2 11 3-33 3-71 2-58 3 14 2 82 3 64 2-22 3-82 2-42 3 20 2 73 3 50 2-7 3-50 2-64 3-51 3-17 2 4 3 4 2 10 3 26 2 28 3 29 2 28 3 26 2 20 3 10 2-4 3-5 2-5 3-9 3-16 2-12 3-6 2 0 3 5 2 7 3 8 2 6 3 3 2 0 3-6 2-13 3-24 2-36 3-47 3-50 2-2 3 18 2 87 3 89 2 15 3-48 2-87 3-26 2 33 3 83 2 38 3-7 2-75 3-83 3-35 2 4 3 50 2 75 3 65 2 15 3 4 2-50 3-69 2-59 3-6 2 4 3 53 2 61 3 44 3 9 2 1 3 3 2 1 3 1 2-1 3-2 2 12 3 1 2-6 3 1 2-6 3 1 2-2 3 0 3-1 2-1 3 14 2-18 3-38 2-49 3-44 2-10 3 7 2 48 3 60 2 45 3-2 2-24 3-66 3-70 2-33 3 5 2 41 3 82 2 67 3 6 2-43 3-87 2-36 3 26 2 94 3 39 2-19 3-97 3-78 2-7 3 27 2 55 3 49 2 34 3 20 2 9 3 1"/>
<path class="y" d="M345 665l2 3 2-2 3 2 2-4 2-3 3 17 2-9 2-5 3 11 2-15 2 0 3 4 2 3 2-7 3 14 2 1 2 6 3-16 2-11 2 7 3 13 2-2 2 0 3 4 2 6 2 2 2-7 3-6 2 7 2 9 3-8 2-11 2 12 3-4 2-1 2-2 3 0 2 11 2-10 3 0 2 2 2-6 3 8 2-3 2 6 3 9 2-7 2 3 3-4 2 2 2 4 3-14 2 2 2 1 3 3 2 10 2 1 2 0 3-2 2 2 2-1 3-1 2-7 2 17 4-18 2-9 3-14 2-18 3-21 2-21 3-21 3-19 2-21 3-23 2-26 3-11 2 7 3 16 2 29 3 42 2 51 3 50 2 19 3-17 2-76 3-86 3-14 2 77 3 111 2 14 3-120 2-123 3 1 2 108 3 107 2 31 3-34 2-69 3-67 2-49 3-30 3-11 2-4 3-1 2 15 3 24 2 35 3 43 2 45 3 41 2 34 3 23 2-2 3 11 2-3 3 0 2-4 3-2 3 1 2 3 3 4 2 1 3-3 2 1 3-2 2-9 3 1 2-12 3-37 2-63 3-80 2-65 3 1 3 92 2 130 3 55 2-60 3-137 2-66 3 25 2 115 3 102 2 29 3-40 2-81 3-83 2-43 3-11 3 38 2 76 3 79 2 44 3-8 2-69 3-96 2-81 3-20 2 2 3 48 2 58 3 52 2 37 3 21 3 8 2-4 3-15 2-24 3-30 2-30 3-26 2-17 3-7 2 2 3 11 2 18 3 30 2 41 3 49 3 46 2 10 3 1 2-58 3-82 2-73 3-26 2 16 3 64 2 81 3 71 2 31 3-8 2-63 3-94 3-85 2-15 3 55 2 120 3 82 2-32 3-127 2-106 3 8 2 108 3 111 2 29 3-30 2-79 3-79 3-57 2-35 3-12 2 0 3-10"/>
<path class="g" d="M344 667l2-12 2 5 3 2 2-9 2 16 3 1 2-5 2 8 3 3 2-3 2 2 3-6 2 3 2 1 3 1 2 1 2-5 2-3 3 8 2-2 2 11 3-14 2 5 2-10 3-1 2 13 2-4 3 1 2 11 2-11 3-1 2 4 2 0 3 3 2 2 2-3 3 5 2-6 2-1 3 9 2-7 2-4 3 10 2 3 2-12 2 2 3 7 2 1 2 7 3-10 2-16 2 12 3 8 2 1 2-4 3-4 2 3 2 7 3-5 2 4 2-1 3-6 2 9 2-9 4-27 2-5 3-12 2-18 3-23 2-27 3-28 2-26 3-24 2-33 3-20 3-20 2 3 3 24 2 41 3 52 2 55 3 42 2 8 3-44 2-88 3-70 2 1 3 101 2 92 3-23 3-136 2-86 3 24 2 119 3 96 2 4 3-20 2-56 3-49 2-36 3-23 2-8 3-10 2-5 3-6 3 7 2 15 3 26 2 32 3 35 2 34 3 31 2 23 3 17 2 3 3 3 2-12 3-3 2 2 3-5 3-4 2 0 3-2 2-4 3 2 2 8 3 4 2 4 3-14 2-50 3-82 2-84 3-11 2 38 3 125 3 75 2-12 3-110 2-85 3 13 2 89 3 93 2 36 3-9 2-62 3-80 2-71 3-22 2-11 3 51 3 79 2 76 3 28 2-1 3-62 2-85 3-75 2-41 3 2 2-4 3 16 2 18 3 10 2-2 3-11 2-18 3-20 3-15 2 3 3 7 2 22 3 11 2-2 3 18 2 4 3 0 2 2 3 36 2 62 3 75 2 60 3 11 3-29 2-73 3-73 2-33 3 15 2 38 3 71 2 67 3 38 2-12 3-62 2-108 3-100 2-13 3 67 3 136 2 70 3-35 2-139 3-110 2 4 3 99 2 116 3 60 2-1 3-14 2-43 3-36 2-20 3-4 3 10"/>
<path class="r" d="M343 664l2 1 2 3 3-5 2-5 2 1 3 18 2-4 2 5 2-5 3-5 2 7 2-3 3-5 2 4 2-2 3 1 2 2 2 9 3-1 2-15 2 11 3 3 2-2 2-4 3-5 2 7 2 1 3 0 2-4 2 2 3 13 2-8 2 1 3-4 2 4 2-4 2 8 3-7 2 1 2 2 3-5 2-1 2 11 3 2 2-4 2 0 3-6 2 0 2 8 3-4 2 3 2-8 3 6 2 2 2 5 3-11 2 9 2 4 3 3 2-8 2 6 3-11 2-3 2 10 4-26 2-21 3-28 2-32 3-34 2-22 3-7 2 5 3 4 2-10 3-7 2 23 3 45 2 50 3 36 3-1 2 18 3-13 2-85 3-95 2-4 3 27 2 130 3 32 2-34 3-137 2-34 3 79 2 126 3 1 3-66 2-127 3-29 2-5 3 4 2 67 3 66 2 56 3 21 2 1 3-9 2 4 3 5 2-3 3-14 3-63 2-72 3-69 2-58 3-28 2 13 3 8 2 17 3 17 2 15 3 12 2 17 3 18 2 14 3 14 3 17 2-2 3 0 2 7 3 24 2 61 3 74 2 13 3-18 2-118 3-108 2-7 3 118 2 119 3 0 3-139 2-163 3-6 2 40 3 178 2 87 3 6 2-6 3-142 2-147 3-34 2 1 3 28 2 148 3 142 3 5 2 11 3-42 2-117 3-101 2-32 3 14 2-2 3 10 2 4 3 2 2 11 3 12 2 4 3 6 3 1 2 0 3 6 2 14 3 8 2 4 3 5 2 0 3 0 2 68 3 87 2 31 3 4 2-13 3-124 3-112 2-13 3-10 2 97 3 138 2 36 3-6 2-35 3-167 2-114 3 2 2 59 3 206 2 60 3 4 3-189 2-83 3 17 2 139 3 132 2-6 3-18 2-98 3-80 2-31 3 8 2-2 3-9 2-3"/>
<path class="b" d="M341 660l3 8 2 10 2-15 3 7 2-3 2 1 3-7 2 12 2-1 3 1 2 1 2 1 3-5 2 8 2-4 3-4 2-7 2-6 3 11 2-3 2 9 3-4 2 0 2 12 3-15 2-8 2 21 2-3 3 0 2-10 2 7 3 7 2-5 2 1 3-8 2 10 2 2 3 3 2-6 2-1 3 1 2 12 2-11 3 3 2-7 2 1 3 0 2 0 2 18 3-4 2-23 2 18 3 0 2 4 2 4 2 4 3-4 2-6 2 2 3-2 2-7 2 0 3 0 2 2 3-40 3-7 3-3 2-26 3-32 2-34 3-33 2-28 3-10 2-5 3-18 2-26 3-10 2 17 3 44 2 59 3 66 2 34 3-1 3-11 2-101 3-75 2 4 3 89 2 99 3 3 2-107 3-99 2 4 3 80 2 110 3 7 2 5 3-51 3-65 2-50 3-31 2 0 3 2 2-6 3-8 2-18 3-16 2-11 3 3 2 24 3 33 2 38 3 38 3 35 2 28 3 19 2 7 3 2 2 7 3-6 2-9 3-12 2-11 3-6 2 3 3 15 2 21 3 4 3 5 2-1 3-28 2-124 3-106 2 7 3 60 2 169 3 24 2-16 3-166 2-63 3 3 2 109 3 131 3 17 2 3 3-43 2-90 3-75 2-1 3-4 2 14 3 78 2 87 3 39 2-2 3 0 2-55 3-85 3-73 2-30 3-3 2-10 3-3 2-3 3-13 2-8 3-5 2-12 3 0 2 29 3 31 2 25 3 13 3-4 2-22 3-37 2-44 3 4 2 8 3 8 2 94 3 124 2 63 3 2 2-12 3-115 2-112 3-14 3 6 2 29 3 109 2 104 3 16 2-3 3-55 2-120 3-35 2 0 3 99 2 119 3 2 2-55 3-133 3-32 2 6 3 51 2 86 3 64 2 23 3-3 2-2 3-4 2-2"/>
<path class="r" d="M340 666l3-8 2-3 2 5 3 7 2-3 2-2 3 8 2-3 2 1 3 5 2-9 2 1 3 14 2 6 2-16 2 14 3-16 2 1 2-2 3 12 2-5 2-2 3 3 2 3 2 3 3-4 2 5 2-11 3 6 2 9 2 0 3-8 2-1 2-2 3-2 2 15 2-3 3-5 2 2 2 3 3-3 2-3 2 7 3-17 2 20 2-3 2-4 3 1 2 2 2 7 3-6 2 4 2 3 3 0 2-1 2-12 3 4 2-4 2 7 3 5 2-4 2-2 3 0 2 5 3-44 3-1 2-11 3-20 2-24 3-27 3-26 2-21 3-5 2-4 3-7 2-16 3-5 2 25 3 33 2 41 3 42 2 1 3 1 2-49 3-96 3-29 2 13 3 117 2 42 3-35 2-134 3-30 2 36 3 119 2 45 3-2 2-58 3-85 2-69 3-27 3-2 2 3 3 4 2 10 3 11 2 26 3 27 2 30 3 33 2 33 3 30 2 25 3 7 2-2 3-6 3-2 2 7 3 9 2-4 3 3 2-6 3 3 2 16 3-12 2-4 3 2 2 1 3-8 2-47 3-76 2-88 3-22 3 3 2 118 3 115 2-1 3-85 2-129 3-6 2 56 3 125 2 36 3 2 2-86 3-110 2-53 3 2 3 12 2 86 3 95 2 69 3 5 2-6 3-54 2-89 3-78 2-10 3-10 2 5 3 46 2 45 3 34 3 21 2 8 3-3 2-12 3-20 2-25 3-26 2-24 3-20 2-8 3-7 2-7 3 13 2 30 3 52 3 68 2 67 3 15 2 8 3-49 2-90 3-80 2-3 3-2 2 76 3 91 2 38 3 2 2-19 3-95 3-95 2-22 3 13 2 102 3 117 2 18 3-42 2-133 3-63 2 2 3 116 2 108 3 1 2-15 3-75 3-66 2-41 3-20 2 0 3 2 2 10"/>
<path class="m" d="M339 669l3-3 2 1 2-4 3 8 2-2 2-2 2-1 3 4 2 3 2 0 3-3 2 1 2-2 3-11 2 12 2 2 3 7 2-19 2 15 3 0 2-7 2 6 3-6 2 6 2 9 3-21 2 9 2 10 3-7 2-1 2 16 3 0 2-4 2 0 2-13 3 13 2 4 2-11 3-2 2-4 2 9 3 0 2-6 2 11 3-6 2-2 2-1 3 10 2-9 2-2 3 3 2 11 2-8 3 0 2-5 2 15 3-9 2 3 2-3 3 12 2-14 2 6 3 5 2-9 3-24 3-1 2 4 3-4 2-5 3-24 2-28 3-27 2-24 3-18 3-3 2-14 3-13 2-10 3 6 2 38 3 55 2 61 3 4 2 5 3-94 2-120 3-8 2 66 3 144 3 17 2-75 3-148 2-19 3 27 2 118 3 89 2 3 3 2 2-4 3-43 2-38 3-29 2-22 3-15 3-16 2-15 3-18 2-21 3-23 2-5 3-10 2-7 3-8 2-7 3-4 2 2 3 3 2 2 3 9 3 6 2 10 3 1 2 4 3-1 2-7 3-3 2-11 3 18 2 62 3 95 2 95 3 6 2-37 3-152 3-88 2 5 3 143 2 124 3 4 2-81 3-148 2-46 3-5 2 70 3 116 2 94 3 1 2 3 3-7 3-72 2-78 3-64 2-3 3-6 2 7 3 61 2 71 3 63 2 28 3 2 2 2 3 1 2-4 3 4 3 2 2-1 3 2 2-8 3-28 2-39 3-36 2-27 3-11 2 9 3 31 2 49 3 52 2 0 3 0 2-6 3-91 3-95 2-25 3 3 2 37 3 97 2 87 3 11 2-12 3-53 2-104 3-90 2 2 3 6 2 95 3 121 3 30 2-2 3-112 2-132 3-5 2 24 3 134 2 95 3-9 2-4 3-64 2-64 3-42 2-20 3-4 3 9 2 17"/>
<path class="y" d="M338 667l2 2 3 6 2-5 2-5 3 11 2-4 2-2 3-5 2 3 2 4 3 4 2 4 2 5 3-13 2 2 2-4 3 1 2 15 2-4 3-12 2 0 2 0 3 5 2 2 2-7 2 3 3-1 2 9 2-9 3 0 2-1 2 0 3 12 2 1 2-1 3-7 2 10 2-2 3-3 2 3 2 0 3 9 2-5 2-10 3 6 2 0 2 8 3-4 2-2 2 0 3 6 2-5 2-3 2-4 3 8 2-2 2-1 3 7 2-2 2 3 3-2 2 7 2-19 3 2 3 17 3 0 2 5 3 6 2-40 3-52 2-56 3-46 2 1 3-10 2-3 3-11 2 17 3 65 3 81 2 40 3-1 2-5 3-68 2-169 3-44 2-14 3 211 2 101 3 1 2-275 3-63 2 45 3 244 3 51 2 2 3-113 2-140 3-48 2-4 3-4 2-16 3-10 2 32 3 33 2 35 3 37 2 43 3 48 3 49 2 49 3 5 2 6 3-3 2-5 3 7 2 7 3 3 2 4 3-9 2 0 3 1 2 4 3 1 3-6 2-19 3-34 2-57 3-88 2-114 3-25 2-16 3 56 2 245 3 46 2-22 3-319 2-84 3 28 3 326 2 82 3-8 2-230 3-176 2 4 3 1 2 149 3 182 2 76 3-2 2-1 3-28 2-115 3-102 3-20 2 9 3-1 2 47 3 85 2 81 3 53 2 2 3-4 2-1 3 9 2-3 3 3 2 2 3-8 3-2 2-11 3-27 2-16 3 2 2 23 3 33 2 0 3-3 2-1 3-22 2-167 3-146 2-1 3 2 3 160 2 183 3 5 2-14 3-130 2-206 3-57 2-4 3 46 2 224 3 143 2-4 3-27 2-230 3-93 3 22 2 131 3 197 2-5 3-9 2-166 3-113 2 1 3-3 2 13 3 63 2 47 3 26 2 7 3-11"/>
<path class="y" d="M337 672l2 3 3 3 2-13 2 2 3 5 2 6 2-8 3-8 2 4 2 14 3-8 2 15 2-15 3-4 2 5 2 1 2-2 3 11 2-9 2-5 3 4 2-1 2-1 3 4 2 9 2-8 3 1 2 4 2-6 3 3 2-1 2 3 3-2 2-7 2 10 3 8 2-3 2-6 3 1 2-1 2 10 3-7 2-11 2 8 2 2 3-4 2 7 2-3 3-9 2 9 2 0 3 3 2-3 2 10 3-10 2-1 2-1 3 9 2 8 2-14 3 6 2 1 2 6 3-9 3-4 3-4 2-12 3-19 2-26 3-29 2-28 3-23 2-9 3 2 2 3 3-1 2 10 3 24 2 41 3 40 2 20 3 0 3-15 2-60 3-58 2-3 3 54 2 77 3 10 2-57 3-75 2 2 3 58 2 65 3 3 2-15 3-48 3-42 2-21 3-6 2-2 3-8 2 3 3 6 2 7 3 7 2 10 3 15 2 18 3 22 2 24 3 22 3 7 2 3 3-12 2 8 3-2 2 2 3 6 2 6 3-7 2 4 3 0 2 3 3-8 2 1 3-11 3-30 2-46 3-58 2-41 3 5 2 59 3 98 2 50 3-33 2-96 3-45 2 19 3 89 2 59 3-5 3-56 2-74 3-38 2-5 3 18 2 52 3 56 2 44 3-2 2 6 3-41 2-61 3-60 2-39 3 0 3 4 2 36 3 41 2 35 3 25 2 14 3 4 2-5 3-12 2-20 3-25 2-28 3-25 2-19 3-12 3-2 2 9 3 22 2 35 3 49 2 53 3 22 2 1 3-26 2-75 3-71 2-15 3 18 2 73 3 76 3 31 2 3 3-47 2-73 3-64 2-12 3 21 2 76 3 81 2 18 3-23 2-91 3-69 2 5 3 79 3 86 2 28 3-23 2-60 3-54 2-34 3-10 2 6 3-8 2 0 3-3"/>
<path class="b" d="M336 670l2-3 3 5 2 5 2-2 2 0 3-8 2 15 2-13 3-5 2 11 2 4 3-9 2 6 2-1 3-4 2-4 2 8 3 0 2-1 2-9 3 8 2-1 2-1 3 14 2-3 2-4 3 1 2 1 2-7 3 3 2 7 2-5 3-6 2 1 2 9 2 0 3-14 2 12 2 8 3-6 2-3 2-8 3 17 2-3 2-16 3 10 2 7 2-2 3 11 2 1 2-3 3-8 2 3 2 7 3-3 2-4 2 6 3 3 2-11 2 5 3-11 2 8 2 1 2 5 4 2 2-12 3 1 2 5 3-27 3-39 2-41 3-34 2 3 3 7 2 1 3 11 2 29 3 41 2 42 3 4 2 0 3-19 2-85 3-67 3 0 2 64 3 108 2 7 3-85 2-112 3-1 2 124 3 69 2-2 3-101 2-104 3-11 2-1 3 16 3 54 2 51 3 42 2 32 3 24 2-2 3 2 2-1 3 11 2-7 3-3 2 1 3-30 2-42 3-43 3-38 2-29 3-19 2-9 3 2 2 17 3 5 2 8 3 1 2 4 3-5 2-6 3-5 2-2 3 48 2 90 3 74 3-9 2-46 3-140 2-24 3 57 2 152 3 3 2-67 3-156 2-15 3 30 2 142 3 67 2 4 3-19 3-115 2-110 3-31 2 11 3 6 2 80 3 109 2 67 3 1 2 2 3-31 2-89 3-80 2-54 3 11 3 10 2 5 3 7 2 15 3 7 2 2 3 8 2 4 3 0 2 0 3 3 2-15 3 1 2-3 3-3 3-2 2 30 3 84 2 86 3 3 2 2 3-102 2-106 3-16 2 10 3 111 2 106 3-4 2-2 3-111 3-123 2-11 3 0 2 107 3 137 2 16 3-24 2-151 3-64 2-3 3 118 2 135 3-5 2-20 3-109 3-89 2-16 3 10 2 6 3 4 2 7 3 2"/>
<path class="y" d="M335 677l2-10 2 0 3 6 2-8 2 12 3-9 2 4 2 0 3-1 2 11 2-4 3-10 2 9 2-3 3-4 2-8 2 7 3-2 2 20 2 3 3-16 2-4 2 4 2 13 3-9 2-2 2 7 3 5 2-10 2 0 3 1 2 0 2 15 3-13 2 9 2-6 3-5 2-4 2-1 3 15 2-9 2-2 3-2 2 7 2 0 3 1 2 6 2-2 3-5 2 3 2 0 3-6 2-6 2 17 2 2 3-4 2 0 2-1 3 4 2-10 2 8 3 4 2 0 2 5 4-18 2-2 3 7 2 3 3-10 2-25 3-32 2-36 3-33 3-27 2 5 3 7 2-7 3 1 2 44 3 58 2 53 3 7 2-1 3-54 2-80 3-18 2 18 3 98 3 36 2-18 3-125 2-36 3 30 2 103 3 48 2 5 3-30 2-58 3-51 2-38 3-20 2-9 3-19 3-10 2-3 3-12 2-4 3-5 2-5 3 14 2 28 3 35 2 38 3 36 2 31 3 26 2 19 3 12 3 7 2 3 3 1 2 1 3 2 2 5 3 10 2 9 3 1 2-1 3 3 2-35 3-80 2-87 3-7 3 30 2 125 3 46 2-27 3-135 2-58 3 23 2 116 3 78 2-2 3-30 2-88 3-81 2-29 3-6 3 6 2 61 3 77 2 72 3 21 2-9 3 6 2-66 3-75 2-65 3-41 2 7 3-1 2 2 3 6 3-16 2 1 3 9 2 9 3 0 2 4 3 10 2 17 3 17 2 9 3-2 2-13 3-1 2-3 3 6 2 24 3 81 3 89 2 15 3-2 2-94 3-110 2-28 3-8 2 79 3 103 2 56 3 1 2-18 3-103 2-109 3-23 3-3 2 109 3 129 2 18 3-23 2-122 3-73 2 10 3 52 2 96 3 68 2-4 3-4 2 0 3-5 3-11 2-1 3 7"/>
<path class="g" d="M334 676l2-7 2 4 3-6 2 6 2 1 3 1 2 7 2 1 3-14 2 11 2-2 3-12 2 9 2 3 2-6 3 4 2 5 2 0 3-6 2 3 2 12 3-3 2-10 2 1 3-1 2 3 2 9 3 2 2-4 2-13 3 7 2 2 2 3 3 2 2-24 2 25 3-3 2 1 2 1 3-9 2 5 2-1 2 3 3-5 2 4 2-12 3 11 2 6 2-3 3-3 2-1 2 6 3 8 2-12 2 12 3 5 2-13 2 2 3 11 2-7 2-5 3 5 2-6 2 1 4 5 2 4 3-7 2 4 3-5 2-24 3-32 2-39 3-43 2-39 3-9 2-9 3-19 3 0 2 37 3 75 2 73 3 20 2 6 3-56 2-89 3-38 2 25 3 102 2 65 3-21 2-125 3-72 3 2 2 105 3 96 2 7 3-2 2-56 3-58 2-49 3-38 2-31 3-27 2-23 3-16 2-10 3-5 3-6 2 2 3 0 2 17 3 25 2 30 3 39 2 34 3 26 2 18 3 9 2 2 3-4 2-8 3-9 3-7 2 0 3 10 2 24 3 39 2 51 3 43 2 0 3-20 2-123 3-148 2-42 3 80 2 189 3 68 3-72 2-176 3-58 2 42 3 137 2 109 3 14 2 2 3-58 2-70 3-68 2-46 3-14 2-24 3 40 3 71 2 83 3 71 2 11 3-3 2-17 3-55 2-54 3-43 2-27 3-12 2 2 3 15 2 28 3 37 3 41 2 38 3 30 2 20 3 10 2 3 3-3 2-11 3-24 2-43 3-65 2-75 3-32 2-19 3 83 3 123 2 64 3-2 2-103 3-140 2-85 3 2 2 55 3 118 2 115 3 52 2-8 3-80 2-128 3-83 3 6 2 97 3 139 2 52 3-8 2-98 3-95 2-34 3 1 2 20 3 41 2 34 3 21 2 6 3-8 3-21"/>
<path class="y" d="M333 678l2-5 2-7 2 1 3 0 2 9 2-3 3 10 2-5 2-14 3 12 2-6 2 5 3 0 2 2 2 9 3-18 2 4 2 7 3-4 2 2 2-2 3 4 2-7 2 3 3 13 2 5 2-14 3 4 2 0 2 1 3-15 2 9 2 1 2-5 3 10 2-6 2 8 3 4 2-2 2-5 3-4 2 7 2-8 3-1 2 6 2 0 3 0 2-1 2 8 3 1 2-8 2 6 3-5 2 1 2-6 3 12 2-4 2 5 3-2 2 1 2 9 2-11 3-5 2-2 4 7 2-9 3-5 2 3 3 4 2-13 3-40 2-49 3-51 2-21 3-15 2-13 3-9 2 1 3 49 3 87 2 84 3-4 2-1 3-65 2-138 3-35 2 6 3 174 2 52 3-31 2-248 3-55 2 25 3 212 2 92 3 4 3-19 2-93 3-75 2-51 3-6 2-9 3-7 2-12 3-14 2 2 3 7 2-1 3-4 2 1 3 21 3 44 2 43 3 38 2 31 3 23 2 17 3 9 2 4 3 1 2-2 3-1 2 2 3 10 2 19 3 4 3 5 2 6 3 4 2-7 3-121 2-154 3-21 2 6 3 217 2 81 3-16 2-257 3-84 2 7 3 213 3 143 2-1 3-15 2-140 3-134 2-30 3-15 2-4 3 62 2 126 3 125 2 36 3 1 2 9 3-37 3-87 2-76 3-46 2-4 3 0 2-5 3-16 2-13 3-23 2-9 3-5 2 1 3 12 2 9 3 36 3 27 2 10 3-9 2-29 3-15 2-8 3-18 2-18 3 122 2 157 3 32 2-2 3-94 2-172 3-33 3 14 2 61 3 148 2 88 3-1 2-2 3-129 2-178 3-44 2-13 3 107 2 219 3 39 2-6 3-174 3-126 2 13 3 39 2 147 3 119 2 2 3-4 2-2 3 2 2 5 3-2 2 10"/>
<path class="y" d="M331 668l3 5 2-2 2-8 3 14 2 0 2-9 3 9 2 4 2-6 3-5 2 4 2 3 3-12 2 6 2-2 3 6 2 2 2 6 3-10 2 5 2 4 2 6 3-1 2 0 2-14 3 1 2-1 2 8 3 8 2-4 2 5 3-4 2-11 2-1 3 4 2 6 2-6 3-5 2 3 2 16 3 1 2-9 2-4 3 6 2 5 2 6 3-15 2 0 2 8 3-3 2 6 2-4 2 2 3 0 2 7 2 0 3-2 2-9 2-1 3 0 2 4 2-1 3-9 2 12 3-5 3 9 2 7 3-4 3-2 2-16 3-22 2-26 3-25 2-22 3-8 2-6 3 3 2 17 3 21 2 34 3 33 2 11 3-16 3-54 2-65 3-22 2 43 3 87 2 38 3-50 2-119 3-26 2 59 3 95 2 46 3-15 2-48 3-51 3-40 2-27 3-17 2-13 3-10 2-5 3-11 2-5 3-3 2 1 3 9 2 15 3 23 2 29 3 33 3 31 2 28 3 23 2 17 3 12 2 7 3 5 2 2 3 2 2 2 3 3 2 1 3-2 2 7 3-8 3-26 2-50 3-68 2-48 3 3 2 86 3 99 2 7 3-108 2-115 3-2 2 107 3 110 2 22 3-43 2-84 3-68 3-19 2 1 3 39 2 54 3 54 2 43 3 13 2-1 3-23 2-48 3-55 2-49 3-35 2-13 3 3 3-8 2 7 3 4 2-2 3-8 2-13 3-13 2-3 3 6 2 1 3 16 2 11 3 7 2 7 3 12 3 9 2 26 3 43 2 57 3 54 2 22 3-28 2-67 3-67 2-24 3 29 2 69 3 69 2 21 3-6 3-66 2-84 3-66 2-9 3 50 2 97 3 84 2 8 3-65 2-101 3-55 2 21 3 80 2 80 3 40 3-7 2-35 3-43 2-37 3-27 2-15 3-6 2 4"/>
<path class="c" d="M330 675l3-7 2 6 2 9 3-6 2 8 2-14 3-1 2 2 2-11 3 5 2 8 2-2 2 5 3-1 2 7 2 1 3-16 2 13 2-3 3 0 2-10 2-1 3 5 2 11 2 5 3-8 2-1 2 1 3-13 2 10 2 5 3-2 2-1 2-4 3 4 2 11 2 3 3-5 2 4 2-4 2-2 3-10 2 4 2 14 3 2 2-6 2-6 3 8 2-6 2-2 3 9 2 10 2-5 3-12 2 11 2 4 3 2 2-14 2-1 3 11 2-7 2 3 3-3 2-3 3-7 3 1 2-4 3 4 2-12 3-35 2-46 3-49 3-43 2-11 3-5 2 18 3 45 2 54 3 46 2 11 3 8 2-26 3-66 2-66 3-10 2 43 3 96 3 22 2-55 3-117 2-74 3 117 2 125 3 4 2-66 3-76 2-19 3 10 2 7 3 29 2 25 3 20 3 17 2 15 3 14 2 14 3 13 2-6 3 12 2-7 3 4 2 7 3-21 2-28 3-35 2-38 3-40 3-38 2-31 3-22 2-14 3-6 2 0 3 4 2 14 3 15 2 11 3 2 2 36 3 67 2 86 3 31 3-15 2-144 3-119 2 18 3 168 2 94 3-28 2-137 3-49 2 21 3 104 2 91 3 8 2-5 3-78 3-98 2-85 3-28 2 4 3 38 2 89 3 93 2 69 3 11 2 0 3-29 2-53 3-55 2-50 3-41 3-30 2-12 3-15 2 4 3 15 2 25 3 31 2 30 3 24 2 15 3 1 2-13 3-28 2-37 3-19 3-10 2 23 3 95 2 101 3 7 2-34 3-118 2-80 3 14 2 66 3 107 2 61 3 3 2-61 3-119 2-108 3-3 3 35 2 139 3 115 2-3 3-76 2-122 3-27 2 46 3 114 2 82 3 1 2-24 3-75 2-73 3-53 3-27 2-1 3 4 2 19"/>
<path class="k" d="M329 663l3 9 2-4 2 7 2 1 3 2 2-1 2 1 3 11 2-14 2 2 3-2 2 1 2-5 3 10 2 3 2-2 3-12 2-3 2 3 3 3 2-6 2 24 3-12 2 5 2-2 3 0 2-1 2 2 3 0 2-7 2 19 2 0 3-18 2 2 2 15 3-4 2-9 2 0 3 1 2 8 2-2 3-2 2-4 2-2 3 4 2 6 2 6 3-9 2-6 2 0 3 9 2 3 2-6 3-4 2 7 2 4 3-1 2 0 2 3 2-3 3 0 2 4 2 7 3-5 3-39 3 2 2 2 3 2 2-3 3-8 2-22 3-30 2-33 3-22 2-7 3-3 3-5 2-2 3 27 2 31 3 41 2 4 3 1 2-26 3-97 2-47 3 2 2 71 3 90 2 1 3-119 3-107 2 2 3 78 2 128 3 10 2 9 3-13 2-55 3-47 2-34 3-23 2-5 3-10 2-4 3 3 3 4 2 5 3 1 2 3 3-3 2-1 3 4 2 1 3-3 2-10 3-6 2 8 3 7 2 6 3 4 3 4 2 5 3 8 2 13 3 20 2 29 3 41 2 50 3 1 2-3 3-17 2-131 3-82 2-4 3 109 3 118 2 3 3-100 2-121 3 11 2 30 3 131 2 43 3 1 2-1 3-59 2-84 3-68 2 1 3 4 3 20 2 0 3 67 2 72 3 61 2 8 3 5 2-2 3-12 2-4 3-25 2-17 3-4 2 7 3 17 3 21 2 10 3 7 2-3 3 0 2 0 3 6 2 1 3 3 2-7 3 11 2-24 3-73 2-81 3-10 3 5 2 47 3 109 2 26 3 9 2-49 3-108 2-51 3-14 2-6 3 90 2 102 3 13 2-3 3-44 3-134 2-61 3 4 2 50 3 144 2 42 3-6 2-45 3-114 2-46 3 1 2-10 3 9 2 2 3 13 3 7 2 4"/>
<path class="b" d="M328 681l2 3 3-5 2-1 2-6 3 1 2 2 2-2 3 3 2 1 2 4 3 0 2-6 2 8 3 4 2-9 2 4 3 2 2-11 2 11 3 1 2-5 2 4 2 1 3-8 2 7 2 3 3-7 2-5 2 10 3-6 2-3 2 5 3 13 2-7 2 7 3-5 2 2 2-11 3 3 2 6 2 0 3-6 2 3 2 0 3-1 2 2 2 4 3-3 2-8 2 10 2 1 3-4 2 6 2-1 3 4 2-6 2-5 3 5 2-2 2 0 3 1 2 10 2-2 3 5 3-43 3 8 2-5 3 0 2 2 3-3 2-27 3-35 2-35 3-29 2-9 3 5 2 5 3 14 3 14 2 23 3 34 2 31 3-2 2-7 3-63 2-82 3-5 2 35 3 97 2 21 3-35 2-83 3-16 2 17 3 64 3 43 2 4 3-5 2-5 3-33 2-28 3-18 2-7 3 1 2 8 3 10 2 9 3 5 2-1 3-9 3-16 2-18 3-14 2-26 3-15 2-16 3-4 2-8 3 6 2 5 3 10 2 1 3 6 2-3 3-11 3-12 2-23 3 9 2 40 3 73 2 77 3-2 2-9 3-128 2-80 3 27 2 117 3 109 2 3 3-71 3-92 2-9 3-6 2 69 3 73 2 24 3 1 2 7 3-37 2-41 3-33 2-19 3 9 2 11 3 0 3 15 2 28 3 29 2 27 3 5 2-3 3 3 2 1 3 5 2 9 3 3 2-6 3-2 2-2 3-18 3-23 2-25 3-21 2-12 3 4 2 23 3 39 2 19 3-7 2 6 3-76 2-84 3-24 2 7 3 52 3 89 2 46 3-3 2-32 3-93 2-84 3-2 2 8 3 63 2 98 3 61 2 15 3-10 2-61 3-57 3 1 2 9 3 67 2 47 3-2 2-7 3-51 2-50 3-29 2-8 3 6 2 14 3 17"/>
<path class="b" d="M327 686l2-20 3 2 2 12 2-8 3 0 2 4 2-2 3 0 2-1 2 10 2-7 3 3 2 9 2-9 3 1 2 0 2 4 3-4 2 0 2 0 3 7 2-8 2 12 3-11 2 9 2-2 3-11 2 13 2-9 3 3 2 8 2-14 3 7 2 4 2-7 3 1 2 11 2-5 3-2 2 10 2-19 2 11 3-1 2-5 2 14 3-5 2 2 2 1 3-4 2-6 2 16 3-5 2-4 2 2 3-1 2 3 2-7 3 10 2-6 2 5 3-4 2-2 2-7 3 13 3-3 2-1 3 3 3 0 2 0 3 0 2-24 3-30 2-33 3-31 2-10 3-4 2-4 3-6 2 3 3 32 2 44 3 55 3 10 2-3 3-47 2-89 3-11 2 13 3 108 2 33 3-16 2-129 3-44 2 2 3 94 2 95 3 5 3 1 2-2 3-41 2-40 3-33 2-25 3-18 2-14 3-11 2-12 3-11 2-13 3-4 2 0 3 3 3 13 2 2 3 10 2-2 3 2 2 9 3 6 2-1 3 9 2 2 3-4 2-5 3-5 2-3 3-8 3 10 2 46 3 72 2 69 3 1 2-6 3-123 2-104 3 7 2 90 3 133 2-6 3-50 2-140 3-23 2 2 3 82 3 102 2 46 3-5 2 3 3-24 2-72 3-75 2-62 3 2 2 0 3-2 2 50 3 73 2 67 3 36 3 1 2 8 3-4 2 5 3-4 2 1 3 13 2-3 3-4 2-2 3-6 2-21 3-16 2-8 3 1 3 12 2 23 3 12 2 10 3 1 2-3 3-78 2-98 3-31 2-5 3 38 2 110 3 57 2 3 3-3 3-100 2-109 3-32 2 1 3 27 2 118 3 104 2 2 3 1 2-119 3-97 2 8 3 30 2 116 3 61 3 0 2-5 3-64 2-63 3-45 2-27 3-13 2-1 3 9"/>
<path class="b" d="M326 666l2 4 2 7 3 2 2-6 2 5 3 5 2-12 2 9 3 3 2-4 2-5 3 5 2 2 2-4 3 5 2 3 2-9 3 9 2-9 2-5 3-1 2 17 2-1 3 7 2-7 2-5 3-4 2-4 2-3 2 6 3 14 2-11 2-1 3-2 2 8 2 9 3-5 2 2 2 0 3-5 2 7 2-12 3 11 2-2 2-1 3-3 2 9 2 2 3-7 2-1 2 5 3 4 2-9 2 2 3 14 2-5 2-5 3 1 2 6 2 2 2-14 3 11 2-6 2 2 4 3 2-3 3-4 2 2 3-5 2-16 3-27 3-30 2-30 3-27 2-22 3 1 2-5 3-5 2 12 3 32 2 35 3 48 2 26 3 3 2-33 3-74 3-46 2 5 3 85 2 68 3-4 2-127 3-118 2-7 3 58 2 108 3 79 2 21 3-7 2-2 3-16 3-18 2-13 3-10 2-8 3-8 2-9 3-11 2-15 3-18 2-22 3-21 2-21 3-18 2-12 3-9 3-7 2-5 3-4 2-2 3 1 2 2 3 5 2 4 3 1 2-2 3-1 2 4 3 13 2 10 3 52 3 84 2 78 3 1 2-72 3-133 2-44 3 46 2 143 3 67 2-15 3-117 2-115 3-32 2-1 3 44 3 79 2 78 3 63 2 11 3 3 2-9 3-67 2-84 3-82 2-60 3-2 2 22 3 11 2 22 3 37 3 26 2 13 3-1 2-13 3-21 2-25 3-8 2 6 3-2 2 4 3 10 2-2 3 5 2 2 3-5 3-1 2 1 3 18 2 70 3 90 2 51 3 4 2-63 3-116 2-90 3-6 2 27 3 96 2 100 3 55 2 8 3-19 3-93 2-112 3-59 2-10 3 72 2 136 3 69 2 6 3-90 2-123 3-52 2 10 3 32 2 70 3 61 3 41 2 23 3 8 2-4 3-14"/>
<path class="c" d="M325 677l2 3 2-3 3-1 2-11 2 11 3 8 2-14 2 12 3-7 2 10 2-16 3-6 2 11 2 3 3-4 2 1 2 3 3 3 2 0 2 0 2 6 3-6 2-7 2 14 3 4 2-7 2 11 3-18 2 4 2 6 3-1 2 0 2-3 3 4 2 1 2-1 3 7 2-5 2-6 3 2 2 1 2 3 3 4 2-14 2 9 3-4 2 8 2 5 2 3 3 0 2-7 2-3 3 1 2 9 2 2 3-15 2 9 2 1 3-3 2 1 2 5 3-3 2-1 2 5 4 2 2 2 3 5 2-2 3-12 2-32 3-44 2-53 3-52 2-23 3-16 3-9 2 7 3 46 2 65 3 68 2 48 3-6 2-1 3-71 2-88 3-20 2 28 3 115 2 54 3-36 3-175 2-48 3 41 2 140 3 82 2-2 3-26 2-54 3-48 2-42 3-39 2-21 3-28 2-30 3-22 3-14 2-6 3 0 2 17 3 6 2 10 3 23 2 34 3 31 2 28 3 23 2 17 3 11 2 6 3 3 3 0 2 2 3 6 2 14 3 21 2 30 3 34 2 25 3-1 2-2 3-55 2-129 3-109 2-18 3 121 3 182 2 6 3-126 2-171 3 9 2 89 3 145 2 59 3 3 2-50 3-92 2-96 3-51 2-25 3-17 3 40 2 92 3 101 2 83 3 5 2 1 3-4 2-57 3-60 2-55 3-46 2-36 3-26 2-13 3 2 3 20 2 37 3 49 2 53 3 47 2 34 3 21 2 9 3-4 2-19 3-37 2-60 3-78 2-32 3-23 3 45 2 140 3 103 2 5 3-48 2-145 3-114 2 11 3 14 2 116 3 126 2 52 3-5 2-64 3-172 3-148 2 6 3 70 2 192 3 114 2 5 3-72 2-112 3-47 2 11 3 28 2 60 3 54 2 39 3 23 3 11 2 0 3-8"/>
<path class="y" d="M324 659l2 8 2 8 3 0 2 5 2 4 3-16 2 5 2 10 2-11 3 6 2 0 2 10 3-12 2-6 2 8 3 0 2-4 2-6 3 4 2 7 2 1 3 3 2 1 2 0 3 1 2 6 2-7 3-2 2 3 2 2 3 1 2 1 2-3 3 0 2-1 2 2 3 2 2 0 2 1 2 6 3-8 2 10 2-2 3-11 2 1 2 6 3-2 2-3 2-3 3 10 2 0 2-4 3 4 2 5 2-11 3 7 2 0 2-2 3 7 2 0 2-13 3 7 2-3 2 11 4-10 2-12 3 2 2 7 3-12 2-34 3-39 2-38 3-26 2-1 3-1 2-1 3-7 3 35 2 48 3 55 2 34 3-5 2-4 3-71 2-86 3 0 2 29 3 113 2 19 3-23 2-171 3-28 3 25 2 150 3 48 2 2 3-30 2-96 3-78 2-50 3 6 2 4 3 12 2 3 3-11 2 5 3 6 2 2 3-5 3-1 2 7 3 30 2 34 3 34 2 30 3 26 2 18 3 11 2 6 3 0 2-2 3-3 2-2 3 4 3 13 2 24 3 8 2-5 3-5 2 8 3-86 2-134 3-27 2 9 3 143 2 100 3-7 2-129 3-101 3-3 2 92 3 140 2 12 3-4 2-61 3-98 2-62 3-14 2-5 3-3 2 68 3 90 2 87 3 11 3 2 2-3 3-57 2-87 3-75 2-48 3 2 2 16 3 4 2 7 3-2 2 5 3 2 2 11 3 30 3 32 2 29 3 19 2 7 3-9 2-26 3-41 2-44 3-12 2-5 3 3 2 111 3 126 2 7 3-5 3-103 2-146 3-23 2 6 3 66 2 130 3 85 2-5 3 1 2-89 3-116 2-24 3-3 2 80 3 143 3 11 2-7 3-153 2-106 3-3 2 11 3 107 2 96 3 49 2 0 3 2 2-3 3 2 2-1"/>
<path class="r" d="M322 680l3 3 2-7 2 3 3 3 2-12 2-8 3 17 2-1 2-3 3 9 2-2 2-2 3 2 2 3 2-6 3 1 2 8 2-3 3 2 2 4 2-12 3-4 2 0 2 4 3 7 2-2 2 0 2 0 3-2 2 9 2-2 3 5 2 2 2-5 3-1 2-3 2 2 3-11 2 6 2 8 3 4 2 1 2-9 3-6 2 12 2 1 3-9 2 4 2 7 3-1 2 0 2-3 3-9 2 12 2-3 3 4 2-2 2-6 2 2 3 5 2 1 2 0 3-2 2 5 3 5 3 3 3-2 2 0 3-23 2-44 3-49 2-49 3-42 2-7 3 0 2-3 3-3 2 4 3 53 2 70 3 77 3 21 2 0 3-31 2-145 3-100 2 3 3 118 2 161 3 2 2-151 3-220 2 7 3 81 2 195 3 81 3-5 2 11 3-77 2-71 3-54 2-38 3-27 2-21 3-19 2-20 3-19 2-18 3-9 2 2 3-6 3-6 2-8 3 2 2-4 3-9 2-1 3 5 2-6 3 0 2 1 3-5 2 0 3 7 2 2 3 4 3 10 2 67 3 102 2 128 3 78 2 9 3-38 2-214 3-119 2-6 3 215 2 175 3 4 2-179 3-232 3-12 2 17 3 177 2 168 3 57 2-4 3 3 2-67 3-119 2-123 3-99 2-4 3-2 2 3 3 97 2 122 3 112 3 82 2 2 3-4 2 10 3-2 2 1 3 2 2-2 3-5 2 4 3-43 2-58 3-54 2-39 3-17 3 8 2 35 3 59 2 73 3 19 2 7 3 5 2-119 3-171 2-80 3-2 2 60 3 182 2 131 3 3 3-2 2-129 3-159 2-85 3-2 2 7 3 159 2 179 3 31 2-9 3-169 2-220 3-15 2 19 3 211 3 187 2 11 3 2 2-58 3-95 2-74 3-46 2-19 3 3 2 24"/>
<path class="c" d="M321 675l3 0 2 4 2-2 3-5 2-4 2 15 3-11 2 8 2 4 3-2 2-1 2 7 3-17 2 9 2 1 3-9 2 1 2 9 2 5 3-3 2 3 2-9 3 10 2-10 2-2 3 10 2 2 2 0 3-11 2 8 2-8 3 15 2 2 2 1 3-11 2-2 2 8 3-5 2 0 2 3 3-3 2 22 2-27 3 8 2 2 2 6 2 3 3-10 2-4 2 13 3-8 2 10 2-8 3 7 2-1 2 2 3 5 2-8 2-3 3-9 2 15 2-3 3 2 2-3 3 3 3-4 2-6 3-16 2-36 3-44 3-46 2-41 3-5 2-3 3 3 2-4 3 25 2 47 3 58 2 60 3 23 2 2 3-23 2-116 3-124 3-8 2 54 3 164 2 54 3-76 2-221 3-56 2 60 3 193 2 87 3 2 2-53 3-110 2-90 3-57 3-9 2 2 3 0 2 5 3 6 2 1 3-7 2-4 3-1 2-4 3 1 2 21 3 29 2 33 3 34 3 33 2 27 3 19 2 11 3 5 2 0 3-2 2-1 3 6 2 16 3 29 2 45 3 37 2 8 3 1 3-55 2-168 3-153 2 0 3 106 2 222 3 35 2-86 3-222 2-45 3 27 2 185 3 132 2-7 3-1 3-119 2-123 3-93 2-5 3 11 2 8 3 90 2 109 3 103 2 53 3 0 2-9 3-37 2-81 3-77 3-60 2-39 3-18 2-3 3 13 2 26 3 39 2 49 3 52 2 49 3 39 2 26 3 11 2-4 3-24 3-48 2-77 3-98 2-88 3 9 2 1 3 128 2 160 3 59 2-8 3-93 2-160 3-92 2 0 3 30 3 135 2 138 3 42 2 4 3-81 2-164 3-116 2-3 3 88 2 196 3 85 2-10 3-137 2-182 3-44 2 1 3 29 3 92 2 76 3 48 2 23 3 1 2-15"/>
<path class="g" d="M320 672l3 18 2-16 2 6 3-4 2-3 2 5 3 12 2-17 2 6 2 1 3 2 2-1 2 1 3-2 2-6 2-4 3 12 2 5 2 7 3-13 2-2 2-2 3 12 2 0 2-4 3-3 2-3 2 15 3-5 2-8 2 10 3-7 2 5 2 2 3-1 2-7 2 3 2 9 3-4 2-6 2 4 3 3 2 6 2-5 3 1 2 6 2-2 3-4 2-7 2-2 3 13 2 2 2-2 3 0 2-10 2-4 3 6 2 4 2 4 3-9 2 22 2-19 3 9 2 3 3 1 3-11 2-19 3-29 2-37 3-42 2-39 3-30 2-10 3-3 3 10 2 26 3 37 2 46 3 49 2 44 3 16 2-8 3-65 2-97 3-76 2 7 3 101 2 116 3 11 3-128 2-151 3-11 2 129 3 137 2 37 3-67 2-107 3-90 2-50 3-6 2 4 3 10 2 7 3 13 3 11 2 12 3 14 2 18 3 24 2 31 3 36 2 38 3 36 2 31 3 23 2 16 3 5 2-5 3-10 3 12 2 1 3 0 2 6 3-3 2-6 3 1 2-1 3-17 2-55 3-90 2-105 3-61 2 22 3 136 3 151 2 22 3-128 2-171 3-30 2 107 3 163 2 55 3-36 2-125 3-120 2-67 3-1 2 50 3 85 3 95 2 84 3 46 2 1 3-35 2-89 3-104 2-92 3-55 2-2 3 7 2 34 3 33 2 24 3 11 3-3 2-13 3-21 2-21 3-17 2 1 3 9 2-8 3 0 2 7 3 10 2 5 3 9 2 54 3 86 3 102 2 74 3-2 2-85 3-144 2-117 3-13 2 73 3 136 2 120 3 35 2-24 3-106 2-128 3-93 3-11 2 88 3 149 2 123 3 4 2-128 3-171 2-79 3 55 2 149 3 135 2 46 3 7 2-43 3-50 3-38 2-23 3-7 2 6"/>
<path class="m" d="M319 681l2-5 3-7 2-2 2 13 3-2 2 8 2 3 3-10 2 3 2 5 3-5 2-11 2 12 3-1 2 11 2-5 3-11 2 12 2-1 3-2 2 4 2-2 3 0 2-5 2 2 3 5 2-1 2 6 2 0 3-7 2 6 2-12 3 1 2 13 2-6 3 0 2 1 2 0 3-4 2 2 2 3 3 1 2-1 2 1 3 8 2-7 2-14 3 18 2-6 2 11 3-20 2 11 2 2 3 0 2 0 2 11 2-5 3-12 2 8 2-7 3 7 2-7 2 9 3-2 3-13 3 8 2-12 3-34 2-45 3-52 2-47 3-14 2 2 3 6 2 4 3 25 3 45 2 48 3 46 2 11 3 3 2 2 3-65 2-103 3-26 2 4 3 102 2 88 3 1 2-155 3-104 3 2 2 155 3 91 2-2 3-77 2-144 3-90 2-2 3-4 2-4 3 8 2 37 3 35 2 32 3 30 2 30 3 31 3 34 2 35 3 37 2 26 3 3 2-4 3 5 2-3 3-3 2 6 3-2 2-8 3 14 2-2 3-9 3 2 2-6 3-2 2-21 3-63 2-94 3-108 2-14 3 6 2 93 3 187 2 36 3-51 2-187 3-30 3 36 2 179 3 47 2-4 3-155 2-149 3-7 2 2 3 59 2 118 3 107 2 28 3 1 2 1 3-63 3-114 2-114 3-41 2-7 3-2 2 26 3 79 2 73 3 54 2 34 3 15 2 0 3-13 2-23 3-32 3-36 2-38 3-33 2-26 3-14 2 2 3 22 2 48 3 75 2 92 3 35 2 5 3-4 2-135 3-144 3-5 2-5 3 137 2 151 3 6 2 6 3-97 2-145 3-63 2 15 3 35 2 145 3 121 2 0 3-26 3-163 2-99 3-15 2 98 3 175 2 25 3-5 2-92 3-128 2-86 3 2 2-2 3 7 2 6 3-4"/>
<path class="k" d="M318 660l2 7 3 1 2 8 2 6 3-10 2 7 2-4 3-3 2 2 2 22 3-14 2-2 2 5 3 3 2-6 2 5 2 0 3 8 2-14 2 1 3-1 2 5 2-1 3 4 2-6 2 3 3 4 2-4 2 4 3 7 2-4 2-3 3-10 2 15 2-5 3-1 2-3 2-6 3 5 2 5 2 1 3 2 2-5 2 7 3 2 2 12 2-7 2-19 3 17 2-6 2-8 3 6 2-3 2 4 3 12 2-9 2-3 3 8 2-9 2 0 3 12 2 8 2-10 3-12 3-31 3-6 2-17 3-24 2-30 3-32 2-29 3-14 2 4 3 3 2-9 3 11 2 28 3 34 2 38 3 36 3-4 2 8 3-31 2-84 3-65 2-1 3 60 2 106 3 14 2-56 3-191 2-8 3 64 2 137 3 21 3-5 2-76 3-84 2-57 3 1 2-2 3 4 2 6 3-7 2-1 3-1 2-3 3 7 2 17 3 23 3 29 2 32 3 33 2 29 3 25 2 20 3 14 2-2 3 6 2 6 3-7 2-8 3 5 2-1 3 6 3-1 2-2 3 0 2 2 3-19 2-90 3-107 2-22 3 9 2 142 3 90 2 4 3-146 2-113 3-4 3 110 2 135 3 8 2 10 3-88 2-94 3-55 2-1 3 0 2 25 3 72 2 78 3 65 2-1 3-5 2-12 3-69 3-72 2-57 3-30 2 0 3 12 2 1 3-1 2-2 3 0 2 0 3-16 2 9 3 26 2 27 3 21 3 12 2-1 3-16 2-28 3-30 2 6 3 2 2 13 3 96 2 106 3 20 2-1 3-93 2-120 3-44 3 5 2 54 3 109 2 93 3 6 2 0 3-80 2-113 3-56 2-8 3 75 2 134 3 48 2-8 3-127 3-119 2 5 3 11 2 95 3 86 2 57 3 7 2-13 3 6 2 1 3-8"/>
<path class="y" d="M317 681l2 0 3 5 2-9 2 7 3-7 2 0 2 3 2 3 3 1 2-1 2-2 3 0 2-7 2 9 3-9 2 14 2-9 3 10 2 1 2-7 3 2 2 3 2-5 3-4 2 3 2 13 3-14 2 16 2-8 3-3 2 1 2 3 3-2 2-1 2 4 2-7 3 7 2-9 2 4 3 7 2 0 2 2 3 6 2-4 2-5 3-4 2 8 2 0 3 6 2-1 2-2 3-2 2-1 2-5 3-3 2-2 2 20 3 5 2 0 2-6 3-3 2 0 2-5 3 0 3-86 2-4 3-13 2-19 3-24 3-25 2-25 3-17 2 0 3-10 2-2 3 8 2 15 3 24 2 31 3 36 2 36 3 1 2 3 3-50 3-80 2-43 3 3 2 85 3 77 2-26 3-108 2-119 3-5 2 75 3 115 2 41 3-1 2-15 3-55 3-49 2-36 3-25 2-17 3-11 2-9 3-9 2-6 3-4 2-3 3-6 2-4 3 8 2-6 3-9 3 4 2 3 3 0 2 4 3 2 2-1 3 2 2 0 3 2 2-1 3-7 2-6 3 9 2 30 3 53 3 74 2 78 3 5 2-4 3-117 2-117 3 2 2 90 3 139 2 11 3-50 2-132 3-63 2-1 3 58 3 98 2 81 3 18 2 5 3-5 2-56 3-69 2-69 3-40 2-6 3-10 2 26 3 61 2 63 3 54 3 37 2 9 3-1 2-3 3 3 2 3 3-1 2-8 3-27 2-35 3-38 2-34 3-25 2-13 3 1 3 16 2 32 3 48 2 57 3 32 2 3 3-5 2-86 3-102 2-48 3 0 2 44 3 100 2 86 3 9 3 3 2-64 3-89 2-77 3 1 2-2 3 88 2 108 3 41 2-8 3-98 2-121 3-14 2 9 3 106 2 98 3 26 3 8 2-10 3-22 2-23 3-10 2 2 3 11"/>
<path class="m" d="M316 686l2-5 2-5 3-3 2 0 2 16 3 0 2-3 2-13 3 9 2 0 2 6 3-13 2 10 2-3 3 13 2-2 2-13 3 2 2 0 2 9 3 7 2-10 2-4 3 0 2 1 2 4 2-2 3 3 2-7 2 20 3-9 2-12 2 2 3 8 2-4 2 11 3-9 2-2 2 8 3-1 2 5 2-3 3-13 2 2 2 18 3-3 2-3 2-18 3 12 2 1 2 8 3-5 2-4 2 3 2 5 3-7 2-1 2 6 3-5 2 15 2 3 3-10 2 7 2-10 4-38 2-13 3-21 2-27 3-33 2-35 3-31 2-23 3-4 3 9 2 0 3 12 2 28 3 35 2 39 3 38 2 15 3 2 2-29 3-77 2-94 3-8 2 60 3 114 3 26 2-53 3-200 2-29 3 70 2 137 3 50 2 3 3-74 2-82 3-63 2-39 3-8 2 3 3-5 3-1 2 4 3 1 2-9 3 12 2 18 3 24 2 28 3 32 2 33 3 28 2 24 3 18 2 12 3 7 3 3 2-1 3-4 2-5 3-3 2 1 3 8 2 16 3 20 2 13 3 4 2-8 3-80 2-118 3-81 3-4 2 132 3 151 2 1 3-96 2-155 3-37 2 75 3 137 2 85 3-2 2-44 3-96 2-93 3-64 3 7 2-2 3 54 2 83 3 87 2 67 3 3 2 0 3-46 2-73 3-70 2-55 3-34 2-19 3-2 3 2 2 3 3 15 2 24 3 31 2 37 3 36 2 31 3 22 2 10 3-4 2-18 3-36 2-49 3-54 3-10 2-3 3 55 2 111 3 102 2 17 3-32 2-112 3-115 2-43 3-3 2 70 3 110 2 98 3 21 3-14 2-106 3-130 2-59 3 9 2 128 3 140 2 31 3-55 2-138 3-102 2 5 3 24 2 82 3 74 3 51 2 30 3 13 2 2 3-8"/>
<path class="g" d="M315 679l2-2 2 7 3-2 2 1 2-6 3-7 2 5 2 4 3 1 2-4 2 12 3-10 2-1 2-3 3 12 2 4 2 0 2 3 3-11 2 3 2 3 3 4 2-17 2 21 3-6 2-4 2 2 3 3 2 1 2-7 3-2 2 9 2 9 3-3 2-9 2-2 3 8 2-4 2 1 3 6 2 0 2-1 3-1 2 6 2 0 2-4 3 1 2-12 2-2 3 18 2-5 2-9 3 2 2 13 2-6 3 5 2-5 2 8 3 4 2-11 2-4 3 14 2 4 2-13 4-21 2-12 3-19 2-24 3-28 2-28 3-23 2-17 3 3 2-9 3 10 3 20 2 28 3 36 2 39 3 36 2 14 3-7 2-50 3-82 2-75 3-3 2 85 3 106 2 21 3-97 3-204 2-20 3 133 2 148 3 35 2-50 3-100 2-81 3-43 2-6 3 6 2 5 3 13 2 11 3 10 3 11 2 13 3 17 2 23 3 28 2 32 3 31 2 28 3 23 2 16 3 8 2 3 3 1 2 2 3-3 2 4 3 4 3-1 2 0 3 11 2-2 3-6 2 1 3-39 2-72 3-97 2-83 3-6 2 102 3 149 2 57 3-88 3-171 2-71 3 68 2 154 3 104 2 0 3-82 2-103 3-78 2-31 3 14 2 52 3 76 2 81 3 64 3 19 2-12 3-52 2-81 3-77 2-55 3-17 2 2 3 3 2 10 3 6 2-3 3-13 2-20 3-22 3-9 2-5 3-3 2 3 3 14 2 10 3 4 2-2 3 1 2 7 3 24 2 65 3 95 2 93 3 38 3-29 2-100 3-111 2-60 3 17 2 80 3 100 2 79 3 24 2-29 3-83 2-103 3-74 2-5 3 88 3 132 2 78 3-37 2-138 3-129 2-15 3 74 2 123 3 94 2 37 3-5 2-21 3-25 2-17 3-5 3 6"/>
<path class="y" d="M314 694l2-8 2-5 3-3 2 3 2 7 2-14 3 5 2-3 2 8 3-2 2 1 2 2 3-1 2 3 2-3 3-1 2 8 2-8 3-9 2 16 2 9 3-13 2 11 2-7 3 2 2 2 2 2 3 2 2-6 2-7 3 3 2 5 2-2 3 6 2 5 2 1 2-18 3-2 2 11 2 4 3-5 2 0 2-3 3 11 2-8 2 4 3-2 2-1 2-1 3 18 2-13 2 1 3 5 2-3 2 3 3-3 2-2 2 0 3 2 2 2 2-9 3 6 2 8 2-1 4-17 2-20 3-34 2-43 3-48 2-44 3-3 2-4 3 1 2 2 3 33 2 50 3 54 2 49 3 8 3 4 2 2 3-67 2-100 3-44 2-6 3 81 2 132 3 4 2-102 3-234 2-2 3 203 2 140 3-3 3-168 2-171 3-3 2-2 3 58 2 96 3 82 2 61 3 45 2 9 3-5 2 6 3 2 2 1 3 0 3-4 2-21 3-52 2-57 3-57 2-51 3-41 2-30 3-21 2-4 3-5 2-7 3-1 2 7 3-6 3 5 2-10 3 4 2 3 3 2 2 108 3 149 2 72 3 6 2-134 3-202 2-3 3 132 2 211 3-10 3-127 2-198 3 3 2 39 3 169 2 118 3 4 2 0 3-97 2-128 3-107 2-4 3 2 2 46 3 126 3 126 2 50 3-3 2-5 3-69 2-88 3-75 2-52 3-32 2-14 3-1 2 11 3 22 2 31 3 38 2 38 3 31 3 19 2 3 3-18 2-41 3-62 2-71 3-3 2 3 3 37 2 158 3 158 2 0 3-11 2-169 3-160 3-3 2 5 3 147 2 156 3 37 2-6 3-78 2-166 3-83 2 1 3 94 2 194 3 34 2-19 3-203 3-105 2-4 3 125 2 170 3 31 2 8 3-19 2-77 3-64 2-41 3-20 2-1"/>
<path class="g" d="M312 684l3-4 2 1 2 8 3-10 2 5 2 11 3-17 2 3 2-3 3 5 2 1 2-3 3 5 2-8 2 1 3 5 2-4 2 11 3-7 2 14 2-16 3 3 2 2 2 6 2-11 3 16 2-13 2-1 3 4 2 2 2-2 3 8 2-5 2 2 3-5 2 3 2-4 3 7 2 6 2 6 3-9 2-4 2 1 3 9 2-8 2 4 3 9 2-14 2 1 3 0 2 3 2 2 3 7 2-6 2-2 2-8 3 8 2-9 2 11 3-1 2 5 2-13 3 0 2 6 3-63 3-4 2-13 3-19 3-23 2-25 3-23 2-16 3 8 2 4 3-6 2 3 3 20 2 26 3 32 2 31 3 0 2-1 3-8 3-69 2-74 3 1 2 41 3 103 2 29 3-37 2-180 3-22 2 50 3 123 2 43 3 5 2-58 3-75 3-57 2-34 3 1 2 6 3 1 2-4 3 1 2-10 3-10 2 0 3 9 2 14 3 20 2 26 3 29 3 29 2 26 3 21 2 15 3 10 2 6 3 2 2-1 3-2 2-2 3-1 2 4 3 10 2 10 3 0 3 3 2-9 3-55 2-93 3-57 2-9 3 95 2 119 3 4 2-80 3-132 2-15 3 40 2 119 3 74 3 4 2-36 3-76 2-68 3-29 2 6 3 4 2 43 3 62 2 61 3 38 2 1 3 1 2-36 3-58 3-56 2-44 3-29 2-2 3-8 2 4 3-3 2 0 3 11 2 22 3 28 2 30 3 28 2 21 3 11 3-1 2-13 3-27 2-36 3-36 2 1 3 5 2 43 3 87 2 73 3 0 2-19 3-93 2-97 3-29 3-3 2 56 3 94 2 81 3 5 2-3 3-87 2-104 3-37 2 3 3 105 2 113 3 10 2-38 3-110 3-63 2 3 3 23 2 66 3 57 2 38 3 21 2 6 3-1 2-1"/>
<path class="b" d="M311 690l3-6 2-8 2 7 3-2 2 10 2 9 3 0 2-17 2-4 3 16 2-6 2-2 3-1 2 1 2 1 2-5 3 7 2-5 2-2 3 3 2 3 2 11 3 3 2-8 2-1 3-6 2-6 2 11 3 1 2 1 2-8 3 16 2-1 2-18 3 12 2-7 2 7 3-4 2 3 2 4 3-6 2 14 2-10 2-6 3 3 2 11 2-4 3-7 2 11 2-2 3 4 2 2 2-4 3-17 2 14 2-1 3-7 2 8 2 0 3 5 2-5 2-7 3 3 2 0 3-3 3 2 2-7 3-30 2-39 3-46 3-45 2-28 3-7 2-9 3-6 2 25 3 45 2 56 3 60 2 46 3-5 2 7 3-60 2-114 3-82 2-5 3 112 3 144 2 4 3-107 2-235 3 11 2 135 3 181 2 9 3-22 2-121 3-107 2-64 3 6 2-6 3 0 3-3 2 2 3-10 2 0 3 14 2 19 3 27 2 34 3 40 2 44 3 44 2 40 3 34 2 25 3 14 3 0 2 1 3 9 2 1 3-8 2 5 3 2 2-6 3 0 2-3 3 2 2 3 3-95 2-143 3-125 3 1 2 88 3 217 2 62 3-74 2-230 3-64 2 48 3 203 2 116 3-8 2-71 3-139 2-109 3-8 3 0 2 30 3 94 2 104 3 91 2 23 3 1 2-14 3-87 2-102 3-90 2-59 3-4 2 6 3-7 3 4 2 1 3-6 2-2 3 3 2 1 3 4 2-1 3 23 2 23 3 11 2-3 3-20 2-12 3 2 3-1 2 20 3 114 2 139 3 60 2-5 3-90 2-165 3-81 2-8 3 58 2 148 3 131 2 8 3 7 3-118 2-157 3-89 2 1 3 81 2 186 3 94 2 5 3-140 2-175 3-25 2 15 3 138 2 131 3 64 3-3 2 3 3-9 2-1 3-2 2 7"/>
<path class="c" d="M310 687l3-1 2-2 2 8 2-12 3-3 2-5 2 12 3 4 2-9 2 0 3 6 2-6 2 0 3 17 2-7 2-4 3 11 2-5 2 5 3-4 2-6 2 1 3 2 2 3 2-1 3 4 2-11 2 16 3-2 2-8 2 5 3 7 2-11 2 1 2 0 3 11 2-9 2 0 3-3 2 4 2-8 3 9 2 8 2-12 3-7 2 13 2-3 3 0 2 5 2-6 3 12 2-11 2 13 3-3 2-1 2 4 3 0 2-4 2 4 3 2 2-14 2 8 2-4 3 0 3-23 3-5 2 6 3-25 2-37 3-43 2-43 3-32 2-2 3 1 3 0 2 5 3 13 2 44 3 51 2 53 3 23 2-11 3 3 2-79 3-104 2-17 3 19 2 132 3 53 3-38 2-195 3-69 2 3 3 162 2 122 3-3 2-6 3-76 2-82 3-62 2-43 3-20 2 0 3 0 3 10 2-8 3-8 2 6 3 9 2-11 3 4 2 2 3-2 2 5 3 24 2 22 3 17 2 11 3 4 2-1 3-4 3-6 2-4 3 2 2 10 3 22 2 39 3 58 2 72 3 28 2-2 3-22 2-157 3-116 2-1 3 116 3 179 2 0 3-87 2-183 3-23 2 10 3 143 2 131 3 13 2 3 3-23 2-93 3-97 2-77 3 0 3-2 2 4 3 58 2 95 3 92 2 47 3 6 2-2 3-10 2 12 3-16 2-12 3 0 2 13 3 11 3 2 2 6 3 1 2-7 3 4 2-5 3-3 2 5 3-8 2 5 3-4 2 0 3-49 2-116 3-117 3-4 2 7 3 96 2 144 3 32 2 10 3-46 2-128 3-109 2 1 3 1 2 71 3 132 2 88 3 0 3-27 2-151 3-99 2-2 3 56 2 162 3 68 2-4 3-48 2-117 3-94 2-21 3-5 2-3 3-3 3-1 2 2"/>
<path class="b" d="M309 688l2-3 3-5 2 1 2 5 3 2 2-8 2 13 3-11 2-3 2 2 3 10 2-4 2 8 3-3 2-12 2 11 3 2 2-8 2 2 3 1 2 4 2 11 2-3 3-10 2 5 2 7 3-12 2 5 2 0 3-8 2 2 2 2 3 4 2-1 2 3 3 4 2 3 2-15 3 2 2 8 2-5 3 5 2-7 2-3 3 8 2 3 2 1 3-1 2-2 2 7 3-7 2-1 2 3 2 3 3-4 2-3 2 2 3 16 2-9 2-5 3 1 2-2 2 6 3 1 3-65 3 2 2-13 3-23 2-30 3-33 2-31 3-21 2-10 3 4 2 6 3-5 2 25 3 34 3 41 2 42 3 19 2 1 3-4 2-67 3-78 2-4 3 22 2 103 3 42 2-58 3-151 2-47 3 22 3 122 2 81 3-9 2-9 3-65 2-59 3-44 2-29 3-6 2-5 3-8 2 8 3-3 2-5 3 0 3-3 2 2 3-2 2-3 3 13 2 20 3 20 2 17 3 13 2 8 3 4 2-2 3-3 2-5 3-3 3 1 2 9 3 19 2 31 3 45 2 48 3 3 2-4 3-49 2-125 3-55 2-5 3 142 2 99 3 13 3-118 2-118 3-1 2 43 3 116 2 71 3 3 2-4 3-52 2-72 3-64 2-20 3 5 2 2 3 23 3 64 2 68 3 53 2-6 3 5 2-8 3-10 2-30 3-23 2-13 3-2 2 9 3 17 2 23 3 22 2-4 3 0 3 6 2 0 3-5 2 2 3-4 2 5 3 1 2-32 3-75 2-87 3-30 2 0 3 40 2 115 3 81 3 5 2-12 3-96 2-96 3-23 2 7 3 26 2 96 3 91 2 8 3 4 2-85 3-105 2-12 3 3 3 110 2 90 3 3 2-16 3-87 2-76 3-14 2-2 3-3 2 5 3-3 2-9 3 1"/>
<path class="y" d="M308 677l2 5 3-3 2 10 2-1 3-1 2 3 2-1 3-5 2-1 2 3 3 1 2 3 2-6 2-7 3 14 2-3 2 3 3 6 2 6 2-18 3 6 2 3 2-13 3 2 2 8 2 0 3-1 2 6 2-9 3 4 2 2 2-4 3 5 2 2 2 2 3 0 2 5 2-5 3-8 2 7 2-4 2 7 3 7 2-10 2 7 3 2 2-2 2-4 3-9 2 12 2-1 3 2 2 8 2-8 3-3 2 7 2-11 3 10 2-2 2-9 3 1 2 6 2 8 3 5 3-28 2 1 3-7 3-23 2-32 3-36 2-37 3-34 2-10 3-5 2-4 3-7 2 4 3 34 2 47 3 57 2 50 3-3 3 2 2-50 3-111 2-46 3 4 2 124 3 93 2-6 3-173 2-146 3-5 2 117 3 164 2 48 3 0 3-16 2-68 3-57 2-42 3-28 2-18 3-14 2-12 3-12 2-14 3-16 2-4 3 0 2-3 3-1 3 9 2-2 3 3 2 4 3-3 2 6 3-11 2-5 3-10 2-6 3-10 2-4 3-5 2-3 3 6 3 49 2 83 3 110 2 93 3 2 2-28 3-174 2-120 3 3 2 164 3 160 2-1 3-109 2-172 3-33 3 10 2 107 3 122 2 79 3-1 2 5 3-23 2-76 3-88 2-83 3-36 2-6 3 3 2 32 3 81 3 81 2 66 3 36 2 7 3 5 2-4 3 5 2-8 3-2 2-6 3-38 2-47 3-49 2-41 3-28 3-11 2 8 3 27 2 48 3 67 2 74 3 19 2 1 3-33 2-135 3-138 2-19 3 2 2 118 3 144 3 61 2 6 3-28 2-114 3-118 2-40 3-6 2 44 3 134 2 118 3-1 2-41 3-165 2-100 3-2 3 62 2 147 3 102 2-6 3-4 2-11 3-43 2-28 3-12 2 6 3 19"/>
<path class="c" d="M307 691l2-9 3-2 2-2 2 4 2-1 3 1 2 7 2-10 3 7 2-2 2 9 3-5 2 1 2 0 3-4 2 1 2 8 3-6 2 3 2 7 3-6 2 2 2 1 3-3 2-4 2-9 3 16 2-6 2 7 3 6 2-16 2 8 2 7 3-13 2 12 2-2 3-1 2 0 2-8 3 12 2 2 2 3 3-8 2 0 2-1 3 8 2-8 2 6 3-4 2 7 2-13 3 0 2 5 2 11 3-5 2 3 2-4 3-3 2 0 2 4 2 0 3-4 2 1 2-8 4 11 2 4 3-23 2-32 3-40 3-44 2-41 3-19 2-4 3 2 2-2 3 10 2 42 3 53 2 56 3 36 2 8 3-1 2-58 3-103 2-55 3 5 3 104 2 106 3-7 2-110 3-200 2-13 3 173 2 161 3 7 2-43 3-132 2-110 3-47 2-2 3 6 3 3 2-12 3-5 2-5 3 8 2 20 3 27 2 35 3 43 2 47 3 48 2 45 3 38 2 29 3 14 3-3 2 3 3 0 2 8 3 0 2-6 3 6 2 4 3 4 2-6 3-2 2-1 3-18 2-102 3-133 3-65 2-4 3 132 2 190 3-7 2-114 3-212 2-3 3 86 2 195 3 52 2 1 3-115 2-138 3-83 3 7 2-1 3 59 2 105 3 107 2 55 3 4 2 1 3-53 2-103 3-99 2-65 3 0 2-5 3-3 3 2 2-1 3-1 2-2 3-5 2 0 3 5 2 3 3 1 2 0 3 9 2 7 3 0 2 11 3-3 3-2 2-3 3 83 2 131 3 111 2 8 3-26 2-150 3-147 2-7 3-2 2 123 3 140 2 56 3 4 3-40 2-138 3-139 2-16 3-5 2 155 3 169 2 6 3-41 2-185 3-100 2 8 3 87 2 147 3 89 3-2 2 4 3-6 2-14 3-16 2 0 3 12"/>
<path class="m" d="M306 687l2-5 2-6 3 7 2 5 2-2 3 2 2-12 2 14 3 2 2-1 2-3 3-5 2 5 2-13 3-2 2 4 2 11 3-2 2-4 2 11 3 3 2-1 2-5 2 5 3 6 2-6 2 9 3-9 2 4 2-10 3 10 2-9 2 14 3-5 2-7 2 8 3-7 2-1 2 10 3 4 2-7 2 0 3 5 2 2 2 4 3-10 2 2 2 10 3-4 2-15 2 3 2 14 3-3 2 8 2-22 3 2 2 2 2 2 3 4 2 3 2 4 3-2 2 2 2 3 4-30 2-11 3-6 2-25 3-35 2-39 3-36 2-28 3 2 3 4 2 5 3 2 2 33 3 43 2 49 3 46 2 1 3-2 2-29 3-92 2-70 3-4 2 88 3 115 3 1 2-104 3-155 2-20 3 113 2 144 3 19 2-25 3-101 2-94 3-61 2-3 3 6 2 6 3-6 3 2 2 3 3 2 2 14 3 18 2 23 3 29 2 35 3 36 2 36 3 32 2 25 3 15 2 7 3 1 3-1 2 0 3 3 2-3 3 1 2 4 3 1 2 3 3-1 2-5 3-2 2-78 3-112 2-82 3 1 2 89 3 160 3 28 2-70 3-173 2-41 3 44 2 154 3 72 2-5 3-63 2-114 3-86 2 3 3 6 2 33 3 81 3 84 2 68 3 0 2 5 3-28 2-78 3-81 2-65 3-11 2-1 3 7 2 4 3 3 2 6 3-3 3 0 2 5 3 2 2-16 3-7 2 4 3 9 2 3 3-7 2-2 3 4 2-3 3 0 2 56 3 106 3 107 2 11 3 0 2-114 3-138 2-45 3-12 2 86 3 128 2 89 3 4 2-15 3-109 2-119 3-34 3 9 2 85 3 141 2 41 3-17 2-141 3-120 2 9 3 49 2 120 3 92 2 9 3 2 2-4 3-2 3-12 2-2 3 6"/>
<path class="y" d="M305 690l2-11 2 7 3 5 2-17 2 16 3-8 2 3 2-1 3 2 2 2 2-2 2 0 3 12 2 1 2 0 3-7 2-8 2 8 3-2 2 3 2 2 3-8 2 5 2 1 3-3 2-11 2 2 3 12 2 5 2-3 3-5 2 4 2-8 3 16 2-1 2-1 3-1 2-4 2 2 3-7 2 8 2 6 2-8 3 9 2-4 2-2 3-1 2 8 2-14 3 10 2 6 2-13 3 10 2 13 2 3 3-23 2 9 2-8 3 8 2-7 2-6 3 10 2 6 2-4 4 20 2-7 3-9 2-34 3-46 2-53 3-53 2-43 3 0 2-5 3 0 2 3 3 32 3 54 2 64 3 65 2 22 3-1 2-5 3-109 2-124 3-11 2 46 3 160 2 43 3-39 2-214 3-82 3 32 2 196 3 108 2 6 3-23 2-103 3-96 2-71 3-48 2-15 3-8 2 2 3-2 2-5 3-1 3-5 2-4 3 3 2 6 3 3 2 12 3 34 2 33 3 30 2 25 3 16 2 9 3 2 2-3 3-4 3-1 2 4 3 14 2 29 3 46 2 63 3 53 2 7 3 2 2-89 3-187 2-77 3 2 2 217 3 144 3-5 2-192 3-175 2 1 3 83 2 188 3 100 2 4 3 5 2-110 3-124 2-106 3-23 2-1 3 4 3 54 2 111 3 113 2 88 3-4 2-13 3 4 2-25 3-49 2-36 3-18 2 0 3 18 2 32 3 39 3 38 2-13 3 12 2 3 3-3 2-1 3 1 2-3 3 5 2-5 3-57 2-114 3-128 2-40 3-4 2 80 3 169 3 107 2-1 3-35 2-160 3-156 2-28 3 4 2 69 3 166 2 146 3-6 2 4 3-169 2-181 3-8 3 35 2 197 3 134 2 3 3-53 2-148 3-118 2-16 3 1 2-4 3 3 2 7 3-1 2 4"/>
<path class="y" d="M304 680l2 8 2-7 2-5 3 7 2 1 2-2 3 0 2-2 2 12 3-2 2-5 2 7 3-7 2 1 2-7 3 12 2 15 2-12 3 7 2-4 2-5 3 7 2-4 2 5 3 11 2-14 2-4 3-6 2 6 2 5 2-4 3-4 2 10 2-10 3 6 2-1 2 3 3 0 2-5 2 7 3-4 2 5 2 4 3 5 2-6 2 0 3 2 2-7 2-2 3 4 2 1 2-8 3 2 2 15 2-8 3 6 2-9 2 9 3-2 2 3 2-6 2 17 3-12 2-7 3-70 3-6 3-5 2-16 3-21 2-26 3-26 2-24 3-19 2 5 3-5 2-3 3 7 2 23 3 30 2 35 3 34 3 20 2-4 3-43 2-68 3-43 2-1 3 76 2 78 3-11 2-110 3-129 2-33 3 84 2 110 3 55 3 0 2-13 3-44 2-39 3-31 2-21 3-15 2-10 3-8 2-8 3-8 2-10 3-10 2-10 3 2 3 1 2-2 3-6 2 8 3 5 2-5 3-1 2 0 3 1 2 3 3 8 2 0 3-1 2-1 3 0 3 13 2 26 3 44 2 63 3 68 2 12 3-11 2-106 3-108 2-9 3 94 2 123 3 21 2-67 3-118 3-54 2 5 3 57 2 84 3 68 2 21 3 7 2-19 3-48 2-58 3-57 2-44 3-11 2 1 3 29 3 49 2 52 3 46 2 33 3 21 2 11 3 3 2-3 3-2 2-13 3-20 2-28 3-31 2-32 3-25 3-17 2-8 3 3 2 14 3 27 2 42 3 52 2 47 3 5 2-16 3-75 2-91 3-42 2-3 3 55 3 90 2 74 3 19 2-18 3-69 2-85 3-71 2-5 3 15 2 86 3 99 2 39 3-18 2-100 3-103 3-22 2 33 3 93 2 85 3 30 2 4 3-4 2-22 3-17 2-7 3 4 2 12"/>
<path class="m" d="M302 684l3 0 2 10 2-8 3 7 2-5 2-3 3-2 2 14 2-11 3-2 2 1 2-6 3 12 2 6 2-5 3-7 2 2 2 6 3-2 2 0 2-5 2 6 3 5 2-2 2-2 3-4 2 10 2-2 3 0 2-20 2 15 3 6 2 4 2-3 3 2 2 0 2-3 3 5 2-1 2-12 3 18 2-14 2 4 3-2 2 3 2 3 3 5 2-9 2 2 2 5 3 0 2-5 2 13 3 1 2 0 2-10 3 10 2-1 2-5 3 3 2-7 2-6 3 3 2 11 3-39 3-7 2-3 3-23 3-32 2-37 3-38 2-33 3-6 2-2 3-5 2 5 3 31 2 40 3 47 2 48 3 11 2 3 3-16 3-84 2-90 3-2 2 44 3 119 2 39 3-56 2-149 3-60 2 33 3 140 2 70 3 3 2-50 3-82 2-69 3-46 3-27 2 6 3-2 2-1 3-2 2 2 3-5 2 0 3 5 2-10 3 11 2 22 3 26 2 28 3 27 3 24 2 19 3 13 2 7 3 3 2-1 3-2 2-2 3 3 2 11 3 20 2 31 3 38 2 5 3-3 3-24 2-114 3-120 2-10 3 72 2 162 3 51 2-57 3-156 2-54 3 13 2 125 3 113 2 15 3-4 3-75 2-88 3-75 2-24 3 4 2-1 3 53 2 77 3 79 2 52 3 2 2-6 3-14 2-58 3-58 3-46 2-30 3-13 2 0 3 13 2 24 3 33 2 39 3 38 2 34 3 24 2 16 3 6 2-9 3-6 3-28 2-48 3-67 2-70 3-20 2 6 3 59 2 112 3 75 2 3 3-45 2-114 3-104 2-12 3-7 3 87 2 109 3 85 2 2 3-30 2-116 3-118 2-19 3 35 2 138 3 108 2 6 3-70 2-129 3-79 3-1 2 6 3 49 2 49 3 33 2 17 3 1 2-12"/>
<path class="g" d="M301 682l3 5 2 3 2-4 3-1 2 9 2 5 3-8 2-8 2-1 2 12 3-5 2 0 2-3 3 2 2 7 2-10 3 11 2 3 2-1 3-5 2 2 2 1 3-1 2-2 2 2 3 4 2 1 2 1 3-12 2 3 2 1 3-5 2 6 2 15 3-11 2 13 2-3 3-6 2-6 2 7 2-3 3 4 2 0 2-1 3 0 2-8 2 13 3-3 2-4 2 3 3 2 2-8 2 4 3 5 2-5 2-7 3 19 2-2 2-3 3 6 2-2 2-3 3 4 2-3 3-4 3 2 2-1 3-10 2-40 3-51 2-54 3-52 3-22 2 5 3-5 2-5 3 4 2 24 3 61 2 74 3 71 2 6 3-10 2-17 3-128 2-71 3-1 3 96 2 137 3-7 2-103 3-206 2-28 3 38 2 202 3 96 2 4 3 2 2-20 3-69 2-57 3-41 3-28 2-20 3-16 2-15 3-18 2-18 3-20 2-21 3-1 2 7 3 10 2-3 3 1 2 4 3 9 3-7 2-2 3 2 2-7 3 0 2 2 3-1 2 5 3-5 2-7 3 1 2 1 3 114 2 154 3 70 2 9 3-88 3-233 2-36 3 38 2 244 3 74 2-4 3-172 2-169 3 6 2-5 3 105 2 138 3 97 2 3 3 2 3 0 2-54 3-116 2-121 3-76 2-1 3 1 2 0 3 36 2 88 3 78 2 58 3 35 2 14 3-5 3-22 2-39 3-51 2-56 3-54 2-25 3-5 2 7 3-2 2-11 3 0 2 5 3 27 2 92 3 122 3 89 2 1 3 0 2-128 3-182 2-50 3 6 2 54 3 170 2 125 3 5 2 0 3-68 2-157 3-113 3-3 2-3 3 144 2 183 3 11 2 1 3-163 2-166 3-12 2-5 3 131 2 146 3 72 2 6 3-4 3-5 2 5 3-6 2 6"/>
<path class="k" d="M300 686l2-6 3 7 2 2 2 10 3-4 2-1 2 4 3-8 2 1 2 6 3-17 2 10 2 7 3-6 2 4 2 4 3-22 2 19 2-2 3 12 2-15 2-5 3 10 2-3 2 3 3 3 2-4 2-8 2 9 3 0 2-4 2 19 3-8 2 4 2-8 3 6 2-7 2 3 3-8 2-2 2 3 3 5 2 4 2 5 3-11 2 1 2-1 3-2 2 8 2 2 3 11 2 3 2-4 3-17 2-5 2 9 3-3 2 16 2-5 2 5 3-10 2 8 2-14 3 3 3 4 3-8 2-15 3-23 2-32 3-35 2-37 3-31 2-21 3-5 2 1 3 11 3 27 2 37 3 46 2 48 3 39 2 2 3-20 2-75 3-89 2-23 3 34 2 115 3 65 2-47 3-146 3-91 2 17 3 136 2 118 3 18 2-49 3-81 2-75 3-54 2-34 3-21 2-12 3-1 2-3 3 4 3-2 2-3 3-1 2 1 3 12 2 20 3 24 2 25 3 25 2 22 3 16 2 10 3 4 2-2 3-5 3-5 2-4 3 1 2 9 3 22 2 35 3 49 2 52 3 11 2 8 3-90 2-138 3-84 2 26 3 156 3 135 2-16 3-147 2-140 3-18 2 89 3 131 2 93 3 10 2-25 3-77 2-87 3-78 2-51 3 4 3 6 2 60 3 83 2 84 3 66 2 23 3 1 2-21 3-38 2-37 3-26 2-14 3 0 2 13 3 24 3 31 2 31 3 27 2 15 3 6 2-7 3 4 2 3 3-6 2 1 3-24 2-57 3-86 2-95 3-50 2 0 3 89 3 125 2 94 3-4 2-47 3-110 2-102 3-47 2 8 3 77 2 109 3 98 2 24 3-33 2-122 3-130 3-33 2 51 3 144 2 117 3 7 2-75 3-117 2-93 3-29 2-5 3 0 2 15 3 9 2-1 3-8"/>
<path class="r" d="M299 681l2 4 3-5 2 10 2 3 3-4 2 2 2 1 3-1 2-5 2 14 3-8 2-11 2 19 3-11 2 2 2 3 3-7 2 2 2 8 2-7 3-5 2 11 2-1 3 0 2-8 2 5 3 6 2-11 2 16 3-13 2 9 2 2 3 2 2 1 2 1 3-5 2-7 2 5 3 0 2 2 2-4 3 0 2 1 2 4 3 8 2 0 2 0 2 10 3-17 2-6 2 7 3 7 2-9 2 5 3 7 2-8 2 6 3 1 2-1 2-3 3-1 2 0 2 0 3 9 3 6 3 0 2-12 3-30 2-39 3-46 2-47 3-41 2-21 3-6 2 5 3-5 2 15 3 41 2 55 3 61 3 57 2 3 3-1 2-64 3-117 2-58 3 13 2 133 3 94 2 1 3-141 2-141 3-29 2 105 3 163 3 39 2 5 3-31 2-77 3-67 2-49 3-34 2-23 3-16 2-14 3-13 2-14 3-10 2 4 3 6 3-1 2 3 3-2 2 7 3 0 2 3 3 4 2 6 3 0 2 1 3-8 2-8 3-5 2-5 3-5 3 0 2 28 3 56 2 89 3 115 2 75 3 5 2-64 3-199 2-100 3 4 2 209 3 158 2-10 3-152 3-180 2-9 3 16 2 136 3 130 2 55 3 0 2 4 3-54 2-90 3-96 2-82 3-20 2-4 3 7 3 79 2 95 3 88 2 66 3 16 2 7 3 0 2-4 3 3 2 5 3-2 2-3 3-13 2-43 3-47 3-43 2-31 3-14 2 6 3 27 2 49 3 64 2 57 3-4 2 4 3-97 2-153 3-116 2-10 3 46 3 154 2 148 3 28 2 5 3-87 2-137 3-118 2-11 3 4 2 107 3 152 2 81 3-7 2-97 3-174 3-60 2 0 3 137 2 149 3 51 2 1 3-20 2-66 3-56 2-36 3-16 2 4 3 21"/>
<path class="b" d="M298 693l2 3 3-3 2-2 2-7 3-3 2 3 2 8 3-9 2 5 2 4 2-1 3 1 2 6 2-8 3-2 2 11 2-6 3 6 2 0 2-4 3 5 2 5 2-14 3 11 2-7 2-1 3 5 2-5 2 6 3 2 2 1 2-10 3 12 2 2 2-10 3 5 2 2 2 4 2 6 3-15 2-2 2 3 3-6 2-1 2 16 3-11 2 12 2-6 3 4 2-11 2 3 3-2 2-2 2 12 3-1 2-5 2-1 3-5 2 13 2-8 3 11 2 2 2-17 3 0 3 15 2-1 3-1 3-18 2-45 3-52 2-55 3-49 2 6 3-3 2-2 3 0 2 2 3 43 2 66 3 74 2 54 3-3 3-3 2-36 3-135 2-50 3 0 2 123 3 113 2-4 3-120 2-147 3-28 2 70 3 186 2 38 3 2 2-2 3-67 3-79 2-60 3-42 2-28 3-19 2-14 3-12 2-14 3 3 2 4 3 1 2-8 3 5 2-2 3-1 3 3 2 1 3 4 2 0 3 3 2 0 3-2 2-5 3 5 2 2 3 1 2-7 3 0 2 18 3 87 3 125 2 107 3-5 2 2 3-180 2-139 3 4 2 123 3 194 2 2 3-67 2-210 3-45 2 0 3 64 3 154 2 110 3-10 2 8 3-8 2-64 3-115 2-111 3-35 2-5 3 2 2 2 3 91 2 102 3 87 3 49 2-6 3 8 2 6 3 1 2-9 3 1 2 0 3-38 2-56 3-57 2-50 3-36 2-19 3 0 3 24 2 50 3 79 2 96 3 21 2 5 3 0 2-135 3-174 2-28 3-2 2 65 3 172 2 99 3 1 3-8 2-95 3-154 2-66 3-1 2 1 3 143 2 171 3-3 2-8 3-145 2-155 3-5 2 12 3 168 3 148 2-6 3-6 2-2 3 1 2-33 3-13 2 8 3 22"/>
<path class="c" d="M297 678l2 3 2 9 3 10 2-11 2 3 3-8 2 3 2 7 3-9 2-6 2 23 3-14 2 5 2 2 3 5 2 3 2-3 3-5 2 4 2-1 3 8 2-7 2 0 3-2 2 2 2-8 3 1 2 5 2-4 2 3 3 5 2-6 2-3 3 11 2-8 2 5 3 4 2 1 2-3 3 0 2 4 2-3 3-3 2-2 2 12 3 5 2-11 2-1 3 8 2-6 2 8 3-6 2 3 2 7 3-12 2-2 2 3 2 9 3-8 2 3 2 4 3 0 2-1 2-2 4 7 2 2 3 2 2-21 3-43 2-51 3-54 3-47 2-13 3 9 2 3 3-6 2 3 3 11 2 60 3 73 2 76 3 5 2 3 3-29 2-135 3-75 3-6 2 96 3 145 2-5 3-88 2-183 3-25 2 26 3 195 2 93 3-7 2 6 3-30 2-77 3-60 3-42 2-30 3-22 2-18 3-19 2-20 3-24 2-7 3-10 2 4 3 5 2-7 3 4 2 1 3 10 3 1 2-4 3-4 2 0 3-9 2 3 3 3 2 4 3-9 2 2 3 0 2 3 3 52 2 123 3 144 3 34 2-3 3-116 2-218 3-13 2 62 3 243 2 44 3-1 2-217 3-131 2-1 3-3 2 151 3 152 2 66 3-7 3 3 2-3 3-103 2-124 3-114 2-3 3-2 2 2 3 22 2 98 3 92 2 71 3 48 2 7 3-1 3 6 2 2 3-22 2-47 3-61 2-69 3-66 2-52 3-34 2 3 3-1 2 12 3 49 2 78 3 105 3 112 2-1 3 9 2-46 3-173 2-127 3-3 2-4 3 124 2 166 3 68 2-14 3 3 2-126 3-157 3-57 2-6 3 38 2 194 3 131 2-6 3-51 2-228 3-95 2 14 3 73 2 178 3 111 2 1 3-9 3 5 2-5 3-6 2-1 3 7"/>
<path class="y" d="M296 693l2-2 2-3 3 5 2 2 2-9 3 1 2 9 2-3 3 0 2-5 2 1 3 10 2 7 2-14 3 11 2-11 2 5 2-4 3 11 2-8 2-2 3-1 2 7 2-1 3-8 2 11 2 0 3 0 2 5 2-6 3 2 2-1 2-3 3 10 2-7 2 9 3-12 2 10 2-4 3-7 2 8 2 2 3-12 2 8 2 0 3-2 2 4 2-5 2 7 3 3 2-8 2 13 3-11 2-4 2 3 3 5 2 0 2 10 3-11 2 2 2 15 3-6 2-19 2 18 4-1 2 3 3-11 2-6 3-38 2-46 3-49 2-47 3-40 2 10 3 1 3-13 2-3 3 3 2 42 3 66 2 78 3 48 2 0 3 10 2-94 3-145 2-10 3 22 2 181 3 50 3-12 2-188 3-101 2-19 3 97 2 174 3 54 2 2 3-1 2-7 3-21 2-35 3-26 2-20 3-16 3-16 2-18 3-23 2-27 3-32 2-34 3-36 2-32 3-19 2 3 3-3 2-5 3-4 2 7 3-1 3 7 2 8 3 4 2 0 3 2 2 0 3 9 2-2 3-4 2-6 3 55 2 171 3 137 2 2 3-77 3-253 2-50 3 17 2 248 3 109 2 1 3-109 2-193 3-75 2 9 3 1 2 93 3 127 2 111 3 25 3-2 2 10 3-10 2-101 3-112 2-97 3-11 2 2 3-10 2 0 3-12 2 11 3 5 2-10 3-14 3-6 2-3 3 1 2 4 3 11 2-2 3-2 2 23 3 5 2-16 3-4 2 6 3 1 2-6 3 50 3 155 2 145 3 12 2 2 3-93 2-168 3-87 2 1 3 8 2 103 3 152 2 78 3-5 2 4 3-122 2-184 3-54 3-4 2 108 3 210 2 55 3-9 2-123 3-177 2-37 3 1 2-4 3 49 2 62 3 40 2 14 3-9 3-29"/>
<path class="c" d="M448 703l2-109 2-3 2 7 2 9 2-5 2-7 3-6 2 9 2 8 2-14 2 4 2 3 2 2 2-4 2 5 3 1 2 2 2-3 2 9 2-11 2 1 2 15 2-4 2-9 3 4 2-7 2 0 2-46 2-1 2-7 2 5 2 0 2 8 3-6 2 4 2 2 2-6 2-5 2 14 2 1 2-6 2 7 3-4 2 9 2-7 2-1 2-4 2 6 2-6 2 3 2-4 3 1 2 9 2-4 2-2 2-3 2 7 2 7 2-8 2-5 3 3 2 5 2-11 2 10 2-6 2 3 2 0 2 2 2-4 3-4 2 6 2 6 2 0 2-4 2 2 2 4 2-5 2 8 3 5 2-11 2-1 2 7 2-6 2 6 2 2 2 2 2-6 3 3 2-3 2 6 2-9 2 16 2 2 2-9 2-7 2 15 3-3 2-5 2 3 2-9 2 3 2 6 2-3 2-3 2 1 3 7 2-5 2-3 2 3 2 1 2-4 2 0 2-12 2 7 3 9 2 2 2 0 2 1 2-3 2 2 2 1 2 11 2-15 3-2 2 6 2 0 2 6 2 0 2-1 2-7 2 4 2-1 3 5 2-1 2 4 2-1 2-2 2-6 2 8 2 0 2-1 3-1 2 1 2 0 2-6 2 3 2 9 2-4 2 5 2-2 3-5 2 4 2-5 2 5 2 4 2-14 2 9 2 5 2-3 3 4 2-3 2 3 2 2 2 1 2-2 2-9 2 6 2 2 3 11 2-4 2-18 2 7 2-1 2 8 2 4 2-1 2-6 3 9 2-5"/>
<path class="y" d="M446 717l2-131 2-1 2 9 2-5 2 17 2-2 2 0 2-7 3 9 2-7 2 2 2-6 2 7 2 5 2-3 2 3 2-12 3-4 2 11 2 5 2-5 2 6 2-2 2-2 2-7 2-5 3 13 2-54 2-6 2 10 2-14 2 3 2 2 2 4 2-6 3 5 2 3 2-10 2 14 2-6 2 2 2 17 2 0 2-12 3-11 2 2 2 9 2-10 2 16 2 5 2 2 2-17 2 8 3 0 2-11 2 7 2 6 2-9 2 0 2 9 2-11 2-3 3 13 2 5 2-11 2 3 2-2 2 11 2-5 2 2 2 1 3-8 2 5 2 4 2 3 2-9 2-1 2-3 2 0 2 13 3-8 2 5 2-3 2 12 2-4 2-10 2 10 2-7 2-5 3 6 2 9 2-12 2 1 2 7 2 4 2-2 2-8 2-3 3 12 2-11 2-4 2 7 2 4 2 8 2-7 2 3 2-1 3-3 2 6 2 9 2 5 2-11 2-5 2 2 2 8 2-1 3-11 2-5 2 6 2 0 2 3 2 7 2 11 2-10 2-1 3 1 2-8 2 3 2-3 2 2 2 1 2 1 2 1 2 3 3-1 2 2 2 4 2-9 2-7 2 26 2-9 2-5 2-8 3 10 2-9 2 5 2 4 2-2 2 7 2-2 2-6 2 3 3 5 2-7 2 0 2 3 2 1 2 5 2 6 2-15 2 0 3 2 2 3 2 2 2-7 2 3 2 4 2-3 2 11 2-1 3-6 2-3 2 3 2 4 2 4 2 2 2-13 2 7 2 1"/>
</g>
<g stroke="#1a1a1a" stroke-width="3.7" fill="none" stroke-linejoin="miter" stroke-linecap="butt">
<polyline points="295.7,233.6 580.3,88.6 1108,166.7 1108,645.6"/>
<polyline points="295.7,233.6 295.7,712.5 823.4,790.6 1108,645.6"/>
<line x1="295.7" y1="712.5" x2="281" y2="720"/>
<line x1="401.2" y1="728.1" x2="386.5" y2="735.6"/>
<line x1="506.8" y1="743.7" x2="492.1" y2="751.2"/>
<line x1="612.3" y1="759.4" x2="597.6" y2="766.9"/>
<line x1="717.9" y1="775" x2="703.2" y2="782.5"/>
<line x1="823.4" y1="790.6" x2="808.7" y2="798.1"/>
<line x1="823.4" y1="790.6" x2="839.7" y2="793"/>
<line x1="879.2" y1="762.2" x2="895.5" y2="764.6"/>
<line x1="935" y1="733.7" x2="951.3" y2="736.2"/>
<line x1="990.8" y1="705.3" x2="1007.1" y2="707.7"/>
<line x1="1046.6" y1="676.9" x2="1062.9" y2="679.3"/>
<line x1="1102.4" y1="648.4" x2="1118.7" y2="650.9"/>
<line x1="295.7" y1="682.4" x2="279.4" y2="680"/>
<line x1="295.7" y1="607.7" x2="279.4" y2="605.3"/>
<line x1="295.7" y1="533" x2="279.4" y2="530.6"/>
<line x1="295.7" y1="458.3" x2="279.4" y2="455.9"/>
<line x1="295.7" y1="383.6" x2="279.4" y2="381.2"/>
<line x1="295.7" y1="308.9" x2="279.4" y2="306.5"/>
<line x1="295.7" y1="234.2" x2="279.4" y2="231.8"/>
</g>
</g>
<g id="panel-b">
<g stroke="#000" stroke-opacity=".15" stroke-width="3" fill="none">
<line x1="1539.9" y1="658.8" x2="1539.9" y2="231.4"/>
<line x1="1539.9" y1="658.8" x2="2114.8" y2="766.4"/>
<line x1="1596.6" y1="617.3" x2="1596.6" y2="189.9"/>
<line x1="1596.6" y1="617.3" x2="2171.5" y2="724.9"/>
<line x1="1653.3" y1="575.7" x2="1653.3" y2="148.3"/>
<line x1="1653.3" y1="575.7" x2="2228.2" y2="683.3"/>
<line x1="1710" y1="534.1" x2="1710" y2="106.7"/>
<line x1="1710" y1="534.1" x2="2284.9" y2="641.7"/>
<line x1="1766.7" y1="492.6" x2="1766.7" y2="65.2"/>
<line x1="1766.7" y1="492.6" x2="2341.6" y2="600.2"/>
<line x1="1887.4" y1="509.9" x2="1887.4" y2="82.5"/>
<line x1="1598.2" y1="721.9" x2="1887.4" y2="509.9"/>
<line x1="2002.4" y1="531.4" x2="2002.4" y2="104"/>
<line x1="1713.2" y1="743.4" x2="2002.4" y2="531.4"/>
<line x1="2117.3" y1="553" x2="2117.3" y2="125.6"/>
<line x1="1828.1" y1="765" x2="2117.3" y2="553"/>
<line x1="2232.3" y1="574.5" x2="2232.3" y2="147.1"/>
<line x1="1943.1" y1="786.5" x2="2232.3" y2="574.5"/>
<line x1="1483.2" y1="679.6" x2="1772.4" y2="467.6"/>
<line x1="1772.4" y1="467.6" x2="2347.3" y2="575.2"/>
<line x1="1483.2" y1="600.9" x2="1772.4" y2="388.9"/>
<line x1="1772.4" y1="388.9" x2="2347.3" y2="496.5"/>
<line x1="1483.2" y1="522.2" x2="1772.4" y2="310.2"/>
<line x1="1772.4" y1="310.2" x2="2347.3" y2="417.8"/>
<line x1="1483.2" y1="443.4" x2="1772.4" y2="231.4"/>
<line x1="1772.4" y1="231.4" x2="2347.3" y2="339"/>
<line x1="1483.2" y1="364.7" x2="1772.4" y2="152.7"/>
<line x1="1772.4" y1="152.7" x2="2347.3" y2="260.3"/>
<line x1="1483.2" y1="286" x2="1772.4" y2="74"/>
<line x1="1772.4" y1="74" x2="2347.3" y2="181.6"/>
</g>
<g stroke="#1a1a1a" stroke-width="3.7" fill="none" stroke-linejoin="miter" stroke-linecap="square">
<polyline points="1772.4,61 1772.4,488.4"/>
<polyline points="1483.2,700.4 1772.4,488.4 2347.3,596"/>
</g>
<g fill="none" stroke-width="2.5" stroke-linejoin="round">
<g class="c"><use href="#bn12" x="1772.4" y="468.6"/></g>
<g class="g"><use href="#bn13" x="1771.3" y="469.1"/></g>
<g class="r"><use href="#bn0" x="1770.1" y="469.7"/></g>
<g class="b"><use href="#bn4" x="1769" y="469.8"/></g>
<g class="k"><use href="#bn5" x="1767.9" y="468.6"/></g>
<g class="y"><use href="#bn8" x="1766.7" y="470.3"/></g>
<g class="m"><use href="#bn11" x="1765.6" y="473.4"/></g>
<g class="c"><use href="#bn8" x="1764.5" y="475.3"/></g>
<g class="g"><use href="#bn13" x="1763.3" y="473.2"/></g>
<g class="r"><use href="#bn9" x="1762.2" y="475"/></g>
<g class="b"><use href="#bn2" x="1761.1" y="475.4"/></g>
<g class="k"><use href="#bn7" x="1759.9" y="480.1"/></g>
<g class="y"><use href="#bn3" x="1758.8" y="478.3"/></g>
<g class="m"><use href="#bn5" x="1757.7" y="481.5"/></g>
<g class="c"><use href="#bn2" x="1756.5" y="475.7"/></g>
<g class="g"><use href="#bn11" x="1755.4" y="483.1"/></g>
<g class="r"><use href="#bn4" x="1754.3" y="480.2"/></g>
<g class="b"><use href="#bn3" x="1753.1" y="484.2"/></g>
<g class="k"><use href="#bn4" x="1752" y="484.8"/></g>
<g class="y"><use href="#bn9" x="1750.9" y="483.3"/></g>
<g class="m"><use href="#bn7" x="1749.7" y="481.3"/></g>
<g class="c"><use href="#bn2" x="1748.6" y="485.5"/></g>
<g class="g"><use href="#bn3" x="1747.4" y="487.3"/></g>
<g class="r"><use href="#bn10" x="1746.3" y="487.6"/></g>
<g class="b"><use href="#bn1" x="1745.2" y="485.6"/></g>
<g class="k"><use href="#bn0" x="1744" y="486.3"/></g>
<g class="y"><use href="#bn7" x="1742.9" y="486.5"/></g>
<g class="m"><use href="#bn2" x="1741.8" y="489.4"/></g>
<g class="c"><use href="#bn6" x="1740.6" y="496.5"/></g>
<g class="g"><use href="#bn1" x="1739.5" y="494.1"/></g>
<g class="r"><use href="#bn5" x="1738.4" y="494"/></g>
<g class="b"><use href="#bn13" x="1737.2" y="493.9"/></g>
<g class="k"><use href="#bn0" x="1736.1" y="497.3"/></g>
<g class="y"><use href="#bn5" x="1735" y="495.4"/></g>
<g class="m"><use href="#bn4" x="1733.8" y="496.8"/></g>
<g class="c"><use href="#bn4" x="1732.7" y="492.1"/></g>
<g class="g"><use href="#bn4" x="1731.6" y="498.4"/></g>
<g class="r"><use href="#bn7" x="1730.4" y="500.9"/></g>
<g class="b"><use href="#bn4" x="1729.3" y="500.8"/></g>
<g class="k"><use href="#bn10" x="1728.2" y="500.2"/></g>
<g class="y"><use href="#bn4" x="1727" y="504.3"/></g>
<g class="m"><use href="#bn1" x="1725.9" y="500.4"/></g>
<g class="c"><use href="#bn10" x="1724.8" y="497.7"/></g>
<g class="g"><use href="#bn10" x="1723.6" y="503.2"/></g>
<g class="r"><use href="#bn0" x="1722.5" y="505"/></g>
<g class="b"><use href="#bn3" x="1721.4" y="499.1"/></g>
<g class="k"><use href="#bn2" x="1720.2" y="508.7"/></g>
<g class="y"><use href="#bn1" x="1719.1" y="509.7"/></g>
<g class="m"><use href="#bn12" x="1718" y="507.1"/></g>
<g class="c"><use href="#bn10" x="1716.8" y="505.5"/></g>
<g class="g"><use href="#bn4" x="1715.7" y="510.9"/></g>
<g class="r"><use href="#bn1" x="1714.6" y="508.2"/></g>
<g class="b"><use href="#bn8" x="1713.4" y="513.9"/></g>
<g class="k"><use href="#bn1" x="1712.3" y="511.3"/></g>
<g class="y"><use href="#bn9" x="1711.2" y="513.6"/></g>
<g class="m"><use href="#bn1" x="1710" y="512.4"/></g>
<g class="c"><use href="#bn8" x="1708.9" y="516.4"/></g>
<g class="g"><use href="#bn4" x="1707.8" y="515.2"/></g>
<g class="r"><use href="#bn12" x="1706.6" y="516.3"/></g>
<g class="b"><use href="#bn6" x="1705.5" y="515.2"/></g>
<g class="k"><use href="#bn5" x="1704.4" y="515.4"/></g>
<g class="y"><use href="#bn13" x="1703.2" y="520"/></g>
<g class="m"><use href="#bn9" x="1702.1" y="516.7"/></g>
<g class="c"><use href="#bn6" x="1701" y="515.1"/></g>
<g class="g"><use href="#bn1" x="1699.8" y="520.3"/></g>
<g class="r"><use href="#bn6" x="1698.7" y="521.1"/></g>
<g class="b"><use href="#bn2" x="1697.5" y="522.5"/></g>
<g class="k"><use href="#bn5" x="1696.4" y="522.8"/></g>
<g class="y"><use href="#bn8" x="1695.3" y="522.6"/></g>
<g class="m"><use href="#bn1" x="1694.1" y="520.6"/></g>
<g class="c"><use href="#bn10" x="1693" y="522.1"/></g>
<g class="g"><use href="#bn4" x="1691.9" y="523.5"/></g>
<g class="r"><use href="#bn1" x="1690.7" y="528.2"/></g>
<g class="b"><use href="#bn0" x="1689.6" y="530.9"/></g>
<g class="k"><use href="#bn9" x="1688.5" y="528.5"/></g>
<g class="y"><use href="#bn8" x="1687.3" y="526.2"/></g>
<g class="m"><use href="#bn12" x="1686.2" y="531.2"/></g>
<g class="c"><use href="#bn1" x="1685.1" y="533.2"/></g>
<g class="g"><use href="#bn13" x="1683.9" y="528.4"/></g>
<g class="r"><use href="#bn5" x="1682.8" y="532.1"/></g>
<g class="b"><use href="#bn1" x="1681.7" y="533.6"/></g>
<g class="k"><use href="#bn6" x="1680.5" y="532.6"/><use href="#bp03" x="2251.8" y="641.9"/></g>
<g class="y"><use href="#bn3" x="1679.4" y="533.8"/><use href="#bp03" x="2250.5" y="642.7"/></g>
<g class="m"><use href="#bn7" x="1678.3" y="534.5"/><use href="#bp03" x="2248" y="643.2"/></g>
<g class="c"><use href="#bn0" x="1677.1" y="540"/><use href="#bp05" x="2244.1" y="643.6"/></g>
<g class="g"><use href="#bn12" x="1676" y="540.3"/><use href="#bp05" x="2244.7" y="644.7"/></g>
<g class="r"><use href="#bn4" x="1674.9" y="542.2"/><use href="#bp01" x="2239.5" y="644.8"/></g>
<g class="b"><use href="#bn4" x="1673.7" y="545.9"/><use href="#bp02" x="2231" y="644.2"/></g>
<g class="k"><use href="#bn10" x="1672.6" y="541.4"/><use href="#bp03" x="2235.8" y="646.2"/></g>
<g class="y"><use href="#bn5" x="1671.5" y="544.3"/><use href="#bp04" x="2221.7" y="644.6"/></g>
<g class="m"><use href="#bn11" x="1670.3" y="539.3"/><use href="#bp01" x="2222" y="645.7"/></g>
<g class="c"><use href="#bn8" x="1669.2" y="544"/><use href="#bp00" x="2224.4" y="647.2"/></g>
<g class="g"><use href="#bn4" x="1668.1" y="543.6"/><use href="#bp02" x="2208.5" y="645.2"/></g>
<g class="r"><use href="#bn6" x="1666.9" y="543.1"/><use href="#bp01" x="2211" y="646.7"/></g>
<g class="b"><use href="#bn10" x="1665.8" y="539.3"/><use href="#bp03" x="2211.8" y="647.9"/></g>
<g class="k"><use href="#bn11" x="1664.7" y="550.1"/><use href="#bp02" x="2207.8" y="648.2"/></g>
<g class="y"><use href="#bn3" x="1663.5" y="545.1"/><use href="#bp04" x="2201.2" y="648"/></g>
<g class="m"><use href="#bn7" x="1662.4" y="549.7"/><use href="#bp01" x="2200.1" y="648.9"/></g>
<g class="c"><use href="#bn10" x="1661.3" y="547.2"/><use href="#bp03" x="2201.7" y="650.2"/></g>
<g class="g"><use href="#bn12" x="1660.1" y="553"/><use href="#bp03" x="2192.9" y="649.6"/></g>
<g class="r"><use href="#bn6" x="1659" y="553.7"/><use href="#bp01" x="2187" y="649.6"/></g>
<g class="b"><use href="#bn1" x="1657.9" y="554.1"/><use href="#bp04" x="2183.1" y="649.9"/></g>
<g class="k"><use href="#bn5" x="1656.7" y="551.7"/><use href="#bp05" x="2178.5" y="650.1"/></g>
<g class="y"><use href="#bn3" x="1655.6" y="552.4"/><use href="#bp00" x="2182.2" y="651.8"/></g>
<g class="m"><use href="#bn1" x="1654.5" y="558.1"/><use href="#bp02" x="2175.5" y="651.6"/></g>
<g class="c"><use href="#bn9" x="1653.3" y="554.2"/><use href="#bp03" x="2166.9" y="651"/></g>
<g class="g"><use href="#bn13" x="1652.2" y="556.3"/><use href="#bp05" x="2168.3" y="652.3"/></g>
<g class="r"><use href="#bn10" x="1651" y="558.9"/><use href="#bp03" x="2162.5" y="652.3"/></g>
<g class="b"><use href="#bn6" x="1649.9" y="557.2"/><use href="#bp02" x="2160.9" y="653"/></g>
<g class="k"><use href="#bn12" x="1648.8" y="558.5"/><use href="#bp00" x="2157.1" y="653.4"/></g>
<g class="y"><use href="#bn13" x="1647.6" y="560.6"/><use href="#bp02" x="2159" y="654.8"/></g>
<g class="m"><use href="#bn1" x="1646.5" y="561.9"/><use href="#bp00" x="2152.4" y="654.6"/></g>
<g class="c"><use href="#bn2" x="1645.4" y="563.6"/><use href="#bp01" x="2151.8" y="655.5"/></g>
<g class="g"><use href="#bn3" x="1644.2" y="562.9"/><use href="#bp05" x="2142" y="654.7"/><use href="#bp14" x="2210.5" y="667.5"/></g>
<g class="r"><use href="#bn2" x="1643.1" y="559.8"/><use href="#bp02" x="2140.3" y="655.4"/><use href="#bp10" x="2207.9" y="668.1"/></g>
<g class="b"><use href="#bn2" x="1642" y="564.4"/><use href="#bp04" x="2139.1" y="656.2"/><use href="#bp13" x="2208.3" y="669.2"/></g>
<g class="k"><use href="#bn8" x="1640.8" y="563.3"/><use href="#bp01" x="2135.2" y="656.6"/><use href="#bp10" x="2204.2" y="669.5"/></g>
<g class="y"><use href="#bn10" x="1639.7" y="561.3"/><use href="#bp05" x="2130.8" y="656.8"/><use href="#bp13" x="2199.6" y="669.7"/></g>
<g class="m"><use href="#bn11" x="1638.6" y="562.9"/><use href="#bp03" x="2127.1" y="657.1"/><use href="#bp14" x="2194.1" y="669.7"/></g>
<g class="c"><use href="#bn3" x="1637.4" y="570.8"/><use href="#bp05" x="2119.3" y="656.7"/><use href="#bp10" x="2188.2" y="669.6"/></g>
<g class="g"><use href="#bn5" x="1636.3" y="571.3"/><use href="#bp03" x="2117.5" y="657.4"/><use href="#bp11" x="2185.2" y="670.1"/></g>
<g class="r"><use href="#bn9" x="1635.2" y="567.1"/><use href="#bp03" x="2111.3" y="657.3"/><use href="#bp14" x="2180" y="670.2"/></g>
<g class="b"><use href="#bn13" x="1634" y="570.8"/><use href="#bp03" x="2111.7" y="658.4"/><use href="#bp13" x="2180.1" y="671.2"/></g>
<g class="k"><use href="#bn4" x="1632.9" y="569.4"/><use href="#bp02" x="2112.5" y="659.6"/><use href="#bp13" x="2180.5" y="672.3"/></g>
<g class="y"><use href="#bn6" x="1631.8" y="570.7"/><use href="#bp01" x="2108.6" y="659.9"/><use href="#bp15" x="2177.2" y="672.8"/></g>
<g class="m"><use href="#bn4" x="1630.6" y="573.2"/><use href="#bp01" x="2103.8" y="660.1"/><use href="#bp11" x="2172.7" y="673"/></g>
<g class="c"><use href="#bn13" x="1629.5" y="571.9"/><use href="#bp01" x="2095.9" y="659.7"/><use href="#bp14" x="2164.1" y="672.4"/></g>
<g class="g"><use href="#bn4" x="1628.4" y="572.1"/><use href="#bp01" x="2098" y="661.1"/><use href="#bp10" x="2169" y="674.4"/></g>
<g class="r"><use href="#bn12" x="1627.2" y="575.5"/><use href="#bp02" x="2093.6" y="661.3"/><use href="#bp14" x="2162.8" y="674.3"/></g>
<g class="b"><use href="#bn8" x="1626.1" y="570"/><use href="#bp01" x="2087.9" y="661.3"/><use href="#bp13" x="2156.3" y="674.1"/></g>
<g class="k"><use href="#bn10" x="1625" y="572.7"/><use href="#bp05" x="2084.6" y="661.7"/><use href="#bp15" x="2153.4" y="674.6"/></g>
<g class="y"><use href="#bn4" x="1623.8" y="576.4"/><use href="#bp00" x="2079.5" y="661.8"/><use href="#bp15" x="2147.8" y="674.6"/></g>
<g class="m"><use href="#bn4" x="1622.7" y="574.8"/><use href="#bp05" x="2078.7" y="662.7"/><use href="#bp11" x="2148.6" y="675.8"/></g>
<g class="c"><use href="#bn7" x="1621.6" y="579.7"/><use href="#bp01" x="2073.6" y="662.8"/><use href="#bp15" x="2142.3" y="675.6"/></g>
<g class="g"><use href="#bn7" x="1620.4" y="576.6"/><use href="#bp04" x="2076.6" y="664.4"/><use href="#bp10" x="2145.6" y="677.3"/></g>
<g class="r"><use href="#bn0" x="1619.3" y="583.5"/><use href="#bp00" x="2062.4" y="662.8"/><use href="#bp10" x="2132.7" y="675.9"/></g>
<g class="b"><use href="#bn0" x="1618.2" y="581"/><use href="#bp04" x="2059.4" y="663.2"/><use href="#bp12" x="2129" y="676.3"/></g>
<g class="k"><use href="#bn6" x="1617" y="580.8"/><use href="#bp05" x="2060.7" y="664.5"/><use href="#bp11" x="2129.4" y="677.4"/></g>
<g class="y"><use href="#bn10" x="1615.9" y="582.2"/><use href="#bp05" x="2060.2" y="665.5"/><use href="#bp11" x="2129.4" y="678.4"/></g>
<g class="m"><use href="#bn2" x="1614.8" y="583.2"/><use href="#bp03" x="2053.9" y="665.4"/><use href="#bp11" x="2122.7" y="678.2"/></g>
<g class="c"><use href="#bn2" x="1613.6" y="583.3"/><use href="#bp00" x="2049.9" y="665.6"/><use href="#bp11" x="2119.3" y="678.6"/></g>
<g class="g"><use href="#bn10" x="1612.5" y="583.5"/><use href="#bp02" x="2050.6" y="666.8"/><use href="#bp13" x="2119.3" y="679.7"/></g>
<g class="r"><use href="#bn6" x="1611.4" y="582.4"/><use href="#bp03" x="2043.7" y="666.6"/><use href="#bp15" x="2113.2" y="679.6"/></g>
<g class="b"><use href="#bn12" x="1610.2" y="585.7"/><use href="#bp01" x="2042.1" y="667.3"/><use href="#bp10" x="2111.2" y="680.3"/></g>
<g class="k"><use href="#bn5" x="1609.1" y="589.7"/><use href="#bp00" x="2034.8" y="667"/><use href="#bp10" x="2103.4" y="679.8"/></g>
<g class="y"><use href="#bn2" x="1608" y="588.9"/><use href="#bp05" x="2030.9" y="667.3"/><use href="#bp11" x="2100.6" y="680.4"/></g>
<g class="m"><use href="#bn9" x="1606.8" y="585.5"/><use href="#bp00" x="2035.2" y="669.2"/><use href="#bp10" x="2104.8" y="682.2"/></g>
<g class="c"><use href="#bn13" x="1605.7" y="590.8"/><use href="#bp00" x="2029.3" y="669.1"/><use href="#bp12" x="2098.8" y="682.1"/></g>
<g class="g"><use href="#bn13" x="1604.6" y="589.1"/><use href="#bp00" x="2024.7" y="669.3"/><use href="#bp12" x="2094.1" y="682.3"/></g>
<g class="r"><use href="#bn1" x="1603.4" y="589.9"/><use href="#bp00" x="2013.8" y="668.3"/><use href="#bp14" x="2083.4" y="681.3"/></g>
<g class="b"><use href="#bn3" x="1602.3" y="595.2"/><use href="#bp00" x="2014.9" y="669.5"/><use href="#bp15" x="2082.3" y="682.2"/></g>
<g class="k"><use href="#bn11" x="1601.1" y="590.4"/><use href="#bp02" x="2010.7" y="669.8"/><use href="#bp11" x="2081" y="682.9"/></g>
<g class="y"><use href="#bn5" x="1600" y="597.5"/><use href="#bp00" x="2009.4" y="670.6"/><use href="#bp13" x="2079.3" y="683.7"/></g>
<g class="m"><use href="#bn5" x="1598.9" y="594"/><use href="#bp04" x="2008.1" y="671.4"/><use href="#bp15" x="2078.7" y="684.6"/></g>
<g class="c"><use href="#bn7" x="1597.7" y="597.1"/><use href="#bp05" x="1997.8" y="670.5"/><use href="#bp11" x="2068.1" y="683.7"/></g>
<g class="g"><use href="#bn1" x="1596.6" y="595.9"/><use href="#bp04" x="1997.3" y="671.5"/><use href="#bp12" x="2065.8" y="684.3"/></g>
<g class="r"><use href="#bn11" x="1595.5" y="596.4"/><use href="#bp01" x="1994.6" y="672"/><use href="#bp15" x="2063.2" y="684.8"/></g>
<g class="b"><use href="#bn9" x="1594.3" y="597.5"/><use href="#bp02" x="1989.1" y="672"/><use href="#bp13" x="2057.9" y="684.9"/></g>
<g class="k"><use href="#bn1" x="1593.2" y="597.3"/><use href="#bp03" x="1985.1" y="672.3"/><use href="#bp10" x="2054.3" y="685.3"/></g>
<g class="y"><use href="#bn9" x="1592.1" y="598.5"/><use href="#bp03" x="1983.7" y="673.1"/><use href="#bp15" x="2052.8" y="686"/></g>
<g class="m"><use href="#bn1" x="1590.9" y="602.5"/><use href="#bp05" x="1976.1" y="672.7"/><use href="#bp11" x="2045.2" y="685.6"/></g>
<g class="c"><use href="#bn10" x="1589.8" y="597.3"/><use href="#bp02" x="1975.1" y="673.6"/><use href="#bp12" x="2044.1" y="686.5"/></g>
<g class="g"><use href="#bn6" x="1588.7" y="599.9"/><use href="#bp00" x="1974.6" y="674.5"/><use href="#bp13" x="2042.1" y="687.1"/></g>
<g class="r"><use href="#bn1" x="1587.5" y="605.9"/><use href="#bp04" x="1973" y="675.3"/><use href="#bp13" x="2041.6" y="688.1"/></g>
<g class="b"><use href="#bn4" x="1586.4" y="602.1"/><use href="#bp03" x="1967.5" y="675.3"/><use href="#bp11" x="2036.5" y="688.2"/></g>
<g class="k"><use href="#bn2" x="1585.3" y="601.2"/><use href="#bp03" x="1957.2" y="674.4"/><use href="#bp11" x="2025.2" y="687.1"/></g>
<g class="y"><use href="#bn4" x="1584.1" y="605.4"/><use href="#bp00" x="1961.4" y="676.2"/><use href="#bp14" x="2030.6" y="689.2"/></g>
<g class="m"><use href="#bn5" x="1583" y="604.8"/><use href="#bp02" x="1955.6" y="676.2"/><use href="#bp13" x="2023.3" y="688.8"/></g>
<g class="c"><use href="#bn6" x="1581.9" y="609.4"/><use href="#bp05" x="1952.6" y="676.7"/><use href="#bp13" x="2020.4" y="689.4"/></g>
<g class="g"><use href="#bn4" x="1580.7" y="605.4"/><use href="#bp04" x="1951.7" y="677.5"/><use href="#bp14" x="2020.8" y="690.5"/></g>
<g class="r"><use href="#bn12" x="1579.6" y="607.8"/><use href="#bp00" x="1945.2" y="677.4"/><use href="#bp15" x="2014.6" y="690.3"/></g>
<g class="b"><use href="#bn2" x="1578.5" y="609.3"/><use href="#bp02" x="1945.7" y="678.5"/><use href="#bp13" x="2014.2" y="691.3"/></g>
<g class="k"><use href="#bn1" x="1577.3" y="614.1"/><use href="#bp05" x="1939.8" y="678.4"/><use href="#bp14" x="2007" y="691"/></g>
<g class="y"><use href="#bn9" x="1576.2" y="613.2"/><use href="#bp04" x="1936.4" y="678.9"/><use href="#bp13" x="2005.1" y="691.7"/></g>
<g class="m"><use href="#bn5" x="1575.1" y="613.4"/><use href="#bp02" x="1932.2" y="679.1"/><use href="#bp10" x="1999.3" y="691.7"/></g>
<g class="c"><use href="#bn6" x="1573.9" y="610.7"/><use href="#bp01" x="1925.1" y="678.8"/><use href="#bp13" x="1994" y="691.7"/></g>
<g class="g"><use href="#bn7" x="1572.8" y="614"/><use href="#bp05" x="1922" y="679.3"/><use href="#bp10" x="1991.7" y="692.3"/></g>
<g class="r"><use href="#bn11" x="1571.7" y="615.8"/><use href="#bp03" x="1925.3" y="680.9"/><use href="#bp12" x="1994.8" y="693.9"/></g>
<g class="b"><use href="#bn12" x="1570.5" y="617.9"/><use href="#bp01" x="1921.1" y="681.2"/><use href="#bp10" x="1991.5" y="694.4"/></g>
<g class="k"><use href="#bn5" x="1569.4" y="615.5"/><use href="#bp04" x="1911.6" y="680.5"/><use href="#bp14" x="1980" y="693.3"/></g>
<g class="y"><use href="#bn11" x="1568.3" y="616.4"/><use href="#bp00" x="1915.6" y="682.3"/><use href="#bp13" x="1984.6" y="695.2"/></g>
<g class="m"><use href="#bn10" x="1567.1" y="622.3"/><use href="#bp00" x="1908.5" y="682"/><use href="#bp12" x="1977.8" y="694.9"/></g>
<g class="c"><use href="#bn9" x="1566" y="623.4"/><use href="#bp05" x="1905.1" y="682.4"/><use href="#bp14" x="1974.1" y="695.3"/></g>
<g class="g"><use href="#bn9" x="1564.9" y="618.9"/><use href="#bp04" x="1898.9" y="682.3"/><use href="#bp10" x="1967.8" y="695.2"/></g>
<g class="r"><use href="#bn13" x="1563.7" y="623.4"/><use href="#bp02" x="1899.1" y="683.3"/><use href="#bp10" x="1969.6" y="696.5"/></g>
<g class="b"><use href="#bn8" x="1562.6" y="620.4"/><use href="#bp05" x="1896.8" y="684"/><use href="#bp12" x="1965.2" y="696.8"/></g>
<g class="k"><use href="#bn5" x="1561.5" y="620.5"/><use href="#bp01" x="1892.5" y="684.2"/><use href="#bp11" x="1962.4" y="697.3"/></g>
<g class="y"><use href="#bn7" x="1560.3" y="624.1"/><use href="#bp02" x="1885.2" y="683.9"/><use href="#bp12" x="1954.9" y="696.9"/></g>
<g class="m"><use href="#bn3" x="1559.2" y="626.7"/><use href="#bp04" x="1881.3" y="684.2"/><use href="#bp12" x="1949.5" y="696.9"/></g>
<g class="c"><use href="#bn0" x="1558.1" y="621.6"/><use href="#bp05" x="1875.8" y="684.2"/><use href="#bp14" x="1945.5" y="697.2"/></g>
<g class="g"><use href="#bn3" x="1556.9" y="625.1"/><use href="#bp03" x="1871.3" y="684.4"/><use href="#bp14" x="1940" y="697.3"/></g>
<g class="r"><use href="#bn1" x="1555.8" y="625.7"/><use href="#bp02" x="1870.4" y="685.3"/><use href="#bp12" x="1939.4" y="698.2"/></g>
<g class="b"><use href="#bn6" x="1554.6" y="627.6"/><use href="#bp00" x="1866.5" y="685.6"/><use href="#bp12" x="1936.1" y="698.6"/></g>
<g class="k"><use href="#bn3" x="1553.5" y="628.4"/><use href="#bp00" x="1865.7" y="686.5"/><use href="#bp14" x="1934.6" y="699.4"/></g>
<g class="y"><use href="#bn7" x="1552.4" y="632.2"/><use href="#bp00" x="1859.5" y="686.4"/><use href="#bp10" x="1929.3" y="699.4"/></g>
<g class="m"><use href="#bn5" x="1551.2" y="626.1"/><use href="#bp00" x="1862.4" y="688"/><use href="#bp13" x="1930.4" y="700.7"/></g>
<g class="c"><use href="#bn9" x="1550.1" y="630.7"/><use href="#bp02" x="1854.7" y="687.6"/><use href="#bp11" x="1923.7" y="700.5"/></g>
<g class="g"><use href="#bn0" x="1549" y="631.1"/><use href="#bp05" x="1849" y="687.5"/><use href="#bp11" x="1918.9" y="700.6"/></g>
<g class="r"><use href="#bn0" x="1547.8" y="632"/><use href="#bp00" x="1844.7" y="687.8"/><use href="#bp13" x="1913.2" y="700.6"/></g>
<g class="b"><use href="#bn9" x="1546.7" y="628.8"/><use href="#bp04" x="1843.2" y="688.5"/><use href="#bp14" x="1912.1" y="701.4"/></g>
<g class="k"><use href="#bn7" x="1545.6" y="634.8"/><use href="#bp02" x="1839.5" y="688.9"/><use href="#bp14" x="1909.8" y="702"/></g>
<g class="y"><use href="#bn12" x="1544.4" y="634.4"/><use href="#bp03" x="1835.7" y="689.2"/><use href="#bp11" x="1904.4" y="702.1"/></g>
<g class="m"><use href="#bn0" x="1543.3" y="634.5"/><use href="#bp00" x="1836.9" y="690.5"/><use href="#bp11" x="1904.3" y="703.1"/></g>
<g class="c"><use href="#bn3" x="1542.2" y="632.2"/><use href="#bp00" x="1824.3" y="689.2"/><use href="#bp14" x="1894.2" y="702.3"/></g>
<g class="g"><use href="#bn12" x="1541" y="638.7"/><use href="#bp00" x="1827.5" y="690.8"/><use href="#bp13" x="1896.5" y="703.7"/></g>
<g class="r"><use href="#bn4" x="1539.9" y="637.7"/><use href="#bp01" x="1825.8" y="691.5"/><use href="#bp11" x="1895.6" y="704.6"/></g>
<g class="b"><use href="#bn10" x="1538.8" y="640.2"/><use href="#bp03" x="1824.5" y="692.3"/><use href="#bp15" x="1891.5" y="704.9"/></g>
<g class="k"><use href="#bn1" x="1537.6" y="645.2"/><use href="#bp05" x="1812.5" y="691.1"/><use href="#bp12" x="1881" y="704"/></g>
<g class="y"><use href="#bn13" x="1536.5" y="640.8"/><use href="#bp04" x="1812.4" y="692.2"/><use href="#bp11" x="1881.7" y="705.1"/></g>
<g class="m"><use href="#bn1" x="1535.4" y="642.5"/><use href="#bp03" x="1807.4" y="692.3"/><use href="#bp12" x="1876.4" y="705.2"/></g>
<g class="c"><use href="#bn8" x="1534.2" y="643.4"/><use href="#bp02" x="1811.6" y="694.1"/><use href="#bp15" x="1881.1" y="707.1"/></g>
<g class="g"><use href="#bn12" x="1533.1" y="647.1"/><use href="#bp04" x="1806.2" y="694.1"/><use href="#bp13" x="1875.7" y="707.1"/></g>
<g class="r"><use href="#bn7" x="1532" y="644.7"/><use href="#bp02" x="1797.3" y="693.5"/><use href="#bp13" x="1866.6" y="706.5"/></g>
<g class="b"><use href="#bn9" x="1530.8" y="644.6"/><use href="#bp04" x="1794.9" y="694.1"/><use href="#bp10" x="1863.7" y="707"/></g>
<g class="k"><use href="#bn7" x="1529.7" y="647.1"/><use href="#bp02" x="1792.2" y="694.6"/><use href="#bp12" x="1861.7" y="707.7"/></g>
<g class="y"><use href="#bn6" x="1528.6" y="644.5"/><use href="#bp05" x="1792" y="695.7"/><use href="#bp15" x="1861.9" y="708.7"/></g>
<g class="m"><use href="#bn13" x="1527.4" y="648.4"/><use href="#bp03" x="1783.5" y="695.1"/><use href="#bp15" x="1852" y="707.9"/></g>
<g class="c"><use href="#bn13" x="1526.3" y="651.7"/><use href="#bp05" x="1785.6" y="696.5"/><use href="#bp12" x="1854.8" y="709.5"/></g>
<g class="g"><use href="#bn3" x="1525.2" y="650.4"/><use href="#bp02" x="1781" y="696.7"/><use href="#bp14" x="1849.8" y="709.6"/></g>
<g class="r"><use href="#bn6" x="1524" y="649.6"/><use href="#bp04" x="1772.4" y="696.2"/><use href="#bp15" x="1840.5" y="708.9"/></g>
<g class="b"><use href="#bn12" x="1522.9" y="647.6"/><use href="#bp02" x="1768.5" y="696.5"/><use href="#bp14" x="1837.4" y="709.4"/></g>
<g class="k"><use href="#bn7" x="1521.8" y="654.3"/><use href="#bp03" x="1765.5" y="696.9"/><use href="#bp14" x="1834.6" y="709.9"/></g>
<g class="y"><use href="#bn11" x="1520.6" y="650.9"/><use href="#bp01" x="1762.4" y="697.4"/><use href="#bp11" x="1831.4" y="710.3"/></g>
<g class="m"><use href="#bn11" x="1519.5" y="652.5"/><use href="#bp01" x="1762" y="698.4"/><use href="#bp11" x="1831.6" y="711.4"/></g>
<g class="c"><use href="#bn9" x="1518.4" y="658.8"/><use href="#bp01" x="1759.1" y="698.9"/><use href="#bp12" x="1827.9" y="711.8"/></g>
<g class="g"><use href="#bn8" x="1517.2" y="653.1"/><use href="#bp05" x="1751.6" y="698.5"/><use href="#bp14" x="1821.5" y="711.6"/></g>
<g class="r"><use href="#bn9" x="1516.1" y="658.7"/><use href="#bp04" x="1751.6" y="699.6"/><use href="#bp15" x="1819.2" y="712.2"/></g>
<g class="b"><use href="#bn13" x="1515" y="653.1"/><use href="#bp00" x="1751" y="700.5"/><use href="#bp11" x="1819.7" y="713.4"/></g>
<g class="k"><use href="#bn13" x="1513.8" y="655.6"/><use href="#bp01" x="1738.9" y="699.3"/><use href="#bp15" x="1807.6" y="712.1"/></g>
<g class="y"><use href="#bn10" x="1512.7" y="657.1"/><use href="#bp02" x="1737.2" y="700"/><use href="#bp11" x="1805.6" y="712.8"/></g>
<g class="m"><use href="#bn2" x="1511.6" y="660.2"/><use href="#bp03" x="1732.2" y="700.1"/><use href="#bp15" x="1802.3" y="713.2"/></g>
<g class="c"><use href="#bn12" x="1510.4" y="658.5"/><use href="#bp03" x="1732.6" y="701.2"/><use href="#bp11" x="1801.8" y="714.2"/></g>
<g class="g"><use href="#bn4" x="1509.3" y="658.3"/><use href="#bp01" x="1726" y="701"/><use href="#bp13" x="1794.5" y="713.9"/></g>
<g class="r"><use href="#bn4" x="1508.2" y="658.1"/><use href="#bp01" x="1724.3" y="701.8"/><use href="#bp11" x="1792.8" y="714.6"/></g>
<g class="b"><use href="#bn9" x="1507" y="662.3"/><use href="#bp03" x="1722.8" y="702.5"/><use href="#bp14" x="1791.4" y="715.4"/></g>
<g class="k"><use href="#bn9" x="1505.9" y="663.2"/><use href="#bp03" x="1719.6" y="703"/><use href="#bp11" x="1789.3" y="716"/></g>
<g class="y"><use href="#bn5" x="1504.7" y="665.2"/><use href="#bp04" x="1717" y="703.5"/><use href="#bp12" x="1785.6" y="716.4"/></g>
<g class="m"><use href="#bn4" x="1503.6" y="664.5"/><use href="#bp00" x="1709.2" y="703.1"/><use href="#bp10" x="1779.4" y="716.2"/></g>
<g class="c"><use href="#bn0" x="1502.5" y="665.9"/><use href="#bp02" x="1708.6" y="704.1"/><use href="#bp14" x="1778.1" y="717"/></g>
<g class="g"><use href="#bn5" x="1501.3" y="669.8"/><use href="#bp00" x="1708.6" y="705.1"/><use href="#bp12" x="1777.4" y="718"/></g>
<g class="r"><use href="#bn6" x="1500.2" y="666.3"/><use href="#bp05" x="1701.1" y="704.7"/><use href="#bp15" x="1770" y="717.6"/></g>
<g class="b"><use href="#bn5" x="1499.1" y="667.3"/><use href="#bp04" x="1698.7" y="705.3"/><use href="#bp12" x="1768.5" y="718.4"/></g>
<g class="k"><use href="#bn6" x="1497.9" y="673.3"/><use href="#bp02" x="1703.1" y="707.2"/><use href="#bp15" x="1772" y="720.1"/></g>
<g class="y"><use href="#bn8" x="1496.8" y="669"/><use href="#bp00" x="1690.5" y="705.9"/><use href="#bp11" x="1760.2" y="718.9"/></g>
<g class="m"><use href="#bn2" x="1495.7" y="672.1"/><use href="#bp04" x="1689.8" y="706.8"/><use href="#bp13" x="1758.6" y="719.7"/></g>
<g class="c"><use href="#bn13" x="1494.5" y="668.7"/><use href="#bp02" x="1680.2" y="706"/><use href="#bp11" x="1748.5" y="718.8"/></g>
<g class="g"><use href="#bn4" x="1493.4" y="671.6"/><use href="#bp00" x="1677.1" y="706.5"/><use href="#bp12" x="1746" y="719.4"/></g>
<g class="r"><use href="#bn5" x="1492.3" y="673.8"/><use href="#bp05" x="1674.9" y="707.1"/><use href="#bp12" x="1744.5" y="720.2"/></g>
<g class="b"><use href="#bn5" x="1491.1" y="677.2"/><use href="#bp03" x="1676.9" y="708.5"/><use href="#bp13" x="1745.6" y="721.4"/></g>
<g class="k"><use href="#bn10" x="1490" y="676.4"/><use href="#bp04" x="1671.7" y="708.6"/><use href="#bp12" x="1739.3" y="721.3"/></g>
<g class="y"><use href="#bn4" x="1488.9" y="678.1"/><use href="#bp05" x="1663" y="708"/><use href="#bp12" x="1731.8" y="720.9"/></g>
<g class="m"><use href="#bn10" x="1487.7" y="679"/><use href="#bp03" x="1664.6" y="709.4"/><use href="#bp14" x="1734" y="722.4"/></g>
<g class="c"><use href="#bn4" x="1486.6" y="681.6"/><use href="#bp02" x="1663.1" y="710.1"/><use href="#bp10" x="1731.4" y="722.9"/></g>
<g class="g"><use href="#bn12" x="1485.5" y="678.9"/><use href="#bp03" x="1657.8" y="710.2"/><use href="#bp15" x="1727.2" y="723.2"/></g>
<g class="r"><use href="#bn5" x="1484.3" y="680.1"/><use href="#bp01" x="1648.2" y="709.4"/><use href="#bp15" x="1717.5" y="722.4"/></g>
<g class="b"><use href="#bn9" x="1483.2" y="677.5"/><use href="#bp01" x="1648.8" y="710.6"/><use href="#bp10" x="1717.8" y="723.5"/></g>
</g>
<g stroke="#1a1a1a" stroke-width="3.7" fill="none" stroke-linejoin="miter" stroke-linecap="butt">
<polyline points="1483.2,273 1772.4,61 2347.3,168.6 2347.3,596"/>
<polyline points="1483.2,273 1483.2,700.4 2058.1,808 2347.3,596"/>
<line x1="1483.2" y1="700.4" x2="1468.7" y2="711"/>
<line x1="1598.2" y1="721.9" x2="1583.7" y2="732.6"/>
<line x1="1713.2" y1="743.4" x2="1698.6" y2="754.1"/>
<line x1="1828.1" y1="765" x2="1813.6" y2="775.6"/>
<line x1="1943.1" y1="786.5" x2="1928.6" y2="797.1"/>
<line x1="2058.1" y1="808" x2="2043.6" y2="818.6"/>
<line x1="2058.1" y1="808" x2="2075.8" y2="811.3"/>
<line x1="2114.8" y1="766.4" x2="2132.5" y2="769.7"/>
<line x1="2171.5" y1="724.9" x2="2189.2" y2="728.2"/>
<line x1="2228.2" y1="683.3" x2="2245.9" y2="686.6"/>
<line x1="2284.9" y1="641.7" x2="2302.6" y2="645"/>
<line x1="2341.6" y1="600.2" x2="2359.3" y2="603.5"/>
<line x1="1483.2" y1="679.6" x2="1465.5" y2="676.3"/>
<line x1="1483.2" y1="600.9" x2="1465.5" y2="597.6"/>
<line x1="1483.2" y1="522.2" x2="1465.5" y2="518.8"/>
<line x1="1483.2" y1="443.4" x2="1465.5" y2="440.1"/>
<line x1="1483.2" y1="364.7" x2="1465.5" y2="361.4"/>
<line x1="1483.2" y1="286" x2="1465.5" y2="282.7"/>
</g>
</g>
<g id="panel-d">
<g stroke="#000" stroke-opacity=".15" stroke-width="3" fill="none">
<line x1="1535.5" y1="1602.3" x2="1535.5" y2="1125.3"/>
<line x1="1535.5" y1="1602.3" x2="2117" y2="1690.2"/>
<line x1="1591.2" y1="1567" x2="1591.2" y2="1090"/>
<line x1="1591.2" y1="1567" x2="2172.7" y2="1654.9"/>
<line x1="1646.9" y1="1531.7" x2="1646.9" y2="1054.7"/>
<line x1="1646.9" y1="1531.7" x2="2228.4" y2="1619.6"/>
<line x1="1702.5" y1="1496.4" x2="1702.5" y2="1019.4"/>
<line x1="1702.5" y1="1496.4" x2="2284" y2="1584.3"/>
<line x1="1758.2" y1="1461.1" x2="1758.2" y2="984.1"/>
<line x1="1758.2" y1="1461.1" x2="2339.7" y2="1549"/>
<line x1="1880.1" y1="1475.2" x2="1880.1" y2="998.2"/>
<line x1="1596.1" y1="1655.2" x2="1880.1" y2="1475.2"/>
<line x1="1996.4" y1="1492.8" x2="1996.4" y2="1015.8"/>
<line x1="1712.4" y1="1672.8" x2="1996.4" y2="1492.8"/>
<line x1="2112.7" y1="1510.3" x2="2112.7" y2="1033.3"/>
<line x1="1828.7" y1="1690.3" x2="2112.7" y2="1510.3"/>
<line x1="2229" y1="1527.9" x2="2229" y2="1050.9"/>
<line x1="1945" y1="1707.9" x2="2229" y2="1527.9"/>
<line x1="1479.8" y1="1614" x2="1763.8" y2="1434"/>
<line x1="1763.8" y1="1434" x2="2345.3" y2="1521.9"/>
<line x1="1479.8" y1="1525.9" x2="1763.8" y2="1345.9"/>
<line x1="1763.8" y1="1345.9" x2="2345.3" y2="1433.8"/>
<line x1="1479.8" y1="1437.8" x2="1763.8" y2="1257.8"/>
<line x1="1763.8" y1="1257.8" x2="2345.3" y2="1345.7"/>
<line x1="1479.8" y1="1349.7" x2="1763.8" y2="1169.7"/>
<line x1="1763.8" y1="1169.7" x2="2345.3" y2="1257.6"/>
<line x1="1479.8" y1="1261.6" x2="1763.8" y2="1081.6"/>
<line x1="1763.8" y1="1081.6" x2="2345.3" y2="1169.5"/>
<line x1="1479.8" y1="1173.5" x2="1763.8" y2="993.5"/>
<line x1="1763.8" y1="993.5" x2="2345.3" y2="1081.4"/>
</g>
<g stroke="#1a1a1a" stroke-width="3.7" fill="none" stroke-linejoin="miter" stroke-linecap="square">
<polyline points="1763.8,980.6 1763.8,1457.6"/>
<polyline points="1479.8,1637.6 1763.8,1457.6 2345.3,1545.5"/>
</g>
<g fill="none" stroke-width="2.6" stroke-linejoin="round">
<g class="m"><use href="#dn9" x="1763.8" y="1433.4"/></g>
<g class="g"><use href="#dn6" x="1762.7" y="1435.4"/></g>
<g class="c"><use href="#dn4" x="1761.6" y="1439.7"/></g>
<g class="k"><use href="#dn11" x="1760.5" y="1433.7"/></g>
<g class="c"><use href="#dn13" x="1759.3" y="1439.2"/></g>
<g class="r"><use href="#dn4" x="1758.2" y="1437.2"/></g>
<g class="m"><use href="#dn4" x="1757.1" y="1432.9"/></g>
<g class="b"><use href="#dn5" x="1756" y="1438.3"/></g>
<g class="y"><use href="#dn11" x="1754.9" y="1440.3"/></g>
<g class="c"><use href="#dn11" x="1753.8" y="1440.3"/></g>
<g class="r"><use href="#dn7" x="1752.7" y="1445.1"/></g>
<g class="b"><use href="#dn6" x="1751.5" y="1441"/></g>
<g class="m"><use href="#dn1" x="1750.4" y="1445.8"/></g>
<g class="g"><use href="#dn9" x="1749.3" y="1442.3"/></g>
<g class="c"><use href="#dn7" x="1748.2" y="1445"/></g>
<g class="k"><use href="#dn13" x="1747.1" y="1446.9"/></g>
<g class="c"><use href="#dn3" x="1746" y="1444"/></g>
<g class="y"><use href="#dn6" x="1744.9" y="1442.9"/></g>
<g class="m"><use href="#dn5" x="1743.8" y="1447.5"/></g>
<g class="b"><use href="#dn1" x="1742.6" y="1443.1"/></g>
<g class="g"><use href="#dn12" x="1741.5" y="1449.2"/></g>
<g class="c"><use href="#dn7" x="1740.4" y="1451.7"/></g>
<g class="r"><use href="#dn11" x="1739.3" y="1448.6"/></g>
<g class="b"><use href="#dn4" x="1738.2" y="1447.2"/></g>
<g class="m"><use href="#dn11" x="1737.1" y="1447.4"/></g>
<g class="g"><use href="#dn7" x="1736" y="1450.3"/></g>
<g class="c"><use href="#dn8" x="1734.8" y="1444.8"/></g>
<g class="k"><use href="#dn1" x="1733.7" y="1453.1"/></g>
<g class="c"><use href="#dn10" x="1732.6" y="1450.3"/></g>
<g class="r"><use href="#dn2" x="1731.5" y="1455"/></g>
<g class="m"><use href="#dn5" x="1730.4" y="1454.1"/></g>
<g class="b"><use href="#dn1" x="1729.3" y="1454.6"/></g>
<g class="g"><use href="#dn1" x="1728.2" y="1458"/></g>
<g class="c"><use href="#dn12" x="1727" y="1459.7"/></g>
<g class="r"><use href="#dn4" x="1725.9" y="1459.5"/></g>
<g class="b"><use href="#dn7" x="1724.8" y="1459.8"/></g>
<g class="m"><use href="#dn9" x="1723.7" y="1457.9"/></g>
<g class="g"><use href="#dn1" x="1722.6" y="1460.2"/></g>
<g class="c"><use href="#dn1" x="1721.5" y="1463.9"/></g>
<g class="k"><use href="#dn1" x="1720.4" y="1465.1"/></g>
<g class="c"><use href="#dn2" x="1719.3" y="1465.9"/></g>
<g class="r"><use href="#dn0" x="1718.1" y="1464.7"/></g>
<g class="m"><use href="#dn10" x="1717" y="1461.4"/></g>
<g class="b"><use href="#dn7" x="1715.9" y="1465.6"/></g>
<g class="g"><use href="#dn9" x="1714.8" y="1461.5"/></g>
<g class="c"><use href="#dn4" x="1713.7" y="1470.5"/></g>
<g class="r"><use href="#dn0" x="1712.6" y="1467.6"/></g>
<g class="b"><use href="#dn9" x="1711.5" y="1470.4"/></g>
<g class="m"><use href="#dn9" x="1710.3" y="1465.1"/></g>
<g class="g"><use href="#dn11" x="1709.2" y="1469"/></g>
<g class="c"><use href="#dn4" x="1708.1" y="1469.2"/></g>
<g class="y"><use href="#dn13" x="1707" y="1474.2"/></g>
<g class="c"><use href="#dn6" x="1705.9" y="1469.5"/></g>
<g class="r"><use href="#dn2" x="1704.8" y="1467.3"/></g>
<g class="m"><use href="#dn10" x="1703.7" y="1467.1"/></g>
<g class="b"><use href="#dn7" x="1702.5" y="1474"/></g>
<g class="g"><use href="#dn0" x="1701.4" y="1479.2"/></g>
<g class="c"><use href="#dn10" x="1700.3" y="1477.6"/></g>
<g class="r"><use href="#dn13" x="1699.2" y="1475.6"/></g>
<g class="b"><use href="#dn3" x="1698.1" y="1475.5"/></g>
<g class="m"><use href="#dn8" x="1697" y="1476.2"/></g>
<g class="g"><use href="#dn11" x="1695.9" y="1476.4"/></g>
<g class="c"><use href="#dn7" x="1694.7" y="1475.2"/></g>
<g class="k"><use href="#dn4" x="1693.6" y="1476.1"/></g>
<g class="c"><use href="#dn5" x="1692.5" y="1478.3"/></g>
<g class="r"><use href="#dn8" x="1691.4" y="1477.7"/></g>
<g class="m"><use href="#dn12" x="1690.3" y="1484.8"/></g>
<g class="b"><use href="#dn0" x="1689.2" y="1478.8"/></g>
<g class="g"><use href="#dn10" x="1688.1" y="1480.7"/></g>
<g class="c"><use href="#dn5" x="1687" y="1481.7"/></g>
<g class="r"><use href="#dn11" x="1685.8" y="1480.4"/></g>
<g class="b"><use href="#dn12" x="1684.7" y="1483.1"/></g>
<g class="m"><use href="#dn7" x="1683.6" y="1486.7"/></g>
<g class="g"><use href="#dn13" x="1682.5" y="1485.2"/></g>
<g class="c"><use href="#dn11" x="1681.4" y="1489.7"/><use href="#dp05" x="1848.9" y="1511.6"/></g>
<g class="y"><use href="#dn7" x="1680.3" y="1489.5"/><use href="#dp04" x="1847.7" y="1512.3"/></g>
<g class="y"><use href="#dn1" x="1679.2" y="1484.1"/><use href="#dp03" x="1846.6" y="1513"/></g>
<g class="r"><use href="#dn7" x="1678" y="1485.5"/><use href="#dp04" x="1845.5" y="1513.7"/></g>
<g class="m"><use href="#dn3" x="1676.9" y="1486"/><use href="#dp03" x="1844.4" y="1514.4"/></g>
<g class="b"><use href="#dn0" x="1675.8" y="1489.2"/><use href="#dp04" x="1843.3" y="1515.1"/></g>
<g class="g"><use href="#dn3" x="1674.7" y="1488.9"/><use href="#dp04" x="1842.2" y="1515.8"/></g>
<g class="c"><use href="#dn4" x="1673.6" y="1491.1"/><use href="#dp02" x="1841.1" y="1516.5"/></g>
<g class="r"><use href="#dn7" x="1672.5" y="1495.3"/><use href="#dp02" x="1839.9" y="1517.2"/></g>
<g class="b"><use href="#dn11" x="1671.4" y="1489"/><use href="#dp05" x="1838.8" y="1517.9"/></g>
<g class="m"><use href="#dn13" x="1670.2" y="1493.7"/><use href="#dp04" x="1837.7" y="1518.6"/></g>
<g class="g"><use href="#dn6" x="1669.1" y="1490.7"/><use href="#dp00" x="1836.6" y="1519.3"/></g>
<g class="c"><use href="#dn2" x="1668" y="1489.1"/><use href="#dp02" x="1835.5" y="1520"/></g>
<g class="k"><use href="#dn7" x="1666.9" y="1496.6"/><use href="#dp04" x="1834.4" y="1520.7"/></g>
<g class="c"><use href="#dn5" x="1665.8" y="1496.4"/><use href="#dp00" x="1833.3" y="1521.4"/></g>
<g class="r"><use href="#dn0" x="1664.7" y="1496.8"/><use href="#dp05" x="1832.2" y="1522.1"/></g>
<g class="m"><use href="#dn0" x="1663.6" y="1498.9"/><use href="#dp05" x="1831" y="1522.8"/></g>
<g class="b"><use href="#dn8" x="1662.5" y="1493.6"/><use href="#dp03" x="1829.9" y="1523.6"/></g>
<g class="g"><use href="#dn5" x="1661.3" y="1497.6"/><use href="#dp03" x="1828.8" y="1524.3"/></g>
<g class="c"><use href="#dn12" x="1660.2" y="1500.7"/><use href="#dp00" x="1827.7" y="1525"/></g>
<g class="r"><use href="#dn4" x="1659.1" y="1496.5"/><use href="#dp05" x="1826.6" y="1525.7"/></g>
<g class="y"><use href="#dn5" x="1658" y="1501.1"/><use href="#dp00" x="1825.5" y="1526.4"/></g>
<g class="m"><use href="#dn11" x="1656.9" y="1501.6"/><use href="#dp02" x="1824.4" y="1527.1"/></g>
<g class="g"><use href="#dn1" x="1655.8" y="1507.4"/><use href="#dp04" x="1823.2" y="1527.8"/></g>
<g class="c"><use href="#dn9" x="1654.7" y="1503.5"/><use href="#dp05" x="1822.1" y="1528.5"/></g>
<g class="y"><use href="#dn1" x="1653.5" y="1504"/><use href="#dp01" x="1821" y="1529.2"/></g>
<g class="c"><use href="#dn0" x="1652.4" y="1512.2"/><use href="#dp00" x="1819.9" y="1529.9"/></g>
<g class="r"><use href="#dn2" x="1651.3" y="1505.4"/><use href="#dp00" x="1818.8" y="1530.6"/></g>
<g class="m"><use href="#dn6" x="1650.2" y="1508.5"/><use href="#dp02" x="1817.7" y="1531.3"/></g>
<g class="b"><use href="#dn10" x="1649.1" y="1508.2"/><use href="#dp05" x="1816.6" y="1532"/></g>
<g class="g"><use href="#dn9" x="1648" y="1506.5"/><use href="#dp01" x="1815.4" y="1532.7"/></g>
<g class="c"><use href="#dn4" x="1646.9" y="1504.2"/><use href="#dp05" x="1814.3" y="1533.4"/></g>
<g class="r"><use href="#dn8" x="1645.7" y="1505.2"/><use href="#dp05" x="1813.2" y="1534.1"/><use href="#dp13" x="1883" y="1544.7"/></g>
<g class="b"><use href="#dn13" x="1644.6" y="1510.2"/><use href="#dp05" x="1812.1" y="1534.8"/><use href="#dp14" x="1881.9" y="1545.4"/></g>
<g class="m"><use href="#dn11" x="1643.5" y="1508.4"/><use href="#dp05" x="1811" y="1535.6"/><use href="#dp14" x="1880.8" y="1546.1"/></g>
<g class="g"><use href="#dn0" x="1642.4" y="1509.9"/><use href="#dp04" x="1809.9" y="1536.3"/><use href="#dp14" x="1879.7" y="1546.8"/></g>
<g class="c"><use href="#dn7" x="1641.3" y="1508.1"/><use href="#dp01" x="1808.8" y="1537"/><use href="#dp13" x="1878.5" y="1547.5"/></g>
<g class="k"><use href="#dn4" x="1640.2" y="1509.1"/><use href="#dp03" x="1807.6" y="1537.7"/><use href="#dp12" x="1877.4" y="1548.2"/></g>
<g class="c"><use href="#dn6" x="1639.1" y="1518.2"/><use href="#dp05" x="1806.5" y="1538.4"/><use href="#dp14" x="1876.3" y="1548.9"/></g>
<g class="r"><use href="#dn5" x="1637.9" y="1513"/><use href="#dp05" x="1805.4" y="1539.1"/><use href="#dp11" x="1875.2" y="1549.6"/></g>
<g class="m"><use href="#dn10" x="1636.8" y="1515.4"/><use href="#dp03" x="1804.3" y="1539.8"/><use href="#dp11" x="1874.1" y="1550.3"/></g>
<g class="b"><use href="#dn4" x="1635.7" y="1515.2"/><use href="#dp02" x="1803.2" y="1540.5"/><use href="#dp10" x="1873" y="1551"/></g>
<g class="g"><use href="#dn5" x="1634.6" y="1517.5"/><use href="#dp03" x="1802.1" y="1541.2"/><use href="#dp12" x="1871.9" y="1551.7"/></g>
<g class="c"><use href="#dn10" x="1633.5" y="1516.6"/><use href="#dp05" x="1801" y="1541.9"/><use href="#dp12" x="1870.7" y="1552.5"/></g>
<g class="r"><use href="#dn1" x="1632.4" y="1515.2"/><use href="#dp01" x="1799.9" y="1542.6"/><use href="#dp12" x="1869.6" y="1553.2"/></g>
<g class="b"><use href="#dn11" x="1631.3" y="1518.3"/><use href="#dp00" x="1798.7" y="1543.3"/><use href="#dp11" x="1868.5" y="1553.9"/></g>
<g class="m"><use href="#dn8" x="1630.2" y="1520.3"/><use href="#dp00" x="1797.6" y="1544"/><use href="#dp12" x="1867.4" y="1554.6"/></g>
<g class="y"><use href="#dn7" x="1629" y="1520.9"/><use href="#dp04" x="1796.5" y="1544.7"/><use href="#dp11" x="1866.3" y="1555.3"/></g>
<g class="c"><use href="#dn1" x="1627.9" y="1526.7"/><use href="#dp04" x="1795.4" y="1545.4"/><use href="#dp12" x="1865.2" y="1556"/></g>
<g class="k"><use href="#dn5" x="1626.8" y="1515.6"/><use href="#dp03" x="1794.3" y="1546.1"/><use href="#dp10" x="1864.1" y="1556.7"/></g>
<g class="c"><use href="#dn1" x="1625.7" y="1516.2"/><use href="#dp01" x="1793.2" y="1546.8"/><use href="#dp11" x="1863" y="1557.4"/></g>
<g class="y"><use href="#dn2" x="1624.6" y="1518.7"/><use href="#dp04" x="1792.1" y="1547.6"/><use href="#dp11" x="1861.8" y="1558.1"/></g>
<g class="y"><use href="#dn4" x="1623.5" y="1523"/><use href="#dp05" x="1790.9" y="1548.3"/><use href="#dp14" x="1860.7" y="1558.8"/></g>
<g class="b"><use href="#dn11" x="1622.4" y="1520.8"/><use href="#dp03" x="1789.8" y="1549"/><use href="#dp11" x="1859.6" y="1559.5"/></g>
<g class="g"><use href="#dn6" x="1621.2" y="1522.2"/><use href="#dp03" x="1788.7" y="1549.7"/><use href="#dp11" x="1858.5" y="1560.2"/></g>
<g class="c"><use href="#dn2" x="1620.1" y="1524.8"/><use href="#dp02" x="1787.6" y="1550.4"/><use href="#dp11" x="1857.4" y="1560.9"/></g>
<g class="r"><use href="#dn12" x="1619" y="1524.2"/><use href="#dp00" x="1786.5" y="1551.1"/><use href="#dp15" x="1856.3" y="1561.6"/></g>
<g class="b"><use href="#dn3" x="1617.9" y="1526.9"/><use href="#dp01" x="1785.4" y="1551.8"/><use href="#dp14" x="1855.2" y="1562.3"/></g>
<g class="m"><use href="#dn3" x="1616.8" y="1527.2"/><use href="#dp00" x="1784.3" y="1552.5"/><use href="#dp13" x="1854" y="1563"/></g>
<g class="g"><use href="#dn8" x="1615.7" y="1526.9"/><use href="#dp00" x="1783.1" y="1553.2"/><use href="#dp13" x="1852.9" y="1563.7"/></g>
<g class="c"><use href="#dn11" x="1614.6" y="1524"/><use href="#dp00" x="1782" y="1553.9"/><use href="#dp10" x="1851.8" y="1564.5"/></g>
<g class="k"><use href="#dn0" x="1613.4" y="1529.6"/><use href="#dp04" x="1780.9" y="1554.6"/><use href="#dp10" x="1850.7" y="1565.2"/></g>
<g class="c"><use href="#dn11" x="1612.3" y="1531.8"/><use href="#dp05" x="1779.8" y="1555.3"/><use href="#dp11" x="1849.6" y="1565.9"/></g>
<g class="r"><use href="#dn6" x="1611.2" y="1526"/><use href="#dp01" x="1778.7" y="1556"/><use href="#dp12" x="1848.5" y="1566.6"/></g>
<g class="m"><use href="#dn0" x="1610.1" y="1533.4"/><use href="#dp01" x="1777.6" y="1556.7"/><use href="#dp14" x="1847.4" y="1567.3"/></g>
<g class="b"><use href="#dn1" x="1609" y="1534.7"/><use href="#dp04" x="1776.5" y="1557.4"/><use href="#dp15" x="1846.2" y="1568"/></g>
<g class="g"><use href="#dn0" x="1607.9" y="1533.1"/><use href="#dp05" x="1775.4" y="1558.1"/><use href="#dp11" x="1845.1" y="1568.7"/></g>
<g class="c"><use href="#dn9" x="1606.8" y="1534"/><use href="#dp03" x="1774.2" y="1558.8"/><use href="#dp14" x="1844" y="1569.4"/></g>
<g class="r"><use href="#dn3" x="1605.7" y="1532.2"/><use href="#dp00" x="1773.1" y="1559.6"/><use href="#dp12" x="1842.9" y="1570.1"/></g>
<g class="y"><use href="#dn3" x="1604.5" y="1540.3"/><use href="#dp03" x="1772" y="1560.3"/><use href="#dp10" x="1841.8" y="1570.8"/></g>
<g class="m"><use href="#dn2" x="1603.4" y="1533.7"/><use href="#dp03" x="1770.9" y="1561"/><use href="#dp12" x="1840.7" y="1571.5"/></g>
<g class="g"><use href="#dn10" x="1602.3" y="1536.7"/><use href="#dp01" x="1769.8" y="1561.7"/><use href="#dp13" x="1839.6" y="1572.2"/></g>
<g class="c"><use href="#dn4" x="1601.2" y="1541"/><use href="#dp03" x="1768.7" y="1562.4"/><use href="#dp15" x="1838.4" y="1572.9"/></g>
<g class="k"><use href="#dn13" x="1600.1" y="1539.3"/><use href="#dp02" x="1767.6" y="1563.1"/><use href="#dp15" x="1837.3" y="1573.6"/></g>
<g class="c"><use href="#dn2" x="1599" y="1535"/><use href="#dp03" x="1766.4" y="1563.8"/><use href="#dp14" x="1836.2" y="1574.3"/></g>
<g class="r"><use href="#dn1" x="1597.9" y="1540"/><use href="#dp00" x="1765.3" y="1564.5"/><use href="#dp10" x="1835.1" y="1575"/></g>
<g class="m"><use href="#dn13" x="1596.7" y="1534.8"/><use href="#dp04" x="1764.2" y="1565.2"/><use href="#dp14" x="1834" y="1575.7"/></g>
<g class="b"><use href="#dn3" x="1595.6" y="1540.9"/><use href="#dp01" x="1763.1" y="1565.9"/><use href="#dp13" x="1832.9" y="1576.5"/></g>
<g class="g"><use href="#dn13" x="1594.5" y="1541.7"/><use href="#dp04" x="1762" y="1566.6"/><use href="#dp12" x="1831.8" y="1577.2"/></g>
<g class="c"><use href="#dn4" x="1593.4" y="1545.6"/><use href="#dp02" x="1760.9" y="1567.3"/><use href="#dp11" x="1830.7" y="1577.9"/></g>
<g class="r"><use href="#dn6" x="1592.3" y="1545.9"/><use href="#dp02" x="1759.8" y="1568"/><use href="#dp10" x="1829.5" y="1578.6"/></g>
<g class="b"><use href="#dn9" x="1591.2" y="1540.7"/><use href="#dp00" x="1758.6" y="1568.7"/><use href="#dp10" x="1828.4" y="1579.3"/></g>
<g class="m"><use href="#dn0" x="1590.1" y="1547"/><use href="#dp04" x="1757.5" y="1569.4"/><use href="#dp12" x="1827.3" y="1580"/></g>
<g class="g"><use href="#dn8" x="1588.9" y="1542"/><use href="#dp03" x="1756.4" y="1570.1"/><use href="#dp15" x="1826.2" y="1580.7"/></g>
<g class="c"><use href="#dn6" x="1587.8" y="1546.9"/><use href="#dp04" x="1755.3" y="1570.8"/><use href="#dp10" x="1825.1" y="1581.4"/></g>
<g class="k"><use href="#dn12" x="1586.7" y="1546.1"/><use href="#dp05" x="1754.2" y="1571.6"/><use href="#dp11" x="1824" y="1582.1"/></g>
<g class="c"><use href="#dn11" x="1585.6" y="1545.7"/><use href="#dp05" x="1753.1" y="1572.3"/><use href="#dp14" x="1822.9" y="1582.8"/></g>
<g class="r"><use href="#dn0" x="1584.5" y="1550.1"/><use href="#dp04" x="1752" y="1573"/><use href="#dp12" x="1821.7" y="1583.5"/></g>
<g class="m"><use href="#dn12" x="1583.4" y="1545.4"/><use href="#dp05" x="1750.8" y="1573.7"/><use href="#dp14" x="1820.6" y="1584.2"/></g>
<g class="b"><use href="#dn0" x="1582.3" y="1551.9"/><use href="#dp04" x="1749.7" y="1574.4"/><use href="#dp10" x="1819.5" y="1584.9"/></g>
<g class="g"><use href="#dn3" x="1581.1" y="1550"/><use href="#dp04" x="1748.6" y="1575.1"/><use href="#dp10" x="1818.4" y="1585.6"/></g>
<g class="c"><use href="#dn9" x="1580" y="1548.2"/><use href="#dp05" x="1747.5" y="1575.8"/><use href="#dp11" x="1817.3" y="1586.3"/></g>
<g class="r"><use href="#dn9" x="1578.9" y="1548.5"/><use href="#dp01" x="1746.4" y="1576.5"/><use href="#dp12" x="1816.2" y="1587"/></g>
<g class="y"><use href="#dn11" x="1577.8" y="1552.4"/><use href="#dp05" x="1745.3" y="1577.2"/><use href="#dp13" x="1815.1" y="1587.7"/></g>
<g class="m"><use href="#dn3" x="1576.7" y="1548.2"/><use href="#dp04" x="1744.2" y="1577.9"/><use href="#dp12" x="1813.9" y="1588.5"/></g>
<g class="g"><use href="#dn8" x="1575.6" y="1554.4"/><use href="#dp02" x="1743.1" y="1578.6"/><use href="#dp10" x="1812.8" y="1589.2"/></g>
<g class="c"><use href="#dn6" x="1574.5" y="1555"/><use href="#dp03" x="1741.9" y="1579.3"/><use href="#dp15" x="1811.7" y="1589.9"/></g>
<g class="k"><use href="#dn5" x="1573.4" y="1555.8"/><use href="#dp00" x="1740.8" y="1580"/><use href="#dp15" x="1810.6" y="1590.6"/></g>
<g class="c"><use href="#dn13" x="1572.2" y="1555.6"/><use href="#dp04" x="1739.7" y="1580.7"/><use href="#dp11" x="1809.5" y="1591.3"/></g>
<g class="r"><use href="#dn2" x="1571.1" y="1556.2"/><use href="#dp05" x="1738.6" y="1581.4"/><use href="#dp14" x="1808.4" y="1592"/></g>
<g class="m"><use href="#dn2" x="1570" y="1558"/><use href="#dp00" x="1737.5" y="1582.1"/><use href="#dp10" x="1807.3" y="1592.7"/></g>
<g class="b"><use href="#dn13" x="1568.9" y="1553.5"/><use href="#dp00" x="1736.4" y="1582.8"/><use href="#dp13" x="1806.2" y="1593.4"/></g>
<g class="g"><use href="#dn7" x="1567.8" y="1554.4"/><use href="#dp04" x="1735.3" y="1583.6"/><use href="#dp13" x="1805" y="1594.1"/></g>
<g class="c"><use href="#dn9" x="1566.7" y="1558.8"/><use href="#dp01" x="1734.1" y="1584.3"/><use href="#dp10" x="1803.9" y="1594.8"/></g>
<g class="r"><use href="#dn7" x="1565.6" y="1560.4"/><use href="#dp03" x="1733" y="1585"/><use href="#dp13" x="1802.8" y="1595.5"/></g>
<g class="b"><use href="#dn13" x="1564.4" y="1559.2"/><use href="#dp03" x="1731.9" y="1585.7"/><use href="#dp13" x="1801.7" y="1596.2"/></g>
<g class="m"><use href="#dn12" x="1563.3" y="1562.6"/><use href="#dp03" x="1730.8" y="1586.4"/><use href="#dp13" x="1800.6" y="1596.9"/></g>
<g class="g"><use href="#dn11" x="1562.2" y="1563.9"/><use href="#dp05" x="1729.7" y="1587.1"/><use href="#dp14" x="1799.5" y="1597.6"/></g>
<g class="c"><use href="#dn8" x="1561.1" y="1567.2"/><use href="#dp02" x="1728.6" y="1587.8"/><use href="#dp10" x="1798.4" y="1598.3"/></g>
<g class="k"><use href="#dn8" x="1560" y="1566.1"/><use href="#dp04" x="1727.5" y="1588.5"/><use href="#dp12" x="1797.2" y="1599"/></g>
<g class="c"><use href="#dn4" x="1558.9" y="1559"/><use href="#dp05" x="1726.3" y="1589.2"/><use href="#dp11" x="1796.1" y="1599.7"/></g>
<g class="r"><use href="#dn11" x="1557.8" y="1565.7"/><use href="#dp05" x="1725.2" y="1589.9"/><use href="#dp14" x="1795" y="1600.5"/></g>
<g class="m"><use href="#dn8" x="1556.6" y="1566.7"/><use href="#dp00" x="1724.1" y="1590.6"/><use href="#dp11" x="1793.9" y="1601.2"/></g>
<g class="b"><use href="#dn9" x="1555.5" y="1571.9"/><use href="#dp01" x="1723" y="1591.3"/><use href="#dp10" x="1792.8" y="1601.9"/></g>
<g class="g"><use href="#dn11" x="1554.4" y="1568.8"/><use href="#dp03" x="1721.9" y="1592"/><use href="#dp15" x="1791.7" y="1602.6"/></g>
<g class="c"><use href="#dn1" x="1553.3" y="1567.5"/><use href="#dp05" x="1720.8" y="1592.7"/><use href="#dp14" x="1790.6" y="1603.3"/></g>
<g class="r"><use href="#dn3" x="1552.2" y="1563.5"/><use href="#dp01" x="1719.7" y="1593.4"/><use href="#dp14" x="1789.4" y="1604"/></g>
<g class="b"><use href="#dn2" x="1551.1" y="1575.2"/><use href="#dp02" x="1718.6" y="1594.1"/><use href="#dp14" x="1788.3" y="1604.7"/></g>
<g class="m"><use href="#dn8" x="1550" y="1569.8"/><use href="#dp02" x="1717.4" y="1594.8"/><use href="#dp11" x="1787.2" y="1605.4"/></g>
<g class="g"><use href="#dn12" x="1548.9" y="1569.5"/><use href="#dp00" x="1716.3" y="1595.6"/><use href="#dp13" x="1786.1" y="1606.1"/></g>
<g class="c"><use href="#dn7" x="1547.7" y="1566.2"/><use href="#dp00" x="1715.2" y="1596.3"/><use href="#dp14" x="1785" y="1606.8"/></g>
<g class="k"><use href="#dn2" x="1546.6" y="1575.8"/><use href="#dp03" x="1714.1" y="1597"/><use href="#dp12" x="1783.9" y="1607.5"/></g>
<g class="c"><use href="#dn1" x="1545.5" y="1571.8"/><use href="#dp05" x="1713" y="1597.7"/><use href="#dp12" x="1782.8" y="1608.2"/></g>
<g class="r"><use href="#dn11" x="1544.4" y="1573.3"/><use href="#dp02" x="1711.9" y="1598.4"/><use href="#dp15" x="1781.6" y="1608.9"/></g>
<g class="m"><use href="#dn3" x="1543.3" y="1577.1"/><use href="#dp05" x="1710.8" y="1599.1"/><use href="#dp13" x="1780.5" y="1609.6"/></g>
<g class="b"><use href="#dn6" x="1542.2" y="1574.7"/><use href="#dp01" x="1709.6" y="1599.8"/><use href="#dp11" x="1779.4" y="1610.3"/></g>
<g class="g"><use href="#dn1" x="1541.1" y="1573.4"/><use href="#dp01" x="1708.5" y="1600.5"/><use href="#dp12" x="1778.3" y="1611"/></g>
<g class="c"><use href="#dn12" x="1539.9" y="1575.6"/><use href="#dp03" x="1707.4" y="1601.2"/><use href="#dp11" x="1777.2" y="1611.7"/></g>
<g class="r"><use href="#dn13" x="1538.8" y="1576"/><use href="#dp01" x="1706.3" y="1601.9"/><use href="#dp15" x="1776.1" y="1612.5"/></g>
<g class="b"><use href="#dn7" x="1537.7" y="1578.7"/><use href="#dp01" x="1705.2" y="1602.6"/><use href="#dp11" x="1775" y="1613.2"/></g>
<g class="m"><use href="#dn8" x="1536.6" y="1576"/><use href="#dp04" x="1704.1" y="1603.3"/><use href="#dp11" x="1773.9" y="1613.9"/></g>
<g class="g"><use href="#dn10" x="1535.5" y="1576.6"/><use href="#dp03" x="1703" y="1604"/><use href="#dp14" x="1772.7" y="1614.6"/></g>
<g class="c"><use href="#dn2" x="1534.4" y="1578.5"/><use href="#dp00" x="1701.8" y="1604.7"/><use href="#dp11" x="1771.6" y="1615.3"/></g>
<g class="y"><use href="#dn8" x="1533.3" y="1578"/><use href="#dp05" x="1700.7" y="1605.4"/><use href="#dp10" x="1770.5" y="1616"/></g>
<g class="c"><use href="#dn10" x="1532.1" y="1578.6"/><use href="#dp05" x="1699.6" y="1606.1"/><use href="#dp14" x="1769.4" y="1616.7"/></g>
<g class="r"><use href="#dn12" x="1531" y="1582.2"/><use href="#dp00" x="1698.5" y="1606.8"/><use href="#dp13" x="1768.3" y="1617.4"/></g>
<g class="m"><use href="#dn6" x="1529.9" y="1583.9"/><use href="#dp02" x="1697.4" y="1607.6"/><use href="#dp11" x="1767.2" y="1618.1"/></g>
<g class="b"><use href="#dn0" x="1528.8" y="1585.7"/><use href="#dp02" x="1696.3" y="1608.3"/><use href="#dp10" x="1766.1" y="1618.8"/></g>
<g class="g"><use href="#dn9" x="1527.7" y="1584.3"/><use href="#dp03" x="1695.2" y="1609"/><use href="#dp12" x="1764.9" y="1619.5"/></g>
<g class="c"><use href="#dn5" x="1526.6" y="1584.8"/><use href="#dp04" x="1694" y="1609.7"/><use href="#dp15" x="1763.8" y="1620.2"/></g>
<g class="r"><use href="#dn11" x="1525.5" y="1584.7"/><use href="#dp01" x="1692.9" y="1610.4"/><use href="#dp13" x="1762.7" y="1620.9"/></g>
<g class="b"><use href="#dn4" x="1524.3" y="1588.6"/><use href="#dp02" x="1691.8" y="1611.1"/><use href="#dp11" x="1761.6" y="1621.6"/></g>
<g class="m"><use href="#dn3" x="1523.2" y="1582.7"/><use href="#dp01" x="1690.7" y="1611.8"/><use href="#dp13" x="1760.5" y="1622.3"/></g>
<g class="g"><use href="#dn12" x="1522.1" y="1590.6"/><use href="#dp03" x="1689.6" y="1612.5"/><use href="#dp14" x="1759.4" y="1623"/></g>
<g class="c"><use href="#dn6" x="1521" y="1583.9"/><use href="#dp02" x="1688.5" y="1613.2"/><use href="#dp12" x="1758.3" y="1623.7"/></g>
<g class="k"><use href="#dn10" x="1519.9" y="1595.8"/><use href="#dp03" x="1687.4" y="1613.9"/><use href="#dp13" x="1757.1" y="1624.5"/></g>
<g class="c"><use href="#dn5" x="1518.8" y="1593.6"/><use href="#dp04" x="1686.3" y="1614.6"/><use href="#dp14" x="1756" y="1625.2"/></g>
<g class="r"><use href="#dn6" x="1517.7" y="1591.6"/><use href="#dp05" x="1685.1" y="1615.3"/><use href="#dp12" x="1754.9" y="1625.9"/></g>
<g class="m"><use href="#dn6" x="1516.6" y="1590.7"/><use href="#dp03" x="1684" y="1616"/><use href="#dp11" x="1753.8" y="1626.6"/></g>
<g class="b"><use href="#dn11" x="1515.4" y="1591"/><use href="#dp01" x="1682.9" y="1616.7"/><use href="#dp15" x="1752.7" y="1627.3"/></g>
<g class="y"><use href="#dn12" x="1514.3" y="1594.5"/><use href="#dp02" x="1681.8" y="1617.4"/><use href="#dp14" x="1751.6" y="1628"/></g>
<g class="c"><use href="#dn6" x="1513.2" y="1592.3"/><use href="#dp03" x="1680.7" y="1618.1"/><use href="#dp11" x="1750.5" y="1628.7"/></g>
<g class="y"><use href="#dn13" x="1512.1" y="1591.8"/><use href="#dp05" x="1679.6" y="1618.8"/><use href="#dp12" x="1749.4" y="1629.4"/></g>
<g class="b"><use href="#dn1" x="1511" y="1594.7"/><use href="#dp03" x="1678.5" y="1619.6"/><use href="#dp15" x="1748.2" y="1630.1"/></g>
<g class="m"><use href="#dn12" x="1509.9" y="1588.5"/><use href="#dp05" x="1677.3" y="1620.3"/><use href="#dp14" x="1747.1" y="1630.8"/></g>
<g class="g"><use href="#dn4" x="1508.8" y="1595.9"/><use href="#dp01" x="1676.2" y="1621"/><use href="#dp10" x="1746" y="1631.5"/></g>
<g class="c"><use href="#dn9" x="1507.6" y="1594.8"/><use href="#dp05" x="1675.1" y="1621.7"/><use href="#dp11" x="1744.9" y="1632.2"/></g>
<g class="k"><use href="#dn13" x="1506.5" y="1594.2"/><use href="#dp00" x="1674" y="1622.4"/><use href="#dp15" x="1743.8" y="1632.9"/></g>
<g class="c"><use href="#dn12" x="1505.4" y="1594.8"/><use href="#dp03" x="1672.9" y="1623.1"/><use href="#dp10" x="1742.7" y="1633.6"/></g>
<g class="r"><use href="#dn6" x="1504.3" y="1597.2"/><use href="#dp00" x="1671.8" y="1623.8"/><use href="#dp12" x="1741.6" y="1634.3"/></g>
<g class="m"><use href="#dn3" x="1503.2" y="1602.8"/><use href="#dp00" x="1670.7" y="1624.5"/><use href="#dp14" x="1740.4" y="1635"/></g>
<g class="b"><use href="#dn8" x="1502.1" y="1600.6"/><use href="#dp00" x="1669.5" y="1625.2"/><use href="#dp12" x="1739.3" y="1635.7"/></g>
<g class="g"><use href="#dn2" x="1501" y="1604.6"/><use href="#dp05" x="1668.4" y="1625.9"/><use href="#dp15" x="1738.2" y="1636.5"/></g>
<g class="c"><use href="#dn3" x="1499.8" y="1603.4"/><use href="#dp05" x="1667.3" y="1626.6"/><use href="#dp13" x="1737.1" y="1637.2"/></g>
<g class="r"><use href="#dn1" x="1498.7" y="1596.2"/><use href="#dp03" x="1666.2" y="1627.3"/><use href="#dp15" x="1736" y="1637.9"/></g>
<g class="b"><use href="#dn0" x="1497.6" y="1604.7"/><use href="#dp05" x="1665.1" y="1628"/><use href="#dp14" x="1734.9" y="1638.6"/></g>
<g class="m"><use href="#dn2" x="1496.5" y="1601.1"/><use href="#dp05" x="1664" y="1628.7"/><use href="#dp12" x="1733.8" y="1639.3"/></g>
<g class="g"><use href="#dn8" x="1495.4" y="1601.7"/><use href="#dp00" x="1662.9" y="1629.4"/><use href="#dp10" x="1732.6" y="1640"/></g>
<g class="c"><use href="#dn13" x="1494.3" y="1601.5"/><use href="#dp02" x="1661.8" y="1630.1"/><use href="#dp14" x="1731.5" y="1640.7"/></g>
<g class="k"><use href="#dn2" x="1493.2" y="1605.8"/><use href="#dp00" x="1660.6" y="1630.8"/><use href="#dp14" x="1730.4" y="1641.4"/></g>
<g class="c"><use href="#dn6" x="1492.1" y="1606.9"/><use href="#dp00" x="1659.5" y="1631.6"/><use href="#dp12" x="1729.3" y="1642.1"/></g>
<g class="r"><use href="#dn4" x="1490.9" y="1609.7"/><use href="#dp03" x="1658.4" y="1632.3"/><use href="#dp14" x="1728.2" y="1642.8"/></g>
<g class="m"><use href="#dn7" x="1489.8" y="1604.5"/><use href="#dp03" x="1657.3" y="1633"/><use href="#dp11" x="1727.1" y="1643.5"/></g>
<g class="y"><use href="#dn6" x="1488.7" y="1605.7"/><use href="#dp03" x="1656.2" y="1633.7"/><use href="#dp12" x="1726" y="1644.2"/></g>
<g class="y"><use href="#dn3" x="1487.6" y="1606.4"/><use href="#dp00" x="1655.1" y="1634.4"/><use href="#dp14" x="1724.8" y="1644.9"/></g>
<g class="c"><use href="#dn11" x="1486.5" y="1605.6"/><use href="#dp05" x="1654" y="1635.1"/><use href="#dp11" x="1723.7" y="1645.6"/></g>
<g class="r"><use href="#dn4" x="1485.4" y="1610.2"/><use href="#dp04" x="1652.8" y="1635.8"/><use href="#dp13" x="1722.6" y="1646.3"/></g>
<g class="b"><use href="#dn12" x="1484.3" y="1611"/><use href="#dp03" x="1651.7" y="1636.5"/><use href="#dp10" x="1721.5" y="1647"/></g>
<g class="m"><use href="#dn10" x="1483.1" y="1612.4"/><use href="#dp04" x="1650.6" y="1637.2"/><use href="#dp14" x="1720.4" y="1647.7"/></g>
<g class="g"><use href="#dn0" x="1482" y="1615.2"/><use href="#dp01" x="1649.5" y="1637.9"/><use href="#dp10" x="1719.3" y="1648.5"/></g>
<g class="c"><use href="#dn0" x="1480.9" y="1618.4"/><use href="#dp02" x="1648.4" y="1638.6"/><use href="#dp11" x="1718.2" y="1649.2"/></g>
<g class="k"><use href="#dn13" x="1479.8" y="1613.7"/><use href="#dp01" x="1647.3" y="1639.3"/><use href="#dp10" x="1717.1" y="1649.9"/></g>
</g>
<g stroke="#1a1a1a" stroke-width="3.7" fill="none" stroke-linejoin="miter" stroke-linecap="butt">
<polyline points="1479.8,1160.6 1763.8,980.6 2345.3,1068.5 2345.3,1545.5"/>
<polyline points="1479.8,1160.6 1479.8,1637.6 2061.3,1725.5 2345.3,1545.5"/>
<line x1="1479.8" y1="1637.6" x2="1464.6" y2="1647.2"/>
<line x1="1596.1" y1="1655.2" x2="1580.9" y2="1664.8"/>
<line x1="1712.4" y1="1672.8" x2="1697.2" y2="1682.4"/>
<line x1="1828.7" y1="1690.3" x2="1813.5" y2="1700"/>
<line x1="1945" y1="1707.9" x2="1929.8" y2="1717.6"/>
<line x1="2061.3" y1="1725.5" x2="2046.1" y2="1735.1"/>
<line x1="2061.3" y1="1725.5" x2="2079.1" y2="1728.2"/>
<line x1="2117" y1="1690.2" x2="2134.8" y2="1692.9"/>
<line x1="2172.7" y1="1654.9" x2="2190.5" y2="1657.6"/>
<line x1="2228.4" y1="1619.6" x2="2246.2" y2="1622.3"/>
<line x1="2284" y1="1584.3" x2="2301.8" y2="1587"/>
<line x1="2339.7" y1="1549" x2="2357.5" y2="1551.7"/>
<line x1="1479.8" y1="1614" x2="1462" y2="1611.3"/>
<line x1="1479.8" y1="1525.9" x2="1462" y2="1523.2"/>
<line x1="1479.8" y1="1437.8" x2="1462" y2="1435.1"/>
<line x1="1479.8" y1="1349.7" x2="1462" y2="1347"/>
<line x1="1479.8" y1="1261.6" x2="1462" y2="1258.9"/>
<line x1="1479.8" y1="1173.5" x2="1462" y2="1170.8"/>
</g>
</g>
<g font-family="'Liberation Sans',Arial,Helvetica,sans-serif" font-weight="bold" font-size="30.5" fill="#1a1a1a">
<text transform="translate(273.2 756.8) scale(0.93 1)" text-anchor="end">0</text>
<text transform="translate(378.7 772.4) scale(0.93 1)" text-anchor="end">5</text>
<text transform="translate(484.3 788.1) scale(0.93 1)" text-anchor="end">10</text>
<text transform="translate(589.8 803.7) scale(0.93 1)" text-anchor="end">15</text>
<text transform="translate(695.3 819.3) scale(0.93 1)" text-anchor="end">20</text>
<text transform="translate(800.9 834.9) scale(0.93 1)" text-anchor="end">25</text>
<text transform="translate(847.1 827.5) scale(0.93 1)" text-anchor="start">0</text>
<text transform="translate(902.9 799.1) scale(0.93 1)" text-anchor="start">50</text>
<text transform="translate(958.7 770.7) scale(0.93 1)" text-anchor="start">100</text>
<text transform="translate(1014.5 742.2) scale(0.93 1)" text-anchor="start">150</text>
<text transform="translate(1070.3 713.8) scale(0.93 1)" text-anchor="start">200</text>
<text transform="translate(1126.1 685.4) scale(0.93 1)" text-anchor="start">250</text>
<text transform="translate(271.7 693.3) scale(0.93 1)" text-anchor="end">0</text>
<text transform="translate(271.7 618.6) scale(0.93 1)" text-anchor="end">1000</text>
<text transform="translate(271.7 543.9) scale(0.93 1)" text-anchor="end">2000</text>
<text transform="translate(271.7 469.2) scale(0.93 1)" text-anchor="end">3000</text>
<text transform="translate(271.7 394.5) scale(0.93 1)" text-anchor="end">4000</text>
<text transform="translate(271.7 319.8) scale(0.93 1)" text-anchor="end">5000</text>
<text transform="translate(271.7 245.1) scale(0.93 1)" text-anchor="end">6000</text>
</g>
<g font-family="'Liberation Sans',Arial,Helvetica,sans-serif" font-weight="bold" font-size="32" fill="#1a1a1a">
<text transform="translate(1461.2 750.9) scale(0.93 1)" text-anchor="end">0</text>
<text transform="translate(1576.2 772.4) scale(0.93 1)" text-anchor="end">5</text>
<text transform="translate(1691.2 793.9) scale(0.93 1)" text-anchor="end">10</text>
<text transform="translate(1806.2 815.4) scale(0.93 1)" text-anchor="end">15</text>
<text transform="translate(1921.2 836.9) scale(0.93 1)" text-anchor="end">20</text>
<text transform="translate(2036.1 858.5) scale(0.93 1)" text-anchor="end">25</text>
<text transform="translate(2081.8 848.8) scale(0.93 1)" text-anchor="start">0</text>
<text transform="translate(2138.5 807.2) scale(0.93 1)" text-anchor="start">50</text>
<text transform="translate(2195.2 765.6) scale(0.93 1)" text-anchor="start">100</text>
<text transform="translate(2251.9 724.1) scale(0.93 1)" text-anchor="start">150</text>
<text transform="translate(2308.6 682.5) scale(0.93 1)" text-anchor="start">200</text>
<text transform="translate(2365.3 640.9) scale(0.93 1)" text-anchor="start">250</text>
<text transform="translate(1458.2 691.1) scale(0.93 1)" text-anchor="end">0</text>
<text transform="translate(1458.2 612.3) scale(0.93 1)" text-anchor="end">200</text>
<text transform="translate(1458.2 533.6) scale(0.93 1)" text-anchor="end">400</text>
<text transform="translate(1458.2 454.9) scale(0.93 1)" text-anchor="end">600</text>
<text transform="translate(1458.2 376.2) scale(0.93 1)" text-anchor="end">800</text>
<text transform="translate(1458.2 297.5) scale(0.93 1)" text-anchor="end">1000</text>
</g>
<g font-family="'Liberation Sans',Arial,Helvetica,sans-serif" font-weight="bold" font-size="32" fill="#1a1a1a">
<text transform="translate(1457.8 1688.1) scale(0.93 1)" text-anchor="end">0</text>
<text transform="translate(1574.1 1705.6) scale(0.93 1)" text-anchor="end">5</text>
<text transform="translate(1690.4 1723.2) scale(0.93 1)" text-anchor="end">10</text>
<text transform="translate(1806.7 1740.8) scale(0.93 1)" text-anchor="end">15</text>
<text transform="translate(1923 1758.4) scale(0.93 1)" text-anchor="end">20</text>
<text transform="translate(2039.3 1776) scale(0.93 1)" text-anchor="end">25</text>
<text transform="translate(2085 1766.3) scale(0.93 1)" text-anchor="start">0</text>
<text transform="translate(2140.6 1731) scale(0.93 1)" text-anchor="start">50</text>
<text transform="translate(2196.3 1695.7) scale(0.93 1)" text-anchor="start">100</text>
<text transform="translate(2252 1660.4) scale(0.93 1)" text-anchor="start">150</text>
<text transform="translate(2307.7 1625.1) scale(0.93 1)" text-anchor="start">200</text>
<text transform="translate(2363.4 1589.8) scale(0.93 1)" text-anchor="start">250</text>
<text transform="translate(1454.1 1625.5) scale(0.93 1)" text-anchor="end">0</text>
<text transform="translate(1454.1 1537.4) scale(0.93 1)" text-anchor="end">200</text>
<text transform="translate(1454.1 1449.3) scale(0.93 1)" text-anchor="end">400</text>
<text transform="translate(1454.1 1361.2) scale(0.93 1)" text-anchor="end">600</text>
<text transform="translate(1454.1 1273.1) scale(0.93 1)" text-anchor="end">800</text>
<text transform="translate(1454.1 1185) scale(0.93 1)" text-anchor="end">1000</text>
</g>
<text transform="translate(36.5 134)" font-family="'Liberation Serif','Times New Roman',Times,serif" font-weight="bold" font-size="67" text-anchor="start" fill="#1a1a1a">(a)</text>
<text transform="translate(1194.5 134)" font-family="'Liberation Serif','Times New Roman',Times,serif" font-weight="bold" font-size="67" text-anchor="start" fill="#1a1a1a">(b)</text>
<text transform="translate(51 1039)" font-family="'Liberation Serif','Times New Roman',Times,serif" font-weight="bold" font-size="67" text-anchor="start" fill="#1a1a1a">(c)</text>
<text transform="translate(1194.5 1039)" font-family="'Liberation Serif','Times New Roman',Times,serif" font-weight="bold" font-size="67" text-anchor="start" fill="#1a1a1a">(d)</text>
<text transform="translate(510.6 874.5) scale(0.955 1)" font-family="'Liberation Sans',Arial,Helvetica,sans-serif" font-weight="bold" font-size="48" text-anchor="middle" fill="#1a1a1a">Time(ms)</text>
<text transform="translate(1057.6 858) scale(0.955 1)" font-family="'Liberation Sans',Arial,Helvetica,sans-serif" font-weight="bold" font-size="48" text-anchor="middle" fill="#1a1a1a">Frame</text>
<text transform="translate(191.3 474.4) scale(0.954 1) rotate(-90)" font-family="'Liberation Sans',Arial,Helvetica,sans-serif" font-weight="bold" font-size="49.5" text-anchor="middle" fill="#1a1a1a">Intensity(a.u.)</text>
<text transform="translate(1720 893) scale(0.953 1)" font-family="'Liberation Sans',Arial,Helvetica,sans-serif" font-weight="bold" font-size="51" text-anchor="middle" fill="#1a1a1a">Time(ms)</text>
<text transform="translate(2304.3 866.8) scale(0.955 1)" font-family="'Liberation Sans',Arial,Helvetica,sans-serif" font-weight="bold" font-size="51" text-anchor="middle" fill="#1a1a1a">Frame</text>
<text transform="translate(1371 487.6) scale(0.9 1) rotate(-90)" font-family="'Liberation Sans',Arial,Helvetica,sans-serif" font-weight="bold" font-size="53" text-anchor="middle" fill="#1a1a1a">Intensity(a.u.)</text>
<text transform="translate(1722 1815.5) scale(0.955 1)" font-family="'Liberation Sans',Arial,Helvetica,sans-serif" font-weight="bold" font-size="51" text-anchor="middle" fill="#1a1a1a">Time(ms)</text>
<text transform="translate(2305.8 1791.3) scale(0.95 1)" font-family="'Liberation Sans',Arial,Helvetica,sans-serif" font-weight="bold" font-size="51" text-anchor="middle" fill="#1a1a1a">Frame</text>
<text transform="translate(1369.2 1400.4) scale(0.965 1) rotate(-90)" font-family="'Liberation Sans',Arial,Helvetica,sans-serif" font-weight="bold" font-size="52.4" text-anchor="middle" fill="#1a1a1a">Intensity(a.u.)</text>
<g stroke="#1a1a1a" stroke-width="7.3" fill="none" stroke-linecap="butt">
<polyline points="316.6,1016.5 316.6,1643 1062.7,1643" stroke-linejoin="miter"/>
<line x1="465.1" y1="1643" x2="465.1" y2="1630"/>
<line x1="316.6" y1="1519.4" x2="327.6" y2="1519.4"/>
<line x1="613.6" y1="1643" x2="613.6" y2="1630"/>
<line x1="316.6" y1="1395.8" x2="327.6" y2="1395.8"/>
<line x1="762" y1="1643" x2="762" y2="1630"/>
<line x1="316.6" y1="1272.1" x2="327.6" y2="1272.1"/>
<line x1="910.5" y1="1643" x2="910.5" y2="1630"/>
<line x1="316.6" y1="1148.5" x2="327.6" y2="1148.5"/>
<line x1="1059" y1="1643" x2="1059" y2="1630"/>
<line x1="316.6" y1="1024.9" x2="327.6" y2="1024.9"/>
</g>
<path d="M316.6 1643.0l192.2 0 1.1-.1 1.1 0 1-.3 1.1-.4 1-1 1.1-1.9 1.1-3.8 1-6.7 1.1-11.4 1.1-18.3 1-27.8 1.1-39.6 1-53.2 1.1-66.7 1.1-77.9 1-84 1.1-82.5 1.1-71.7 1-51.9 1.1-24.8 1 5.8 1.1 35.7 1.1 60.3 1 76.9 1.1 84.1 1.1 82.5 1 74.1 1.1 61.7 1 48 1.1 34.9 1.1 24 1 15.4 1.1 9.4 1 5.4 1.1 2.9 1.1 1.6 1 .7 1.1.3 1.1.2 1 .1 49.9 0 1.1-.1 1.1-.2 1-.4 1.1-.9 1.1-1.8 1-3.5 1.1-6.3 1-10.7 1.1-16.6 1.1-24.2 1-32.5 1.1-40.3 1-45.4 1.1-46.1 1.1-40.7 1-29.2 1.1-12.9 1.1 5.8 1 23.4 1.1 37 1 44.8 1.1 46.3 1.1 42.6 1 35.7 1.1 27.3 1.1 19.4 1 12.8 1.1 7.8 1 4.4 1.1 2.4 1.1 1.2 1 .5 1.1.2 1.1.1 1 .1 420.6 0" fill="none" stroke="#00f" stroke-width="8.3" stroke-linejoin="round"/>
<text transform="translate(316.6 1707) scale(0.885 1)" font-family="'Liberation Sans',Arial,Helvetica,sans-serif" font-weight="bold" font-size="48.5" text-anchor="middle" fill="#1a1a1a">0</text>
<text transform="translate(301.1 1663.5) scale(0.885 1)" font-family="'Liberation Sans',Arial,Helvetica,sans-serif" font-weight="bold" font-size="48.5" text-anchor="end" fill="#1a1a1a">0</text>
<text transform="translate(465.1 1707) scale(0.885 1)" font-family="'Liberation Sans',Arial,Helvetica,sans-serif" font-weight="bold" font-size="48.5" text-anchor="middle" fill="#1a1a1a">5</text>
<text transform="translate(301.1 1539.9) scale(0.885 1)" font-family="'Liberation Sans',Arial,Helvetica,sans-serif" font-weight="bold" font-size="48.5" text-anchor="end" fill="#1a1a1a">200</text>
<text transform="translate(613.6 1707) scale(0.885 1)" font-family="'Liberation Sans',Arial,Helvetica,sans-serif" font-weight="bold" font-size="48.5" text-anchor="middle" fill="#1a1a1a">10</text>
<text transform="translate(301.1 1416.3) scale(0.885 1)" font-family="'Liberation Sans',Arial,Helvetica,sans-serif" font-weight="bold" font-size="48.5" text-anchor="end" fill="#1a1a1a">400</text>
<text transform="translate(762 1707) scale(0.885 1)" font-family="'Liberation Sans',Arial,Helvetica,sans-serif" font-weight="bold" font-size="48.5" text-anchor="middle" fill="#1a1a1a">15</text>
<text transform="translate(301.1 1292.6) scale(0.885 1)" font-family="'Liberation Sans',Arial,Helvetica,sans-serif" font-weight="bold" font-size="48.5" text-anchor="end" fill="#1a1a1a">600</text>
<text transform="translate(910.5 1707) scale(0.885 1)" font-family="'Liberation Sans',Arial,Helvetica,sans-serif" font-weight="bold" font-size="48.5" text-anchor="middle" fill="#1a1a1a">20</text>
<text transform="translate(301.1 1169) scale(0.885 1)" font-family="'Liberation Sans',Arial,Helvetica,sans-serif" font-weight="bold" font-size="48.5" text-anchor="end" fill="#1a1a1a">800</text>
<text transform="translate(1059 1707) scale(0.885 1)" font-family="'Liberation Sans',Arial,Helvetica,sans-serif" font-weight="bold" font-size="48.5" text-anchor="middle" fill="#1a1a1a">25</text>
<text transform="translate(301.1 1045.4) scale(0.885 1)" font-family="'Liberation Sans',Arial,Helvetica,sans-serif" font-weight="bold" font-size="48.5" text-anchor="end" fill="#1a1a1a">1000</text>
<text transform="translate(688.3 1768) scale(0.93 1)" font-family="'Liberation Sans',Arial,Helvetica,sans-serif" font-weight="bold" font-size="46" text-anchor="middle" fill="#1a1a1a">Time(ms)</text>
<text transform="translate(190.7 1332.4) scale(0.966 1) rotate(-90)" font-family="'Liberation Sans',Arial,Helvetica,sans-serif" font-weight="bold" font-size="47.4" text-anchor="middle" fill="#1a1a1a">Intensity(a.u.)</text>
<polygon fill="#808080" points="1117.2,408.6 1271.2,408.6 1271.2,383 1318.5,433.6 1271.2,485 1271.2,458.2 1117.2,458.2"/>
<polygon fill="#808080" points="2343.1,887 2399.3,887 2399.3,1004.3 2428.3,1004.3 2371.2,1065.4 2314,1004.3 2343.1,1004.3"/>
<polygon fill="#808080" points="1271.9,1328.8 1119.1,1328.8 1119.1,1302.8 1071.7,1353.7 1119.1,1404.6 1119.1,1379 1271.9,1379"/>
</svg></body></html>
